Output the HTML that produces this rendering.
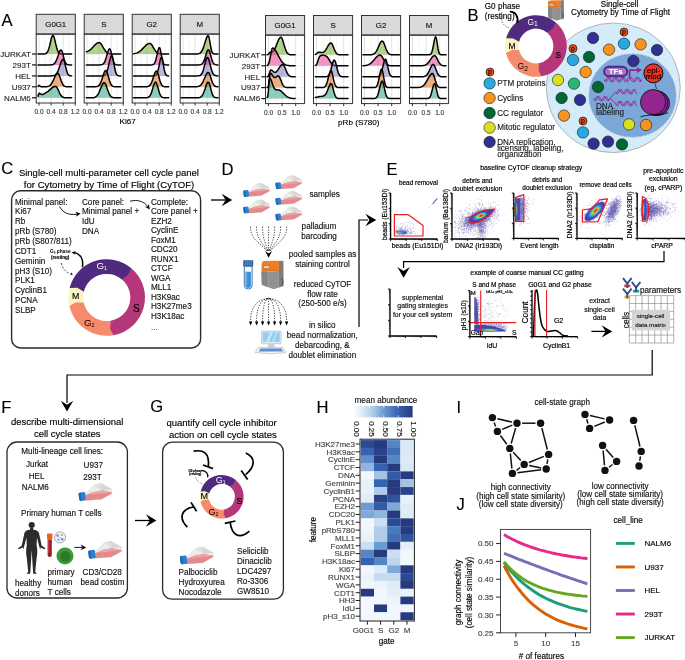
<!DOCTYPE html>
<html><head><meta charset="utf-8"><title>Figure</title>
<style>
html,body{margin:0;padding:0;background:#fff;}
svg{display:block;}
svg text{font-family:'Liberation Sans', sans-serif;}
</style></head><body>
<svg width="685" height="660" viewBox="0 0 685 660">
<defs>
<filter id="b2" x="-40%" y="-40%" width="180%" height="180%"><feGaussianBlur stdDeviation="1.6"/></filter>
<linearGradient id="hm" x1="0" x2="1" y1="0" y2="0"><stop offset="0" stop-color="#f7fbff"/><stop offset="0.15" stop-color="#d9e8f5"/><stop offset="0.35" stop-color="#a3c3e3"/><stop offset="0.5" stop-color="#6a9bd3"/><stop offset="0.75" stop-color="#3563b0"/><stop offset="1" stop-color="#263a80"/></linearGradient>
<filter id="b1" x="-20%" y="-20%" width="140%" height="140%"><feGaussianBlur stdDeviation="0.45"/></filter>
<symbol id="cytof" viewBox="0 0 16.4 20.8">
  <path d="M12.6,0.5 L15.6,0 L16.2,0.6 L16.4,18.4 L12.9,19.5 Z" fill="#7d7d7d"/>
  <path d="M0.5,1.8 Q0.7,0.5 2.4,0.4 L12.2,0.2 L12.9,0.7 L12.9,7.7 L0.3,8.3 Z" fill="#f07d23"/>
  <path d="M2.4,0.4 L12.2,0.2 L15.6,0 L6,0.1 Z" fill="#f7a866"/>
  <path d="M0.3,8.3 L12.9,7.7 L12.9,19.5 L9.2,20.8 L0.6,17.6 Z" fill="#919191"/>
  <path d="M0.3,8.3 L4.4,8.1 L4.6,19.1 L0.6,17.6 Z" fill="#858585"/>
  <path d="M5.6,8.05 L5.8,19.5" stroke="#a6a6a6" stroke-width="0.4" fill="none"/>
  <rect x="1.7" y="3.8" width="4.2" height="1.9" fill="#d9d9d9" stroke="#8a5a2c" stroke-width="0.3"/>
  <path d="M0.8,7.4 L12.6,6.9" stroke="#d96a17" stroke-width="0.5" fill="none"/>
  <path d="M14.6,13 C16,13.6 16.2,16.6 14.8,17.6" stroke="#222" stroke-width="0.45" fill="none"/>
</symbol>
<symbol id="flask" viewBox="0 0 27.3 14.3">
  <path d="M5.6,9.2 L13.1,1.7 L18.4,0.2 L27,5 L27.1,8.3 L19,12.9 L6,13.9 Z" fill="#ececec" stroke="#d2d2d2" stroke-width="0.35"/>
  <path d="M13.1,1.7 L18.4,0.2 L27,5 L19.2,6 Z" fill="#e0e0e0"/>
  <path d="M18.4,0.2 L19.2,6 L27,5 Z" fill="#d6d6d6"/>
  <path d="M6.2,9.8 L12,7.4 L19.2,6 L27,7.4 L27.1,8.3 L19,12.9 L6,13.9 Z" fill="#e58a8c"/>
  <path d="M12,7.4 L19.2,6 L27,7.4 L19.4,8.4 L9,9.4 Z" fill="#eea3a4"/>
  <path d="M0.7,9.2 Q0.3,8 1.5,7.7 L4.6,7.2 Q5.8,7.1 6,8.3 L6.5,12.6 Q6.6,13.8 5.4,14 L2.6,14.3 Q1.4,14.3 1.2,13.2 Z" fill="#2f80cc"/>
  <path d="M0.7,9.2 Q0.3,8 1.5,7.7 L2.4,7.55 L3.4,14.2 L2.6,14.3 Q1.4,14.3 1.2,13.2 Z" fill="#2268b0"/>
</symbol>
</defs>
<rect width="685" height="660" fill="#fff"/>
<g id="panelA">
<text x="1.40" y="25.70" font-size="16.6" text-anchor="start" fill="#000" stroke="#000" stroke-width="0.14">A</text>
<rect x="36.2" y="34.1" width="39.1" height="68.9" fill="#fff"/>
<line x1="45.04" y1="34.1" x2="45.04" y2="103.0" stroke="#ececec" stroke-width="0.6"/>
<line x1="57.12" y1="34.1" x2="57.12" y2="103.0" stroke="#ececec" stroke-width="0.6"/>
<line x1="69.20" y1="34.1" x2="69.20" y2="103.0" stroke="#ececec" stroke-width="0.6"/>
<line x1="39.00" y1="34.1" x2="39.00" y2="103.0" stroke="#e0e0e0" stroke-width="0.9"/>
<line x1="51.08" y1="34.1" x2="51.08" y2="103.0" stroke="#e0e0e0" stroke-width="0.9"/>
<line x1="63.16" y1="34.1" x2="63.16" y2="103.0" stroke="#e0e0e0" stroke-width="0.9"/>
<line x1="75.24" y1="34.1" x2="75.24" y2="103.0" stroke="#e0e0e0" stroke-width="0.9"/>
<line x1="36.2" y1="54" x2="75.30000000000001" y2="54" stroke="#ebebeb" stroke-width="0.8"/>
<line x1="36.2" y1="64.9" x2="75.30000000000001" y2="64.9" stroke="#ebebeb" stroke-width="0.8"/>
<line x1="36.2" y1="75.9" x2="75.30000000000001" y2="75.9" stroke="#ebebeb" stroke-width="0.8"/>
<line x1="36.2" y1="86.8" x2="75.30000000000001" y2="86.8" stroke="#ebebeb" stroke-width="0.8"/>
<line x1="36.2" y1="97.8" x2="75.30000000000001" y2="97.8" stroke="#ebebeb" stroke-width="0.8"/>
<polygon points="38.0,54 38.0,54.00 38.8,54.00 39.7,54.00 40.5,54.00 41.4,54.00 42.2,54.00 43.0,53.99 43.9,53.96 44.7,53.88 45.6,53.69 46.4,53.24 47.2,52.35 48.1,50.79 48.9,48.38 49.8,45.16 50.6,41.51 51.4,38.15 52.3,35.92 53.1,35.47 54.0,36.94 54.8,39.89 55.6,43.51 56.5,47.00 57.3,49.80 58.2,51.74 59.0,52.90 59.8,53.52 60.7,53.81 61.5,53.93 62.4,53.98 63.2,53.99 64.0,54.00 64.9,54.00 65.7,54.00 66.6,54.00 67.4,54.00 68.2,54.00 69.1,54.00 69.9,54.00 70.8,54.00 71.6,54.00 71.6,54" fill="#66A61E" fill-opacity="0.5"/>
<polyline points="38.0,54.00 38.8,54.00 39.7,54.00 40.5,54.00 41.4,54.00 42.2,54.00 43.0,53.99 43.9,53.96 44.7,53.88 45.6,53.69 46.4,53.24 47.2,52.35 48.1,50.79 48.9,48.38 49.8,45.16 50.6,41.51 51.4,38.15 52.3,35.92 53.1,35.47 54.0,36.94 54.8,39.89 55.6,43.51 56.5,47.00 57.3,49.80 58.2,51.74 59.0,52.90 59.8,53.52 60.7,53.81 61.5,53.93 62.4,53.98 63.2,53.99 64.0,54.00 64.9,54.00 65.7,54.00 66.6,54.00 67.4,54.00 68.2,54.00 69.1,54.00 69.9,54.00 70.8,54.00 71.6,54.00" fill="none" stroke="#000" stroke-width="1.5" stroke-linejoin="round" stroke-linecap="round"/>
<polygon points="38.0,64.9 38.0,64.90 38.8,64.90 39.7,64.90 40.5,64.90 41.4,64.90 42.2,64.90 43.0,64.90 43.9,64.90 44.7,64.90 45.6,64.90 46.4,64.90 47.2,64.90 48.1,64.90 48.9,64.90 49.8,64.89 50.6,64.86 51.4,64.80 52.3,64.68 53.1,64.42 54.0,63.94 54.8,63.13 55.6,61.88 56.5,60.12 57.3,57.89 58.2,55.40 59.0,52.98 59.8,51.05 60.7,50.01 61.5,50.22 62.4,52.22 63.2,55.36 64.0,58.64 64.9,61.32 65.7,63.12 66.6,64.13 67.4,64.61 68.2,64.80 69.1,64.87 69.9,64.89 70.8,64.90 71.6,64.90 71.6,64.9" fill="#E7298A" fill-opacity="0.5"/>
<polyline points="38.0,64.90 38.8,64.90 39.7,64.90 40.5,64.90 41.4,64.90 42.2,64.90 43.0,64.90 43.9,64.90 44.7,64.90 45.6,64.90 46.4,64.90 47.2,64.90 48.1,64.90 48.9,64.90 49.8,64.89 50.6,64.86 51.4,64.80 52.3,64.68 53.1,64.42 54.0,63.94 54.8,63.13 55.6,61.88 56.5,60.12 57.3,57.89 58.2,55.40 59.0,52.98 59.8,51.05 60.7,50.01 61.5,50.22 62.4,52.22 63.2,55.36 64.0,58.64 64.9,61.32 65.7,63.12 66.6,64.13 67.4,64.61 68.2,64.80 69.1,64.87 69.9,64.89 70.8,64.90 71.6,64.90" fill="none" stroke="#000" stroke-width="1.5" stroke-linejoin="round" stroke-linecap="round"/>
<polygon points="38.0,75.9 38.0,75.90 38.8,75.90 39.7,75.90 40.5,75.90 41.4,75.90 42.2,75.90 43.0,75.90 43.9,75.90 44.7,75.90 45.6,75.90 46.4,75.90 47.2,75.90 48.1,75.90 48.9,75.90 49.8,75.90 50.6,75.89 51.4,75.87 52.3,75.82 53.1,75.73 54.0,75.54 54.8,75.19 55.6,74.60 56.5,73.68 57.3,72.32 58.2,70.49 59.0,68.23 59.8,65.70 60.7,63.19 61.5,61.03 62.4,59.58 63.2,59.10 64.0,60.32 64.9,63.31 65.7,67.03 66.6,70.45 67.4,72.99 68.2,74.54 69.1,75.35 69.9,75.70 70.8,75.84 71.6,75.88 71.6,75.9" fill="#7570B3" fill-opacity="0.5"/>
<polyline points="38.0,75.90 38.8,75.90 39.7,75.90 40.5,75.90 41.4,75.90 42.2,75.90 43.0,75.90 43.9,75.90 44.7,75.90 45.6,75.90 46.4,75.90 47.2,75.90 48.1,75.90 48.9,75.90 49.8,75.90 50.6,75.89 51.4,75.87 52.3,75.82 53.1,75.73 54.0,75.54 54.8,75.19 55.6,74.60 56.5,73.68 57.3,72.32 58.2,70.49 59.0,68.23 59.8,65.70 60.7,63.19 61.5,61.03 62.4,59.58 63.2,59.10 64.0,60.32 64.9,63.31 65.7,67.03 66.6,70.45 67.4,72.99 68.2,74.54 69.1,75.35 69.9,75.70 70.8,75.84 71.6,75.88" fill="none" stroke="#000" stroke-width="1.5" stroke-linejoin="round" stroke-linecap="round"/>
<polygon points="38.0,86.8 38.0,86.42 38.8,85.35 39.7,85.67 40.5,86.43 41.4,86.75 42.2,86.80 43.0,86.80 43.9,86.79 44.7,86.78 45.6,86.75 46.4,86.70 47.2,86.59 48.1,86.41 48.9,86.09 49.8,85.58 50.6,84.83 51.4,83.78 52.3,82.40 53.1,80.73 54.0,78.87 54.8,76.98 55.6,75.27 56.5,73.98 57.3,73.28 58.2,73.37 59.0,74.62 59.8,76.76 60.7,79.27 61.5,81.67 62.4,83.62 63.2,85.01 64.0,85.89 64.9,86.38 65.7,86.62 66.6,86.73 67.4,86.78 68.2,86.79 69.1,86.80 69.9,86.80 70.8,86.80 71.6,86.80 71.6,86.8" fill="#D95F02" fill-opacity="0.5"/>
<polyline points="38.0,86.42 38.8,85.35 39.7,85.67 40.5,86.43 41.4,86.75 42.2,86.80 43.0,86.80 43.9,86.79 44.7,86.78 45.6,86.75 46.4,86.70 47.2,86.59 48.1,86.41 48.9,86.09 49.8,85.58 50.6,84.83 51.4,83.78 52.3,82.40 53.1,80.73 54.0,78.87 54.8,76.98 55.6,75.27 56.5,73.98 57.3,73.28 58.2,73.37 59.0,74.62 59.8,76.76 60.7,79.27 61.5,81.67 62.4,83.62 63.2,85.01 64.0,85.89 64.9,86.38 65.7,86.62 66.6,86.73 67.4,86.78 68.2,86.79 69.1,86.80 69.9,86.80 70.8,86.80 71.6,86.80" fill="none" stroke="#000" stroke-width="1.5" stroke-linejoin="round" stroke-linecap="round"/>
<polygon points="38.0,97.8 38.0,96.29 38.8,93.50 39.7,93.33 40.5,93.91 41.4,94.47 42.2,94.58 43.0,94.32 43.9,93.89 44.7,93.43 45.6,92.97 46.4,92.48 47.2,91.94 48.1,91.32 48.9,90.63 49.8,89.88 50.6,89.12 51.4,88.39 52.3,87.72 53.1,87.16 54.0,86.74 54.8,86.48 55.6,86.40 56.5,86.86 57.3,88.09 58.2,89.82 59.0,91.73 59.8,93.53 60.7,95.01 61.5,96.12 62.4,96.86 63.2,97.32 64.0,97.57 64.9,97.70 65.7,97.76 66.6,97.78 67.4,97.79 68.2,97.80 69.1,97.80 69.9,97.80 70.8,97.80 71.6,97.80 71.6,97.8" fill="#1B9E77" fill-opacity="0.5"/>
<polyline points="38.0,96.29 38.8,93.50 39.7,93.33 40.5,93.91 41.4,94.47 42.2,94.58 43.0,94.32 43.9,93.89 44.7,93.43 45.6,92.97 46.4,92.48 47.2,91.94 48.1,91.32 48.9,90.63 49.8,89.88 50.6,89.12 51.4,88.39 52.3,87.72 53.1,87.16 54.0,86.74 54.8,86.48 55.6,86.40 56.5,86.86 57.3,88.09 58.2,89.82 59.0,91.73 59.8,93.53 60.7,95.01 61.5,96.12 62.4,96.86 63.2,97.32 64.0,97.57 64.9,97.70 65.7,97.76 66.6,97.78 67.4,97.79 68.2,97.80 69.1,97.80 69.9,97.80 70.8,97.80 71.6,97.80" fill="none" stroke="#000" stroke-width="1.5" stroke-linejoin="round" stroke-linecap="round"/>
<rect x="36.2" y="14.3" width="39.1" height="19.8" fill="#d9d9d9" stroke="#333" stroke-width="1"/>
<rect x="36.2" y="34.1" width="39.1" height="68.9" fill="none" stroke="#333" stroke-width="1"/>
<text x="55.75" y="26.80" font-size="7.85" text-anchor="middle" fill="#111" stroke="#111" stroke-width="0.14">G0G1</text>
<line x1="39.00" y1="103.0" x2="39.00" y2="105.6" stroke="#222" stroke-width="0.9"/>
<text x="39.00" y="114.20" font-size="6.5" text-anchor="middle" fill="#3a3a3a" stroke="#3a3a3a" stroke-width="0.14">0.0</text>
<line x1="51.08" y1="103.0" x2="51.08" y2="105.6" stroke="#222" stroke-width="0.9"/>
<text x="51.08" y="114.20" font-size="6.5" text-anchor="middle" fill="#3a3a3a" stroke="#3a3a3a" stroke-width="0.14">0.4</text>
<line x1="63.16" y1="103.0" x2="63.16" y2="105.6" stroke="#222" stroke-width="0.9"/>
<text x="63.16" y="114.20" font-size="6.5" text-anchor="middle" fill="#3a3a3a" stroke="#3a3a3a" stroke-width="0.14">0.8</text>
<line x1="75.24" y1="103.0" x2="75.24" y2="105.6" stroke="#222" stroke-width="0.9"/>
<text x="75.24" y="114.20" font-size="6.5" text-anchor="middle" fill="#3a3a3a" stroke="#3a3a3a" stroke-width="0.14">1.2</text>
<rect x="84.2" y="34.1" width="39.1" height="68.9" fill="#fff"/>
<line x1="93.04" y1="34.1" x2="93.04" y2="103.0" stroke="#ececec" stroke-width="0.6"/>
<line x1="105.12" y1="34.1" x2="105.12" y2="103.0" stroke="#ececec" stroke-width="0.6"/>
<line x1="117.20" y1="34.1" x2="117.20" y2="103.0" stroke="#ececec" stroke-width="0.6"/>
<line x1="87.00" y1="34.1" x2="87.00" y2="103.0" stroke="#e0e0e0" stroke-width="0.9"/>
<line x1="99.08" y1="34.1" x2="99.08" y2="103.0" stroke="#e0e0e0" stroke-width="0.9"/>
<line x1="111.16" y1="34.1" x2="111.16" y2="103.0" stroke="#e0e0e0" stroke-width="0.9"/>
<line x1="123.24" y1="34.1" x2="123.24" y2="103.0" stroke="#e0e0e0" stroke-width="0.9"/>
<line x1="84.2" y1="54" x2="123.30000000000001" y2="54" stroke="#ebebeb" stroke-width="0.8"/>
<line x1="84.2" y1="64.9" x2="123.30000000000001" y2="64.9" stroke="#ebebeb" stroke-width="0.8"/>
<line x1="84.2" y1="75.9" x2="123.30000000000001" y2="75.9" stroke="#ebebeb" stroke-width="0.8"/>
<line x1="84.2" y1="86.8" x2="123.30000000000001" y2="86.8" stroke="#ebebeb" stroke-width="0.8"/>
<line x1="84.2" y1="97.8" x2="123.30000000000001" y2="97.8" stroke="#ebebeb" stroke-width="0.8"/>
<polygon points="86.4,54 86.4,51.79 87.3,51.48 88.1,51.12 89.0,50.67 89.8,50.11 90.7,49.42 91.6,48.62 92.4,47.72 93.3,46.78 94.1,45.82 95.0,44.92 95.9,44.11 96.7,43.44 97.6,42.95 98.4,42.66 99.3,42.62 100.2,43.02 101.0,43.91 101.9,45.16 102.7,46.62 103.6,48.12 104.5,49.54 105.3,50.78 106.2,51.78 107.0,52.54 107.9,53.09 108.8,53.45 109.6,53.69 110.5,53.83 111.3,53.91 112.2,53.96 113.1,53.98 113.9,53.99 114.8,54.00 115.6,54.00 116.5,54.00 117.4,54.00 118.2,54.00 119.1,54.00 119.9,54.00 120.8,54.00 120.8,54" fill="#66A61E" fill-opacity="0.5"/>
<polyline points="86.4,51.79 87.3,51.48 88.1,51.12 89.0,50.67 89.8,50.11 90.7,49.42 91.6,48.62 92.4,47.72 93.3,46.78 94.1,45.82 95.0,44.92 95.9,44.11 96.7,43.44 97.6,42.95 98.4,42.66 99.3,42.62 100.2,43.02 101.0,43.91 101.9,45.16 102.7,46.62 103.6,48.12 104.5,49.54 105.3,50.78 106.2,51.78 107.0,52.54 107.9,53.09 108.8,53.45 109.6,53.69 110.5,53.83 111.3,53.91 112.2,53.96 113.1,53.98 113.9,53.99 114.8,54.00 115.6,54.00 116.5,54.00 117.4,54.00 118.2,54.00 119.1,54.00 119.9,54.00 120.8,54.00" fill="none" stroke="#000" stroke-width="1.5" stroke-linejoin="round" stroke-linecap="round"/>
<polygon points="86.4,64.9 86.4,64.90 87.3,64.90 88.1,64.90 89.0,64.90 89.8,64.90 90.7,64.90 91.6,64.90 92.4,64.90 93.3,64.90 94.1,64.90 95.0,64.90 95.9,64.90 96.7,64.90 97.6,64.90 98.4,64.90 99.3,64.89 100.2,64.86 101.0,64.80 101.9,64.63 102.7,64.26 103.6,63.54 104.5,62.28 105.3,60.35 106.2,57.73 107.0,54.68 107.9,51.73 108.8,49.55 109.6,48.70 110.5,49.90 111.3,53.13 112.2,57.07 113.1,60.49 113.9,62.79 114.8,64.05 115.6,64.61 116.5,64.81 117.4,64.88 118.2,64.90 119.1,64.90 119.9,64.90 120.8,64.90 120.8,64.9" fill="#E7298A" fill-opacity="0.5"/>
<polyline points="86.4,64.90 87.3,64.90 88.1,64.90 89.0,64.90 89.8,64.90 90.7,64.90 91.6,64.90 92.4,64.90 93.3,64.90 94.1,64.90 95.0,64.90 95.9,64.90 96.7,64.90 97.6,64.90 98.4,64.90 99.3,64.89 100.2,64.86 101.0,64.80 101.9,64.63 102.7,64.26 103.6,63.54 104.5,62.28 105.3,60.35 106.2,57.73 107.0,54.68 107.9,51.73 108.8,49.55 109.6,48.70 110.5,49.90 111.3,53.13 112.2,57.07 113.1,60.49 113.9,62.79 114.8,64.05 115.6,64.61 116.5,64.81 117.4,64.88 118.2,64.90 119.1,64.90 119.9,64.90 120.8,64.90" fill="none" stroke="#000" stroke-width="1.5" stroke-linejoin="round" stroke-linecap="round"/>
<polygon points="86.4,75.9 86.4,75.90 87.3,75.90 88.1,75.90 89.0,75.90 89.8,75.90 90.7,75.90 91.6,75.90 92.4,75.90 93.3,75.90 94.1,75.90 95.0,75.90 95.9,75.90 96.7,75.90 97.6,75.90 98.4,75.90 99.3,75.90 100.2,75.90 101.0,75.89 101.9,75.87 102.7,75.82 103.6,75.68 104.5,75.35 105.3,74.67 106.2,73.43 107.0,71.40 107.9,68.47 108.8,64.82 109.6,60.95 110.5,57.65 111.3,55.75 112.2,55.93 113.1,58.99 113.9,63.77 114.8,68.53 115.6,72.10 116.5,74.24 117.4,75.29 118.2,75.71 119.1,75.85 119.9,75.89 120.8,75.90 120.8,75.9" fill="#7570B3" fill-opacity="0.5"/>
<polyline points="86.4,75.90 87.3,75.90 88.1,75.90 89.0,75.90 89.8,75.90 90.7,75.90 91.6,75.90 92.4,75.90 93.3,75.90 94.1,75.90 95.0,75.90 95.9,75.90 96.7,75.90 97.6,75.90 98.4,75.90 99.3,75.90 100.2,75.90 101.0,75.89 101.9,75.87 102.7,75.82 103.6,75.68 104.5,75.35 105.3,74.67 106.2,73.43 107.0,71.40 107.9,68.47 108.8,64.82 109.6,60.95 110.5,57.65 111.3,55.75 112.2,55.93 113.1,58.99 113.9,63.77 114.8,68.53 115.6,72.10 116.5,74.24 117.4,75.29 118.2,75.71 119.1,75.85 119.9,75.89 120.8,75.90" fill="none" stroke="#000" stroke-width="1.5" stroke-linejoin="round" stroke-linecap="round"/>
<polygon points="86.4,86.8 86.4,86.80 87.3,86.80 88.1,86.80 89.0,86.80 89.8,86.80 90.7,86.80 91.6,86.80 92.4,86.80 93.3,86.80 94.1,86.79 95.0,86.77 95.9,86.72 96.7,86.61 97.6,86.37 98.4,85.91 99.3,85.09 100.2,83.80 101.0,81.92 101.9,79.50 102.7,76.73 103.6,73.99 104.5,71.78 105.3,70.55 106.2,70.63 107.0,72.21 107.9,74.90 108.8,78.01 109.6,80.93 110.5,83.25 111.3,84.86 112.2,85.84 113.1,86.37 113.9,86.63 114.8,86.74 115.6,86.78 116.5,86.79 117.4,86.80 118.2,86.80 119.1,86.80 119.9,86.80 120.8,86.80 120.8,86.8" fill="#D95F02" fill-opacity="0.5"/>
<polyline points="86.4,86.80 87.3,86.80 88.1,86.80 89.0,86.80 89.8,86.80 90.7,86.80 91.6,86.80 92.4,86.80 93.3,86.80 94.1,86.79 95.0,86.77 95.9,86.72 96.7,86.61 97.6,86.37 98.4,85.91 99.3,85.09 100.2,83.80 101.0,81.92 101.9,79.50 102.7,76.73 103.6,73.99 104.5,71.78 105.3,70.55 106.2,70.63 107.0,72.21 107.9,74.90 108.8,78.01 109.6,80.93 110.5,83.25 111.3,84.86 112.2,85.84 113.1,86.37 113.9,86.63 114.8,86.74 115.6,86.78 116.5,86.79 117.4,86.80 118.2,86.80 119.1,86.80 119.9,86.80 120.8,86.80" fill="none" stroke="#000" stroke-width="1.5" stroke-linejoin="round" stroke-linecap="round"/>
<polygon points="86.4,97.8 86.4,97.80 87.3,97.80 88.1,97.80 89.0,97.80 89.8,97.79 90.7,97.79 91.6,97.77 92.4,97.72 93.3,97.64 94.1,97.48 95.0,97.20 95.9,96.73 96.7,96.01 97.6,94.95 98.4,93.53 99.3,91.74 100.2,89.67 101.0,87.49 101.9,85.45 102.7,83.81 103.6,82.82 104.5,82.65 105.3,83.59 106.2,85.50 107.0,87.99 107.9,90.58 108.8,92.90 109.6,94.74 110.5,96.03 111.3,96.86 112.2,97.34 113.1,97.59 113.9,97.71 114.8,97.77 115.6,97.79 116.5,97.80 117.4,97.80 118.2,97.80 119.1,97.80 119.9,97.80 120.8,97.80 120.8,97.8" fill="#1B9E77" fill-opacity="0.5"/>
<polyline points="86.4,97.80 87.3,97.80 88.1,97.80 89.0,97.80 89.8,97.79 90.7,97.79 91.6,97.77 92.4,97.72 93.3,97.64 94.1,97.48 95.0,97.20 95.9,96.73 96.7,96.01 97.6,94.95 98.4,93.53 99.3,91.74 100.2,89.67 101.0,87.49 101.9,85.45 102.7,83.81 103.6,82.82 104.5,82.65 105.3,83.59 106.2,85.50 107.0,87.99 107.9,90.58 108.8,92.90 109.6,94.74 110.5,96.03 111.3,96.86 112.2,97.34 113.1,97.59 113.9,97.71 114.8,97.77 115.6,97.79 116.5,97.80 117.4,97.80 118.2,97.80 119.1,97.80 119.9,97.80 120.8,97.80" fill="none" stroke="#000" stroke-width="1.5" stroke-linejoin="round" stroke-linecap="round"/>
<rect x="84.2" y="14.3" width="39.1" height="19.8" fill="#d9d9d9" stroke="#333" stroke-width="1"/>
<rect x="84.2" y="34.1" width="39.1" height="68.9" fill="none" stroke="#333" stroke-width="1"/>
<text x="103.75" y="26.80" font-size="7.85" text-anchor="middle" fill="#111" stroke="#111" stroke-width="0.14">S</text>
<line x1="87.00" y1="103.0" x2="87.00" y2="105.6" stroke="#222" stroke-width="0.9"/>
<text x="87.00" y="114.20" font-size="6.5" text-anchor="middle" fill="#3a3a3a" stroke="#3a3a3a" stroke-width="0.14">0.0</text>
<line x1="99.08" y1="103.0" x2="99.08" y2="105.6" stroke="#222" stroke-width="0.9"/>
<text x="99.08" y="114.20" font-size="6.5" text-anchor="middle" fill="#3a3a3a" stroke="#3a3a3a" stroke-width="0.14">0.4</text>
<line x1="111.16" y1="103.0" x2="111.16" y2="105.6" stroke="#222" stroke-width="0.9"/>
<text x="111.16" y="114.20" font-size="6.5" text-anchor="middle" fill="#3a3a3a" stroke="#3a3a3a" stroke-width="0.14">0.8</text>
<line x1="123.24" y1="103.0" x2="123.24" y2="105.6" stroke="#222" stroke-width="0.9"/>
<text x="123.24" y="114.20" font-size="6.5" text-anchor="middle" fill="#3a3a3a" stroke="#3a3a3a" stroke-width="0.14">1.2</text>
<rect x="132.2" y="34.1" width="39.1" height="68.9" fill="#fff"/>
<line x1="141.04" y1="34.1" x2="141.04" y2="103.0" stroke="#ececec" stroke-width="0.6"/>
<line x1="153.12" y1="34.1" x2="153.12" y2="103.0" stroke="#ececec" stroke-width="0.6"/>
<line x1="165.20" y1="34.1" x2="165.20" y2="103.0" stroke="#ececec" stroke-width="0.6"/>
<line x1="135.00" y1="34.1" x2="135.00" y2="103.0" stroke="#e0e0e0" stroke-width="0.9"/>
<line x1="147.08" y1="34.1" x2="147.08" y2="103.0" stroke="#e0e0e0" stroke-width="0.9"/>
<line x1="159.16" y1="34.1" x2="159.16" y2="103.0" stroke="#e0e0e0" stroke-width="0.9"/>
<line x1="171.24" y1="34.1" x2="171.24" y2="103.0" stroke="#e0e0e0" stroke-width="0.9"/>
<line x1="132.2" y1="54" x2="171.29999999999998" y2="54" stroke="#ebebeb" stroke-width="0.8"/>
<line x1="132.2" y1="64.9" x2="171.29999999999998" y2="64.9" stroke="#ebebeb" stroke-width="0.8"/>
<line x1="132.2" y1="75.9" x2="171.29999999999998" y2="75.9" stroke="#ebebeb" stroke-width="0.8"/>
<line x1="132.2" y1="86.8" x2="171.29999999999998" y2="86.8" stroke="#ebebeb" stroke-width="0.8"/>
<line x1="132.2" y1="97.8" x2="171.29999999999998" y2="97.8" stroke="#ebebeb" stroke-width="0.8"/>
<polygon points="133.6,54 133.6,53.71 134.5,53.58 135.3,53.39 136.2,53.15 137.1,52.84 138.0,52.44 138.8,51.95 139.7,51.36 140.6,50.68 141.5,49.90 142.3,49.04 143.2,48.14 144.1,47.21 145.0,46.29 145.8,45.44 146.7,44.69 147.6,44.08 148.5,43.65 149.3,43.43 150.2,43.47 151.1,44.06 152.0,45.15 152.8,46.56 153.7,48.11 154.6,49.59 155.5,50.89 156.3,51.93 157.2,52.70 158.1,53.23 159.0,53.57 159.8,53.77 160.7,53.89 161.6,53.95 162.5,53.98 163.3,53.99 164.2,54.00 165.1,54.00 166.0,54.00 166.8,54.00 167.7,54.00 168.6,54.00 168.6,54" fill="#66A61E" fill-opacity="0.5"/>
<polyline points="133.6,53.71 134.5,53.58 135.3,53.39 136.2,53.15 137.1,52.84 138.0,52.44 138.8,51.95 139.7,51.36 140.6,50.68 141.5,49.90 142.3,49.04 143.2,48.14 144.1,47.21 145.0,46.29 145.8,45.44 146.7,44.69 147.6,44.08 148.5,43.65 149.3,43.43 150.2,43.47 151.1,44.06 152.0,45.15 152.8,46.56 153.7,48.11 154.6,49.59 155.5,50.89 156.3,51.93 157.2,52.70 158.1,53.23 159.0,53.57 159.8,53.77 160.7,53.89 161.6,53.95 162.5,53.98 163.3,53.99 164.2,54.00 165.1,54.00 166.0,54.00 166.8,54.00 167.7,54.00 168.6,54.00" fill="none" stroke="#000" stroke-width="1.5" stroke-linejoin="round" stroke-linecap="round"/>
<polygon points="133.6,64.9 133.6,64.90 134.5,64.90 135.3,64.90 136.2,64.90 137.1,64.90 138.0,64.90 138.8,64.90 139.7,64.90 140.6,64.90 141.5,64.90 142.3,64.90 143.2,64.90 144.1,64.90 145.0,64.90 145.8,64.90 146.7,64.90 147.6,64.90 148.5,64.90 149.3,64.90 150.2,64.90 151.1,64.88 152.0,64.83 152.8,64.65 153.7,64.19 154.6,63.14 155.5,61.16 156.3,58.05 157.2,54.09 158.1,50.21 159.0,47.70 159.8,47.70 160.7,51.10 161.6,56.13 162.5,60.48 163.3,63.14 164.2,64.34 165.1,64.76 166.0,64.87 166.8,64.90 167.7,64.90 168.6,64.90 168.6,64.9" fill="#E7298A" fill-opacity="0.5"/>
<polyline points="133.6,64.90 134.5,64.90 135.3,64.90 136.2,64.90 137.1,64.90 138.0,64.90 138.8,64.90 139.7,64.90 140.6,64.90 141.5,64.90 142.3,64.90 143.2,64.90 144.1,64.90 145.0,64.90 145.8,64.90 146.7,64.90 147.6,64.90 148.5,64.90 149.3,64.90 150.2,64.90 151.1,64.88 152.0,64.83 152.8,64.65 153.7,64.19 154.6,63.14 155.5,61.16 156.3,58.05 157.2,54.09 158.1,50.21 159.0,47.70 159.8,47.70 160.7,51.10 161.6,56.13 162.5,60.48 163.3,63.14 164.2,64.34 165.1,64.76 166.0,64.87 166.8,64.90 167.7,64.90 168.6,64.90" fill="none" stroke="#000" stroke-width="1.5" stroke-linejoin="round" stroke-linecap="round"/>
<polygon points="133.6,75.9 133.6,75.90 134.5,75.90 135.3,75.90 136.2,75.90 137.1,75.90 138.0,75.90 138.8,75.90 139.7,75.90 140.6,75.90 141.5,75.90 142.3,75.90 143.2,75.90 144.1,75.90 145.0,75.90 145.8,75.90 146.7,75.90 147.6,75.90 148.5,75.90 149.3,75.90 150.2,75.90 151.1,75.90 152.0,75.90 152.8,75.89 153.7,75.85 154.6,75.74 155.5,75.40 156.3,74.59 157.2,72.93 158.1,70.11 159.0,66.18 159.8,61.84 160.7,58.38 161.6,57.10 162.5,59.28 163.3,64.26 164.2,69.44 165.1,73.06 166.0,74.91 166.8,75.63 167.7,75.84 168.6,75.89 168.6,75.9" fill="#7570B3" fill-opacity="0.5"/>
<polyline points="133.6,75.90 134.5,75.90 135.3,75.90 136.2,75.90 137.1,75.90 138.0,75.90 138.8,75.90 139.7,75.90 140.6,75.90 141.5,75.90 142.3,75.90 143.2,75.90 144.1,75.90 145.0,75.90 145.8,75.90 146.7,75.90 147.6,75.90 148.5,75.90 149.3,75.90 150.2,75.90 151.1,75.90 152.0,75.90 152.8,75.89 153.7,75.85 154.6,75.74 155.5,75.40 156.3,74.59 157.2,72.93 158.1,70.11 159.0,66.18 159.8,61.84 160.7,58.38 161.6,57.10 162.5,59.28 163.3,64.26 164.2,69.44 165.1,73.06 166.0,74.91 166.8,75.63 167.7,75.84 168.6,75.89" fill="none" stroke="#000" stroke-width="1.5" stroke-linejoin="round" stroke-linecap="round"/>
<polygon points="133.6,86.8 133.6,86.80 134.5,86.80 135.3,86.80 136.2,86.80 137.1,86.80 138.0,86.80 138.8,86.80 139.7,86.80 140.6,86.80 141.5,86.80 142.3,86.80 143.2,86.80 144.1,86.80 145.0,86.79 145.8,86.77 146.7,86.71 147.6,86.58 148.5,86.31 149.3,85.80 150.2,84.90 151.1,83.49 152.0,81.51 152.8,79.01 153.7,76.26 154.6,73.68 155.5,71.79 156.3,71.01 157.2,71.72 158.1,73.97 159.0,77.09 159.8,80.25 160.7,82.87 161.6,84.70 162.5,85.80 163.3,86.38 164.2,86.64 165.1,86.75 166.0,86.78 166.8,86.80 167.7,86.80 168.6,86.80 168.6,86.8" fill="#D95F02" fill-opacity="0.5"/>
<polyline points="133.6,86.80 134.5,86.80 135.3,86.80 136.2,86.80 137.1,86.80 138.0,86.80 138.8,86.80 139.7,86.80 140.6,86.80 141.5,86.80 142.3,86.80 143.2,86.80 144.1,86.80 145.0,86.79 145.8,86.77 146.7,86.71 147.6,86.58 148.5,86.31 149.3,85.80 150.2,84.90 151.1,83.49 152.0,81.51 152.8,79.01 153.7,76.26 154.6,73.68 155.5,71.79 156.3,71.01 157.2,71.72 158.1,73.97 159.0,77.09 159.8,80.25 160.7,82.87 161.6,84.70 162.5,85.80 163.3,86.38 164.2,86.64 165.1,86.75 166.0,86.78 166.8,86.80 167.7,86.80 168.6,86.80" fill="none" stroke="#000" stroke-width="1.5" stroke-linejoin="round" stroke-linecap="round"/>
<polygon points="133.6,97.8 133.6,97.80 134.5,97.80 135.3,97.80 136.2,97.80 137.1,97.80 138.0,97.80 138.8,97.80 139.7,97.80 140.6,97.80 141.5,97.80 142.3,97.80 143.2,97.80 144.1,97.80 145.0,97.79 145.8,97.77 146.7,97.72 147.6,97.58 148.5,97.26 149.3,96.61 150.2,95.46 151.1,93.63 152.0,91.10 152.8,88.10 153.7,85.15 154.6,82.91 155.5,82.00 156.3,82.77 157.2,85.08 158.1,88.21 159.0,91.36 159.8,93.95 160.7,95.75 161.6,96.83 162.5,97.39 163.3,97.65 164.2,97.75 165.1,97.78 166.0,97.80 166.8,97.80 167.7,97.80 168.6,97.80 168.6,97.8" fill="#1B9E77" fill-opacity="0.5"/>
<polyline points="133.6,97.80 134.5,97.80 135.3,97.80 136.2,97.80 137.1,97.80 138.0,97.80 138.8,97.80 139.7,97.80 140.6,97.80 141.5,97.80 142.3,97.80 143.2,97.80 144.1,97.80 145.0,97.79 145.8,97.77 146.7,97.72 147.6,97.58 148.5,97.26 149.3,96.61 150.2,95.46 151.1,93.63 152.0,91.10 152.8,88.10 153.7,85.15 154.6,82.91 155.5,82.00 156.3,82.77 157.2,85.08 158.1,88.21 159.0,91.36 159.8,93.95 160.7,95.75 161.6,96.83 162.5,97.39 163.3,97.65 164.2,97.75 165.1,97.78 166.0,97.80 166.8,97.80 167.7,97.80 168.6,97.80" fill="none" stroke="#000" stroke-width="1.5" stroke-linejoin="round" stroke-linecap="round"/>
<rect x="132.2" y="14.3" width="39.1" height="19.8" fill="#d9d9d9" stroke="#333" stroke-width="1"/>
<rect x="132.2" y="34.1" width="39.1" height="68.9" fill="none" stroke="#333" stroke-width="1"/>
<text x="151.75" y="26.80" font-size="7.85" text-anchor="middle" fill="#111" stroke="#111" stroke-width="0.14">G2</text>
<line x1="135.00" y1="103.0" x2="135.00" y2="105.6" stroke="#222" stroke-width="0.9"/>
<text x="135.00" y="114.20" font-size="6.5" text-anchor="middle" fill="#3a3a3a" stroke="#3a3a3a" stroke-width="0.14">0.0</text>
<line x1="147.08" y1="103.0" x2="147.08" y2="105.6" stroke="#222" stroke-width="0.9"/>
<text x="147.08" y="114.20" font-size="6.5" text-anchor="middle" fill="#3a3a3a" stroke="#3a3a3a" stroke-width="0.14">0.4</text>
<line x1="159.16" y1="103.0" x2="159.16" y2="105.6" stroke="#222" stroke-width="0.9"/>
<text x="159.16" y="114.20" font-size="6.5" text-anchor="middle" fill="#3a3a3a" stroke="#3a3a3a" stroke-width="0.14">0.8</text>
<line x1="171.24" y1="103.0" x2="171.24" y2="105.6" stroke="#222" stroke-width="0.9"/>
<text x="171.24" y="114.20" font-size="6.5" text-anchor="middle" fill="#3a3a3a" stroke="#3a3a3a" stroke-width="0.14">1.2</text>
<rect x="180.2" y="34.1" width="39.1" height="68.9" fill="#fff"/>
<line x1="189.04" y1="34.1" x2="189.04" y2="103.0" stroke="#ececec" stroke-width="0.6"/>
<line x1="201.12" y1="34.1" x2="201.12" y2="103.0" stroke="#ececec" stroke-width="0.6"/>
<line x1="213.20" y1="34.1" x2="213.20" y2="103.0" stroke="#ececec" stroke-width="0.6"/>
<line x1="183.00" y1="34.1" x2="183.00" y2="103.0" stroke="#e0e0e0" stroke-width="0.9"/>
<line x1="195.08" y1="34.1" x2="195.08" y2="103.0" stroke="#e0e0e0" stroke-width="0.9"/>
<line x1="207.16" y1="34.1" x2="207.16" y2="103.0" stroke="#e0e0e0" stroke-width="0.9"/>
<line x1="219.24" y1="34.1" x2="219.24" y2="103.0" stroke="#e0e0e0" stroke-width="0.9"/>
<line x1="180.2" y1="54" x2="219.29999999999998" y2="54" stroke="#ebebeb" stroke-width="0.8"/>
<line x1="180.2" y1="64.9" x2="219.29999999999998" y2="64.9" stroke="#ebebeb" stroke-width="0.8"/>
<line x1="180.2" y1="75.9" x2="219.29999999999998" y2="75.9" stroke="#ebebeb" stroke-width="0.8"/>
<line x1="180.2" y1="86.8" x2="219.29999999999998" y2="86.8" stroke="#ebebeb" stroke-width="0.8"/>
<line x1="180.2" y1="97.8" x2="219.29999999999998" y2="97.8" stroke="#ebebeb" stroke-width="0.8"/>
<polygon points="181.0,54 181.0,54.00 181.9,54.00 182.8,54.00 183.8,54.00 184.7,54.00 185.6,54.00 186.6,54.00 187.5,54.00 188.4,54.00 189.3,54.00 190.2,54.00 191.2,54.00 192.1,54.00 193.0,54.00 193.9,54.00 194.9,53.99 195.8,53.98 196.7,53.95 197.7,53.88 198.6,53.73 199.5,53.41 200.4,52.82 201.3,51.83 202.3,50.28 203.2,48.12 204.1,45.38 205.1,42.32 206.0,39.35 206.9,36.99 207.8,35.73 208.8,36.38 209.7,40.69 210.6,46.25 211.5,50.52 212.4,52.80 213.4,53.68 214.3,53.93 215.2,53.99 216.2,54.00 217.1,54.00 218.0,54.00 218.0,54" fill="#66A61E" fill-opacity="0.5"/>
<polyline points="181.0,54.00 181.9,54.00 182.8,54.00 183.8,54.00 184.7,54.00 185.6,54.00 186.6,54.00 187.5,54.00 188.4,54.00 189.3,54.00 190.2,54.00 191.2,54.00 192.1,54.00 193.0,54.00 193.9,54.00 194.9,53.99 195.8,53.98 196.7,53.95 197.7,53.88 198.6,53.73 199.5,53.41 200.4,52.82 201.3,51.83 202.3,50.28 203.2,48.12 204.1,45.38 205.1,42.32 206.0,39.35 206.9,36.99 207.8,35.73 208.8,36.38 209.7,40.69 210.6,46.25 211.5,50.52 212.4,52.80 213.4,53.68 214.3,53.93 215.2,53.99 216.2,54.00 217.1,54.00 218.0,54.00" fill="none" stroke="#000" stroke-width="1.5" stroke-linejoin="round" stroke-linecap="round"/>
<polygon points="181.0,64.9 181.0,64.90 181.9,64.90 182.8,64.90 183.8,64.90 184.7,64.90 185.6,64.90 186.6,64.90 187.5,64.90 188.4,64.90 189.3,64.90 190.2,64.90 191.2,64.90 192.1,64.90 193.0,64.90 193.9,64.90 194.9,64.90 195.8,64.90 196.7,64.90 197.7,64.89 198.6,64.88 199.5,64.83 200.4,64.69 201.3,64.36 202.3,63.67 203.2,62.41 204.1,60.41 205.1,57.68 206.0,54.58 206.9,51.76 207.8,50.00 208.8,49.89 209.7,51.77 210.6,54.98 211.5,58.43 212.4,61.25 213.4,63.12 214.3,64.15 215.2,64.63 216.2,64.82 217.1,64.88 218.0,64.89 218.0,64.9" fill="#E7298A" fill-opacity="0.5"/>
<polyline points="181.0,64.90 181.9,64.90 182.8,64.90 183.8,64.90 184.7,64.90 185.6,64.90 186.6,64.90 187.5,64.90 188.4,64.90 189.3,64.90 190.2,64.90 191.2,64.90 192.1,64.90 193.0,64.90 193.9,64.90 194.9,64.90 195.8,64.90 196.7,64.90 197.7,64.89 198.6,64.88 199.5,64.83 200.4,64.69 201.3,64.36 202.3,63.67 203.2,62.41 204.1,60.41 205.1,57.68 206.0,54.58 206.9,51.76 207.8,50.00 208.8,49.89 209.7,51.77 210.6,54.98 211.5,58.43 212.4,61.25 213.4,63.12 214.3,64.15 215.2,64.63 216.2,64.82 217.1,64.88 218.0,64.89" fill="none" stroke="#000" stroke-width="1.5" stroke-linejoin="round" stroke-linecap="round"/>
<polygon points="181.0,75.9 181.0,75.90 181.9,75.90 182.8,75.90 183.8,75.90 184.7,75.90 185.6,75.90 186.6,75.90 187.5,75.90 188.4,75.90 189.3,75.90 190.2,75.90 191.2,75.90 192.1,75.90 193.0,75.90 193.9,75.90 194.9,75.90 195.8,75.90 196.7,75.89 197.7,75.87 198.6,75.81 199.5,75.65 200.4,75.25 201.3,74.42 202.3,72.89 203.2,70.46 204.1,67.15 205.1,63.35 206.0,59.89 206.9,57.69 207.8,57.47 208.8,59.28 209.7,62.55 210.6,66.35 211.5,69.81 212.4,72.45 213.4,74.15 214.3,75.11 215.2,75.59 216.2,75.79 217.1,75.86 218.0,75.89 218.0,75.9" fill="#7570B3" fill-opacity="0.5"/>
<polyline points="181.0,75.90 181.9,75.90 182.8,75.90 183.8,75.90 184.7,75.90 185.6,75.90 186.6,75.90 187.5,75.90 188.4,75.90 189.3,75.90 190.2,75.90 191.2,75.90 192.1,75.90 193.0,75.90 193.9,75.90 194.9,75.90 195.8,75.90 196.7,75.89 197.7,75.87 198.6,75.81 199.5,75.65 200.4,75.25 201.3,74.42 202.3,72.89 203.2,70.46 204.1,67.15 205.1,63.35 206.0,59.89 206.9,57.69 207.8,57.47 208.8,59.28 209.7,62.55 210.6,66.35 211.5,69.81 212.4,72.45 213.4,74.15 214.3,75.11 215.2,75.59 216.2,75.79 217.1,75.86 218.0,75.89" fill="none" stroke="#000" stroke-width="1.5" stroke-linejoin="round" stroke-linecap="round"/>
<polygon points="181.0,86.8 181.0,86.80 181.9,86.80 182.8,86.80 183.8,86.80 184.7,86.80 185.6,86.80 186.6,86.80 187.5,86.80 188.4,86.80 189.3,86.80 190.2,86.80 191.2,86.80 192.1,86.80 193.0,86.80 193.9,86.79 194.9,86.78 195.8,86.76 196.7,86.71 197.7,86.59 198.6,86.38 199.5,86.00 200.4,85.37 201.3,84.41 202.3,83.05 203.2,81.28 204.1,79.19 205.1,76.97 206.0,74.91 206.9,73.32 207.8,72.48 208.8,72.67 209.7,74.33 210.6,77.00 211.5,79.93 212.4,82.52 213.4,84.42 214.3,85.62 215.2,86.28 216.2,86.60 217.1,86.73 218.0,86.78 218.0,86.8" fill="#D95F02" fill-opacity="0.5"/>
<polyline points="181.0,86.80 181.9,86.80 182.8,86.80 183.8,86.80 184.7,86.80 185.6,86.80 186.6,86.80 187.5,86.80 188.4,86.80 189.3,86.80 190.2,86.80 191.2,86.80 192.1,86.80 193.0,86.80 193.9,86.79 194.9,86.78 195.8,86.76 196.7,86.71 197.7,86.59 198.6,86.38 199.5,86.00 200.4,85.37 201.3,84.41 202.3,83.05 203.2,81.28 204.1,79.19 205.1,76.97 206.0,74.91 206.9,73.32 207.8,72.48 208.8,72.67 209.7,74.33 210.6,77.00 211.5,79.93 212.4,82.52 213.4,84.42 214.3,85.62 215.2,86.28 216.2,86.60 217.1,86.73 218.0,86.78" fill="none" stroke="#000" stroke-width="1.5" stroke-linejoin="round" stroke-linecap="round"/>
<polygon points="181.0,97.8 181.0,97.80 181.9,97.80 182.8,97.80 183.8,97.80 184.7,97.80 185.6,97.80 186.6,97.80 187.5,97.80 188.4,97.80 189.3,97.80 190.2,97.80 191.2,97.80 192.1,97.80 193.0,97.80 193.9,97.80 194.9,97.80 195.8,97.80 196.7,97.79 197.7,97.77 198.6,97.70 199.5,97.55 200.4,97.23 201.3,96.61 202.3,95.52 203.2,93.82 204.1,91.49 205.1,88.68 206.0,85.81 206.9,83.43 207.8,82.13 208.8,82.38 209.7,84.63 210.6,88.09 211.5,91.61 212.4,94.40 213.4,96.18 214.3,97.14 215.2,97.56 216.2,97.73 217.1,97.78 218.0,97.80 218.0,97.8" fill="#1B9E77" fill-opacity="0.5"/>
<polyline points="181.0,97.80 181.9,97.80 182.8,97.80 183.8,97.80 184.7,97.80 185.6,97.80 186.6,97.80 187.5,97.80 188.4,97.80 189.3,97.80 190.2,97.80 191.2,97.80 192.1,97.80 193.0,97.80 193.9,97.80 194.9,97.80 195.8,97.80 196.7,97.79 197.7,97.77 198.6,97.70 199.5,97.55 200.4,97.23 201.3,96.61 202.3,95.52 203.2,93.82 204.1,91.49 205.1,88.68 206.0,85.81 206.9,83.43 207.8,82.13 208.8,82.38 209.7,84.63 210.6,88.09 211.5,91.61 212.4,94.40 213.4,96.18 214.3,97.14 215.2,97.56 216.2,97.73 217.1,97.78 218.0,97.80" fill="none" stroke="#000" stroke-width="1.5" stroke-linejoin="round" stroke-linecap="round"/>
<rect x="180.2" y="14.3" width="39.1" height="19.8" fill="#d9d9d9" stroke="#333" stroke-width="1"/>
<rect x="180.2" y="34.1" width="39.1" height="68.9" fill="none" stroke="#333" stroke-width="1"/>
<text x="199.75" y="26.80" font-size="7.85" text-anchor="middle" fill="#111" stroke="#111" stroke-width="0.14">M</text>
<line x1="183.00" y1="103.0" x2="183.00" y2="105.6" stroke="#222" stroke-width="0.9"/>
<text x="183.00" y="114.20" font-size="6.5" text-anchor="middle" fill="#3a3a3a" stroke="#3a3a3a" stroke-width="0.14">0.0</text>
<line x1="195.08" y1="103.0" x2="195.08" y2="105.6" stroke="#222" stroke-width="0.9"/>
<text x="195.08" y="114.20" font-size="6.5" text-anchor="middle" fill="#3a3a3a" stroke="#3a3a3a" stroke-width="0.14">0.4</text>
<line x1="207.16" y1="103.0" x2="207.16" y2="105.6" stroke="#222" stroke-width="0.9"/>
<text x="207.16" y="114.20" font-size="6.5" text-anchor="middle" fill="#3a3a3a" stroke="#3a3a3a" stroke-width="0.14">0.8</text>
<line x1="219.24" y1="103.0" x2="219.24" y2="105.6" stroke="#222" stroke-width="0.9"/>
<text x="219.24" y="114.20" font-size="6.5" text-anchor="middle" fill="#3a3a3a" stroke="#3a3a3a" stroke-width="0.14">1.2</text>
<line x1="32.0" y1="54" x2="36.2" y2="54" stroke="#111" stroke-width="1.2"/>
<text x="30.80" y="56.80" font-size="8.0" text-anchor="end" fill="#2a2a2a" stroke="#2a2a2a" stroke-width="0.14">JURKAT</text>
<line x1="32.0" y1="64.9" x2="36.2" y2="64.9" stroke="#111" stroke-width="1.2"/>
<text x="30.80" y="67.70" font-size="8.0" text-anchor="end" fill="#2a2a2a" stroke="#2a2a2a" stroke-width="0.14">293T</text>
<line x1="32.0" y1="75.9" x2="36.2" y2="75.9" stroke="#111" stroke-width="1.2"/>
<text x="30.80" y="78.70" font-size="8.0" text-anchor="end" fill="#2a2a2a" stroke="#2a2a2a" stroke-width="0.14">HEL</text>
<line x1="32.0" y1="86.8" x2="36.2" y2="86.8" stroke="#111" stroke-width="1.2"/>
<text x="30.80" y="89.60" font-size="8.0" text-anchor="end" fill="#2a2a2a" stroke="#2a2a2a" stroke-width="0.14">U937</text>
<line x1="32.0" y1="97.8" x2="36.2" y2="97.8" stroke="#111" stroke-width="1.2"/>
<text x="30.80" y="100.60" font-size="8.0" text-anchor="end" fill="#2a2a2a" stroke="#2a2a2a" stroke-width="0.14">NALM6</text>
<text x="127.60" y="123.80" font-size="8.1" text-anchor="middle" fill="#000" stroke="#000" stroke-width="0.14">Ki67</text>
<rect x="265.5" y="35.1" width="39.1" height="68.5" fill="#fff"/>
<line x1="275.30" y1="35.1" x2="275.30" y2="103.6" stroke="#ececec" stroke-width="0.6"/>
<line x1="288.90" y1="35.1" x2="288.90" y2="103.6" stroke="#ececec" stroke-width="0.6"/>
<line x1="302.50" y1="35.1" x2="302.50" y2="103.6" stroke="#ececec" stroke-width="0.6"/>
<line x1="268.50" y1="35.1" x2="268.50" y2="103.6" stroke="#e0e0e0" stroke-width="0.9"/>
<line x1="282.10" y1="35.1" x2="282.10" y2="103.6" stroke="#e0e0e0" stroke-width="0.9"/>
<line x1="295.70" y1="35.1" x2="295.70" y2="103.6" stroke="#e0e0e0" stroke-width="0.9"/>
<line x1="265.5" y1="54.8" x2="304.6" y2="54.8" stroke="#ebebeb" stroke-width="0.8"/>
<line x1="265.5" y1="65.8" x2="304.6" y2="65.8" stroke="#ebebeb" stroke-width="0.8"/>
<line x1="265.5" y1="76.8" x2="304.6" y2="76.8" stroke="#ebebeb" stroke-width="0.8"/>
<line x1="265.5" y1="87.6" x2="304.6" y2="87.6" stroke="#ebebeb" stroke-width="0.8"/>
<line x1="265.5" y1="98.6" x2="304.6" y2="98.6" stroke="#ebebeb" stroke-width="0.8"/>
<polygon points="267.1,54.8 267.1,54.74 267.8,54.62 268.5,54.13 269.2,53.07 269.9,52.34 270.6,52.19 271.3,52.09 272.0,51.94 272.7,51.61 273.4,51.02 274.1,50.12 274.8,48.90 275.5,47.41 276.2,45.71 276.9,43.91 277.6,42.11 278.3,40.44 279.0,39.01 279.7,37.95 280.4,37.33 281.1,37.24 281.8,37.97 282.5,39.54 283.2,41.69 283.9,44.14 284.6,46.60 285.3,48.82 286.0,50.68 286.7,52.11 287.4,53.13 288.1,53.82 288.8,54.26 289.5,54.52 290.2,54.66 290.9,54.73 291.6,54.77 292.3,54.79 293.0,54.80 293.7,54.80 294.4,54.80 295.1,54.80 295.1,54.8" fill="#66A61E" fill-opacity="0.5"/>
<polyline points="267.1,54.74 267.8,54.62 268.5,54.13 269.2,53.07 269.9,52.34 270.6,52.19 271.3,52.09 272.0,51.94 272.7,51.61 273.4,51.02 274.1,50.12 274.8,48.90 275.5,47.41 276.2,45.71 276.9,43.91 277.6,42.11 278.3,40.44 279.0,39.01 279.7,37.95 280.4,37.33 281.1,37.24 281.8,37.97 282.5,39.54 283.2,41.69 283.9,44.14 284.6,46.60 285.3,48.82 286.0,50.68 286.7,52.11 287.4,53.13 288.1,53.82 288.8,54.26 289.5,54.52 290.2,54.66 290.9,54.73 291.6,54.77 292.3,54.79 293.0,54.80 293.7,54.80 294.4,54.80 295.1,54.80" fill="none" stroke="#000" stroke-width="1.5" stroke-linejoin="round" stroke-linecap="round"/>
<polygon points="267.1,65.8 267.1,65.52 267.8,65.04 268.5,64.01 269.2,62.12 269.9,59.19 270.6,55.43 271.3,51.60 272.0,48.81 272.7,48.00 273.4,48.20 274.1,48.68 274.8,49.42 275.5,50.39 276.2,51.54 276.9,52.81 277.6,54.17 278.3,55.56 279.0,56.93 279.7,58.24 280.4,59.47 281.1,60.58 281.8,61.57 282.5,62.42 283.2,63.15 283.9,63.76 284.6,64.25 285.3,64.64 286.0,64.95 286.7,65.19 287.4,65.36 288.1,65.50 288.8,65.59 289.5,65.66 290.2,65.71 290.9,65.74 291.6,65.76 292.3,65.78 293.0,65.78 293.7,65.79 294.4,65.79 295.1,65.80 295.1,65.8" fill="#E7298A" fill-opacity="0.5"/>
<polyline points="267.1,65.52 267.8,65.04 268.5,64.01 269.2,62.12 269.9,59.19 270.6,55.43 271.3,51.60 272.0,48.81 272.7,48.00 273.4,48.20 274.1,48.68 274.8,49.42 275.5,50.39 276.2,51.54 276.9,52.81 277.6,54.17 278.3,55.56 279.0,56.93 279.7,58.24 280.4,59.47 281.1,60.58 281.8,61.57 282.5,62.42 283.2,63.15 283.9,63.76 284.6,64.25 285.3,64.64 286.0,64.95 286.7,65.19 287.4,65.36 288.1,65.50 288.8,65.59 289.5,65.66 290.2,65.71 290.9,65.74 291.6,65.76 292.3,65.78 293.0,65.78 293.7,65.79 294.4,65.79 295.1,65.80" fill="none" stroke="#000" stroke-width="1.5" stroke-linejoin="round" stroke-linecap="round"/>
<polygon points="267.1,76.8 267.1,76.75 267.8,76.57 268.5,75.86 269.2,74.11 269.9,71.59 270.6,70.05 271.3,70.06 272.0,70.41 272.7,70.98 273.4,71.58 274.1,72.08 274.8,72.34 275.5,72.28 276.2,71.90 276.9,71.22 277.6,70.31 278.3,69.26 279.0,68.15 279.7,67.07 280.4,66.11 281.1,65.34 281.8,64.83 282.5,64.61 283.2,64.81 283.9,65.63 284.6,66.95 285.3,68.57 286.0,70.30 286.7,71.93 287.4,73.35 288.1,74.49 288.8,75.33 289.5,75.92 290.2,76.30 290.9,76.53 291.6,76.66 292.3,76.73 293.0,76.77 293.7,76.79 294.4,76.79 295.1,76.80 295.1,76.8" fill="#7570B3" fill-opacity="0.5"/>
<polyline points="267.1,76.75 267.8,76.57 268.5,75.86 269.2,74.11 269.9,71.59 270.6,70.05 271.3,70.06 272.0,70.41 272.7,70.98 273.4,71.58 274.1,72.08 274.8,72.34 275.5,72.28 276.2,71.90 276.9,71.22 277.6,70.31 278.3,69.26 279.0,68.15 279.7,67.07 280.4,66.11 281.1,65.34 281.8,64.83 282.5,64.61 283.2,64.81 283.9,65.63 284.6,66.95 285.3,68.57 286.0,70.30 286.7,71.93 287.4,73.35 288.1,74.49 288.8,75.33 289.5,75.92 290.2,76.30 290.9,76.53 291.6,76.66 292.3,76.73 293.0,76.77 293.7,76.79 294.4,76.79 295.1,76.80" fill="none" stroke="#000" stroke-width="1.5" stroke-linejoin="round" stroke-linecap="round"/>
<polygon points="267.1,87.6 267.1,87.51 267.8,87.23 268.5,85.52 269.2,80.15 269.9,73.95 270.6,73.22 271.3,73.66 272.0,74.57 272.7,75.66 273.4,76.62 274.1,77.25 274.8,77.44 275.5,77.25 276.2,76.83 276.9,76.35 277.6,76.01 278.3,75.95 279.0,76.42 279.7,77.51 280.4,79.07 281.1,80.85 281.8,82.59 282.5,84.12 283.2,85.34 283.9,86.23 284.6,86.82 285.3,87.18 286.0,87.39 286.7,87.50 287.4,87.56 288.1,87.58 288.8,87.59 289.5,87.60 290.2,87.60 290.9,87.60 291.6,87.60 292.3,87.60 293.0,87.60 293.7,87.60 294.4,87.60 295.1,87.60 295.1,87.6" fill="#D95F02" fill-opacity="0.5"/>
<polyline points="267.1,87.51 267.8,87.23 268.5,85.52 269.2,80.15 269.9,73.95 270.6,73.22 271.3,73.66 272.0,74.57 272.7,75.66 273.4,76.62 274.1,77.25 274.8,77.44 275.5,77.25 276.2,76.83 276.9,76.35 277.6,76.01 278.3,75.95 279.0,76.42 279.7,77.51 280.4,79.07 281.1,80.85 281.8,82.59 282.5,84.12 283.2,85.34 283.9,86.23 284.6,86.82 285.3,87.18 286.0,87.39 286.7,87.50 287.4,87.56 288.1,87.58 288.8,87.59 289.5,87.60 290.2,87.60 290.9,87.60 291.6,87.60 292.3,87.60 293.0,87.60 293.7,87.60 294.4,87.60 295.1,87.60" fill="none" stroke="#000" stroke-width="1.5" stroke-linejoin="round" stroke-linecap="round"/>
<polygon points="267.1,98.6 267.1,97.52 267.8,96.32 268.5,90.14 269.2,79.67 269.9,78.23 270.6,78.97 271.3,80.54 272.0,82.59 272.7,84.71 273.4,86.58 274.1,88.03 274.8,89.00 275.5,89.54 276.2,89.78 276.9,89.85 277.6,89.87 278.3,89.91 279.0,90.04 279.7,90.30 280.4,90.68 281.1,91.18 281.8,91.77 282.5,92.43 283.2,93.12 283.9,93.83 284.6,94.52 285.3,95.17 286.0,95.77 286.7,96.31 287.4,96.78 288.1,97.18 288.8,97.51 289.5,97.78 290.2,98.00 290.9,98.16 291.6,98.29 292.3,98.38 293.0,98.45 293.7,98.50 294.4,98.53 295.1,98.56 295.1,98.6" fill="#1B9E77" fill-opacity="0.5"/>
<polyline points="267.1,97.52 267.8,96.32 268.5,90.14 269.2,79.67 269.9,78.23 270.6,78.97 271.3,80.54 272.0,82.59 272.7,84.71 273.4,86.58 274.1,88.03 274.8,89.00 275.5,89.54 276.2,89.78 276.9,89.85 277.6,89.87 278.3,89.91 279.0,90.04 279.7,90.30 280.4,90.68 281.1,91.18 281.8,91.77 282.5,92.43 283.2,93.12 283.9,93.83 284.6,94.52 285.3,95.17 286.0,95.77 286.7,96.31 287.4,96.78 288.1,97.18 288.8,97.51 289.5,97.78 290.2,98.00 290.9,98.16 291.6,98.29 292.3,98.38 293.0,98.45 293.7,98.50 294.4,98.53 295.1,98.56" fill="none" stroke="#000" stroke-width="1.5" stroke-linejoin="round" stroke-linecap="round"/>
<rect x="265.5" y="15.5" width="39.1" height="19.6" fill="#d9d9d9" stroke="#333" stroke-width="1"/>
<rect x="265.5" y="35.1" width="39.1" height="68.5" fill="none" stroke="#333" stroke-width="1"/>
<text x="285.05" y="27.90" font-size="7.85" text-anchor="middle" fill="#111" stroke="#111" stroke-width="0.14">G0G1</text>
<line x1="268.50" y1="103.6" x2="268.50" y2="106.19999999999999" stroke="#222" stroke-width="0.9"/>
<text x="268.50" y="114.90" font-size="6.5" text-anchor="middle" fill="#3a3a3a" stroke="#3a3a3a" stroke-width="0.14">0.0</text>
<line x1="282.10" y1="103.6" x2="282.10" y2="106.19999999999999" stroke="#222" stroke-width="0.9"/>
<text x="282.10" y="114.90" font-size="6.5" text-anchor="middle" fill="#3a3a3a" stroke="#3a3a3a" stroke-width="0.14">0.5</text>
<line x1="295.70" y1="103.6" x2="295.70" y2="106.19999999999999" stroke="#222" stroke-width="0.9"/>
<text x="295.70" y="114.90" font-size="6.5" text-anchor="middle" fill="#3a3a3a" stroke="#3a3a3a" stroke-width="0.14">1.0</text>
<rect x="313.5" y="35.1" width="39.1" height="68.5" fill="#fff"/>
<line x1="323.30" y1="35.1" x2="323.30" y2="103.6" stroke="#ececec" stroke-width="0.6"/>
<line x1="336.90" y1="35.1" x2="336.90" y2="103.6" stroke="#ececec" stroke-width="0.6"/>
<line x1="350.50" y1="35.1" x2="350.50" y2="103.6" stroke="#ececec" stroke-width="0.6"/>
<line x1="316.50" y1="35.1" x2="316.50" y2="103.6" stroke="#e0e0e0" stroke-width="0.9"/>
<line x1="330.10" y1="35.1" x2="330.10" y2="103.6" stroke="#e0e0e0" stroke-width="0.9"/>
<line x1="343.70" y1="35.1" x2="343.70" y2="103.6" stroke="#e0e0e0" stroke-width="0.9"/>
<line x1="313.5" y1="54.8" x2="352.6" y2="54.8" stroke="#ebebeb" stroke-width="0.8"/>
<line x1="313.5" y1="65.8" x2="352.6" y2="65.8" stroke="#ebebeb" stroke-width="0.8"/>
<line x1="313.5" y1="76.8" x2="352.6" y2="76.8" stroke="#ebebeb" stroke-width="0.8"/>
<line x1="313.5" y1="87.6" x2="352.6" y2="87.6" stroke="#ebebeb" stroke-width="0.8"/>
<line x1="313.5" y1="98.6" x2="352.6" y2="98.6" stroke="#ebebeb" stroke-width="0.8"/>
<polygon points="315.4,54.8 315.4,54.45 316.2,53.96 317.0,53.22 317.8,52.48 318.7,52.13 319.5,52.15 320.3,52.26 321.1,52.40 321.9,52.49 322.7,52.43 323.5,52.13 324.4,51.54 325.2,50.65 326.0,49.47 326.8,48.09 327.6,46.62 328.4,45.22 329.3,44.06 330.1,43.28 330.9,43.00 331.7,43.48 332.5,44.87 333.3,46.84 334.1,48.97 335.0,50.89 335.8,52.41 336.6,53.46 337.4,54.11 338.2,54.48 339.0,54.66 339.8,54.75 340.7,54.78 341.5,54.79 342.3,54.80 343.1,54.80 343.9,54.80 344.7,54.80 345.6,54.80 346.4,54.80 347.2,54.80 348.0,54.80 348.0,54.8" fill="#66A61E" fill-opacity="0.5"/>
<polyline points="315.4,54.45 316.2,53.96 317.0,53.22 317.8,52.48 318.7,52.13 319.5,52.15 320.3,52.26 321.1,52.40 321.9,52.49 322.7,52.43 323.5,52.13 324.4,51.54 325.2,50.65 326.0,49.47 326.8,48.09 327.6,46.62 328.4,45.22 329.3,44.06 330.1,43.28 330.9,43.00 331.7,43.48 332.5,44.87 333.3,46.84 334.1,48.97 335.0,50.89 335.8,52.41 336.6,53.46 337.4,54.11 338.2,54.48 339.0,54.66 339.8,54.75 340.7,54.78 341.5,54.79 342.3,54.80 343.1,54.80 343.9,54.80 344.7,54.80 345.6,54.80 346.4,54.80 347.2,54.80 348.0,54.80" fill="none" stroke="#000" stroke-width="1.5" stroke-linejoin="round" stroke-linecap="round"/>
<polygon points="315.4,65.8 315.4,65.50 316.2,64.90 317.0,63.56 317.8,61.30 318.7,58.60 319.5,56.58 320.3,55.87 321.1,55.51 321.9,55.36 322.7,55.33 323.5,55.35 324.4,55.42 325.2,55.60 326.0,55.94 326.8,56.53 327.6,57.45 328.4,58.64 329.3,59.99 330.1,61.34 330.9,62.58 331.7,63.61 332.5,64.40 333.3,64.96 334.1,65.32 335.0,65.55 335.8,65.67 336.6,65.74 337.4,65.77 338.2,65.79 339.0,65.80 339.8,65.80 340.7,65.80 341.5,65.80 342.3,65.80 343.1,65.80 343.9,65.80 344.7,65.80 345.6,65.80 346.4,65.80 347.2,65.80 348.0,65.80 348.0,65.8" fill="#E7298A" fill-opacity="0.5"/>
<polyline points="315.4,65.50 316.2,64.90 317.0,63.56 317.8,61.30 318.7,58.60 319.5,56.58 320.3,55.87 321.1,55.51 321.9,55.36 322.7,55.33 323.5,55.35 324.4,55.42 325.2,55.60 326.0,55.94 326.8,56.53 327.6,57.45 328.4,58.64 329.3,59.99 330.1,61.34 330.9,62.58 331.7,63.61 332.5,64.40 333.3,64.96 334.1,65.32 335.0,65.55 335.8,65.67 336.6,65.74 337.4,65.77 338.2,65.79 339.0,65.80 339.8,65.80 340.7,65.80 341.5,65.80 342.3,65.80 343.1,65.80 343.9,65.80 344.7,65.80 345.6,65.80 346.4,65.80 347.2,65.80 348.0,65.80" fill="none" stroke="#000" stroke-width="1.5" stroke-linejoin="round" stroke-linecap="round"/>
<polygon points="315.4,76.8 315.4,76.80 316.2,76.80 317.0,76.80 317.8,76.80 318.7,76.80 319.5,76.80 320.3,76.80 321.1,76.80 321.9,76.80 322.7,76.80 323.5,76.80 324.4,76.79 325.2,76.78 326.0,76.74 326.8,76.62 327.6,76.33 328.4,75.72 329.3,74.58 330.1,72.70 330.9,70.01 331.7,66.74 332.5,63.47 333.3,60.98 334.1,60.00 335.0,60.83 335.8,63.21 336.6,66.45 337.4,69.75 338.2,72.50 339.0,74.45 339.8,75.65 340.7,76.30 341.5,76.60 342.3,76.73 343.1,76.78 343.9,76.79 344.7,76.80 345.6,76.80 346.4,76.80 347.2,76.80 348.0,76.80 348.0,76.8" fill="#7570B3" fill-opacity="0.5"/>
<polyline points="315.4,76.80 316.2,76.80 317.0,76.80 317.8,76.80 318.7,76.80 319.5,76.80 320.3,76.80 321.1,76.80 321.9,76.80 322.7,76.80 323.5,76.80 324.4,76.79 325.2,76.78 326.0,76.74 326.8,76.62 327.6,76.33 328.4,75.72 329.3,74.58 330.1,72.70 330.9,70.01 331.7,66.74 332.5,63.47 333.3,60.98 334.1,60.00 335.0,60.83 335.8,63.21 336.6,66.45 337.4,69.75 338.2,72.50 339.0,74.45 339.8,75.65 340.7,76.30 341.5,76.60 342.3,76.73 343.1,76.78 343.9,76.79 344.7,76.80 345.6,76.80 346.4,76.80 347.2,76.80 348.0,76.80" fill="none" stroke="#000" stroke-width="1.5" stroke-linejoin="round" stroke-linecap="round"/>
<polygon points="315.4,87.6 315.4,87.60 316.2,87.60 317.0,87.60 317.8,87.60 318.7,87.60 319.5,87.60 320.3,87.60 321.1,87.59 321.9,87.58 322.7,87.54 323.5,87.41 324.4,87.12 325.2,86.50 326.0,85.32 326.8,83.39 327.6,80.63 328.4,77.29 329.3,73.94 330.1,71.40 330.9,70.40 331.7,71.48 332.5,74.47 333.3,78.30 334.1,81.88 335.0,84.54 335.8,86.18 336.6,87.03 337.4,87.40 338.2,87.54 339.0,87.58 339.8,87.60 340.7,87.60 341.5,87.60 342.3,87.60 343.1,87.60 343.9,87.60 344.7,87.60 345.6,87.60 346.4,87.60 347.2,87.60 348.0,87.60 348.0,87.6" fill="#D95F02" fill-opacity="0.5"/>
<polyline points="315.4,87.60 316.2,87.60 317.0,87.60 317.8,87.60 318.7,87.60 319.5,87.60 320.3,87.60 321.1,87.59 321.9,87.58 322.7,87.54 323.5,87.41 324.4,87.12 325.2,86.50 326.0,85.32 326.8,83.39 327.6,80.63 328.4,77.29 329.3,73.94 330.1,71.40 330.9,70.40 331.7,71.48 332.5,74.47 333.3,78.30 334.1,81.88 335.0,84.54 335.8,86.18 336.6,87.03 337.4,87.40 338.2,87.54 339.0,87.58 339.8,87.60 340.7,87.60 341.5,87.60 342.3,87.60 343.1,87.60 343.9,87.60 344.7,87.60 345.6,87.60 346.4,87.60 347.2,87.60 348.0,87.60" fill="none" stroke="#000" stroke-width="1.5" stroke-linejoin="round" stroke-linecap="round"/>
<polygon points="315.4,98.6 315.4,97.53 316.2,97.34 317.0,97.14 317.8,96.94 318.7,96.76 319.5,96.61 320.3,96.48 321.1,96.38 321.9,96.28 322.7,96.16 323.5,95.94 324.4,95.53 325.2,94.83 326.0,93.72 326.8,92.16 327.6,90.19 328.4,88.01 329.3,85.94 330.1,84.36 330.9,83.60 331.7,84.06 332.5,86.23 333.3,89.42 334.1,92.66 335.0,95.25 335.8,96.94 336.6,97.88 337.4,98.32 338.2,98.50 339.0,98.56 339.8,98.59 340.7,98.59 341.5,98.60 342.3,98.60 343.1,98.60 343.9,98.60 344.7,98.60 345.6,98.60 346.4,98.60 347.2,98.60 348.0,98.60 348.0,98.6" fill="#1B9E77" fill-opacity="0.5"/>
<polyline points="315.4,97.53 316.2,97.34 317.0,97.14 317.8,96.94 318.7,96.76 319.5,96.61 320.3,96.48 321.1,96.38 321.9,96.28 322.7,96.16 323.5,95.94 324.4,95.53 325.2,94.83 326.0,93.72 326.8,92.16 327.6,90.19 328.4,88.01 329.3,85.94 330.1,84.36 330.9,83.60 331.7,84.06 332.5,86.23 333.3,89.42 334.1,92.66 335.0,95.25 335.8,96.94 336.6,97.88 337.4,98.32 338.2,98.50 339.0,98.56 339.8,98.59 340.7,98.59 341.5,98.60 342.3,98.60 343.1,98.60 343.9,98.60 344.7,98.60 345.6,98.60 346.4,98.60 347.2,98.60 348.0,98.60" fill="none" stroke="#000" stroke-width="1.5" stroke-linejoin="round" stroke-linecap="round"/>
<rect x="313.5" y="15.5" width="39.1" height="19.6" fill="#d9d9d9" stroke="#333" stroke-width="1"/>
<rect x="313.5" y="35.1" width="39.1" height="68.5" fill="none" stroke="#333" stroke-width="1"/>
<text x="333.05" y="27.90" font-size="7.85" text-anchor="middle" fill="#111" stroke="#111" stroke-width="0.14">S</text>
<line x1="316.50" y1="103.6" x2="316.50" y2="106.19999999999999" stroke="#222" stroke-width="0.9"/>
<text x="316.50" y="114.90" font-size="6.5" text-anchor="middle" fill="#3a3a3a" stroke="#3a3a3a" stroke-width="0.14">0.0</text>
<line x1="330.10" y1="103.6" x2="330.10" y2="106.19999999999999" stroke="#222" stroke-width="0.9"/>
<text x="330.10" y="114.90" font-size="6.5" text-anchor="middle" fill="#3a3a3a" stroke="#3a3a3a" stroke-width="0.14">0.5</text>
<line x1="343.70" y1="103.6" x2="343.70" y2="106.19999999999999" stroke="#222" stroke-width="0.9"/>
<text x="343.70" y="114.90" font-size="6.5" text-anchor="middle" fill="#3a3a3a" stroke="#3a3a3a" stroke-width="0.14">1.0</text>
<rect x="361.5" y="35.1" width="39.1" height="68.5" fill="#fff"/>
<line x1="371.30" y1="35.1" x2="371.30" y2="103.6" stroke="#ececec" stroke-width="0.6"/>
<line x1="384.90" y1="35.1" x2="384.90" y2="103.6" stroke="#ececec" stroke-width="0.6"/>
<line x1="398.50" y1="35.1" x2="398.50" y2="103.6" stroke="#ececec" stroke-width="0.6"/>
<line x1="364.50" y1="35.1" x2="364.50" y2="103.6" stroke="#e0e0e0" stroke-width="0.9"/>
<line x1="378.10" y1="35.1" x2="378.10" y2="103.6" stroke="#e0e0e0" stroke-width="0.9"/>
<line x1="391.70" y1="35.1" x2="391.70" y2="103.6" stroke="#e0e0e0" stroke-width="0.9"/>
<line x1="361.5" y1="54.8" x2="400.6" y2="54.8" stroke="#ebebeb" stroke-width="0.8"/>
<line x1="361.5" y1="65.8" x2="400.6" y2="65.8" stroke="#ebebeb" stroke-width="0.8"/>
<line x1="361.5" y1="76.8" x2="400.6" y2="76.8" stroke="#ebebeb" stroke-width="0.8"/>
<line x1="361.5" y1="87.6" x2="400.6" y2="87.6" stroke="#ebebeb" stroke-width="0.8"/>
<line x1="361.5" y1="98.6" x2="400.6" y2="98.6" stroke="#ebebeb" stroke-width="0.8"/>
<polygon points="363.0,54.8 363.0,54.80 363.9,54.80 364.8,54.80 365.7,54.80 366.6,54.80 367.6,54.80 368.5,54.79 369.4,54.78 370.3,54.75 371.2,54.69 372.1,54.56 373.0,54.31 373.9,53.88 374.9,53.18 375.8,52.12 376.7,50.67 377.6,48.84 378.5,46.74 379.4,44.61 380.3,42.75 381.2,41.47 382.2,41.00 383.1,41.60 384.0,43.30 384.9,45.67 385.8,48.20 386.7,50.45 387.6,52.19 388.6,53.37 389.5,54.09 390.4,54.48 391.3,54.67 392.2,54.75 393.1,54.78 394.0,54.79 394.9,54.80 395.9,54.80 396.8,54.80 397.7,54.80 398.6,54.80 399.5,54.80 399.5,54.8" fill="#66A61E" fill-opacity="0.5"/>
<polyline points="363.0,54.80 363.9,54.80 364.8,54.80 365.7,54.80 366.6,54.80 367.6,54.80 368.5,54.79 369.4,54.78 370.3,54.75 371.2,54.69 372.1,54.56 373.0,54.31 373.9,53.88 374.9,53.18 375.8,52.12 376.7,50.67 377.6,48.84 378.5,46.74 379.4,44.61 380.3,42.75 381.2,41.47 382.2,41.00 383.1,41.60 384.0,43.30 384.9,45.67 385.8,48.20 386.7,50.45 387.6,52.19 388.6,53.37 389.5,54.09 390.4,54.48 391.3,54.67 392.2,54.75 393.1,54.78 394.0,54.79 394.9,54.80 395.9,54.80 396.8,54.80 397.7,54.80 398.6,54.80 399.5,54.80" fill="none" stroke="#000" stroke-width="1.5" stroke-linejoin="round" stroke-linecap="round"/>
<polygon points="363.0,65.8 363.0,65.72 363.9,65.66 364.8,65.58 365.7,65.45 366.6,65.27 367.6,65.01 368.5,64.66 369.4,64.19 370.3,63.60 371.2,62.87 372.1,62.02 373.0,61.04 373.9,59.99 374.9,58.89 375.8,57.82 376.7,56.83 377.6,56.00 378.5,55.40 379.4,55.06 380.3,55.05 381.2,55.65 382.2,56.84 383.1,58.39 384.0,60.07 384.9,61.66 385.8,63.00 386.7,64.03 387.6,64.75 388.6,65.22 389.5,65.50 390.4,65.65 391.3,65.73 392.2,65.77 393.1,65.79 394.0,65.80 394.9,65.80 395.9,65.80 396.8,65.80 397.7,65.80 398.6,65.80 399.5,65.80 399.5,65.8" fill="#E7298A" fill-opacity="0.5"/>
<polyline points="363.0,65.72 363.9,65.66 364.8,65.58 365.7,65.45 366.6,65.27 367.6,65.01 368.5,64.66 369.4,64.19 370.3,63.60 371.2,62.87 372.1,62.02 373.0,61.04 373.9,59.99 374.9,58.89 375.8,57.82 376.7,56.83 377.6,56.00 378.5,55.40 379.4,55.06 380.3,55.05 381.2,55.65 382.2,56.84 383.1,58.39 384.0,60.07 384.9,61.66 385.8,63.00 386.7,64.03 387.6,64.75 388.6,65.22 389.5,65.50 390.4,65.65 391.3,65.73 392.2,65.77 393.1,65.79 394.0,65.80 394.9,65.80 395.9,65.80 396.8,65.80 397.7,65.80 398.6,65.80 399.5,65.80" fill="none" stroke="#000" stroke-width="1.5" stroke-linejoin="round" stroke-linecap="round"/>
<polygon points="363.0,76.8 363.0,76.80 363.9,76.80 364.8,76.80 365.7,76.80 366.6,76.80 367.6,76.80 368.5,76.80 369.4,76.80 370.3,76.80 371.2,76.80 372.1,76.80 373.0,76.80 373.9,76.80 374.9,76.80 375.8,76.79 376.7,76.77 377.6,76.70 378.5,76.48 379.4,75.93 380.3,74.78 381.2,72.70 382.2,69.55 383.1,65.66 384.0,61.89 384.9,59.43 385.8,59.25 386.7,61.83 387.6,66.09 388.6,70.37 389.5,73.57 390.4,75.43 391.3,76.32 392.2,76.66 393.1,76.76 394.0,76.79 394.9,76.80 395.9,76.80 396.8,76.80 397.7,76.80 398.6,76.80 399.5,76.80 399.5,76.8" fill="#7570B3" fill-opacity="0.5"/>
<polyline points="363.0,76.80 363.9,76.80 364.8,76.80 365.7,76.80 366.6,76.80 367.6,76.80 368.5,76.80 369.4,76.80 370.3,76.80 371.2,76.80 372.1,76.80 373.0,76.80 373.9,76.80 374.9,76.80 375.8,76.79 376.7,76.77 377.6,76.70 378.5,76.48 379.4,75.93 380.3,74.78 381.2,72.70 382.2,69.55 383.1,65.66 384.0,61.89 384.9,59.43 385.8,59.25 386.7,61.83 387.6,66.09 388.6,70.37 389.5,73.57 390.4,75.43 391.3,76.32 392.2,76.66 393.1,76.76 394.0,76.79 394.9,76.80 395.9,76.80 396.8,76.80 397.7,76.80 398.6,76.80 399.5,76.80" fill="none" stroke="#000" stroke-width="1.5" stroke-linejoin="round" stroke-linecap="round"/>
<polygon points="363.0,87.6 363.0,87.60 363.9,87.60 364.8,87.60 365.7,87.60 366.6,87.60 367.6,87.60 368.5,87.60 369.4,87.60 370.3,87.60 371.2,87.60 372.1,87.60 373.0,87.59 373.9,87.56 374.9,87.45 375.8,87.11 376.7,86.20 377.6,84.27 378.5,80.96 379.4,76.50 380.3,72.03 381.2,69.29 382.2,69.70 383.1,73.62 384.0,78.92 384.9,83.32 385.8,85.92 386.7,87.08 387.6,87.47 388.6,87.57 389.5,87.60 390.4,87.60 391.3,87.60 392.2,87.60 393.1,87.60 394.0,87.60 394.9,87.60 395.9,87.60 396.8,87.60 397.7,87.60 398.6,87.60 399.5,87.60 399.5,87.6" fill="#D95F02" fill-opacity="0.5"/>
<polyline points="363.0,87.60 363.9,87.60 364.8,87.60 365.7,87.60 366.6,87.60 367.6,87.60 368.5,87.60 369.4,87.60 370.3,87.60 371.2,87.60 372.1,87.60 373.0,87.59 373.9,87.56 374.9,87.45 375.8,87.11 376.7,86.20 377.6,84.27 378.5,80.96 379.4,76.50 380.3,72.03 381.2,69.29 382.2,69.70 383.1,73.62 384.0,78.92 384.9,83.32 385.8,85.92 386.7,87.08 387.6,87.47 388.6,87.57 389.5,87.60 390.4,87.60 391.3,87.60 392.2,87.60 393.1,87.60 394.0,87.60 394.9,87.60 395.9,87.60 396.8,87.60 397.7,87.60 398.6,87.60 399.5,87.60" fill="none" stroke="#000" stroke-width="1.5" stroke-linejoin="round" stroke-linecap="round"/>
<polygon points="363.0,98.6 363.0,98.60 363.9,98.60 364.8,98.60 365.7,98.60 366.6,98.60 367.6,98.60 368.5,98.60 369.4,98.60 370.3,98.60 371.2,98.60 372.1,98.60 373.0,98.58 373.9,98.54 374.9,98.40 375.8,98.03 376.7,97.18 377.6,95.54 378.5,92.87 379.4,89.26 380.3,85.34 381.2,82.23 382.2,81.00 383.1,82.43 384.0,86.14 384.9,90.54 385.8,94.23 386.7,96.61 387.6,97.84 388.6,98.36 389.5,98.53 390.4,98.59 391.3,98.60 392.2,98.60 393.1,98.60 394.0,98.60 394.9,98.60 395.9,98.60 396.8,98.60 397.7,98.60 398.6,98.60 399.5,98.60 399.5,98.6" fill="#1B9E77" fill-opacity="0.5"/>
<polyline points="363.0,98.60 363.9,98.60 364.8,98.60 365.7,98.60 366.6,98.60 367.6,98.60 368.5,98.60 369.4,98.60 370.3,98.60 371.2,98.60 372.1,98.60 373.0,98.58 373.9,98.54 374.9,98.40 375.8,98.03 376.7,97.18 377.6,95.54 378.5,92.87 379.4,89.26 380.3,85.34 381.2,82.23 382.2,81.00 383.1,82.43 384.0,86.14 384.9,90.54 385.8,94.23 386.7,96.61 387.6,97.84 388.6,98.36 389.5,98.53 390.4,98.59 391.3,98.60 392.2,98.60 393.1,98.60 394.0,98.60 394.9,98.60 395.9,98.60 396.8,98.60 397.7,98.60 398.6,98.60 399.5,98.60" fill="none" stroke="#000" stroke-width="1.5" stroke-linejoin="round" stroke-linecap="round"/>
<rect x="361.5" y="15.5" width="39.1" height="19.6" fill="#d9d9d9" stroke="#333" stroke-width="1"/>
<rect x="361.5" y="35.1" width="39.1" height="68.5" fill="none" stroke="#333" stroke-width="1"/>
<text x="381.05" y="27.90" font-size="7.85" text-anchor="middle" fill="#111" stroke="#111" stroke-width="0.14">G2</text>
<line x1="364.50" y1="103.6" x2="364.50" y2="106.19999999999999" stroke="#222" stroke-width="0.9"/>
<text x="364.50" y="114.90" font-size="6.5" text-anchor="middle" fill="#3a3a3a" stroke="#3a3a3a" stroke-width="0.14">0.0</text>
<line x1="378.10" y1="103.6" x2="378.10" y2="106.19999999999999" stroke="#222" stroke-width="0.9"/>
<text x="378.10" y="114.90" font-size="6.5" text-anchor="middle" fill="#3a3a3a" stroke="#3a3a3a" stroke-width="0.14">0.5</text>
<line x1="391.70" y1="103.6" x2="391.70" y2="106.19999999999999" stroke="#222" stroke-width="0.9"/>
<text x="391.70" y="114.90" font-size="6.5" text-anchor="middle" fill="#3a3a3a" stroke="#3a3a3a" stroke-width="0.14">1.0</text>
<rect x="409.5" y="35.1" width="39.1" height="68.5" fill="#fff"/>
<line x1="419.30" y1="35.1" x2="419.30" y2="103.6" stroke="#ececec" stroke-width="0.6"/>
<line x1="432.90" y1="35.1" x2="432.90" y2="103.6" stroke="#ececec" stroke-width="0.6"/>
<line x1="446.50" y1="35.1" x2="446.50" y2="103.6" stroke="#ececec" stroke-width="0.6"/>
<line x1="412.50" y1="35.1" x2="412.50" y2="103.6" stroke="#e0e0e0" stroke-width="0.9"/>
<line x1="426.10" y1="35.1" x2="426.10" y2="103.6" stroke="#e0e0e0" stroke-width="0.9"/>
<line x1="439.70" y1="35.1" x2="439.70" y2="103.6" stroke="#e0e0e0" stroke-width="0.9"/>
<line x1="409.5" y1="54.8" x2="448.6" y2="54.8" stroke="#ebebeb" stroke-width="0.8"/>
<line x1="409.5" y1="65.8" x2="448.6" y2="65.8" stroke="#ebebeb" stroke-width="0.8"/>
<line x1="409.5" y1="76.8" x2="448.6" y2="76.8" stroke="#ebebeb" stroke-width="0.8"/>
<line x1="409.5" y1="87.6" x2="448.6" y2="87.6" stroke="#ebebeb" stroke-width="0.8"/>
<line x1="409.5" y1="98.6" x2="448.6" y2="98.6" stroke="#ebebeb" stroke-width="0.8"/>
<polygon points="410.6,54.8 410.6,54.80 411.5,54.80 412.4,54.80 413.3,54.80 414.1,54.80 415.0,54.80 415.9,54.80 416.8,54.80 417.7,54.80 418.6,54.80 419.5,54.80 420.3,54.80 421.2,54.80 422.1,54.80 423.0,54.80 423.9,54.80 424.8,54.80 425.6,54.80 426.5,54.80 427.4,54.80 428.3,54.79 429.2,54.74 430.1,54.54 431.0,53.90 431.8,52.26 432.7,49.07 433.6,44.38 434.5,39.52 435.4,36.74 436.3,37.97 437.2,43.07 438.0,48.71 438.9,52.44 439.8,54.12 440.7,54.65 441.6,54.78 442.5,54.80 443.3,54.80 444.2,54.80 445.1,54.80 446.0,54.80 446.0,54.8" fill="#66A61E" fill-opacity="0.5"/>
<polyline points="410.6,54.80 411.5,54.80 412.4,54.80 413.3,54.80 414.1,54.80 415.0,54.80 415.9,54.80 416.8,54.80 417.7,54.80 418.6,54.80 419.5,54.80 420.3,54.80 421.2,54.80 422.1,54.80 423.0,54.80 423.9,54.80 424.8,54.80 425.6,54.80 426.5,54.80 427.4,54.80 428.3,54.79 429.2,54.74 430.1,54.54 431.0,53.90 431.8,52.26 432.7,49.07 433.6,44.38 434.5,39.52 435.4,36.74 436.3,37.97 437.2,43.07 438.0,48.71 438.9,52.44 439.8,54.12 440.7,54.65 441.6,54.78 442.5,54.80 443.3,54.80 444.2,54.80 445.1,54.80 446.0,54.80" fill="none" stroke="#000" stroke-width="1.5" stroke-linejoin="round" stroke-linecap="round"/>
<polygon points="410.6,65.8 410.6,65.80 411.5,65.80 412.4,65.80 413.3,65.80 414.1,65.80 415.0,65.80 415.9,65.80 416.8,65.80 417.7,65.80 418.6,65.80 419.5,65.79 420.3,65.78 421.2,65.75 422.1,65.70 423.0,65.61 423.9,65.46 424.8,65.22 425.6,64.85 426.5,64.31 427.4,63.57 428.3,62.62 429.2,61.48 430.1,60.19 431.0,58.85 431.8,57.60 432.7,56.55 433.6,55.86 434.5,55.60 435.4,56.00 436.3,57.18 437.2,58.84 438.0,60.66 438.9,62.32 439.8,63.64 440.7,64.57 441.6,65.16 442.5,65.50 443.3,65.67 444.2,65.75 445.1,65.78 446.0,65.79 446.0,65.8" fill="#E7298A" fill-opacity="0.5"/>
<polyline points="410.6,65.80 411.5,65.80 412.4,65.80 413.3,65.80 414.1,65.80 415.0,65.80 415.9,65.80 416.8,65.80 417.7,65.80 418.6,65.80 419.5,65.79 420.3,65.78 421.2,65.75 422.1,65.70 423.0,65.61 423.9,65.46 424.8,65.22 425.6,64.85 426.5,64.31 427.4,63.57 428.3,62.62 429.2,61.48 430.1,60.19 431.0,58.85 431.8,57.60 432.7,56.55 433.6,55.86 434.5,55.60 435.4,56.00 436.3,57.18 437.2,58.84 438.0,60.66 438.9,62.32 439.8,63.64 440.7,64.57 441.6,65.16 442.5,65.50 443.3,65.67 444.2,65.75 445.1,65.78 446.0,65.79" fill="none" stroke="#000" stroke-width="1.5" stroke-linejoin="round" stroke-linecap="round"/>
<polygon points="410.6,76.8 410.6,76.80 411.5,76.80 412.4,76.80 413.3,76.80 414.1,76.80 415.0,76.80 415.9,76.80 416.8,76.80 417.7,76.80 418.6,76.80 419.5,76.80 420.3,76.79 421.2,76.78 422.1,76.76 423.0,76.70 423.9,76.59 424.8,76.35 425.6,75.93 426.5,75.24 427.4,74.18 428.3,72.73 429.2,70.92 430.1,68.91 431.0,66.95 431.8,65.39 432.7,64.52 433.6,64.56 434.5,65.78 435.4,67.88 436.3,70.30 437.2,72.54 438.0,74.29 438.9,75.47 439.8,76.17 440.7,76.53 441.6,76.70 442.5,76.76 443.3,76.79 444.2,76.80 445.1,76.80 446.0,76.80 446.0,76.8" fill="#7570B3" fill-opacity="0.5"/>
<polyline points="410.6,76.80 411.5,76.80 412.4,76.80 413.3,76.80 414.1,76.80 415.0,76.80 415.9,76.80 416.8,76.80 417.7,76.80 418.6,76.80 419.5,76.80 420.3,76.79 421.2,76.78 422.1,76.76 423.0,76.70 423.9,76.59 424.8,76.35 425.6,75.93 426.5,75.24 427.4,74.18 428.3,72.73 429.2,70.92 430.1,68.91 431.0,66.95 431.8,65.39 432.7,64.52 433.6,64.56 434.5,65.78 435.4,67.88 436.3,70.30 437.2,72.54 438.0,74.29 438.9,75.47 439.8,76.17 440.7,76.53 441.6,76.70 442.5,76.76 443.3,76.79 444.2,76.80 445.1,76.80 446.0,76.80" fill="none" stroke="#000" stroke-width="1.5" stroke-linejoin="round" stroke-linecap="round"/>
<polygon points="410.6,87.6 410.6,87.60 411.5,87.60 412.4,87.60 413.3,87.60 414.1,87.59 415.0,87.59 415.9,87.58 416.8,87.56 417.7,87.52 418.6,87.45 419.5,87.33 420.3,87.15 421.2,86.87 422.1,86.46 423.0,85.88 423.9,85.10 424.8,84.09 425.6,82.86 426.5,81.42 427.4,79.83 428.3,78.19 429.2,76.60 430.1,75.22 431.0,74.16 431.8,73.54 432.7,73.46 433.6,74.81 434.5,77.44 435.4,80.52 436.3,83.27 437.2,85.28 438.0,86.51 438.9,87.15 439.8,87.44 440.7,87.55 441.6,87.59 442.5,87.60 443.3,87.60 444.2,87.60 445.1,87.60 446.0,87.60 446.0,87.6" fill="#D95F02" fill-opacity="0.5"/>
<polyline points="410.6,87.60 411.5,87.60 412.4,87.60 413.3,87.60 414.1,87.59 415.0,87.59 415.9,87.58 416.8,87.56 417.7,87.52 418.6,87.45 419.5,87.33 420.3,87.15 421.2,86.87 422.1,86.46 423.0,85.88 423.9,85.10 424.8,84.09 425.6,82.86 426.5,81.42 427.4,79.83 428.3,78.19 429.2,76.60 430.1,75.22 431.0,74.16 431.8,73.54 432.7,73.46 433.6,74.81 434.5,77.44 435.4,80.52 436.3,83.27 437.2,85.28 438.0,86.51 438.9,87.15 439.8,87.44 440.7,87.55 441.6,87.59 442.5,87.60 443.3,87.60 444.2,87.60 445.1,87.60 446.0,87.60" fill="none" stroke="#000" stroke-width="1.5" stroke-linejoin="round" stroke-linecap="round"/>
<polygon points="410.6,98.6 410.6,98.60 411.5,98.60 412.4,98.60 413.3,98.60 414.1,98.60 415.0,98.60 415.9,98.60 416.8,98.60 417.7,98.60 418.6,98.60 419.5,98.60 420.3,98.60 421.2,98.60 422.1,98.60 423.0,98.60 423.9,98.60 424.8,98.60 425.6,98.60 426.5,98.58 427.4,98.53 428.3,98.35 429.2,97.87 430.1,96.77 431.0,94.72 431.8,91.62 432.7,87.97 433.6,84.89 434.5,83.60 435.4,85.02 436.3,88.69 437.2,92.77 438.0,95.84 438.9,97.55 439.8,98.28 440.7,98.52 441.6,98.58 442.5,98.60 443.3,98.60 444.2,98.60 445.1,98.60 446.0,98.60 446.0,98.6" fill="#1B9E77" fill-opacity="0.5"/>
<polyline points="410.6,98.60 411.5,98.60 412.4,98.60 413.3,98.60 414.1,98.60 415.0,98.60 415.9,98.60 416.8,98.60 417.7,98.60 418.6,98.60 419.5,98.60 420.3,98.60 421.2,98.60 422.1,98.60 423.0,98.60 423.9,98.60 424.8,98.60 425.6,98.60 426.5,98.58 427.4,98.53 428.3,98.35 429.2,97.87 430.1,96.77 431.0,94.72 431.8,91.62 432.7,87.97 433.6,84.89 434.5,83.60 435.4,85.02 436.3,88.69 437.2,92.77 438.0,95.84 438.9,97.55 439.8,98.28 440.7,98.52 441.6,98.58 442.5,98.60 443.3,98.60 444.2,98.60 445.1,98.60 446.0,98.60" fill="none" stroke="#000" stroke-width="1.5" stroke-linejoin="round" stroke-linecap="round"/>
<rect x="409.5" y="15.5" width="39.1" height="19.6" fill="#d9d9d9" stroke="#333" stroke-width="1"/>
<rect x="409.5" y="35.1" width="39.1" height="68.5" fill="none" stroke="#333" stroke-width="1"/>
<text x="429.05" y="27.90" font-size="7.85" text-anchor="middle" fill="#111" stroke="#111" stroke-width="0.14">M</text>
<line x1="412.50" y1="103.6" x2="412.50" y2="106.19999999999999" stroke="#222" stroke-width="0.9"/>
<text x="412.50" y="114.90" font-size="6.5" text-anchor="middle" fill="#3a3a3a" stroke="#3a3a3a" stroke-width="0.14">0.0</text>
<line x1="426.10" y1="103.6" x2="426.10" y2="106.19999999999999" stroke="#222" stroke-width="0.9"/>
<text x="426.10" y="114.90" font-size="6.5" text-anchor="middle" fill="#3a3a3a" stroke="#3a3a3a" stroke-width="0.14">0.5</text>
<line x1="439.70" y1="103.6" x2="439.70" y2="106.19999999999999" stroke="#222" stroke-width="0.9"/>
<text x="439.70" y="114.90" font-size="6.5" text-anchor="middle" fill="#3a3a3a" stroke="#3a3a3a" stroke-width="0.14">1.0</text>
<line x1="261.3" y1="54.8" x2="265.5" y2="54.8" stroke="#111" stroke-width="1.2"/>
<text x="260.10" y="57.60" font-size="8.0" text-anchor="end" fill="#2a2a2a" stroke="#2a2a2a" stroke-width="0.14">JURKAT</text>
<line x1="261.3" y1="65.8" x2="265.5" y2="65.8" stroke="#111" stroke-width="1.2"/>
<text x="260.10" y="68.60" font-size="8.0" text-anchor="end" fill="#2a2a2a" stroke="#2a2a2a" stroke-width="0.14">293T</text>
<line x1="261.3" y1="76.8" x2="265.5" y2="76.8" stroke="#111" stroke-width="1.2"/>
<text x="260.10" y="79.60" font-size="8.0" text-anchor="end" fill="#2a2a2a" stroke="#2a2a2a" stroke-width="0.14">HEL</text>
<line x1="261.3" y1="87.6" x2="265.5" y2="87.6" stroke="#111" stroke-width="1.2"/>
<text x="260.10" y="90.40" font-size="8.0" text-anchor="end" fill="#2a2a2a" stroke="#2a2a2a" stroke-width="0.14">U937</text>
<line x1="261.3" y1="98.6" x2="265.5" y2="98.6" stroke="#111" stroke-width="1.2"/>
<text x="260.10" y="101.40" font-size="8.0" text-anchor="end" fill="#2a2a2a" stroke="#2a2a2a" stroke-width="0.14">NALM6</text>
<text x="358.80" y="124.60" font-size="8.1" text-anchor="middle" fill="#000" stroke="#000" stroke-width="0.14">pRb (S780)</text>
</g>
<g id="panelB">
<text x="467.60" y="21.00" font-size="16.6" text-anchor="start" fill="#000" stroke="#000" stroke-width="0.14">B</text>
<text x="484.80" y="9.30" font-size="8.15" text-anchor="start" fill="#000" stroke="#000" stroke-width="0.14">G0 phase</text>
<text x="484.80" y="19.00" font-size="8.15" text-anchor="start" fill="#000" stroke="#000" stroke-width="0.14">(resting)</text>
<ellipse cx="613.3" cy="87.8" rx="67" ry="64.8" fill="#d4ebf9" stroke="#999" stroke-width="0.7"/>
<ellipse cx="632.5" cy="95.5" rx="43.5" ry="41.6" fill="#7ba7d9" stroke="#8a9bb5" stroke-width="0.6" stroke-dasharray="3 1"/>
<use href="#cytof" x="547.6" y="0" width="16.4" height="20.8"/>
<path d="M506.06,53.24 A30.8,30.8 0 0 1 506.25,38.03 L513.21,38.15 L519.19,41.50 A17.4,17.4 0 0 0 519.09,50.09 L512.24,50.02 Z" fill="#faf5c0"/>
<path d="M541.67,76.27 A30.8,30.8 0 0 1 505.99,52.93 L512.20,49.77 L519.05,49.91 A17.4,17.4 0 0 0 539.20,63.10 L538.77,69.94 Z" fill="#f58b6b"/>
<path d="M555.55,22.20 A30.8,30.8 0 0 1 541.35,76.33 L538.52,69.97 L539.02,63.14 A17.4,17.4 0 0 0 547.04,32.55 L552.56,28.49 Z" fill="#b6367a"/>
<path d="M506.17,38.34 A30.8,30.8 0 0 1 555.80,22.41 L552.74,28.66 L547.18,32.67 A17.4,17.4 0 0 0 519.15,41.67 L513.13,38.39 Z" fill="#4f2a7f"/>
<text x="532.65" y="25.16" font-size="8.40" text-anchor="middle" fill="#fff">G<tspan font-size="6.72" dy="1.26">1</tspan></text>
<text x="522.87" y="69.24" font-size="8.40" text-anchor="middle" fill="#000">G<tspan font-size="6.72" dy="1.26">2</tspan></text>
<text x="558.18" y="58.44" font-size="8.4" text-anchor="middle" fill="#000" stroke="#000" stroke-width="0.14">S</text>
<text x="511.90" y="49.02" font-size="8.4" text-anchor="middle" fill="#000" stroke="#000" stroke-width="0.14">M</text>
<path d="M509.8,11.6 C516,11.8 518.6,17 517.2,23" fill="none" stroke="#000" stroke-width="1.9"/>
<path d="M501.5,13 C500.5,21 503,26.5 509.8,28" fill="none" stroke="#000" stroke-width="0.5" stroke-dasharray="1.6 1.2"/>
<text x="619.60" y="6.60" font-size="8.15" text-anchor="middle" fill="#000" stroke="#000" stroke-width="0.14">Single-cell</text>
<text x="620.50" y="15.20" font-size="8.15" text-anchor="middle" fill="#000" stroke="#000" stroke-width="0.14">Cytometry by Time of Flight</text>
<circle cx="490.00" cy="72.00" r="4.0" fill="#e8541e" stroke="#000" stroke-width="0.6"/><text x="490.00" y="74.30" font-size="7.0" text-anchor="middle" fill="#000" stroke="#000" stroke-width="0.14">p</text>
<circle cx="489.60" cy="83.40" r="5.7" fill="#29a9e0" stroke="#1a1a1a" stroke-width="0.6"/>
<text x="497.20" y="86.20" font-size="8.15" text-anchor="start" fill="#1a1a1a" stroke="#1a1a1a" stroke-width="0.14">PTM proteins</text>
<circle cx="489.60" cy="98.00" r="5.7" fill="#f7931e" stroke="#1a1a1a" stroke-width="0.6"/>
<text x="497.20" y="100.80" font-size="8.15" text-anchor="start" fill="#1a1a1a" stroke="#1a1a1a" stroke-width="0.14">Cyclins</text>
<circle cx="489.60" cy="113.00" r="5.7" fill="#006837" stroke="#1a1a1a" stroke-width="0.6"/>
<text x="497.20" y="115.80" font-size="8.15" text-anchor="start" fill="#1a1a1a" stroke="#1a1a1a" stroke-width="0.14">CC regulator</text>
<circle cx="489.60" cy="127.60" r="5.7" fill="#d9e021" stroke="#1a1a1a" stroke-width="0.6"/>
<text x="497.20" y="130.40" font-size="8.15" text-anchor="start" fill="#1a1a1a" stroke="#1a1a1a" stroke-width="0.14">Mitotic regulator</text>
<circle cx="489.60" cy="142.00" r="5.7" fill="#2e3192" stroke="#1a1a1a" stroke-width="0.6"/>
<text x="497.20" y="144.80" font-size="8.15" text-anchor="start" fill="#1a1a1a" stroke="#1a1a1a" stroke-width="0.14">DNA replication,</text>
<text x="497.20" y="150.80" font-size="8.15" text-anchor="start" fill="#1a1a1a" stroke="#1a1a1a" stroke-width="0.14">licensing, labeling,</text>
<text x="497.20" y="156.80" font-size="8.15" text-anchor="start" fill="#1a1a1a" stroke="#1a1a1a" stroke-width="0.14">organization</text>
<circle cx="593.00" cy="38.00" r="5.7" fill="#2e3192" stroke="#1a1a1a" stroke-width="0.6"/>
<circle cx="624.00" cy="43.60" r="5.7" fill="#29a9e0" stroke="#1a1a1a" stroke-width="0.6"/>
<circle cx="640.60" cy="44.40" r="5.7" fill="#f7931e" stroke="#1a1a1a" stroke-width="0.6"/>
<circle cx="657.00" cy="50.00" r="5.7" fill="#2e3192" stroke="#1a1a1a" stroke-width="0.6"/>
<circle cx="609.00" cy="49.60" r="5.7" fill="#f7931e" stroke="#1a1a1a" stroke-width="0.6"/>
<circle cx="573.00" cy="60.00" r="5.7" fill="#29a9e0" stroke="#1a1a1a" stroke-width="0.6"/>
<circle cx="589.00" cy="57.00" r="5.7" fill="#006837" stroke="#1a1a1a" stroke-width="0.6"/>
<circle cx="585.60" cy="72.00" r="5.7" fill="#f7931e" stroke="#1a1a1a" stroke-width="0.6"/>
<circle cx="633.40" cy="61.00" r="5.7" fill="#2e3192" stroke="#1a1a1a" stroke-width="0.6"/>
<circle cx="558.00" cy="80.00" r="5.7" fill="#d9e021" stroke="#1a1a1a" stroke-width="0.6"/>
<circle cx="574.00" cy="83.60" r="5.7" fill="#2bb673" stroke="#1a1a1a" stroke-width="0.6"/>
<circle cx="598.00" cy="87.00" r="5.7" fill="#006837" stroke="#1a1a1a" stroke-width="0.6"/>
<circle cx="561.60" cy="98.00" r="5.7" fill="#006837" stroke="#1a1a1a" stroke-width="0.6"/>
<circle cx="580.00" cy="100.00" r="5.7" fill="#2e3192" stroke="#1a1a1a" stroke-width="0.6"/>
<circle cx="564.00" cy="115.60" r="5.7" fill="#f7931e" stroke="#1a1a1a" stroke-width="0.6"/>
<circle cx="583.00" cy="132.40" r="5.7" fill="#29a9e0" stroke="#1a1a1a" stroke-width="0.6"/>
<circle cx="593.60" cy="143.60" r="5.7" fill="#2e3192" stroke="#1a1a1a" stroke-width="0.6"/>
<circle cx="608.00" cy="141.60" r="5.7" fill="#2e3192" stroke="#1a1a1a" stroke-width="0.6"/>
<circle cx="622.00" cy="144.40" r="5.7" fill="#006837" stroke="#1a1a1a" stroke-width="0.6"/>
<circle cx="629.00" cy="124.40" r="5.7" fill="#d9e021" stroke="#1a1a1a" stroke-width="0.6"/>
<circle cx="646.00" cy="125.00" r="5.7" fill="#f7931e" stroke="#1a1a1a" stroke-width="0.6"/>
<circle cx="624.00" cy="32.00" r="4.0" fill="#e8541e" stroke="#000" stroke-width="0.6"/><text x="624.00" y="34.30" font-size="7.0" text-anchor="middle" fill="#000" stroke="#000" stroke-width="0.14">p</text>
<circle cx="573.00" cy="48.60" r="4.0" fill="#e8541e" stroke="#000" stroke-width="0.6"/><text x="573.00" y="50.90" font-size="7.0" text-anchor="middle" fill="#000" stroke="#000" stroke-width="0.14">p</text>
<circle cx="583.00" cy="121.00" r="4.0" fill="#e8541e" stroke="#000" stroke-width="0.6"/><text x="583.00" y="123.30" font-size="7.0" text-anchor="middle" fill="#000" stroke="#000" stroke-width="0.14">p</text>
<polyline points="604.0,79.6 604.9,81.2 605.8,81.9 606.7,81.2 607.6,79.6 608.5,78.0 609.4,77.3 610.3,78.0 611.2,79.6 612.1,81.2 613.0,81.9 613.9,81.2 614.8,79.6 615.7,78.0 616.6,77.3 617.5,78.0 618.4,79.6 619.3,81.2 620.2,81.9 621.1,81.2 622.0,79.6 622.9,78.0 623.8,77.3 624.7,78.0 625.6,79.6 626.5,81.2 627.4,81.9 628.3,81.2 629.2,79.6 630.1,78.0 631.0,77.3 631.9,78.0 632.8,79.6 633.7,81.2 634.6,81.9 635.5,81.2 636.4,79.6 637.3,78.0 638.2,77.3 639.1,78.0 640.0,79.6 640.9,81.2" fill="none" stroke="#93278f" stroke-width="0.9"/><polyline points="605.0,81.2 605.9,79.5 606.8,77.9 607.7,77.3 608.6,78.0 609.5,79.7 610.4,81.3 611.3,81.9 612.2,81.2 613.1,79.5 614.0,77.9 614.9,77.3 615.8,78.0 616.7,79.7 617.6,81.3 618.5,81.9 619.4,81.2 620.3,79.5 621.2,77.9 622.1,77.3 623.0,78.0 623.9,79.7 624.8,81.3 625.7,81.9 626.6,81.2 627.5,79.5 628.4,77.9 629.3,77.3 630.2,78.0 631.1,79.7 632.0,81.3 632.9,81.9 633.8,81.2 634.7,79.5 635.6,77.9 636.5,77.3 637.4,78.0 638.3,79.7 639.2,81.3 640.1,81.9 641.0,81.2 641.9,79.5" fill="none" stroke="#93278f" stroke-width="0.9"/>
<polyline points="593.5,98.7 594.4,100.3 595.3,101.0 596.2,100.3 597.1,98.7 598.0,97.1 598.9,96.4 599.8,97.1 600.7,98.7 601.6,100.3 602.5,101.0 603.4,100.3 604.3,98.7 605.2,97.1 606.1,96.4 607.0,97.1 607.9,98.7 608.8,100.3" fill="none" stroke="#93278f" stroke-width="0.9"/><polyline points="594.5,100.3 595.4,98.6 596.3,97.0 597.2,96.4 598.1,97.1 599.0,98.8 599.9,100.4 600.8,101.0 601.7,100.3 602.6,98.6 603.5,97.0 604.4,96.4 605.3,97.1 606.2,98.8 607.1,100.4 608.0,101.0 608.9,100.3 609.8,98.6" fill="none" stroke="#93278f" stroke-width="0.9"/>
<polyline points="615.5,91.7 616.4,93.3 617.3,94.0 618.2,93.3 619.1,91.7 620.0,90.1 620.9,89.4 621.8,90.1 622.7,91.7 623.6,93.3 624.5,94.0 625.4,93.3 626.3,91.7 627.2,90.1 628.1,89.4 629.0,90.1 629.9,91.7 630.8,93.3 631.7,94.0 632.6,93.3 633.5,91.7 634.4,90.1 635.3,89.4 636.2,90.1" fill="none" stroke="#93278f" stroke-width="0.9"/><polyline points="616.5,93.3 617.4,91.6 618.3,90.0 619.2,89.4 620.1,90.1 621.0,91.8 621.9,93.4 622.8,94.0 623.7,93.3 624.6,91.6 625.5,90.0 626.4,89.4 627.3,90.1 628.2,91.8 629.1,93.4 630.0,94.0 630.9,93.3 631.8,91.6 632.7,90.0 633.6,89.4 634.5,90.1 635.4,91.8 636.3,93.4 637.2,94.0" fill="none" stroke="#93278f" stroke-width="0.9"/>
<polyline points="615.5,103.5 616.4,105.1 617.3,105.8 618.2,105.1 619.1,103.5 620.0,101.9 620.9,101.2 621.8,101.9 622.7,103.5 623.6,105.1 624.5,105.8 625.4,105.1 626.3,103.5 627.2,101.9 628.1,101.2 629.0,101.9 629.9,103.5 630.8,105.1 631.7,105.8 632.6,105.1 633.5,103.5 634.4,101.9 635.3,101.2 636.2,101.9" fill="none" stroke="#93278f" stroke-width="0.9"/><polyline points="616.5,105.1 617.4,103.4 618.3,101.8 619.2,101.2 620.1,101.9 621.0,103.6 621.9,105.2 622.8,105.8 623.7,105.1 624.6,103.4 625.5,101.8 626.4,101.2 627.3,101.9 628.2,103.6 629.1,105.2 630.0,105.8 630.9,105.1 631.8,103.4 632.7,101.8 633.6,101.2 634.5,101.9 635.4,103.6 636.3,105.2 637.2,105.8" fill="none" stroke="#93278f" stroke-width="0.9"/>
<path d="M610,98.4 L615.6,92 M610,98.4 L615.6,103.6" fill="none" stroke="#93278f" stroke-width="0.9"/>
<rect x="604.1" y="66.7" width="23.1" height="9.6" rx="4.8" fill="#9d76c2" stroke="#4f2683" stroke-width="1.9"/>
<text x="615.70" y="74.40" font-size="7.8" text-anchor="middle" fill="#fff" font-weight="bold" stroke="#fff" stroke-width="0.14">TFs</text>
<path d="M629.6,77.4 V70.1 H638" fill="none" stroke="#8e2a8a" stroke-width="1.8"/>
<path d="M637,67.3 L642,70.1 L637,72.9 Z" fill="#8e2a8a" stroke="none" stroke-width="1"/>
<circle cx="653.40" cy="73.30" r="9.5" fill="#ee3124" stroke="#000" stroke-width="0.9"/>
<text x="653.40" y="72.60" font-size="8.0" text-anchor="middle" fill="#000" stroke="#000" stroke-width="0.14">epi-</text>
<text x="653.40" y="78.80" font-size="8.0" text-anchor="middle" fill="#000" stroke="#000" stroke-width="0.14">mod</text>
<line x1="655.00" y1="83.40" x2="656.50" y2="89.00" stroke="#000" stroke-width="0.6"/>
<circle cx="657.40" cy="103.40" r="12.2" fill="#8a2a9a" stroke="#000" stroke-width="0.7"/>
<circle cx="655.40" cy="102.80" r="12.5" fill="#8a2a9a" stroke="#000" stroke-width="0.7"/>
<circle cx="653.10" cy="102.20" r="12.6" fill="#93278f" stroke="#000" stroke-width="0.7"/>
<path d="M640.5,117 C648,113.5 660,116.5 668,112.6" fill="none" stroke="#000" stroke-width="0.8"/>
<text x="596.00" y="108.60" font-size="8.15" text-anchor="start" fill="#222" stroke="#222" stroke-width="0.14">DNA</text>
<text x="596.00" y="114.50" font-size="8.15" text-anchor="start" fill="#222" stroke="#222" stroke-width="0.14">labeling</text>
</g>
<g id="panelC">
<text x="1.20" y="173.50" font-size="16.6" text-anchor="start" fill="#000" stroke="#000" stroke-width="0.14">C</text>
<text x="108.90" y="176.20" font-size="9.5" text-anchor="middle" fill="#000" stroke="#000" stroke-width="0.14">Single-cell multi-parameter cell cycle panel</text>
<text x="109.00" y="187.90" font-size="9.6" text-anchor="middle" fill="#000" stroke="#000" stroke-width="0.14">for Cytometry by Time of Flight (CyTOF)</text>
<rect x="11.6" y="190.8" width="189" height="157.2" rx="9" ry="9" fill="#fff" stroke="#2a2a2a" stroke-width="1.4"/>
<text x="15.00" y="204.60" font-size="8.15" text-anchor="start" fill="#111" stroke="#111" stroke-width="0.14">Minimal panel:</text>
<text x="15.00" y="214.45" font-size="8.15" text-anchor="start" fill="#111" stroke="#111" stroke-width="0.14">Ki67</text>
<text x="15.00" y="224.30" font-size="8.15" text-anchor="start" fill="#111" stroke="#111" stroke-width="0.14">Rb</text>
<text x="15.00" y="234.15" font-size="8.15" text-anchor="start" fill="#111" stroke="#111" stroke-width="0.14">pRb (S780)</text>
<text x="15.00" y="244.00" font-size="8.15" text-anchor="start" fill="#111" stroke="#111" stroke-width="0.14">pRb (S807/811)</text>
<text x="15.00" y="253.85" font-size="8.15" text-anchor="start" fill="#111" stroke="#111" stroke-width="0.14">CDT1</text>
<text x="15.00" y="263.70" font-size="8.15" text-anchor="start" fill="#111" stroke="#111" stroke-width="0.14">Geminin</text>
<text x="15.00" y="273.55" font-size="8.15" text-anchor="start" fill="#111" stroke="#111" stroke-width="0.14">pH3 (S10)</text>
<text x="15.00" y="283.40" font-size="8.15" text-anchor="start" fill="#111" stroke="#111" stroke-width="0.14">PLK1</text>
<text x="15.00" y="293.25" font-size="8.15" text-anchor="start" fill="#111" stroke="#111" stroke-width="0.14">CyclinB1</text>
<text x="15.00" y="303.10" font-size="8.15" text-anchor="start" fill="#111" stroke="#111" stroke-width="0.14">PCNA</text>
<text x="15.00" y="312.95" font-size="8.15" text-anchor="start" fill="#111" stroke="#111" stroke-width="0.14">SLBP</text>
<text x="82.00" y="204.60" font-size="8.15" text-anchor="start" fill="#111" stroke="#111" stroke-width="0.14">Core panel:</text>
<text x="82.00" y="214.45" font-size="8.15" text-anchor="start" fill="#111" stroke="#111" stroke-width="0.14">Minimal panel +</text>
<text x="82.00" y="224.30" font-size="8.15" text-anchor="start" fill="#111" stroke="#111" stroke-width="0.14">IdU</text>
<text x="82.00" y="234.15" font-size="8.15" text-anchor="start" fill="#111" stroke="#111" stroke-width="0.14">DNA</text>
<text x="151.00" y="204.60" font-size="8.15" text-anchor="start" fill="#111" stroke="#111" stroke-width="0.14">Complete:</text>
<text x="151.00" y="214.10" font-size="8.15" text-anchor="start" fill="#111" stroke="#111" stroke-width="0.14">Core panel +</text>
<text x="151.00" y="223.60" font-size="8.15" text-anchor="start" fill="#111" stroke="#111" stroke-width="0.14">EZH2</text>
<text x="151.00" y="233.10" font-size="8.15" text-anchor="start" fill="#111" stroke="#111" stroke-width="0.14">CyclinE</text>
<text x="151.00" y="242.60" font-size="8.15" text-anchor="start" fill="#111" stroke="#111" stroke-width="0.14">FoxM1</text>
<text x="151.00" y="252.10" font-size="8.15" text-anchor="start" fill="#111" stroke="#111" stroke-width="0.14">CDC20</text>
<text x="151.00" y="261.60" font-size="8.15" text-anchor="start" fill="#111" stroke="#111" stroke-width="0.14">RUNX1</text>
<text x="151.00" y="271.10" font-size="8.15" text-anchor="start" fill="#111" stroke="#111" stroke-width="0.14">CTCF</text>
<text x="151.00" y="280.60" font-size="8.15" text-anchor="start" fill="#111" stroke="#111" stroke-width="0.14">WGA</text>
<text x="151.00" y="290.10" font-size="8.15" text-anchor="start" fill="#111" stroke="#111" stroke-width="0.14">MLL1</text>
<text x="151.00" y="299.60" font-size="8.15" text-anchor="start" fill="#111" stroke="#111" stroke-width="0.14">H3K9ac</text>
<text x="151.00" y="309.10" font-size="8.15" text-anchor="start" fill="#111" stroke="#111" stroke-width="0.14">H3K27me3</text>
<text x="151.00" y="318.60" font-size="8.15" text-anchor="start" fill="#111" stroke="#111" stroke-width="0.14">H3K18ac</text>
<text x="151.00" y="329.60" font-size="8.15" text-anchor="start" fill="#666" stroke="#666" stroke-width="0.14">...</text>
<path d="M59.5,206.5 C63,212.5 68,215.5 77,214.2" fill="none" stroke="#000" stroke-width="0.9"/>
<polygon points="80.60,213.60 75.35,211.84 77.01,214.11 76.04,216.74" fill="#000"/>
<path d="M130,201.2 C138,199.3 144,201.5 147.6,206.4" fill="none" stroke="#000" stroke-width="0.9"/>
<polygon points="149.80,209.40 148.89,203.94 147.67,206.46 144.89,206.85" fill="#000"/>
<path d="M69.47,306.51 A38.3,38.3 0 0 1 69.71,287.59 L77.44,287.42 L83.90,291.39 A23.6,23.6 0 0 0 83.76,303.05 L76.18,302.66 Z" fill="#faf5c0"/>
<path d="M113.75,335.15 A38.3,38.3 0 0 1 69.38,306.12 L76.13,302.34 L83.70,302.81 A23.6,23.6 0 0 0 111.04,320.70 L110.26,328.24 Z" fill="#f58b6b"/>
<path d="M131.01,267.90 A38.3,38.3 0 0 1 113.35,335.22 L109.94,328.28 L110.80,320.74 A23.6,23.6 0 0 0 121.68,279.26 L127.97,275.01 Z" fill="#b6367a"/>
<path d="M69.60,287.98 A38.3,38.3 0 0 1 131.32,268.16 L128.20,275.24 L121.87,279.42 A23.6,23.6 0 0 0 83.84,291.63 L77.33,287.73 Z" fill="#4f2a7f"/>
<text x="101.79" y="268.78" font-size="9.80" text-anchor="middle" fill="#fff">G<tspan font-size="5.39" dy="1.47">1</tspan></text>
<text x="89.24" y="325.98" font-size="9.80" text-anchor="middle" fill="#000">G<tspan font-size="5.39" dy="1.47">2</tspan></text>
<text x="136.39" y="311.66" font-size="10.192000000000002" text-anchor="middle" fill="#000" stroke="#000" stroke-width="0.14">S</text>
<text x="75.75" y="299.18" font-size="8.82" text-anchor="middle" fill="#000" stroke="#000" stroke-width="0.14">M</text>
<text x="50.0" y="253.2" font-size="4.8" fill="#000" font-weight="bold">G<tspan font-size="3" dy="0.6">0</tspan><tspan dy="-0.6"> phase</tspan></text>
<text x="51.00" y="259.00" font-size="4.6" text-anchor="start" fill="#000" font-weight="bold" stroke="#000" stroke-width="0.14">(resting)</text>
<path d="M74.5,252.6 C81,254.5 83.8,260 82.3,267.2" fill="none" stroke="#000" stroke-width="1.6"/>
<polygon points="71.60,252.40 75.19,254.87 74.43,252.80 75.73,251.01" fill="#000"/>
<path d="M61.2,263 C62.5,268.5 65.5,272 70.5,273.8" fill="none" stroke="#000" stroke-width="0.7" stroke-dasharray="2 1.6"/>
<polygon points="73.00,274.60 70.73,272.36 71.01,273.95 69.85,275.07" fill="#000"/>
</g>
<g id="panelD">
<text x="221.60" y="174.90" font-size="16.6" text-anchor="start" fill="#000" stroke="#000" stroke-width="0.14">D</text>
<line x1="211.00" y1="200.00" x2="226.42" y2="200.00" stroke="#000" stroke-width="1.3"/><polygon points="232.2,200 221.7,193.8 225.69,200 221.7,206.2" fill="#000"/>
<use href="#flask" x="242.6" y="182.7" width="27.3" height="14.3"/>
<use href="#flask" x="242.6" y="199.3" width="27.3" height="14.3"/>
<use href="#flask" x="274.8" y="175" width="27.3" height="14.3"/>
<use href="#flask" x="274.8" y="190.6" width="27.3" height="14.3"/>
<use href="#flask" x="274.8" y="206.4" width="27.3" height="14.3"/>
<text x="324.60" y="197.40" font-size="8.15" text-anchor="middle" fill="#111" stroke="#111" stroke-width="0.14">samples</text>
<text x="319.00" y="229.00" font-size="8.15" text-anchor="middle" fill="#111" stroke="#111" stroke-width="0.14">palladium</text>
<text x="319.00" y="238.80" font-size="8.15" text-anchor="middle" fill="#111" stroke="#111" stroke-width="0.14">barcoding</text>
<path d="M250.6,226.5 C249.7,238 260.5,244 266.8,250.6" fill="none" stroke="#000" stroke-width="0.7" stroke-dasharray="1.3 1.3"/>
<path d="M256.6,226.5 C256.0,238 263.2,244 267.4,250.6" fill="none" stroke="#000" stroke-width="0.7" stroke-dasharray="1.3 1.3"/>
<path d="M262.6,226.5 C262.3,238 265.9,244 268.0,250.6" fill="none" stroke="#000" stroke-width="0.7" stroke-dasharray="1.3 1.3"/>
<path d="M268.6,226.5 C268.6,238 268.6,244 268.6,250.6" fill="none" stroke="#000" stroke-width="0.7" stroke-dasharray="1.3 1.3"/>
<path d="M274.6,226.5 C274.9,238 271.3,244 269.2,250.6" fill="none" stroke="#000" stroke-width="0.7" stroke-dasharray="1.3 1.3"/>
<path d="M280.6,226.5 C281.2,238 274.0,244 269.8,250.6" fill="none" stroke="#000" stroke-width="0.7" stroke-dasharray="1.3 1.3"/>
<path d="M286.6,226.5 C287.5,238 276.7,244 270.4,250.6" fill="none" stroke="#000" stroke-width="0.7" stroke-dasharray="1.3 1.3"/>
<polygon points="268.6,257.8 265.40000000000003,251.6 268.6,253.2 271.8,251.6" fill="#000"/>
<path d="M265.6,251.4 Q268.6,248.2 271.6,251.4" fill="none" stroke="#000" stroke-width="0.6"/>
<text x="322.50" y="256.80" font-size="8.15" text-anchor="middle" fill="#111" stroke="#111" stroke-width="0.14">pooled samples as</text>
<text x="322.50" y="266.80" font-size="8.15" text-anchor="middle" fill="#111" stroke="#111" stroke-width="0.14">staining control</text>
<path d="M244.3,266 V285.2 A3.9,3.9 0 0 0 252.1,285.2 V266 Z" fill="#f4f9fd" stroke="#2c66ad" stroke-width="0.9"/>
<path d="M245.5,271.8 V285.2 A2.7,2.7 0 0 0 250.9,285.2 V271.8 Z" fill="#3a8fd6"/>
<rect x="245.5" y="271.8" width="1.6" height="13" fill="#6fb1e6"/>
<rect x="243.2" y="260.2" width="10" height="6.2" rx="0.6" fill="#2c5d9a"/>
<line x1="245.20" y1="261.00" x2="245.20" y2="265.80" stroke="#8fb5df" stroke-width="0.6"/>
<line x1="247.20" y1="261.00" x2="247.20" y2="265.80" stroke="#8fb5df" stroke-width="0.6"/>
<line x1="249.20" y1="261.00" x2="249.20" y2="265.80" stroke="#8fb5df" stroke-width="0.6"/>
<line x1="251.20" y1="261.00" x2="251.20" y2="265.80" stroke="#8fb5df" stroke-width="0.6"/>
<use href="#cytof" x="261" y="260.4" width="22.8" height="28.9"/>
<text x="322.50" y="287.00" font-size="8.15" text-anchor="middle" fill="#111" stroke="#111" stroke-width="0.14">reduced CyTOF</text>
<text x="322.50" y="296.80" font-size="8.15" text-anchor="middle" fill="#111" stroke="#111" stroke-width="0.14">flow rate</text>
<text x="322.50" y="306.40" font-size="8.15" text-anchor="middle" fill="#111" stroke="#111" stroke-width="0.14">(250-500 e/s)</text>
<path d="M267.2,298.6 C258.7,299.5 249.9,306 250.6,322.5" fill="none" stroke="#000" stroke-width="0.7" stroke-dasharray="1.3 1.3"/>
<polygon points="250.6,325.4 248.9,321.6 252.29999999999998,321.6" fill="#000"/>
<path d="M267.6,298.6 C262.0,299.5 256.1,306 256.6,322.5" fill="none" stroke="#000" stroke-width="0.7" stroke-dasharray="1.3 1.3"/>
<polygon points="256.6,325.4 254.90000000000003,321.6 258.3,321.6" fill="#000"/>
<path d="M268.1,298.6 C265.3,299.5 262.4,306 262.6,322.5" fill="none" stroke="#000" stroke-width="0.7" stroke-dasharray="1.3 1.3"/>
<polygon points="262.6,325.4 260.90000000000003,321.6 264.3,321.6" fill="#000"/>
<path d="M268.6,298.6 C268.6,299.5 268.6,306 268.6,322.5" fill="none" stroke="#000" stroke-width="0.7" stroke-dasharray="1.3 1.3"/>
<polygon points="268.6,325.4 266.90000000000003,321.6 270.3,321.6" fill="#000"/>
<path d="M269.1,298.6 C271.9,299.5 274.8,306 274.6,322.5" fill="none" stroke="#000" stroke-width="0.7" stroke-dasharray="1.3 1.3"/>
<polygon points="274.6,325.4 272.90000000000003,321.6 276.3,321.6" fill="#000"/>
<path d="M269.6,298.6 C275.2,299.5 281.1,306 280.6,322.5" fill="none" stroke="#000" stroke-width="0.7" stroke-dasharray="1.3 1.3"/>
<polygon points="280.6,325.4 278.90000000000003,321.6 282.3,321.6" fill="#000"/>
<path d="M270.0,298.6 C278.5,299.5 287.3,306 286.6,322.5" fill="none" stroke="#000" stroke-width="0.7" stroke-dasharray="1.3 1.3"/>
<polygon points="286.6,325.4 284.90000000000003,321.6 288.3,321.6" fill="#000"/>
<path d="M265.8,300 Q268.6,296.4 271.40000000000003,300" fill="none" stroke="#000" stroke-width="0.6"/>
<rect x="261.4" y="331" width="19.8" height="12.8" rx="0.8" fill="#e4e9ee" stroke="#9aa3ad" stroke-width="0.5"/>
<rect x="262.8" y="332.3" width="17" height="9.6" fill="#8fcdf4"/>
<path d="M266,341.9 L270,332.3 H273 L269,341.9 Z M272,341.9 L276,332.3 H277.4 L273.4,341.9 Z" fill="#c4e6fb"/>
<path d="M268.6,343.8 H274 L275,347.4 H267.6 Z" fill="#c9d0d7"/>
<path d="M258.5,347.6 H283 L286,352.6 Q271,355 255,352.6 Z" fill="#f1f3f5" stroke="#9aa3ad" stroke-width="0.5"/>
<path d="M260.5,348.6 H281.5 L283.2,351.4 H258.8 Z" fill="#5f8fd0"/>
<text x="322.30" y="328.00" font-size="8.15" text-anchor="middle" fill="#111" stroke="#111" stroke-width="0.14">in silico</text>
<text x="322.30" y="338.00" font-size="8.15" text-anchor="middle" fill="#111" stroke="#111" stroke-width="0.14">bead normalization,</text>
<text x="322.30" y="348.00" font-size="8.15" text-anchor="middle" fill="#111" stroke="#111" stroke-width="0.14">debarcoding, &amp;</text>
<text x="322.30" y="357.60" font-size="8.15" text-anchor="middle" fill="#111" stroke="#111" stroke-width="0.14">doublet elimination</text>
<path d="M359,327 V220 H368" fill="none" stroke="#000" stroke-width="1.2"/>
<polygon points="376.2,220 365.4,213.8 369.4,220 365.4,226.2" fill="#000"/>
</g>
<g id="panelE">
<text x="386.60" y="175.10" font-size="16.6" text-anchor="start" fill="#000" stroke="#000" stroke-width="0.14">E</text>
<text x="531.20" y="169.60" font-size="6.9" text-anchor="middle" fill="#000" stroke="#000" stroke-width="0.18">baseline CyTOF cleanup strategy</text>
<text x="418.40" y="184.60" font-size="6.45" text-anchor="middle" fill="#000" stroke="#000" stroke-width="0.18">bead removal</text>
<text x="386.60" y="214.50" font-size="6.9" text-anchor="middle" fill="#000" transform="rotate(-90 386.60 214.50)" stroke="#000" stroke-width="0.18">beads (Eu153Di)</text>
<text x="417.50" y="248.00" font-size="6.9" text-anchor="middle" fill="#000" stroke="#000" stroke-width="0.18">beads (Eu151Di)</text>
<path d="M401.2,231.3h0.6v0.6h-0.6zM401.4,227.6h0.6v0.6h-0.6zM396.5,228.0h0.6v0.6h-0.6zM410.8,230.9h0.6v0.6h-0.6zM410.3,230.1h0.6v0.6h-0.6zM405.8,229.8h0.6v0.6h-0.6zM406.5,231.2h0.6v0.6h-0.6zM396.8,226.9h0.6v0.6h-0.6zM405.1,228.8h0.6v0.6h-0.6zM406.6,226.1h0.6v0.6h-0.6zM405.2,230.8h0.6v0.6h-0.6zM406.9,234.4h0.6v0.6h-0.6zM398.7,225.7h0.6v0.6h-0.6zM400.6,228.5h0.6v0.6h-0.6zM407.4,230.1h0.6v0.6h-0.6zM399.9,224.7h0.6v0.6h-0.6zM399.4,234.5h0.6v0.6h-0.6zM397.3,230.1h0.6v0.6h-0.6zM406.0,222.3h0.6v0.6h-0.6zM403.3,234.9h0.6v0.6h-0.6zM402.3,225.3h0.6v0.6h-0.6zM406.5,228.7h0.6v0.6h-0.6zM407.7,233.3h0.6v0.6h-0.6zM413.1,230.6h0.6v0.6h-0.6zM403.8,223.2h0.6v0.6h-0.6zM407.3,226.2h0.6v0.6h-0.6zM399.8,223.3h0.6v0.6h-0.6zM396.2,226.6h0.6v0.6h-0.6zM412.0,219.9h0.6v0.6h-0.6zM413.1,231.6h0.6v0.6h-0.6zM405.5,225.7h0.6v0.6h-0.6zM395.2,233.4h0.6v0.6h-0.6zM410.7,229.7h0.6v0.6h-0.6zM404.7,231.0h0.6v0.6h-0.6zM414.2,231.8h0.6v0.6h-0.6zM406.6,231.5h0.6v0.6h-0.6zM409.7,231.4h0.6v0.6h-0.6zM408.9,220.8h0.6v0.6h-0.6zM401.7,233.6h0.6v0.6h-0.6zM406.9,228.3h0.6v0.6h-0.6zM405.3,231.9h0.6v0.6h-0.6zM403.8,234.2h0.6v0.6h-0.6zM398.4,227.1h0.6v0.6h-0.6zM410.3,229.1h0.6v0.6h-0.6zM396.8,233.3h0.6v0.6h-0.6zM413.3,227.0h0.6v0.6h-0.6zM402.0,227.7h0.6v0.6h-0.6zM412.8,224.4h0.6v0.6h-0.6zM411.8,223.3h0.6v0.6h-0.6zM397.5,231.8h0.6v0.6h-0.6zM410.9,232.9h0.6v0.6h-0.6zM405.4,229.6h0.6v0.6h-0.6zM404.1,231.6h0.6v0.6h-0.6zM401.8,230.2h0.6v0.6h-0.6zM407.0,229.0h0.6v0.6h-0.6zM408.3,231.5h0.6v0.6h-0.6zM417.1,230.5h0.6v0.6h-0.6zM400.0,227.3h0.6v0.6h-0.6zM402.9,233.2h0.6v0.6h-0.6zM400.6,230.7h0.6v0.6h-0.6zM415.9,217.5h0.6v0.6h-0.6zM395.1,230.1h0.6v0.6h-0.6zM405.8,230.1h0.6v0.6h-0.6zM400.0,231.9h0.6v0.6h-0.6zM405.0,226.7h0.6v0.6h-0.6zM420.0,230.6h0.6v0.6h-0.6zM399.1,228.6h0.6v0.6h-0.6zM401.4,228.7h0.6v0.6h-0.6zM410.1,223.7h0.6v0.6h-0.6zM402.5,233.3h0.6v0.6h-0.6zM400.6,231.8h0.6v0.6h-0.6zM410.6,216.9h0.6v0.6h-0.6zM410.6,222.5h0.6v0.6h-0.6zM407.8,222.3h0.6v0.6h-0.6zM404.2,234.4h0.6v0.6h-0.6zM402.0,229.9h0.6v0.6h-0.6zM408.6,229.6h0.6v0.6h-0.6zM410.3,227.7h0.6v0.6h-0.6zM409.4,227.8h0.6v0.6h-0.6zM403.9,232.2h0.6v0.6h-0.6zM404.6,231.9h0.6v0.6h-0.6zM407.3,224.7h0.6v0.6h-0.6zM395.8,222.4h0.6v0.6h-0.6zM411.9,232.4h0.6v0.6h-0.6zM413.3,224.8h0.6v0.6h-0.6zM403.0,223.9h0.6v0.6h-0.6zM409.9,228.2h0.6v0.6h-0.6zM402.3,226.3h0.6v0.6h-0.6zM405.8,230.8h0.6v0.6h-0.6zM413.5,224.4h0.6v0.6h-0.6zM413.2,228.2h0.6v0.6h-0.6zM397.8,233.6h0.6v0.6h-0.6zM403.8,229.6h0.6v0.6h-0.6zM413.0,227.8h0.6v0.6h-0.6zM405.2,226.2h0.6v0.6h-0.6zM402.9,232.7h0.6v0.6h-0.6zM403.6,235.0h0.6v0.6h-0.6zM402.6,233.7h0.6v0.6h-0.6zM398.3,233.0h0.6v0.6h-0.6zM401.7,228.9h0.6v0.6h-0.6zM398.9,230.1h0.6v0.6h-0.6zM415.5,229.2h0.6v0.6h-0.6zM406.7,233.5h0.6v0.6h-0.6zM401.6,223.3h0.6v0.6h-0.6zM399.1,233.8h0.6v0.6h-0.6zM410.1,232.6h0.6v0.6h-0.6zM403.1,232.6h0.6v0.6h-0.6zM404.2,223.7h0.6v0.6h-0.6zM409.5,226.5h0.6v0.6h-0.6zM396.7,225.5h0.6v0.6h-0.6z" fill="#4c45a6" fill-opacity="0.55"/>
<path d="M396.1,232.1h0.6v0.6h-0.6zM398.8,228.4h0.6v0.6h-0.6zM405.6,231.1h0.6v0.6h-0.6zM403.5,230.8h0.6v0.6h-0.6zM405.9,232.7h0.6v0.6h-0.6zM405.3,232.0h0.6v0.6h-0.6zM408.7,232.6h0.6v0.6h-0.6zM404.3,228.2h0.6v0.6h-0.6zM406.5,233.6h0.6v0.6h-0.6zM400.5,230.7h0.6v0.6h-0.6zM411.7,228.7h0.6v0.6h-0.6zM397.4,232.6h0.6v0.6h-0.6zM411.4,231.3h0.6v0.6h-0.6zM404.8,232.9h0.6v0.6h-0.6zM397.5,231.4h0.6v0.6h-0.6zM403.5,232.8h0.6v0.6h-0.6zM401.8,231.2h0.6v0.6h-0.6zM396.9,230.9h0.6v0.6h-0.6zM406.5,231.7h0.6v0.6h-0.6zM397.7,230.2h0.6v0.6h-0.6zM415.3,233.3h0.6v0.6h-0.6zM405.2,227.4h0.6v0.6h-0.6zM405.1,232.3h0.6v0.6h-0.6zM410.4,232.2h0.6v0.6h-0.6zM401.7,232.3h0.6v0.6h-0.6zM403.6,230.4h0.6v0.6h-0.6zM408.6,234.4h0.6v0.6h-0.6zM403.5,231.8h0.6v0.6h-0.6zM400.0,229.9h0.6v0.6h-0.6zM412.6,233.2h0.6v0.6h-0.6zM396.0,229.3h0.6v0.6h-0.6zM410.5,233.1h0.6v0.6h-0.6zM411.1,232.8h0.6v0.6h-0.6zM397.6,231.9h0.6v0.6h-0.6zM401.7,232.3h0.6v0.6h-0.6zM398.4,231.3h0.6v0.6h-0.6zM404.3,232.1h0.6v0.6h-0.6zM405.2,231.8h0.6v0.6h-0.6zM400.4,232.8h0.6v0.6h-0.6zM402.2,230.2h0.6v0.6h-0.6zM398.9,231.5h0.6v0.6h-0.6zM401.5,231.8h0.6v0.6h-0.6zM402.0,231.8h0.6v0.6h-0.6zM401.3,229.5h0.6v0.6h-0.6zM404.1,233.2h0.6v0.6h-0.6zM404.2,231.2h0.6v0.6h-0.6zM404.2,230.0h0.6v0.6h-0.6zM397.3,232.7h0.6v0.6h-0.6zM396.6,227.3h0.6v0.6h-0.6zM396.8,234.0h0.6v0.6h-0.6zM400.1,229.3h0.6v0.6h-0.6zM398.2,232.3h0.6v0.6h-0.6zM404.5,231.8h0.6v0.6h-0.6zM409.4,232.6h0.6v0.6h-0.6zM401.9,232.5h0.6v0.6h-0.6zM410.3,233.1h0.6v0.6h-0.6zM407.1,229.8h0.6v0.6h-0.6zM401.3,232.7h0.6v0.6h-0.6zM400.5,233.2h0.6v0.6h-0.6zM405.0,233.0h0.6v0.6h-0.6zM408.2,231.2h0.6v0.6h-0.6zM400.3,232.9h0.6v0.6h-0.6zM406.9,231.5h0.6v0.6h-0.6zM396.2,231.8h0.6v0.6h-0.6zM403.8,233.3h0.6v0.6h-0.6zM405.9,231.5h0.6v0.6h-0.6zM406.3,232.4h0.6v0.6h-0.6zM403.0,231.6h0.6v0.6h-0.6zM400.8,232.6h0.6v0.6h-0.6zM396.7,230.5h0.6v0.6h-0.6zM402.0,229.2h0.6v0.6h-0.6zM399.8,228.3h0.6v0.6h-0.6zM398.6,232.4h0.6v0.6h-0.6zM404.8,231.4h0.6v0.6h-0.6zM400.8,229.2h0.6v0.6h-0.6zM411.1,232.3h0.6v0.6h-0.6zM407.5,230.1h0.6v0.6h-0.6zM401.1,228.6h0.6v0.6h-0.6zM405.9,233.0h0.6v0.6h-0.6zM405.2,228.7h0.6v0.6h-0.6zM398.9,229.3h0.6v0.6h-0.6zM402.2,231.9h0.6v0.6h-0.6zM405.2,232.6h0.6v0.6h-0.6zM409.5,233.4h0.6v0.6h-0.6zM395.4,230.7h0.6v0.6h-0.6zM396.7,229.8h0.6v0.6h-0.6zM401.6,231.5h0.6v0.6h-0.6zM404.5,229.0h0.6v0.6h-0.6zM395.8,231.5h0.6v0.6h-0.6zM401.0,231.0h0.6v0.6h-0.6zM401.7,230.3h0.6v0.6h-0.6zM405.5,232.1h0.6v0.6h-0.6zM401.6,230.4h0.6v0.6h-0.6zM401.1,227.1h0.6v0.6h-0.6zM397.1,231.6h0.6v0.6h-0.6zM402.7,229.3h0.6v0.6h-0.6zM400.7,231.0h0.6v0.6h-0.6zM404.3,232.5h0.6v0.6h-0.6zM401.8,230.1h0.6v0.6h-0.6zM401.3,231.4h0.6v0.6h-0.6zM405.7,232.0h0.6v0.6h-0.6zM398.4,229.3h0.6v0.6h-0.6zM400.1,230.3h0.6v0.6h-0.6zM396.4,231.3h0.6v0.6h-0.6zM399.5,231.7h0.6v0.6h-0.6zM404.6,230.8h0.6v0.6h-0.6zM413.6,231.0h0.6v0.6h-0.6zM407.5,231.7h0.6v0.6h-0.6zM407.6,227.7h0.6v0.6h-0.6zM398.2,231.9h0.6v0.6h-0.6zM403.6,233.5h0.6v0.6h-0.6zM405.8,233.0h0.6v0.6h-0.6zM404.6,231.3h0.6v0.6h-0.6zM404.5,229.8h0.6v0.6h-0.6zM407.9,229.9h0.6v0.6h-0.6zM403.2,234.9h0.6v0.6h-0.6zM400.9,231.5h0.6v0.6h-0.6zM407.8,231.5h0.6v0.6h-0.6zM398.0,231.9h0.6v0.6h-0.6zM404.9,232.6h0.6v0.6h-0.6z" fill="#4c45a6" fill-opacity="0.7"/>
<line x1="433.00" y1="203.40" x2="437.00" y2="198.80" stroke="#4a5cc0" stroke-width="1.1" stroke-linecap="round"/>
<line x1="434.00" y1="202.30" x2="436.40" y2="199.50" stroke="#4f9ad8" stroke-width="0.5"/>
<path d="M428.3,207.7h0.5v0.5h-0.5zM432.1,204.0h0.5v0.5h-0.5zM424.7,212.1h0.5v0.5h-0.5zM431.4,205.1h0.5v0.5h-0.5zM432.1,204.1h0.5v0.5h-0.5zM426.3,209.5h0.5v0.5h-0.5zM432.1,203.9h0.5v0.5h-0.5zM431.8,204.3h0.5v0.5h-0.5zM432.0,203.1h0.5v0.5h-0.5zM428.6,207.6h0.5v0.5h-0.5zM429.0,206.9h0.5v0.5h-0.5zM429.1,206.5h0.5v0.5h-0.5zM433.0,202.6h0.5v0.5h-0.5zM430.5,205.5h0.5v0.5h-0.5z" fill="#7f7bc4" fill-opacity="0.6"/>
<g transform="translate(401.5 232.4) rotate(3)" filter="url(#b1)"><ellipse cx="-0.00" cy="0.00" rx="5.60" ry="1.70" fill="#4a4fb5"/><ellipse cx="-0.70" cy="0.10" rx="4.03" ry="1.22" fill="#3b6fd0"/><ellipse cx="-1.40" cy="0.20" rx="2.90" ry="0.88" fill="#2fa5d0"/><ellipse cx="-2.10" cy="0.30" rx="2.09" ry="0.63" fill="#3fc98a"/><ellipse cx="-2.80" cy="0.40" rx="1.50" ry="0.46" fill="#c8dc3a"/></g>
<path d="M394.4,214.6 H408 L423,225.6 V236 H394.4 Z" fill="none" stroke="#ed1c24" stroke-width="1.2" stroke-linejoin="round"/>
<path d="M390.6,193V239H437.4" fill="none" stroke="#000" stroke-width="1.3"/><path d="M388.6,239.0h2M388.6,223.7h2M388.6,208.3h2M388.6,193.0h2M390.6,239v2M406.2,239v2M421.8,239v2M437.4,239v2" fill="none" stroke="#000" stroke-width="0.9"/><path d="M389.4,234.4h1.2M389.4,231.6h1.2M389.4,229.8h1.2M389.4,228.3h1.2M389.4,227.0h1.2M389.4,226.0h1.2M389.4,225.2h1.2M389.4,224.4h1.2M389.4,219.1h1.2M389.4,216.3h1.2M389.4,214.5h1.2M389.4,212.9h1.2M389.4,211.7h1.2M389.4,210.6h1.2M389.4,209.9h1.2M389.4,209.1h1.2M389.4,203.7h1.2M389.4,201.0h1.2M389.4,199.1h1.2M389.4,197.6h1.2M389.4,196.4h1.2M389.4,195.3h1.2M389.4,194.5h1.2M389.4,193.8h1.2M395.3,239v1.2M398.1,239v1.2M400.0,239v1.2M401.5,239v1.2M402.8,239v1.2M403.9,239v1.2M404.6,239v1.2M405.4,239v1.2M410.9,239v1.2M413.7,239v1.2M415.6,239v1.2M417.1,239v1.2M418.4,239v1.2M419.5,239v1.2M420.2,239v1.2M421.0,239v1.2M426.5,239v1.2M429.3,239v1.2M431.2,239v1.2M432.7,239v1.2M434.0,239v1.2M435.1,239v1.2M435.8,239v1.2M436.6,239v1.2" fill="none" stroke="#000" stroke-width="0.4"/>
<text x="477.40" y="183.00" font-size="6.45" text-anchor="middle" fill="#000" stroke="#000" stroke-width="0.18">debris and</text>
<text x="477.40" y="190.60" font-size="6.45" text-anchor="middle" fill="#000" stroke="#000" stroke-width="0.18">doublet exclusion</text>
<text x="448.20" y="216.00" font-size="6.9" text-anchor="middle" fill="#000" transform="rotate(-90 448.20 216.00)" stroke="#000" stroke-width="0.18">barium (Ba138Di)</text>
<text x="478.50" y="248.00" font-size="6.9" text-anchor="middle" fill="#000" stroke="#000" stroke-width="0.18">DNA2 (Ir193Di)</text>
<ellipse cx="0" cy="0" rx="15" ry="5.5" transform="translate(479 217.5) rotate(-24)" fill="#4a43a2" fill-opacity="0.5" filter="url(#b2)"/>
<ellipse cx="481.5" cy="228" rx="2.6" ry="6" fill="#4a43a2" fill-opacity="0.35" filter="url(#b2)"/>
<path d="M480.0,215.4h0.6v0.6h-0.6zM467.4,224.1h0.6v0.6h-0.6zM475.6,231.2h0.6v0.6h-0.6zM483.4,214.8h0.6v0.6h-0.6zM469.3,216.6h0.6v0.6h-0.6zM465.6,220.9h0.6v0.6h-0.6zM480.4,221.0h0.6v0.6h-0.6zM487.7,229.9h0.6v0.6h-0.6zM469.0,222.2h0.6v0.6h-0.6zM471.2,222.4h0.6v0.6h-0.6zM478.7,220.9h0.6v0.6h-0.6zM474.6,222.4h0.6v0.6h-0.6zM478.7,223.7h0.6v0.6h-0.6zM454.5,221.8h0.6v0.6h-0.6zM473.0,212.4h0.6v0.6h-0.6zM467.3,227.7h0.6v0.6h-0.6zM471.3,226.0h0.6v0.6h-0.6zM484.4,217.6h0.6v0.6h-0.6zM480.8,216.1h0.6v0.6h-0.6zM461.8,225.1h0.6v0.6h-0.6zM479.1,213.6h0.6v0.6h-0.6zM477.1,224.2h0.6v0.6h-0.6zM469.0,227.0h0.6v0.6h-0.6zM493.1,207.1h0.6v0.6h-0.6zM477.0,217.4h0.6v0.6h-0.6zM492.4,214.1h0.6v0.6h-0.6zM483.1,210.6h0.6v0.6h-0.6zM475.8,219.0h0.6v0.6h-0.6zM462.3,236.2h0.6v0.6h-0.6zM480.1,203.8h0.6v0.6h-0.6zM483.1,214.8h0.6v0.6h-0.6zM481.5,219.3h0.6v0.6h-0.6zM460.3,224.4h0.6v0.6h-0.6zM489.4,208.6h0.6v0.6h-0.6zM461.9,214.9h0.6v0.6h-0.6zM464.7,226.6h0.6v0.6h-0.6zM494.2,214.2h0.6v0.6h-0.6zM484.8,232.2h0.6v0.6h-0.6zM468.9,217.0h0.6v0.6h-0.6zM482.9,220.1h0.6v0.6h-0.6zM462.5,216.1h0.6v0.6h-0.6zM479.6,219.3h0.6v0.6h-0.6zM462.3,223.6h0.6v0.6h-0.6zM471.9,224.4h0.6v0.6h-0.6zM474.6,219.0h0.6v0.6h-0.6zM475.4,227.3h0.6v0.6h-0.6zM488.9,210.4h0.6v0.6h-0.6zM482.3,210.4h0.6v0.6h-0.6zM478.9,223.5h0.6v0.6h-0.6zM490.1,209.8h0.6v0.6h-0.6zM475.8,220.6h0.6v0.6h-0.6zM461.0,225.8h0.6v0.6h-0.6zM470.3,224.4h0.6v0.6h-0.6zM459.0,211.4h0.6v0.6h-0.6zM477.1,220.5h0.6v0.6h-0.6zM473.0,227.1h0.6v0.6h-0.6zM471.5,216.3h0.6v0.6h-0.6zM476.3,206.8h0.6v0.6h-0.6zM469.1,221.9h0.6v0.6h-0.6zM484.1,214.2h0.6v0.6h-0.6zM477.2,213.4h0.6v0.6h-0.6zM483.8,228.3h0.6v0.6h-0.6zM475.8,237.2h0.6v0.6h-0.6zM469.6,222.0h0.6v0.6h-0.6zM480.7,224.8h0.6v0.6h-0.6zM457.6,211.1h0.6v0.6h-0.6zM484.4,221.4h0.6v0.6h-0.6zM489.8,233.0h0.6v0.6h-0.6zM478.8,219.7h0.6v0.6h-0.6zM486.4,217.2h0.6v0.6h-0.6zM489.2,203.6h0.6v0.6h-0.6zM462.4,198.7h0.6v0.6h-0.6zM483.1,213.0h0.6v0.6h-0.6zM491.4,228.6h0.6v0.6h-0.6zM475.2,217.4h0.6v0.6h-0.6zM468.6,215.9h0.6v0.6h-0.6zM471.5,225.9h0.6v0.6h-0.6zM476.6,219.3h0.6v0.6h-0.6zM476.9,225.6h0.6v0.6h-0.6zM480.6,215.9h0.6v0.6h-0.6zM482.2,215.1h0.6v0.6h-0.6zM468.6,233.5h0.6v0.6h-0.6zM478.0,210.8h0.6v0.6h-0.6zM487.8,216.4h0.6v0.6h-0.6zM464.9,236.3h0.6v0.6h-0.6zM481.9,223.2h0.6v0.6h-0.6zM477.6,217.2h0.6v0.6h-0.6zM463.2,232.1h0.6v0.6h-0.6zM475.5,217.0h0.6v0.6h-0.6zM479.7,217.9h0.6v0.6h-0.6zM481.7,213.6h0.6v0.6h-0.6zM469.5,205.5h0.6v0.6h-0.6zM473.7,225.2h0.6v0.6h-0.6zM488.4,210.7h0.6v0.6h-0.6zM479.3,229.7h0.6v0.6h-0.6zM474.8,225.2h0.6v0.6h-0.6zM493.0,211.7h0.6v0.6h-0.6zM486.3,209.0h0.6v0.6h-0.6zM477.9,217.6h0.6v0.6h-0.6zM480.4,225.7h0.6v0.6h-0.6zM498.1,204.1h0.6v0.6h-0.6zM471.6,224.8h0.6v0.6h-0.6zM466.8,226.9h0.6v0.6h-0.6zM481.0,214.7h0.6v0.6h-0.6zM476.9,206.7h0.6v0.6h-0.6zM479.2,205.7h0.6v0.6h-0.6zM467.4,218.6h0.6v0.6h-0.6zM474.4,226.3h0.6v0.6h-0.6zM475.7,216.1h0.6v0.6h-0.6zM486.0,226.7h0.6v0.6h-0.6zM477.1,221.3h0.6v0.6h-0.6zM489.2,215.2h0.6v0.6h-0.6zM492.5,196.4h0.6v0.6h-0.6zM476.8,221.8h0.6v0.6h-0.6zM487.6,219.0h0.6v0.6h-0.6zM470.3,213.5h0.6v0.6h-0.6zM480.0,225.1h0.6v0.6h-0.6zM462.1,217.3h0.6v0.6h-0.6zM470.2,206.7h0.6v0.6h-0.6zM472.1,217.4h0.6v0.6h-0.6zM478.5,212.5h0.6v0.6h-0.6zM466.0,220.4h0.6v0.6h-0.6zM473.6,215.0h0.6v0.6h-0.6zM478.3,223.7h0.6v0.6h-0.6zM492.8,224.6h0.6v0.6h-0.6zM466.9,219.8h0.6v0.6h-0.6zM468.6,222.0h0.6v0.6h-0.6zM477.4,208.0h0.6v0.6h-0.6zM480.6,216.8h0.6v0.6h-0.6zM458.5,229.0h0.6v0.6h-0.6zM482.7,201.7h0.6v0.6h-0.6zM484.7,216.7h0.6v0.6h-0.6zM482.0,219.7h0.6v0.6h-0.6zM488.5,211.7h0.6v0.6h-0.6zM483.6,212.5h0.6v0.6h-0.6zM481.0,210.5h0.6v0.6h-0.6zM479.8,230.6h0.6v0.6h-0.6zM480.0,216.0h0.6v0.6h-0.6zM462.2,219.1h0.6v0.6h-0.6zM480.6,224.1h0.6v0.6h-0.6zM481.8,220.4h0.6v0.6h-0.6zM479.4,227.8h0.6v0.6h-0.6zM470.5,217.2h0.6v0.6h-0.6zM485.1,215.4h0.6v0.6h-0.6zM471.6,216.6h0.6v0.6h-0.6zM475.2,224.1h0.6v0.6h-0.6zM476.1,209.7h0.6v0.6h-0.6zM480.8,218.2h0.6v0.6h-0.6zM468.1,228.4h0.6v0.6h-0.6zM472.2,218.1h0.6v0.6h-0.6zM487.8,223.9h0.6v0.6h-0.6zM470.3,224.9h0.6v0.6h-0.6zM473.8,237.7h0.6v0.6h-0.6zM474.4,228.9h0.6v0.6h-0.6zM471.8,227.1h0.6v0.6h-0.6zM473.1,224.1h0.6v0.6h-0.6zM473.2,215.1h0.6v0.6h-0.6zM497.9,209.9h0.6v0.6h-0.6zM461.9,231.8h0.6v0.6h-0.6zM462.0,234.1h0.6v0.6h-0.6zM470.6,222.5h0.6v0.6h-0.6zM489.0,214.1h0.6v0.6h-0.6zM457.2,214.4h0.6v0.6h-0.6zM490.0,218.4h0.6v0.6h-0.6zM470.2,228.1h0.6v0.6h-0.6zM482.8,220.9h0.6v0.6h-0.6zM487.1,219.7h0.6v0.6h-0.6zM477.9,199.3h0.6v0.6h-0.6zM479.1,221.4h0.6v0.6h-0.6zM498.9,201.5h0.6v0.6h-0.6zM472.8,220.7h0.6v0.6h-0.6zM483.6,212.2h0.6v0.6h-0.6zM485.3,208.8h0.6v0.6h-0.6zM477.2,214.4h0.6v0.6h-0.6zM475.6,213.9h0.6v0.6h-0.6zM463.1,233.1h0.6v0.6h-0.6zM477.5,214.1h0.6v0.6h-0.6zM480.8,224.4h0.6v0.6h-0.6zM465.9,222.7h0.6v0.6h-0.6zM482.9,220.0h0.6v0.6h-0.6zM466.6,207.0h0.6v0.6h-0.6zM489.4,215.5h0.6v0.6h-0.6zM475.3,217.2h0.6v0.6h-0.6zM477.4,215.1h0.6v0.6h-0.6zM463.6,218.9h0.6v0.6h-0.6zM468.3,217.8h0.6v0.6h-0.6zM466.2,228.3h0.6v0.6h-0.6zM464.7,229.1h0.6v0.6h-0.6zM466.8,225.8h0.6v0.6h-0.6zM490.4,214.2h0.6v0.6h-0.6zM468.8,222.6h0.6v0.6h-0.6zM472.6,207.2h0.6v0.6h-0.6zM470.4,222.8h0.6v0.6h-0.6zM471.5,221.6h0.6v0.6h-0.6zM485.6,220.6h0.6v0.6h-0.6zM486.8,218.7h0.6v0.6h-0.6zM473.1,220.2h0.6v0.6h-0.6zM472.4,218.2h0.6v0.6h-0.6zM469.3,208.8h0.6v0.6h-0.6zM472.6,220.3h0.6v0.6h-0.6zM466.1,223.2h0.6v0.6h-0.6zM480.7,215.6h0.6v0.6h-0.6zM468.7,208.3h0.6v0.6h-0.6zM493.4,231.6h0.6v0.6h-0.6zM480.4,214.7h0.6v0.6h-0.6zM475.2,202.2h0.6v0.6h-0.6zM485.6,217.6h0.6v0.6h-0.6zM474.6,215.1h0.6v0.6h-0.6zM481.0,213.0h0.6v0.6h-0.6zM476.8,214.7h0.6v0.6h-0.6zM480.2,222.9h0.6v0.6h-0.6zM467.1,222.7h0.6v0.6h-0.6zM482.6,217.2h0.6v0.6h-0.6zM494.2,226.2h0.6v0.6h-0.6zM461.4,210.8h0.6v0.6h-0.6zM489.0,224.9h0.6v0.6h-0.6zM487.6,220.1h0.6v0.6h-0.6zM467.8,217.2h0.6v0.6h-0.6zM482.3,209.2h0.6v0.6h-0.6zM454.9,220.7h0.6v0.6h-0.6zM467.0,217.4h0.6v0.6h-0.6zM476.2,213.2h0.6v0.6h-0.6zM488.9,212.6h0.6v0.6h-0.6zM468.8,232.2h0.6v0.6h-0.6zM470.8,223.0h0.6v0.6h-0.6zM475.0,217.0h0.6v0.6h-0.6zM477.3,213.1h0.6v0.6h-0.6zM461.1,219.8h0.6v0.6h-0.6zM475.9,219.5h0.6v0.6h-0.6zM481.9,217.3h0.6v0.6h-0.6zM466.0,218.0h0.6v0.6h-0.6zM454.2,227.4h0.6v0.6h-0.6zM482.4,220.2h0.6v0.6h-0.6zM474.3,218.4h0.6v0.6h-0.6zM485.5,214.9h0.6v0.6h-0.6zM485.1,219.4h0.6v0.6h-0.6zM481.9,226.4h0.6v0.6h-0.6zM469.2,219.3h0.6v0.6h-0.6zM465.6,217.5h0.6v0.6h-0.6zM496.6,223.3h0.6v0.6h-0.6zM477.8,222.5h0.6v0.6h-0.6zM490.1,218.9h0.6v0.6h-0.6zM484.5,205.5h0.6v0.6h-0.6zM470.9,224.8h0.6v0.6h-0.6zM490.7,213.2h0.6v0.6h-0.6zM466.4,220.6h0.6v0.6h-0.6zM466.9,216.5h0.6v0.6h-0.6zM489.3,208.3h0.6v0.6h-0.6zM482.4,232.7h0.6v0.6h-0.6zM488.9,215.8h0.6v0.6h-0.6zM471.0,224.4h0.6v0.6h-0.6zM494.1,215.7h0.6v0.6h-0.6zM489.0,214.0h0.6v0.6h-0.6zM480.6,215.4h0.6v0.6h-0.6zM484.0,225.4h0.6v0.6h-0.6zM461.4,225.0h0.6v0.6h-0.6zM476.8,214.3h0.6v0.6h-0.6zM475.1,225.4h0.6v0.6h-0.6zM497.9,214.1h0.6v0.6h-0.6zM474.9,207.6h0.6v0.6h-0.6zM495.6,210.9h0.6v0.6h-0.6zM472.5,212.0h0.6v0.6h-0.6zM472.3,212.2h0.6v0.6h-0.6zM478.0,221.7h0.6v0.6h-0.6zM477.1,220.6h0.6v0.6h-0.6zM471.5,232.0h0.6v0.6h-0.6zM464.3,210.3h0.6v0.6h-0.6zM471.9,215.0h0.6v0.6h-0.6zM464.8,221.2h0.6v0.6h-0.6zM475.6,210.1h0.6v0.6h-0.6zM478.7,228.7h0.6v0.6h-0.6zM482.4,215.0h0.6v0.6h-0.6zM476.9,217.7h0.6v0.6h-0.6zM477.6,223.9h0.6v0.6h-0.6zM468.2,204.0h0.6v0.6h-0.6zM473.3,213.4h0.6v0.6h-0.6zM480.8,212.2h0.6v0.6h-0.6zM483.7,232.3h0.6v0.6h-0.6zM462.3,216.5h0.6v0.6h-0.6zM455.0,210.0h0.6v0.6h-0.6zM458.2,229.7h0.6v0.6h-0.6zM464.3,209.9h0.6v0.6h-0.6zM462.9,229.6h0.6v0.6h-0.6zM467.2,220.1h0.6v0.6h-0.6zM483.2,226.2h0.6v0.6h-0.6zM498.4,216.9h0.6v0.6h-0.6zM478.0,219.5h0.6v0.6h-0.6zM498.2,220.1h0.6v0.6h-0.6zM474.2,223.3h0.6v0.6h-0.6zM479.0,218.1h0.6v0.6h-0.6zM467.2,212.8h0.6v0.6h-0.6zM466.2,211.5h0.6v0.6h-0.6zM489.8,217.0h0.6v0.6h-0.6zM467.9,233.3h0.6v0.6h-0.6zM479.5,202.8h0.6v0.6h-0.6zM496.8,215.9h0.6v0.6h-0.6zM493.2,201.9h0.6v0.6h-0.6zM482.5,219.3h0.6v0.6h-0.6zM478.5,219.2h0.6v0.6h-0.6zM482.3,204.7h0.6v0.6h-0.6zM459.5,215.6h0.6v0.6h-0.6zM468.7,217.6h0.6v0.6h-0.6zM480.5,219.1h0.6v0.6h-0.6zM474.4,214.5h0.6v0.6h-0.6zM474.3,227.1h0.6v0.6h-0.6zM484.0,216.2h0.6v0.6h-0.6zM477.2,230.4h0.6v0.6h-0.6zM471.9,225.8h0.6v0.6h-0.6zM486.8,212.1h0.6v0.6h-0.6zM481.1,208.2h0.6v0.6h-0.6zM486.7,215.7h0.6v0.6h-0.6zM462.0,230.4h0.6v0.6h-0.6zM470.7,231.2h0.6v0.6h-0.6zM468.7,221.0h0.6v0.6h-0.6zM477.9,215.6h0.6v0.6h-0.6zM477.0,214.3h0.6v0.6h-0.6zM482.8,216.0h0.6v0.6h-0.6zM470.3,200.5h0.6v0.6h-0.6zM487.8,214.0h0.6v0.6h-0.6zM458.4,227.6h0.6v0.6h-0.6zM483.7,223.8h0.6v0.6h-0.6zM469.5,233.7h0.6v0.6h-0.6zM481.2,235.0h0.6v0.6h-0.6zM476.5,224.0h0.6v0.6h-0.6zM469.1,213.5h0.6v0.6h-0.6zM489.6,219.9h0.6v0.6h-0.6zM493.9,217.6h0.6v0.6h-0.6zM465.5,210.9h0.6v0.6h-0.6zM467.5,217.6h0.6v0.6h-0.6zM469.5,226.4h0.6v0.6h-0.6zM478.5,215.8h0.6v0.6h-0.6zM477.3,217.3h0.6v0.6h-0.6zM480.3,222.9h0.6v0.6h-0.6zM483.7,210.3h0.6v0.6h-0.6zM464.9,234.9h0.6v0.6h-0.6zM480.3,225.6h0.6v0.6h-0.6zM458.5,224.2h0.6v0.6h-0.6zM472.2,209.7h0.6v0.6h-0.6zM472.9,225.9h0.6v0.6h-0.6zM491.4,224.4h0.6v0.6h-0.6zM463.3,213.9h0.6v0.6h-0.6zM483.9,222.7h0.6v0.6h-0.6zM474.2,209.8h0.6v0.6h-0.6zM486.1,220.6h0.6v0.6h-0.6zM480.2,213.4h0.6v0.6h-0.6zM481.3,222.7h0.6v0.6h-0.6zM465.1,209.7h0.6v0.6h-0.6zM480.7,220.6h0.6v0.6h-0.6zM478.7,224.6h0.6v0.6h-0.6zM469.9,221.1h0.6v0.6h-0.6zM474.6,224.0h0.6v0.6h-0.6zM491.3,210.3h0.6v0.6h-0.6zM485.6,219.2h0.6v0.6h-0.6zM493.3,209.9h0.6v0.6h-0.6zM471.8,212.7h0.6v0.6h-0.6zM484.6,225.5h0.6v0.6h-0.6zM482.6,219.3h0.6v0.6h-0.6zM474.5,221.0h0.6v0.6h-0.6zM464.7,232.1h0.6v0.6h-0.6zM468.7,213.8h0.6v0.6h-0.6zM466.1,217.1h0.6v0.6h-0.6zM487.6,221.9h0.6v0.6h-0.6zM465.0,231.0h0.6v0.6h-0.6zM483.3,211.3h0.6v0.6h-0.6zM458.9,220.9h0.6v0.6h-0.6zM470.6,224.0h0.6v0.6h-0.6zM466.6,207.6h0.6v0.6h-0.6zM474.0,208.1h0.6v0.6h-0.6zM481.7,207.2h0.6v0.6h-0.6zM466.6,216.6h0.6v0.6h-0.6zM474.2,229.7h0.6v0.6h-0.6zM486.3,219.0h0.6v0.6h-0.6zM474.8,207.7h0.6v0.6h-0.6zM469.2,217.8h0.6v0.6h-0.6zM467.6,226.6h0.6v0.6h-0.6zM466.5,217.8h0.6v0.6h-0.6zM459.6,210.5h0.6v0.6h-0.6zM485.8,224.8h0.6v0.6h-0.6zM475.0,212.0h0.6v0.6h-0.6zM489.1,215.5h0.6v0.6h-0.6zM489.5,224.3h0.6v0.6h-0.6zM486.1,211.1h0.6v0.6h-0.6zM488.8,219.3h0.6v0.6h-0.6zM459.4,223.3h0.6v0.6h-0.6zM461.4,224.7h0.6v0.6h-0.6zM478.8,209.6h0.6v0.6h-0.6zM459.0,236.5h0.6v0.6h-0.6zM484.0,226.7h0.6v0.6h-0.6zM465.7,231.7h0.6v0.6h-0.6zM474.7,221.7h0.6v0.6h-0.6zM477.3,226.1h0.6v0.6h-0.6zM486.7,214.9h0.6v0.6h-0.6zM464.5,229.8h0.6v0.6h-0.6zM473.1,225.1h0.6v0.6h-0.6zM483.3,228.2h0.6v0.6h-0.6zM486.1,211.0h0.6v0.6h-0.6zM484.5,228.7h0.6v0.6h-0.6zM471.8,224.2h0.6v0.6h-0.6zM491.5,221.7h0.6v0.6h-0.6zM477.5,208.2h0.6v0.6h-0.6zM464.0,226.2h0.6v0.6h-0.6zM487.1,233.6h0.6v0.6h-0.6zM470.6,230.1h0.6v0.6h-0.6zM479.0,204.9h0.6v0.6h-0.6zM468.3,223.7h0.6v0.6h-0.6zM470.6,220.2h0.6v0.6h-0.6zM478.4,211.7h0.6v0.6h-0.6zM478.9,212.8h0.6v0.6h-0.6zM472.1,224.9h0.6v0.6h-0.6zM471.1,223.4h0.6v0.6h-0.6zM492.1,212.0h0.6v0.6h-0.6zM476.6,224.4h0.6v0.6h-0.6zM475.4,227.6h0.6v0.6h-0.6zM464.9,228.7h0.6v0.6h-0.6zM468.6,216.2h0.6v0.6h-0.6zM491.4,205.6h0.6v0.6h-0.6zM495.5,215.4h0.6v0.6h-0.6zM487.8,206.3h0.6v0.6h-0.6zM492.2,223.0h0.6v0.6h-0.6zM474.5,218.7h0.6v0.6h-0.6zM470.0,216.9h0.6v0.6h-0.6zM481.4,219.1h0.6v0.6h-0.6zM482.7,229.2h0.6v0.6h-0.6zM474.1,223.5h0.6v0.6h-0.6zM487.8,206.1h0.6v0.6h-0.6zM491.7,226.1h0.6v0.6h-0.6zM459.3,218.0h0.6v0.6h-0.6zM460.3,211.8h0.6v0.6h-0.6zM475.3,205.1h0.6v0.6h-0.6zM485.2,226.1h0.6v0.6h-0.6zM458.9,224.2h0.6v0.6h-0.6zM458.9,232.6h0.6v0.6h-0.6zM467.8,220.6h0.6v0.6h-0.6zM478.1,222.2h0.6v0.6h-0.6zM472.6,220.6h0.6v0.6h-0.6zM470.8,222.2h0.6v0.6h-0.6zM464.4,224.7h0.6v0.6h-0.6zM455.2,224.5h0.6v0.6h-0.6zM495.5,210.9h0.6v0.6h-0.6zM464.1,226.3h0.6v0.6h-0.6zM461.5,212.8h0.6v0.6h-0.6zM470.7,227.0h0.6v0.6h-0.6zM479.6,216.7h0.6v0.6h-0.6zM463.6,216.2h0.6v0.6h-0.6zM490.3,214.5h0.6v0.6h-0.6zM460.4,209.8h0.6v0.6h-0.6zM464.2,223.6h0.6v0.6h-0.6zM477.7,217.1h0.6v0.6h-0.6zM469.3,211.5h0.6v0.6h-0.6zM470.2,234.5h0.6v0.6h-0.6zM470.8,227.8h0.6v0.6h-0.6zM458.2,224.8h0.6v0.6h-0.6zM481.6,224.5h0.6v0.6h-0.6zM466.4,227.8h0.6v0.6h-0.6zM477.8,212.6h0.6v0.6h-0.6zM478.2,211.1h0.6v0.6h-0.6zM467.9,222.4h0.6v0.6h-0.6zM461.8,214.1h0.6v0.6h-0.6zM473.9,225.8h0.6v0.6h-0.6zM475.5,228.9h0.6v0.6h-0.6zM460.6,215.8h0.6v0.6h-0.6zM492.7,214.6h0.6v0.6h-0.6zM483.1,209.5h0.6v0.6h-0.6zM484.8,217.1h0.6v0.6h-0.6zM482.6,216.3h0.6v0.6h-0.6zM486.3,209.5h0.6v0.6h-0.6zM462.1,213.9h0.6v0.6h-0.6zM485.6,209.1h0.6v0.6h-0.6zM462.8,217.7h0.6v0.6h-0.6zM467.9,212.9h0.6v0.6h-0.6zM471.3,216.3h0.6v0.6h-0.6zM467.7,215.3h0.6v0.6h-0.6zM475.1,215.9h0.6v0.6h-0.6zM477.9,220.1h0.6v0.6h-0.6zM473.2,203.5h0.6v0.6h-0.6zM468.4,216.3h0.6v0.6h-0.6zM479.3,205.4h0.6v0.6h-0.6zM468.0,220.3h0.6v0.6h-0.6zM475.4,226.8h0.6v0.6h-0.6zM474.3,227.1h0.6v0.6h-0.6zM456.1,214.0h0.6v0.6h-0.6zM489.5,216.3h0.6v0.6h-0.6zM481.3,217.6h0.6v0.6h-0.6zM477.4,209.1h0.6v0.6h-0.6zM484.0,211.4h0.6v0.6h-0.6zM486.2,215.2h0.6v0.6h-0.6zM486.9,213.1h0.6v0.6h-0.6zM472.7,222.3h0.6v0.6h-0.6zM470.2,217.4h0.6v0.6h-0.6zM477.4,219.5h0.6v0.6h-0.6zM491.4,212.5h0.6v0.6h-0.6zM496.3,218.1h0.6v0.6h-0.6zM477.7,219.3h0.6v0.6h-0.6zM472.5,215.0h0.6v0.6h-0.6zM473.5,215.2h0.6v0.6h-0.6zM494.0,215.1h0.6v0.6h-0.6zM466.1,208.7h0.6v0.6h-0.6zM474.3,216.6h0.6v0.6h-0.6zM461.9,216.6h0.6v0.6h-0.6zM455.0,232.7h0.6v0.6h-0.6zM482.7,235.8h0.6v0.6h-0.6zM475.3,218.2h0.6v0.6h-0.6zM490.9,213.4h0.6v0.6h-0.6zM476.6,215.9h0.6v0.6h-0.6zM474.2,231.3h0.6v0.6h-0.6zM490.9,225.5h0.6v0.6h-0.6zM472.6,220.8h0.6v0.6h-0.6zM469.9,229.1h0.6v0.6h-0.6zM463.6,228.8h0.6v0.6h-0.6zM491.0,223.1h0.6v0.6h-0.6zM469.7,230.2h0.6v0.6h-0.6zM466.7,217.4h0.6v0.6h-0.6zM466.0,232.3h0.6v0.6h-0.6zM490.9,207.8h0.6v0.6h-0.6zM467.4,220.2h0.6v0.6h-0.6zM465.4,210.0h0.6v0.6h-0.6zM472.6,229.6h0.6v0.6h-0.6zM494.0,208.9h0.6v0.6h-0.6zM467.6,218.8h0.6v0.6h-0.6zM459.6,233.2h0.6v0.6h-0.6zM468.1,230.7h0.6v0.6h-0.6zM455.2,218.5h0.6v0.6h-0.6zM476.7,212.8h0.6v0.6h-0.6zM483.9,215.6h0.6v0.6h-0.6zM466.0,228.2h0.6v0.6h-0.6zM479.0,203.0h0.6v0.6h-0.6zM495.8,214.0h0.6v0.6h-0.6zM478.3,203.7h0.6v0.6h-0.6zM467.8,220.0h0.6v0.6h-0.6zM482.7,204.8h0.6v0.6h-0.6zM461.3,210.0h0.6v0.6h-0.6zM474.6,222.3h0.6v0.6h-0.6zM457.4,222.8h0.6v0.6h-0.6zM485.6,226.9h0.6v0.6h-0.6zM481.8,214.1h0.6v0.6h-0.6zM461.5,218.3h0.6v0.6h-0.6zM469.7,222.9h0.6v0.6h-0.6zM480.2,229.9h0.6v0.6h-0.6zM475.8,210.9h0.6v0.6h-0.6zM494.2,218.2h0.6v0.6h-0.6zM475.0,213.9h0.6v0.6h-0.6zM454.3,220.8h0.6v0.6h-0.6zM482.9,209.8h0.6v0.6h-0.6zM463.3,226.2h0.6v0.6h-0.6zM480.2,221.8h0.6v0.6h-0.6zM486.6,225.1h0.6v0.6h-0.6zM470.4,229.0h0.6v0.6h-0.6zM468.1,227.9h0.6v0.6h-0.6zM478.5,219.8h0.6v0.6h-0.6zM485.7,214.6h0.6v0.6h-0.6zM489.7,219.6h0.6v0.6h-0.6zM475.7,214.8h0.6v0.6h-0.6zM466.9,219.0h0.6v0.6h-0.6zM473.9,219.7h0.6v0.6h-0.6zM481.3,210.1h0.6v0.6h-0.6zM468.0,220.1h0.6v0.6h-0.6zM475.0,211.5h0.6v0.6h-0.6zM490.6,208.2h0.6v0.6h-0.6zM480.2,199.2h0.6v0.6h-0.6zM476.7,220.8h0.6v0.6h-0.6zM479.6,222.0h0.6v0.6h-0.6zM479.3,218.8h0.6v0.6h-0.6zM455.0,222.9h0.6v0.6h-0.6zM454.2,233.5h0.6v0.6h-0.6zM478.5,216.4h0.6v0.6h-0.6zM466.1,219.0h0.6v0.6h-0.6zM479.1,227.5h0.6v0.6h-0.6zM454.5,213.7h0.6v0.6h-0.6zM468.7,215.6h0.6v0.6h-0.6zM470.9,222.7h0.6v0.6h-0.6zM477.3,220.5h0.6v0.6h-0.6zM478.3,225.1h0.6v0.6h-0.6zM490.3,203.1h0.6v0.6h-0.6zM476.9,216.6h0.6v0.6h-0.6zM475.2,207.6h0.6v0.6h-0.6zM481.8,217.9h0.6v0.6h-0.6zM470.0,203.5h0.6v0.6h-0.6zM470.1,215.8h0.6v0.6h-0.6zM459.2,219.5h0.6v0.6h-0.6zM484.6,219.4h0.6v0.6h-0.6zM477.2,222.4h0.6v0.6h-0.6zM470.1,222.2h0.6v0.6h-0.6zM478.0,222.4h0.6v0.6h-0.6zM474.9,218.4h0.6v0.6h-0.6zM472.8,215.5h0.6v0.6h-0.6zM486.8,231.7h0.6v0.6h-0.6zM485.7,202.8h0.6v0.6h-0.6zM485.4,221.2h0.6v0.6h-0.6zM498.7,219.0h0.6v0.6h-0.6zM480.4,208.0h0.6v0.6h-0.6zM468.0,224.6h0.6v0.6h-0.6zM478.2,210.2h0.6v0.6h-0.6zM471.0,218.2h0.6v0.6h-0.6zM477.6,220.9h0.6v0.6h-0.6zM469.6,212.4h0.6v0.6h-0.6zM493.0,223.6h0.6v0.6h-0.6zM477.9,226.0h0.6v0.6h-0.6zM482.3,221.2h0.6v0.6h-0.6zM478.7,212.0h0.6v0.6h-0.6zM484.6,222.9h0.6v0.6h-0.6zM472.6,235.6h0.6v0.6h-0.6zM498.1,214.8h0.6v0.6h-0.6zM470.9,216.7h0.6v0.6h-0.6zM468.2,223.4h0.6v0.6h-0.6zM477.6,223.4h0.6v0.6h-0.6zM498.8,208.6h0.6v0.6h-0.6zM484.1,219.0h0.6v0.6h-0.6zM478.2,216.4h0.6v0.6h-0.6zM472.4,214.3h0.6v0.6h-0.6zM477.7,218.0h0.6v0.6h-0.6zM476.8,212.1h0.6v0.6h-0.6zM476.5,219.1h0.6v0.6h-0.6zM479.0,209.5h0.6v0.6h-0.6zM483.0,223.4h0.6v0.6h-0.6zM481.0,214.0h0.6v0.6h-0.6zM470.4,219.7h0.6v0.6h-0.6zM487.7,225.7h0.6v0.6h-0.6zM472.6,215.6h0.6v0.6h-0.6zM480.4,218.6h0.6v0.6h-0.6zM464.8,218.3h0.6v0.6h-0.6zM476.9,223.7h0.6v0.6h-0.6zM461.1,217.8h0.6v0.6h-0.6zM477.5,208.9h0.6v0.6h-0.6zM478.1,220.8h0.6v0.6h-0.6zM472.0,213.0h0.6v0.6h-0.6zM474.5,217.1h0.6v0.6h-0.6zM477.0,212.1h0.6v0.6h-0.6zM482.2,203.4h0.6v0.6h-0.6zM474.3,219.8h0.6v0.6h-0.6zM483.9,210.8h0.6v0.6h-0.6zM479.9,212.9h0.6v0.6h-0.6zM488.4,226.8h0.6v0.6h-0.6zM473.2,223.6h0.6v0.6h-0.6zM469.5,229.4h0.6v0.6h-0.6zM488.3,213.8h0.6v0.6h-0.6zM465.7,226.7h0.6v0.6h-0.6zM490.6,220.8h0.6v0.6h-0.6zM479.0,203.7h0.6v0.6h-0.6zM473.2,231.1h0.6v0.6h-0.6zM466.9,231.7h0.6v0.6h-0.6zM497.1,215.4h0.6v0.6h-0.6zM486.3,211.9h0.6v0.6h-0.6zM463.4,223.8h0.6v0.6h-0.6zM473.9,219.6h0.6v0.6h-0.6zM482.6,215.0h0.6v0.6h-0.6zM479.1,220.9h0.6v0.6h-0.6zM481.2,230.8h0.6v0.6h-0.6zM480.7,217.6h0.6v0.6h-0.6zM472.1,215.9h0.6v0.6h-0.6zM489.9,213.9h0.6v0.6h-0.6zM463.6,220.2h0.6v0.6h-0.6zM473.4,216.8h0.6v0.6h-0.6zM483.6,206.7h0.6v0.6h-0.6zM481.4,217.7h0.6v0.6h-0.6zM464.3,224.6h0.6v0.6h-0.6zM476.5,222.6h0.6v0.6h-0.6zM472.3,223.0h0.6v0.6h-0.6zM456.2,219.5h0.6v0.6h-0.6zM486.9,222.1h0.6v0.6h-0.6zM474.2,215.2h0.6v0.6h-0.6zM480.9,200.8h0.6v0.6h-0.6zM469.9,226.9h0.6v0.6h-0.6zM479.6,209.5h0.6v0.6h-0.6zM461.2,236.7h0.6v0.6h-0.6zM475.0,212.6h0.6v0.6h-0.6zM479.1,224.5h0.6v0.6h-0.6zM477.5,202.4h0.6v0.6h-0.6zM478.7,204.2h0.6v0.6h-0.6zM488.6,216.5h0.6v0.6h-0.6zM496.9,205.0h0.6v0.6h-0.6zM479.0,225.7h0.6v0.6h-0.6zM467.6,217.4h0.6v0.6h-0.6zM472.1,220.2h0.6v0.6h-0.6zM466.5,226.9h0.6v0.6h-0.6zM481.7,217.0h0.6v0.6h-0.6zM492.2,209.3h0.6v0.6h-0.6zM487.6,209.7h0.6v0.6h-0.6zM478.1,203.2h0.6v0.6h-0.6zM477.5,217.0h0.6v0.6h-0.6zM469.3,217.3h0.6v0.6h-0.6zM470.5,216.0h0.6v0.6h-0.6zM469.0,218.1h0.6v0.6h-0.6zM465.0,222.9h0.6v0.6h-0.6zM483.2,213.9h0.6v0.6h-0.6zM474.9,229.9h0.6v0.6h-0.6zM488.4,220.5h0.6v0.6h-0.6zM486.7,211.7h0.6v0.6h-0.6zM477.9,226.7h0.6v0.6h-0.6zM470.1,220.7h0.6v0.6h-0.6zM480.9,219.7h0.6v0.6h-0.6zM476.0,226.5h0.6v0.6h-0.6zM476.3,224.4h0.6v0.6h-0.6zM488.6,218.4h0.6v0.6h-0.6zM480.1,208.3h0.6v0.6h-0.6zM461.1,220.9h0.6v0.6h-0.6zM485.0,226.5h0.6v0.6h-0.6zM464.6,226.4h0.6v0.6h-0.6zM465.3,218.1h0.6v0.6h-0.6zM475.2,224.7h0.6v0.6h-0.6zM481.5,225.6h0.6v0.6h-0.6zM468.6,229.1h0.6v0.6h-0.6zM485.5,215.3h0.6v0.6h-0.6zM479.2,213.3h0.6v0.6h-0.6zM463.9,221.3h0.6v0.6h-0.6zM475.8,231.7h0.6v0.6h-0.6zM478.9,220.1h0.6v0.6h-0.6zM481.3,210.7h0.6v0.6h-0.6zM486.3,217.3h0.6v0.6h-0.6zM462.5,229.6h0.6v0.6h-0.6zM482.8,219.4h0.6v0.6h-0.6zM490.7,209.3h0.6v0.6h-0.6zM483.3,221.5h0.6v0.6h-0.6zM470.4,230.7h0.6v0.6h-0.6zM457.7,217.2h0.6v0.6h-0.6zM478.1,209.7h0.6v0.6h-0.6zM470.1,209.0h0.6v0.6h-0.6zM473.5,211.4h0.6v0.6h-0.6zM475.1,207.7h0.6v0.6h-0.6zM479.7,215.3h0.6v0.6h-0.6zM476.5,218.3h0.6v0.6h-0.6zM473.6,210.0h0.6v0.6h-0.6zM465.3,220.3h0.6v0.6h-0.6zM474.6,204.4h0.6v0.6h-0.6zM466.6,218.5h0.6v0.6h-0.6zM466.3,225.8h0.6v0.6h-0.6zM472.3,214.4h0.6v0.6h-0.6zM468.4,228.6h0.6v0.6h-0.6zM471.0,225.7h0.6v0.6h-0.6zM475.1,204.9h0.6v0.6h-0.6zM465.1,223.9h0.6v0.6h-0.6zM481.7,222.5h0.6v0.6h-0.6zM487.0,222.0h0.6v0.6h-0.6zM471.6,219.3h0.6v0.6h-0.6zM482.6,212.8h0.6v0.6h-0.6zM482.1,204.1h0.6v0.6h-0.6zM482.1,215.0h0.6v0.6h-0.6zM459.0,234.1h0.6v0.6h-0.6zM479.2,217.7h0.6v0.6h-0.6zM463.9,220.8h0.6v0.6h-0.6zM488.8,206.9h0.6v0.6h-0.6zM463.6,223.5h0.6v0.6h-0.6zM469.5,214.9h0.6v0.6h-0.6zM470.5,229.5h0.6v0.6h-0.6zM467.1,238.0h0.6v0.6h-0.6zM467.4,214.4h0.6v0.6h-0.6zM485.5,219.1h0.6v0.6h-0.6zM467.7,228.5h0.6v0.6h-0.6zM454.9,221.3h0.6v0.6h-0.6zM486.6,212.3h0.6v0.6h-0.6zM464.4,228.1h0.6v0.6h-0.6zM485.1,214.8h0.6v0.6h-0.6zM456.9,224.9h0.6v0.6h-0.6zM482.4,222.0h0.6v0.6h-0.6zM493.9,209.1h0.6v0.6h-0.6zM471.0,220.9h0.6v0.6h-0.6zM485.4,207.6h0.6v0.6h-0.6zM481.3,195.6h0.6v0.6h-0.6zM482.1,211.1h0.6v0.6h-0.6zM482.6,221.3h0.6v0.6h-0.6zM463.9,223.7h0.6v0.6h-0.6zM480.1,221.7h0.6v0.6h-0.6zM463.8,216.8h0.6v0.6h-0.6zM473.4,218.4h0.6v0.6h-0.6zM463.6,231.6h0.6v0.6h-0.6zM474.7,230.6h0.6v0.6h-0.6zM484.6,215.3h0.6v0.6h-0.6zM480.1,208.6h0.6v0.6h-0.6zM471.1,216.8h0.6v0.6h-0.6zM463.3,224.8h0.6v0.6h-0.6zM478.6,228.8h0.6v0.6h-0.6zM465.4,220.1h0.6v0.6h-0.6zM481.4,219.7h0.6v0.6h-0.6zM474.9,215.8h0.6v0.6h-0.6zM482.0,219.1h0.6v0.6h-0.6zM456.7,225.6h0.6v0.6h-0.6zM458.8,217.6h0.6v0.6h-0.6zM477.6,218.7h0.6v0.6h-0.6zM474.7,212.9h0.6v0.6h-0.6zM471.4,214.1h0.6v0.6h-0.6zM481.8,221.7h0.6v0.6h-0.6zM497.2,219.2h0.6v0.6h-0.6zM466.6,219.7h0.6v0.6h-0.6zM467.4,225.2h0.6v0.6h-0.6zM497.9,214.7h0.6v0.6h-0.6zM464.5,228.1h0.6v0.6h-0.6zM476.9,220.9h0.6v0.6h-0.6zM491.5,205.7h0.6v0.6h-0.6zM473.1,235.4h0.6v0.6h-0.6zM477.2,212.5h0.6v0.6h-0.6zM479.3,225.2h0.6v0.6h-0.6zM472.6,215.2h0.6v0.6h-0.6zM474.0,234.5h0.6v0.6h-0.6zM458.8,228.0h0.6v0.6h-0.6zM478.0,222.8h0.6v0.6h-0.6zM473.4,224.0h0.6v0.6h-0.6zM483.8,214.4h0.6v0.6h-0.6zM470.9,219.9h0.6v0.6h-0.6zM465.7,222.0h0.6v0.6h-0.6zM473.6,221.7h0.6v0.6h-0.6zM493.2,221.4h0.6v0.6h-0.6z" fill="#4c45a6" fill-opacity="0.55"/>
<path d="M479.7,232.6h0.6v0.6h-0.6zM481.9,233.6h0.6v0.6h-0.6zM481.1,230.6h0.6v0.6h-0.6zM479.6,224.3h0.6v0.6h-0.6zM483.6,236.8h0.6v0.6h-0.6zM483.0,231.6h0.6v0.6h-0.6zM481.8,226.3h0.6v0.6h-0.6zM475.7,233.0h0.6v0.6h-0.6zM481.6,225.7h0.6v0.6h-0.6zM478.1,236.7h0.6v0.6h-0.6zM478.8,228.9h0.6v0.6h-0.6zM479.5,229.9h0.6v0.6h-0.6zM480.4,224.5h0.6v0.6h-0.6zM484.2,224.3h0.6v0.6h-0.6zM479.5,232.3h0.6v0.6h-0.6zM479.4,226.4h0.6v0.6h-0.6zM482.1,226.8h0.6v0.6h-0.6zM477.3,228.4h0.6v0.6h-0.6zM477.7,234.8h0.6v0.6h-0.6zM478.6,226.9h0.6v0.6h-0.6zM480.0,230.6h0.6v0.6h-0.6zM479.1,237.0h0.6v0.6h-0.6zM484.0,233.9h0.6v0.6h-0.6zM478.7,234.4h0.6v0.6h-0.6zM480.7,231.1h0.6v0.6h-0.6zM480.2,233.0h0.6v0.6h-0.6zM484.3,235.8h0.6v0.6h-0.6zM480.4,235.0h0.6v0.6h-0.6zM485.4,223.4h0.6v0.6h-0.6zM485.4,221.0h0.6v0.6h-0.6zM482.6,232.6h0.6v0.6h-0.6zM485.4,230.7h0.6v0.6h-0.6zM479.6,224.2h0.6v0.6h-0.6zM477.2,233.6h0.6v0.6h-0.6zM480.3,224.7h0.6v0.6h-0.6zM482.6,224.4h0.6v0.6h-0.6zM479.7,226.2h0.6v0.6h-0.6zM486.0,237.8h0.6v0.6h-0.6zM480.5,219.6h0.6v0.6h-0.6zM481.8,229.4h0.6v0.6h-0.6zM482.0,232.4h0.6v0.6h-0.6zM480.0,234.6h0.6v0.6h-0.6zM483.5,230.3h0.6v0.6h-0.6zM479.8,226.1h0.6v0.6h-0.6zM483.1,222.4h0.6v0.6h-0.6zM480.5,224.5h0.6v0.6h-0.6zM476.8,232.6h0.6v0.6h-0.6zM480.9,229.2h0.6v0.6h-0.6zM483.6,220.0h0.6v0.6h-0.6zM480.8,230.7h0.6v0.6h-0.6zM483.5,222.5h0.6v0.6h-0.6zM483.1,230.3h0.6v0.6h-0.6zM485.1,235.8h0.6v0.6h-0.6zM481.0,226.5h0.6v0.6h-0.6zM480.0,223.4h0.6v0.6h-0.6zM480.9,217.7h0.6v0.6h-0.6zM480.7,231.6h0.6v0.6h-0.6zM484.0,226.9h0.6v0.6h-0.6zM485.2,225.1h0.6v0.6h-0.6zM480.6,217.7h0.6v0.6h-0.6zM478.7,224.3h0.6v0.6h-0.6zM485.4,232.1h0.6v0.6h-0.6zM477.8,232.1h0.6v0.6h-0.6zM482.4,227.6h0.6v0.6h-0.6zM481.1,227.2h0.6v0.6h-0.6zM479.4,218.6h0.6v0.6h-0.6zM480.7,236.5h0.6v0.6h-0.6zM485.2,227.4h0.6v0.6h-0.6zM478.8,227.8h0.6v0.6h-0.6zM483.6,231.1h0.6v0.6h-0.6zM479.3,231.1h0.6v0.6h-0.6zM480.4,232.0h0.6v0.6h-0.6zM479.8,220.4h0.6v0.6h-0.6zM481.2,233.5h0.6v0.6h-0.6zM477.8,228.4h0.6v0.6h-0.6zM483.6,226.8h0.6v0.6h-0.6zM483.4,235.0h0.6v0.6h-0.6zM476.2,226.0h0.6v0.6h-0.6zM483.2,236.8h0.6v0.6h-0.6zM478.3,225.1h0.6v0.6h-0.6zM481.6,217.7h0.6v0.6h-0.6zM482.9,232.3h0.6v0.6h-0.6zM479.7,232.1h0.6v0.6h-0.6zM483.3,230.8h0.6v0.6h-0.6zM482.5,237.8h0.6v0.6h-0.6zM479.6,229.9h0.6v0.6h-0.6zM479.5,235.0h0.6v0.6h-0.6zM479.8,231.8h0.6v0.6h-0.6zM481.4,229.4h0.6v0.6h-0.6zM486.0,228.5h0.6v0.6h-0.6zM485.1,233.8h0.6v0.6h-0.6zM484.8,228.0h0.6v0.6h-0.6zM483.7,233.4h0.6v0.6h-0.6zM479.2,230.6h0.6v0.6h-0.6zM480.6,228.8h0.6v0.6h-0.6zM484.8,224.8h0.6v0.6h-0.6zM476.1,218.9h0.6v0.6h-0.6zM479.7,225.3h0.6v0.6h-0.6zM481.0,232.3h0.6v0.6h-0.6zM486.1,230.8h0.6v0.6h-0.6zM482.3,224.7h0.6v0.6h-0.6zM482.7,236.9h0.6v0.6h-0.6zM484.9,217.7h0.6v0.6h-0.6zM483.4,220.4h0.6v0.6h-0.6zM480.1,232.4h0.6v0.6h-0.6zM482.2,224.3h0.6v0.6h-0.6zM478.4,234.6h0.6v0.6h-0.6zM477.1,237.3h0.6v0.6h-0.6zM481.1,230.7h0.6v0.6h-0.6zM477.1,225.6h0.6v0.6h-0.6zM483.0,220.5h0.6v0.6h-0.6zM487.0,220.9h0.6v0.6h-0.6zM477.5,229.2h0.6v0.6h-0.6zM482.4,233.2h0.6v0.6h-0.6zM479.9,227.8h0.6v0.6h-0.6zM480.3,225.7h0.6v0.6h-0.6zM473.6,234.5h0.6v0.6h-0.6zM481.7,229.9h0.6v0.6h-0.6zM479.2,230.4h0.6v0.6h-0.6zM481.0,228.6h0.6v0.6h-0.6zM484.2,219.1h0.6v0.6h-0.6zM481.7,222.9h0.6v0.6h-0.6zM480.1,237.6h0.6v0.6h-0.6zM477.9,228.4h0.6v0.6h-0.6zM479.3,234.5h0.6v0.6h-0.6zM478.2,219.3h0.6v0.6h-0.6zM482.5,227.0h0.6v0.6h-0.6zM480.1,235.2h0.6v0.6h-0.6zM478.4,226.8h0.6v0.6h-0.6zM481.4,231.4h0.6v0.6h-0.6zM479.5,235.0h0.6v0.6h-0.6zM487.5,226.6h0.6v0.6h-0.6zM486.4,216.8h0.6v0.6h-0.6zM485.1,227.0h0.6v0.6h-0.6zM481.4,227.0h0.6v0.6h-0.6zM479.2,221.6h0.6v0.6h-0.6zM479.9,236.5h0.6v0.6h-0.6zM484.3,227.0h0.6v0.6h-0.6zM479.5,225.0h0.6v0.6h-0.6zM482.9,229.7h0.6v0.6h-0.6zM479.6,223.1h0.6v0.6h-0.6zM484.8,233.5h0.6v0.6h-0.6zM478.3,234.7h0.6v0.6h-0.6zM477.8,232.7h0.6v0.6h-0.6zM478.2,226.6h0.6v0.6h-0.6zM482.4,231.5h0.6v0.6h-0.6zM483.9,224.2h0.6v0.6h-0.6zM485.5,236.7h0.6v0.6h-0.6zM481.0,231.7h0.6v0.6h-0.6zM478.8,228.1h0.6v0.6h-0.6zM477.2,229.5h0.6v0.6h-0.6zM481.6,236.7h0.6v0.6h-0.6zM483.7,233.7h0.6v0.6h-0.6zM480.0,227.7h0.6v0.6h-0.6zM480.0,230.3h0.6v0.6h-0.6zM475.4,233.4h0.6v0.6h-0.6zM476.5,226.0h0.6v0.6h-0.6zM481.1,226.0h0.6v0.6h-0.6zM485.8,228.4h0.6v0.6h-0.6zM485.5,235.8h0.6v0.6h-0.6zM479.6,231.3h0.6v0.6h-0.6zM484.7,227.1h0.6v0.6h-0.6zM481.3,225.8h0.6v0.6h-0.6zM481.2,227.0h0.6v0.6h-0.6zM481.2,234.8h0.6v0.6h-0.6zM485.0,229.8h0.6v0.6h-0.6zM481.6,233.9h0.6v0.6h-0.6zM480.2,222.9h0.6v0.6h-0.6zM484.2,223.6h0.6v0.6h-0.6zM483.7,223.4h0.6v0.6h-0.6zM486.3,223.0h0.6v0.6h-0.6zM483.4,237.6h0.6v0.6h-0.6zM478.2,237.6h0.6v0.6h-0.6zM478.6,218.8h0.6v0.6h-0.6zM483.1,233.0h0.6v0.6h-0.6zM480.4,214.5h0.6v0.6h-0.6zM480.8,227.2h0.6v0.6h-0.6zM479.9,227.3h0.6v0.6h-0.6zM475.8,225.7h0.6v0.6h-0.6zM486.2,237.9h0.6v0.6h-0.6zM480.0,224.9h0.6v0.6h-0.6zM482.1,235.1h0.6v0.6h-0.6zM483.1,222.3h0.6v0.6h-0.6zM481.5,229.8h0.6v0.6h-0.6zM485.1,235.9h0.6v0.6h-0.6zM482.5,236.0h0.6v0.6h-0.6zM479.9,237.9h0.6v0.6h-0.6zM479.8,231.3h0.6v0.6h-0.6zM483.6,223.7h0.6v0.6h-0.6zM479.0,218.9h0.6v0.6h-0.6zM481.5,228.7h0.6v0.6h-0.6zM480.1,231.9h0.6v0.6h-0.6zM474.9,228.9h0.6v0.6h-0.6zM481.3,227.5h0.6v0.6h-0.6zM479.7,223.6h0.6v0.6h-0.6zM479.3,229.5h0.6v0.6h-0.6zM482.7,224.0h0.6v0.6h-0.6zM483.9,223.1h0.6v0.6h-0.6zM483.4,231.5h0.6v0.6h-0.6zM480.2,228.0h0.6v0.6h-0.6zM482.4,234.0h0.6v0.6h-0.6zM477.1,230.6h0.6v0.6h-0.6zM478.9,232.6h0.6v0.6h-0.6zM484.9,229.3h0.6v0.6h-0.6zM480.7,230.1h0.6v0.6h-0.6zM472.5,233.4h0.6v0.6h-0.6zM482.6,229.9h0.6v0.6h-0.6zM479.9,224.8h0.6v0.6h-0.6zM480.5,236.0h0.6v0.6h-0.6zM480.7,236.8h0.6v0.6h-0.6zM473.6,226.4h0.6v0.6h-0.6zM481.8,228.9h0.6v0.6h-0.6zM476.2,225.2h0.6v0.6h-0.6zM484.6,221.6h0.6v0.6h-0.6zM478.1,222.7h0.6v0.6h-0.6zM479.4,232.7h0.6v0.6h-0.6zM482.7,217.3h0.6v0.6h-0.6zM485.2,225.6h0.6v0.6h-0.6zM480.8,221.9h0.6v0.6h-0.6zM479.2,224.8h0.6v0.6h-0.6zM478.1,227.1h0.6v0.6h-0.6zM483.5,231.0h0.6v0.6h-0.6zM478.1,229.7h0.6v0.6h-0.6zM481.1,233.4h0.6v0.6h-0.6zM480.1,231.6h0.6v0.6h-0.6zM487.1,229.6h0.6v0.6h-0.6zM477.9,230.9h0.6v0.6h-0.6zM478.7,226.9h0.6v0.6h-0.6zM481.5,230.9h0.6v0.6h-0.6zM480.2,233.9h0.6v0.6h-0.6zM480.4,221.5h0.6v0.6h-0.6zM483.5,226.9h0.6v0.6h-0.6zM484.5,225.2h0.6v0.6h-0.6zM482.6,230.8h0.6v0.6h-0.6zM473.2,220.4h0.6v0.6h-0.6zM477.8,237.1h0.6v0.6h-0.6zM475.6,234.3h0.6v0.6h-0.6zM484.1,231.9h0.6v0.6h-0.6zM482.9,226.1h0.6v0.6h-0.6zM481.0,230.3h0.6v0.6h-0.6zM482.2,233.1h0.6v0.6h-0.6zM480.4,225.0h0.6v0.6h-0.6zM479.4,231.4h0.6v0.6h-0.6zM476.2,221.8h0.6v0.6h-0.6zM479.8,225.8h0.6v0.6h-0.6zM480.2,213.7h0.6v0.6h-0.6zM480.0,227.6h0.6v0.6h-0.6zM483.2,217.6h0.6v0.6h-0.6zM480.1,231.7h0.6v0.6h-0.6zM482.4,235.9h0.6v0.6h-0.6zM484.0,223.0h0.6v0.6h-0.6zM482.8,227.1h0.6v0.6h-0.6zM478.7,237.8h0.6v0.6h-0.6zM479.2,224.1h0.6v0.6h-0.6zM479.8,224.1h0.6v0.6h-0.6zM483.9,231.2h0.6v0.6h-0.6zM485.0,231.4h0.6v0.6h-0.6zM479.2,235.0h0.6v0.6h-0.6zM479.1,226.3h0.6v0.6h-0.6zM480.5,229.2h0.6v0.6h-0.6z" fill="#4c45a6" fill-opacity="0.55"/>
<path d="M486.6,211.9h0.6v0.6h-0.6zM480.1,217.0h0.6v0.6h-0.6zM464.4,220.0h0.6v0.6h-0.6zM475.6,220.6h0.6v0.6h-0.6zM480.5,218.8h0.6v0.6h-0.6zM476.8,216.9h0.6v0.6h-0.6zM479.3,213.7h0.6v0.6h-0.6zM464.7,222.7h0.6v0.6h-0.6zM463.7,222.5h0.6v0.6h-0.6zM469.6,219.7h0.6v0.6h-0.6zM475.5,216.1h0.6v0.6h-0.6zM470.9,214.7h0.6v0.6h-0.6zM477.0,215.1h0.6v0.6h-0.6zM476.6,208.0h0.6v0.6h-0.6zM470.3,222.4h0.6v0.6h-0.6zM455.0,226.9h0.6v0.6h-0.6zM478.0,218.5h0.6v0.6h-0.6zM464.1,225.1h0.6v0.6h-0.6zM476.9,214.8h0.6v0.6h-0.6zM483.5,215.4h0.6v0.6h-0.6zM476.5,217.0h0.6v0.6h-0.6zM482.0,216.7h0.6v0.6h-0.6zM487.7,215.5h0.6v0.6h-0.6zM471.2,220.2h0.6v0.6h-0.6zM484.6,213.7h0.6v0.6h-0.6zM481.1,218.7h0.6v0.6h-0.6zM472.1,211.8h0.6v0.6h-0.6zM478.5,218.7h0.6v0.6h-0.6zM477.1,215.6h0.6v0.6h-0.6zM487.5,213.3h0.6v0.6h-0.6zM470.5,218.7h0.6v0.6h-0.6zM478.6,213.6h0.6v0.6h-0.6zM471.0,228.8h0.6v0.6h-0.6zM490.1,216.7h0.6v0.6h-0.6zM489.9,215.0h0.6v0.6h-0.6zM463.8,228.9h0.6v0.6h-0.6zM488.6,215.2h0.6v0.6h-0.6zM461.5,230.2h0.6v0.6h-0.6zM488.4,211.6h0.6v0.6h-0.6zM479.2,220.5h0.6v0.6h-0.6zM477.8,222.3h0.6v0.6h-0.6zM478.7,220.4h0.6v0.6h-0.6zM475.7,213.5h0.6v0.6h-0.6zM472.7,232.5h0.6v0.6h-0.6zM481.3,221.6h0.6v0.6h-0.6zM489.5,219.5h0.6v0.6h-0.6zM481.1,214.4h0.6v0.6h-0.6zM474.4,212.3h0.6v0.6h-0.6zM476.6,222.1h0.6v0.6h-0.6zM458.1,227.7h0.6v0.6h-0.6zM486.2,219.5h0.6v0.6h-0.6zM467.9,220.1h0.6v0.6h-0.6zM458.9,222.6h0.6v0.6h-0.6zM484.7,223.0h0.6v0.6h-0.6zM468.8,227.4h0.6v0.6h-0.6zM480.1,215.2h0.6v0.6h-0.6zM492.9,201.8h0.6v0.6h-0.6zM476.7,219.5h0.6v0.6h-0.6zM498.5,215.8h0.6v0.6h-0.6zM497.3,210.0h0.6v0.6h-0.6zM487.6,219.0h0.6v0.6h-0.6zM482.1,217.6h0.6v0.6h-0.6zM474.8,217.9h0.6v0.6h-0.6zM468.9,229.6h0.6v0.6h-0.6zM470.1,213.6h0.6v0.6h-0.6zM479.3,217.3h0.6v0.6h-0.6zM481.1,223.6h0.6v0.6h-0.6zM475.7,218.1h0.6v0.6h-0.6zM470.3,221.4h0.6v0.6h-0.6zM473.4,220.9h0.6v0.6h-0.6zM472.1,228.1h0.6v0.6h-0.6zM485.8,217.7h0.6v0.6h-0.6zM484.5,218.3h0.6v0.6h-0.6zM485.0,220.3h0.6v0.6h-0.6zM487.9,218.8h0.6v0.6h-0.6zM472.5,220.5h0.6v0.6h-0.6zM471.9,224.4h0.6v0.6h-0.6zM483.7,213.7h0.6v0.6h-0.6zM485.9,224.6h0.6v0.6h-0.6zM486.4,210.0h0.6v0.6h-0.6zM477.1,220.9h0.6v0.6h-0.6zM477.2,219.9h0.6v0.6h-0.6zM488.0,214.9h0.6v0.6h-0.6zM468.3,225.1h0.6v0.6h-0.6zM476.3,219.3h0.6v0.6h-0.6zM470.0,216.3h0.6v0.6h-0.6zM465.4,222.3h0.6v0.6h-0.6zM463.6,214.0h0.6v0.6h-0.6zM485.6,210.2h0.6v0.6h-0.6zM471.3,223.1h0.6v0.6h-0.6zM457.5,232.3h0.6v0.6h-0.6zM471.1,223.7h0.6v0.6h-0.6zM473.2,221.4h0.6v0.6h-0.6zM477.9,218.1h0.6v0.6h-0.6zM458.6,221.0h0.6v0.6h-0.6zM478.6,223.2h0.6v0.6h-0.6zM472.9,222.4h0.6v0.6h-0.6zM479.1,219.4h0.6v0.6h-0.6zM483.7,209.8h0.6v0.6h-0.6zM479.2,216.8h0.6v0.6h-0.6zM473.0,217.0h0.6v0.6h-0.6zM468.5,218.3h0.6v0.6h-0.6zM470.8,230.9h0.6v0.6h-0.6zM492.1,211.8h0.6v0.6h-0.6zM482.2,212.4h0.6v0.6h-0.6zM480.3,222.6h0.6v0.6h-0.6zM475.2,215.5h0.6v0.6h-0.6zM473.4,216.3h0.6v0.6h-0.6zM464.3,223.3h0.6v0.6h-0.6zM472.3,217.5h0.6v0.6h-0.6zM467.8,219.0h0.6v0.6h-0.6zM481.1,222.0h0.6v0.6h-0.6zM478.3,226.5h0.6v0.6h-0.6zM463.0,225.8h0.6v0.6h-0.6zM466.5,222.6h0.6v0.6h-0.6zM478.7,219.9h0.6v0.6h-0.6zM486.3,212.2h0.6v0.6h-0.6zM465.7,222.8h0.6v0.6h-0.6zM478.6,215.1h0.6v0.6h-0.6zM487.4,220.4h0.6v0.6h-0.6zM464.9,225.3h0.6v0.6h-0.6zM483.3,208.3h0.6v0.6h-0.6zM478.5,217.0h0.6v0.6h-0.6zM466.2,228.4h0.6v0.6h-0.6zM478.3,216.1h0.6v0.6h-0.6zM481.9,218.8h0.6v0.6h-0.6zM484.7,217.3h0.6v0.6h-0.6zM479.0,213.1h0.6v0.6h-0.6zM473.4,220.6h0.6v0.6h-0.6zM455.4,236.3h0.6v0.6h-0.6zM472.1,216.6h0.6v0.6h-0.6zM461.2,226.5h0.6v0.6h-0.6zM476.5,216.5h0.6v0.6h-0.6zM472.0,217.3h0.6v0.6h-0.6zM470.2,221.2h0.6v0.6h-0.6zM472.2,223.2h0.6v0.6h-0.6zM475.9,219.5h0.6v0.6h-0.6zM482.4,221.0h0.6v0.6h-0.6zM482.7,216.8h0.6v0.6h-0.6zM474.4,216.6h0.6v0.6h-0.6zM474.9,222.0h0.6v0.6h-0.6zM478.5,216.4h0.6v0.6h-0.6zM463.0,218.9h0.6v0.6h-0.6zM481.3,220.5h0.6v0.6h-0.6zM478.4,212.6h0.6v0.6h-0.6zM475.4,220.1h0.6v0.6h-0.6zM469.3,223.3h0.6v0.6h-0.6zM474.0,216.6h0.6v0.6h-0.6zM467.1,226.0h0.6v0.6h-0.6zM478.9,214.2h0.6v0.6h-0.6zM469.2,225.4h0.6v0.6h-0.6zM481.9,215.2h0.6v0.6h-0.6zM490.8,211.3h0.6v0.6h-0.6zM469.2,226.2h0.6v0.6h-0.6zM475.8,220.4h0.6v0.6h-0.6zM475.9,215.1h0.6v0.6h-0.6zM466.2,222.6h0.6v0.6h-0.6zM488.1,209.7h0.6v0.6h-0.6zM489.4,213.8h0.6v0.6h-0.6zM467.5,223.8h0.6v0.6h-0.6zM480.8,213.4h0.6v0.6h-0.6zM458.6,228.1h0.6v0.6h-0.6zM467.8,224.3h0.6v0.6h-0.6zM459.8,225.6h0.6v0.6h-0.6zM467.7,217.0h0.6v0.6h-0.6zM475.1,220.0h0.6v0.6h-0.6zM470.4,216.9h0.6v0.6h-0.6zM476.4,212.1h0.6v0.6h-0.6zM482.5,218.0h0.6v0.6h-0.6zM493.2,214.7h0.6v0.6h-0.6zM480.5,217.9h0.6v0.6h-0.6zM475.4,214.2h0.6v0.6h-0.6zM490.7,214.4h0.6v0.6h-0.6zM472.8,216.0h0.6v0.6h-0.6zM490.9,214.3h0.6v0.6h-0.6zM467.4,225.3h0.6v0.6h-0.6zM493.8,210.9h0.6v0.6h-0.6zM480.0,215.6h0.6v0.6h-0.6zM472.9,224.4h0.6v0.6h-0.6zM477.0,221.5h0.6v0.6h-0.6zM475.3,222.0h0.6v0.6h-0.6zM482.9,212.0h0.6v0.6h-0.6zM467.4,222.5h0.6v0.6h-0.6zM484.8,216.1h0.6v0.6h-0.6zM486.1,209.2h0.6v0.6h-0.6zM480.5,214.6h0.6v0.6h-0.6zM478.3,219.1h0.6v0.6h-0.6zM468.1,221.6h0.6v0.6h-0.6zM467.1,223.9h0.6v0.6h-0.6zM468.8,220.3h0.6v0.6h-0.6zM478.0,215.6h0.6v0.6h-0.6zM486.3,211.9h0.6v0.6h-0.6zM484.9,216.1h0.6v0.6h-0.6zM467.5,221.9h0.6v0.6h-0.6zM469.1,220.6h0.6v0.6h-0.6zM477.2,225.4h0.6v0.6h-0.6zM475.5,225.2h0.6v0.6h-0.6zM479.1,212.6h0.6v0.6h-0.6zM457.5,229.8h0.6v0.6h-0.6zM460.4,228.6h0.6v0.6h-0.6zM486.7,215.7h0.6v0.6h-0.6zM474.8,218.5h0.6v0.6h-0.6zM478.9,216.5h0.6v0.6h-0.6zM471.7,219.4h0.6v0.6h-0.6zM486.5,211.9h0.6v0.6h-0.6zM478.7,213.3h0.6v0.6h-0.6zM468.7,216.9h0.6v0.6h-0.6zM476.2,221.5h0.6v0.6h-0.6zM479.0,215.7h0.6v0.6h-0.6zM481.9,215.0h0.6v0.6h-0.6zM480.7,217.9h0.6v0.6h-0.6zM478.3,208.5h0.6v0.6h-0.6zM466.6,226.1h0.6v0.6h-0.6zM479.2,226.1h0.6v0.6h-0.6zM474.1,217.7h0.6v0.6h-0.6zM491.0,214.4h0.6v0.6h-0.6zM494.5,212.7h0.6v0.6h-0.6zM476.2,221.6h0.6v0.6h-0.6zM469.4,220.2h0.6v0.6h-0.6zM471.8,220.0h0.6v0.6h-0.6zM483.2,213.9h0.6v0.6h-0.6zM479.1,215.6h0.6v0.6h-0.6zM480.9,206.3h0.6v0.6h-0.6zM475.4,219.9h0.6v0.6h-0.6zM468.9,226.0h0.6v0.6h-0.6zM480.7,221.7h0.6v0.6h-0.6zM486.4,216.8h0.6v0.6h-0.6zM474.1,215.6h0.6v0.6h-0.6zM474.4,217.9h0.6v0.6h-0.6zM478.5,216.0h0.6v0.6h-0.6zM486.7,212.4h0.6v0.6h-0.6zM476.2,222.4h0.6v0.6h-0.6zM475.3,214.6h0.6v0.6h-0.6zM480.4,216.3h0.6v0.6h-0.6zM459.1,227.2h0.6v0.6h-0.6zM466.6,220.3h0.6v0.6h-0.6zM481.7,217.6h0.6v0.6h-0.6zM477.5,226.5h0.6v0.6h-0.6zM479.8,214.9h0.6v0.6h-0.6zM478.9,217.2h0.6v0.6h-0.6zM455.3,222.2h0.6v0.6h-0.6zM467.7,230.5h0.6v0.6h-0.6zM475.0,218.3h0.6v0.6h-0.6zM473.4,223.8h0.6v0.6h-0.6zM479.7,223.8h0.6v0.6h-0.6zM486.3,220.6h0.6v0.6h-0.6zM476.5,220.2h0.6v0.6h-0.6zM472.9,219.7h0.6v0.6h-0.6zM460.9,223.4h0.6v0.6h-0.6zM467.7,220.2h0.6v0.6h-0.6zM488.1,214.6h0.6v0.6h-0.6zM489.0,216.4h0.6v0.6h-0.6zM486.5,218.1h0.6v0.6h-0.6zM472.8,223.4h0.6v0.6h-0.6zM473.4,218.1h0.6v0.6h-0.6zM490.6,220.7h0.6v0.6h-0.6zM470.8,227.8h0.6v0.6h-0.6zM483.1,212.6h0.6v0.6h-0.6zM479.9,218.6h0.6v0.6h-0.6zM479.8,215.9h0.6v0.6h-0.6zM465.7,223.6h0.6v0.6h-0.6zM485.7,217.6h0.6v0.6h-0.6zM484.4,219.4h0.6v0.6h-0.6zM468.2,222.3h0.6v0.6h-0.6zM481.4,220.3h0.6v0.6h-0.6zM479.1,219.5h0.6v0.6h-0.6zM481.1,224.6h0.6v0.6h-0.6zM457.7,227.0h0.6v0.6h-0.6zM461.1,226.1h0.6v0.6h-0.6zM463.4,222.0h0.6v0.6h-0.6zM481.4,223.1h0.6v0.6h-0.6zM482.0,218.8h0.6v0.6h-0.6zM486.2,215.1h0.6v0.6h-0.6zM469.3,221.5h0.6v0.6h-0.6zM479.6,216.3h0.6v0.6h-0.6zM470.6,220.0h0.6v0.6h-0.6zM462.3,221.1h0.6v0.6h-0.6zM475.7,217.7h0.6v0.6h-0.6zM479.3,222.8h0.6v0.6h-0.6zM479.6,217.2h0.6v0.6h-0.6zM465.2,219.7h0.6v0.6h-0.6zM479.1,214.3h0.6v0.6h-0.6zM479.3,213.4h0.6v0.6h-0.6zM478.1,217.7h0.6v0.6h-0.6zM485.2,213.4h0.6v0.6h-0.6zM474.1,220.7h0.6v0.6h-0.6zM479.9,223.6h0.6v0.6h-0.6zM474.0,217.8h0.6v0.6h-0.6zM474.9,221.2h0.6v0.6h-0.6zM480.0,219.8h0.6v0.6h-0.6zM468.3,231.8h0.6v0.6h-0.6zM493.1,211.2h0.6v0.6h-0.6zM466.6,223.7h0.6v0.6h-0.6zM477.5,209.8h0.6v0.6h-0.6zM475.0,213.8h0.6v0.6h-0.6zM483.0,221.1h0.6v0.6h-0.6zM484.0,209.7h0.6v0.6h-0.6zM490.4,216.0h0.6v0.6h-0.6zM474.5,221.5h0.6v0.6h-0.6zM489.9,211.5h0.6v0.6h-0.6zM476.1,216.8h0.6v0.6h-0.6zM484.1,207.2h0.6v0.6h-0.6zM488.1,209.9h0.6v0.6h-0.6zM482.9,209.7h0.6v0.6h-0.6zM467.9,220.3h0.6v0.6h-0.6zM482.0,210.1h0.6v0.6h-0.6zM481.4,214.1h0.6v0.6h-0.6zM487.5,212.7h0.6v0.6h-0.6zM481.0,216.1h0.6v0.6h-0.6zM492.3,210.3h0.6v0.6h-0.6zM479.6,224.9h0.6v0.6h-0.6zM478.6,220.4h0.6v0.6h-0.6zM470.8,222.0h0.6v0.6h-0.6zM457.2,227.7h0.6v0.6h-0.6zM469.2,216.3h0.6v0.6h-0.6zM466.2,227.7h0.6v0.6h-0.6zM478.6,212.0h0.6v0.6h-0.6zM492.0,209.2h0.6v0.6h-0.6zM474.1,220.7h0.6v0.6h-0.6zM464.7,217.8h0.6v0.6h-0.6zM472.1,225.2h0.6v0.6h-0.6zM483.1,209.8h0.6v0.6h-0.6zM487.6,213.9h0.6v0.6h-0.6zM481.5,216.7h0.6v0.6h-0.6zM479.2,213.7h0.6v0.6h-0.6zM468.0,219.8h0.6v0.6h-0.6zM474.6,221.9h0.6v0.6h-0.6zM468.6,228.3h0.6v0.6h-0.6zM470.6,219.1h0.6v0.6h-0.6zM483.8,217.1h0.6v0.6h-0.6zM472.5,216.4h0.6v0.6h-0.6zM466.0,217.4h0.6v0.6h-0.6zM488.6,217.5h0.6v0.6h-0.6zM494.1,212.8h0.6v0.6h-0.6zM481.0,219.6h0.6v0.6h-0.6zM485.0,214.0h0.6v0.6h-0.6zM483.1,223.9h0.6v0.6h-0.6zM460.1,220.7h0.6v0.6h-0.6zM469.6,224.7h0.6v0.6h-0.6zM487.0,212.8h0.6v0.6h-0.6zM482.8,215.7h0.6v0.6h-0.6zM478.9,215.6h0.6v0.6h-0.6zM476.8,218.6h0.6v0.6h-0.6zM490.1,221.1h0.6v0.6h-0.6zM461.8,227.3h0.6v0.6h-0.6zM478.3,221.6h0.6v0.6h-0.6zM487.4,216.8h0.6v0.6h-0.6zM482.8,212.3h0.6v0.6h-0.6zM464.4,230.5h0.6v0.6h-0.6zM486.3,210.8h0.6v0.6h-0.6zM489.3,215.6h0.6v0.6h-0.6zM456.7,231.0h0.6v0.6h-0.6zM470.0,226.1h0.6v0.6h-0.6zM470.0,218.8h0.6v0.6h-0.6zM463.1,223.9h0.6v0.6h-0.6zM485.0,212.4h0.6v0.6h-0.6zM463.7,232.6h0.6v0.6h-0.6zM494.2,213.5h0.6v0.6h-0.6zM470.6,216.8h0.6v0.6h-0.6zM463.4,226.7h0.6v0.6h-0.6zM486.9,210.0h0.6v0.6h-0.6zM476.6,217.6h0.6v0.6h-0.6zM475.5,221.1h0.6v0.6h-0.6zM494.5,208.3h0.6v0.6h-0.6zM486.0,218.6h0.6v0.6h-0.6zM474.3,219.1h0.6v0.6h-0.6zM466.7,227.2h0.6v0.6h-0.6zM471.4,218.5h0.6v0.6h-0.6zM476.4,215.5h0.6v0.6h-0.6zM467.4,221.6h0.6v0.6h-0.6zM489.8,212.0h0.6v0.6h-0.6zM479.6,211.8h0.6v0.6h-0.6zM462.4,231.9h0.6v0.6h-0.6zM471.3,215.2h0.6v0.6h-0.6zM476.9,220.8h0.6v0.6h-0.6zM460.5,222.5h0.6v0.6h-0.6zM478.0,214.6h0.6v0.6h-0.6zM485.4,218.4h0.6v0.6h-0.6zM480.3,215.4h0.6v0.6h-0.6zM475.7,216.7h0.6v0.6h-0.6zM476.3,220.0h0.6v0.6h-0.6zM475.7,222.8h0.6v0.6h-0.6zM481.2,219.8h0.6v0.6h-0.6zM482.3,215.2h0.6v0.6h-0.6zM474.2,223.6h0.6v0.6h-0.6zM483.2,217.7h0.6v0.6h-0.6zM470.8,223.7h0.6v0.6h-0.6zM483.7,214.8h0.6v0.6h-0.6zM485.8,222.9h0.6v0.6h-0.6zM461.3,227.8h0.6v0.6h-0.6zM464.7,218.8h0.6v0.6h-0.6zM475.7,221.2h0.6v0.6h-0.6zM475.8,214.6h0.6v0.6h-0.6zM463.5,222.4h0.6v0.6h-0.6zM475.9,215.8h0.6v0.6h-0.6zM466.2,230.0h0.6v0.6h-0.6zM469.4,221.3h0.6v0.6h-0.6zM471.3,218.8h0.6v0.6h-0.6zM476.9,217.4h0.6v0.6h-0.6zM480.8,212.3h0.6v0.6h-0.6zM466.6,230.6h0.6v0.6h-0.6zM477.4,221.2h0.6v0.6h-0.6zM488.2,215.6h0.6v0.6h-0.6zM475.1,213.4h0.6v0.6h-0.6zM464.2,227.9h0.6v0.6h-0.6zM483.8,217.6h0.6v0.6h-0.6zM459.3,218.2h0.6v0.6h-0.6zM466.0,218.9h0.6v0.6h-0.6zM477.0,214.6h0.6v0.6h-0.6zM490.1,210.3h0.6v0.6h-0.6zM473.3,223.5h0.6v0.6h-0.6zM478.6,214.3h0.6v0.6h-0.6zM487.0,221.4h0.6v0.6h-0.6zM465.8,222.5h0.6v0.6h-0.6zM464.7,216.6h0.6v0.6h-0.6zM483.5,218.3h0.6v0.6h-0.6zM486.2,216.0h0.6v0.6h-0.6zM459.1,226.4h0.6v0.6h-0.6zM469.4,217.4h0.6v0.6h-0.6zM468.3,225.3h0.6v0.6h-0.6zM477.2,225.9h0.6v0.6h-0.6zM478.5,210.5h0.6v0.6h-0.6zM486.7,219.0h0.6v0.6h-0.6zM475.6,214.5h0.6v0.6h-0.6zM490.8,207.3h0.6v0.6h-0.6zM473.5,212.7h0.6v0.6h-0.6zM463.4,218.0h0.6v0.6h-0.6zM488.4,218.0h0.6v0.6h-0.6zM471.5,215.8h0.6v0.6h-0.6zM477.0,220.0h0.6v0.6h-0.6zM461.8,220.8h0.6v0.6h-0.6zM477.1,221.2h0.6v0.6h-0.6zM478.3,219.6h0.6v0.6h-0.6zM462.3,215.5h0.6v0.6h-0.6zM478.5,214.3h0.6v0.6h-0.6zM475.4,217.8h0.6v0.6h-0.6zM480.2,214.1h0.6v0.6h-0.6zM489.9,212.9h0.6v0.6h-0.6zM482.6,218.4h0.6v0.6h-0.6zM486.8,215.7h0.6v0.6h-0.6zM460.5,223.4h0.6v0.6h-0.6zM494.3,212.6h0.6v0.6h-0.6zM482.7,217.8h0.6v0.6h-0.6zM470.3,218.9h0.6v0.6h-0.6zM472.9,224.8h0.6v0.6h-0.6zM482.8,222.8h0.6v0.6h-0.6zM484.2,222.6h0.6v0.6h-0.6zM479.4,212.9h0.6v0.6h-0.6zM493.0,212.7h0.6v0.6h-0.6zM488.0,214.4h0.6v0.6h-0.6zM474.3,220.3h0.6v0.6h-0.6zM465.2,219.1h0.6v0.6h-0.6zM468.3,220.3h0.6v0.6h-0.6zM464.7,223.6h0.6v0.6h-0.6zM482.6,223.8h0.6v0.6h-0.6zM493.4,211.0h0.6v0.6h-0.6zM484.6,214.3h0.6v0.6h-0.6zM480.5,216.8h0.6v0.6h-0.6zM472.3,220.9h0.6v0.6h-0.6zM464.4,225.8h0.6v0.6h-0.6zM472.8,216.2h0.6v0.6h-0.6zM474.6,221.7h0.6v0.6h-0.6zM471.6,222.8h0.6v0.6h-0.6zM484.4,221.3h0.6v0.6h-0.6zM467.1,222.5h0.6v0.6h-0.6zM483.8,221.3h0.6v0.6h-0.6zM480.4,219.9h0.6v0.6h-0.6zM463.0,222.5h0.6v0.6h-0.6zM491.5,210.9h0.6v0.6h-0.6zM495.4,207.5h0.6v0.6h-0.6zM472.2,214.4h0.6v0.6h-0.6zM483.1,216.8h0.6v0.6h-0.6zM495.4,210.9h0.6v0.6h-0.6zM472.7,214.9h0.6v0.6h-0.6zM477.6,221.9h0.6v0.6h-0.6zM485.4,219.5h0.6v0.6h-0.6zM484.7,214.9h0.6v0.6h-0.6zM482.7,216.6h0.6v0.6h-0.6zM467.5,229.4h0.6v0.6h-0.6zM478.9,213.6h0.6v0.6h-0.6zM480.9,217.9h0.6v0.6h-0.6zM488.1,219.2h0.6v0.6h-0.6zM489.4,209.3h0.6v0.6h-0.6zM460.6,226.9h0.6v0.6h-0.6zM480.5,218.3h0.6v0.6h-0.6zM466.3,221.4h0.6v0.6h-0.6zM479.8,220.1h0.6v0.6h-0.6zM497.2,210.6h0.6v0.6h-0.6zM468.1,213.2h0.6v0.6h-0.6zM486.5,213.7h0.6v0.6h-0.6zM474.6,215.7h0.6v0.6h-0.6zM481.0,209.7h0.6v0.6h-0.6zM478.2,218.5h0.6v0.6h-0.6zM481.6,221.5h0.6v0.6h-0.6zM476.2,219.2h0.6v0.6h-0.6zM482.5,210.0h0.6v0.6h-0.6zM474.5,219.9h0.6v0.6h-0.6zM484.5,212.0h0.6v0.6h-0.6zM484.8,216.5h0.6v0.6h-0.6zM461.4,219.7h0.6v0.6h-0.6zM464.2,224.7h0.6v0.6h-0.6zM479.9,220.0h0.6v0.6h-0.6zM483.6,213.4h0.6v0.6h-0.6zM487.9,216.9h0.6v0.6h-0.6zM482.0,218.2h0.6v0.6h-0.6zM465.9,224.9h0.6v0.6h-0.6zM465.9,218.8h0.6v0.6h-0.6zM474.0,220.4h0.6v0.6h-0.6zM476.0,217.6h0.6v0.6h-0.6zM468.2,223.2h0.6v0.6h-0.6zM468.2,216.9h0.6v0.6h-0.6zM480.0,222.9h0.6v0.6h-0.6zM471.8,216.7h0.6v0.6h-0.6zM492.1,218.5h0.6v0.6h-0.6zM474.0,219.0h0.6v0.6h-0.6zM483.2,227.3h0.6v0.6h-0.6zM479.7,221.2h0.6v0.6h-0.6zM478.4,210.8h0.6v0.6h-0.6zM465.2,218.9h0.6v0.6h-0.6zM481.1,217.1h0.6v0.6h-0.6zM492.9,210.4h0.6v0.6h-0.6zM479.9,217.5h0.6v0.6h-0.6zM481.6,225.5h0.6v0.6h-0.6zM481.7,222.2h0.6v0.6h-0.6zM487.9,211.3h0.6v0.6h-0.6zM482.7,214.5h0.6v0.6h-0.6zM478.2,218.6h0.6v0.6h-0.6zM476.5,216.9h0.6v0.6h-0.6zM490.8,211.3h0.6v0.6h-0.6zM485.8,221.2h0.6v0.6h-0.6zM484.2,219.3h0.6v0.6h-0.6zM491.2,216.4h0.6v0.6h-0.6zM490.6,206.8h0.6v0.6h-0.6zM494.9,210.6h0.6v0.6h-0.6zM460.1,223.5h0.6v0.6h-0.6zM464.3,224.1h0.6v0.6h-0.6zM462.0,221.2h0.6v0.6h-0.6zM479.9,217.8h0.6v0.6h-0.6zM469.4,221.0h0.6v0.6h-0.6zM476.2,219.1h0.6v0.6h-0.6zM476.6,217.8h0.6v0.6h-0.6zM482.7,209.7h0.6v0.6h-0.6zM472.7,220.9h0.6v0.6h-0.6zM472.5,218.3h0.6v0.6h-0.6zM473.3,221.0h0.6v0.6h-0.6zM488.1,212.8h0.6v0.6h-0.6zM475.1,220.8h0.6v0.6h-0.6zM472.0,213.1h0.6v0.6h-0.6zM478.9,216.2h0.6v0.6h-0.6zM472.7,222.9h0.6v0.6h-0.6zM476.6,216.5h0.6v0.6h-0.6zM454.6,221.7h0.6v0.6h-0.6zM477.0,218.1h0.6v0.6h-0.6zM481.3,217.5h0.6v0.6h-0.6zM470.8,216.3h0.6v0.6h-0.6zM466.8,222.5h0.6v0.6h-0.6zM467.6,225.7h0.6v0.6h-0.6zM462.3,218.0h0.6v0.6h-0.6zM472.6,213.5h0.6v0.6h-0.6zM490.4,208.6h0.6v0.6h-0.6zM476.2,217.9h0.6v0.6h-0.6zM466.9,216.0h0.6v0.6h-0.6zM461.3,228.9h0.6v0.6h-0.6zM489.5,221.5h0.6v0.6h-0.6zM464.5,226.3h0.6v0.6h-0.6zM478.1,221.3h0.6v0.6h-0.6zM473.4,223.0h0.6v0.6h-0.6zM486.1,216.9h0.6v0.6h-0.6zM490.0,212.0h0.6v0.6h-0.6zM490.1,209.9h0.6v0.6h-0.6zM488.2,202.7h0.6v0.6h-0.6zM476.0,215.8h0.6v0.6h-0.6zM478.5,221.9h0.6v0.6h-0.6zM483.7,215.9h0.6v0.6h-0.6zM490.4,206.7h0.6v0.6h-0.6zM471.8,226.8h0.6v0.6h-0.6zM477.0,210.3h0.6v0.6h-0.6zM478.4,213.2h0.6v0.6h-0.6zM492.2,216.3h0.6v0.6h-0.6zM473.9,225.0h0.6v0.6h-0.6zM470.7,224.9h0.6v0.6h-0.6zM482.1,215.7h0.6v0.6h-0.6zM463.6,223.4h0.6v0.6h-0.6zM455.3,226.0h0.6v0.6h-0.6zM461.9,230.0h0.6v0.6h-0.6zM464.6,214.4h0.6v0.6h-0.6zM482.9,217.3h0.6v0.6h-0.6zM475.5,227.5h0.6v0.6h-0.6zM484.2,215.6h0.6v0.6h-0.6zM466.8,211.4h0.6v0.6h-0.6zM482.8,219.7h0.6v0.6h-0.6zM469.5,216.3h0.6v0.6h-0.6zM474.2,213.2h0.6v0.6h-0.6zM478.2,221.0h0.6v0.6h-0.6zM491.2,213.2h0.6v0.6h-0.6zM479.9,220.2h0.6v0.6h-0.6zM489.3,211.8h0.6v0.6h-0.6zM464.6,220.9h0.6v0.6h-0.6zM464.2,220.7h0.6v0.6h-0.6zM476.4,220.1h0.6v0.6h-0.6zM478.5,218.1h0.6v0.6h-0.6zM474.4,221.3h0.6v0.6h-0.6zM486.2,217.4h0.6v0.6h-0.6zM490.3,211.5h0.6v0.6h-0.6zM477.2,225.1h0.6v0.6h-0.6zM479.4,219.0h0.6v0.6h-0.6zM475.3,223.1h0.6v0.6h-0.6zM471.8,216.8h0.6v0.6h-0.6zM475.8,217.3h0.6v0.6h-0.6zM484.1,213.9h0.6v0.6h-0.6zM477.8,217.3h0.6v0.6h-0.6zM479.2,215.0h0.6v0.6h-0.6zM485.0,209.3h0.6v0.6h-0.6zM472.4,217.7h0.6v0.6h-0.6zM483.0,216.0h0.6v0.6h-0.6zM480.9,215.4h0.6v0.6h-0.6zM468.8,217.7h0.6v0.6h-0.6zM473.2,218.1h0.6v0.6h-0.6zM480.1,218.5h0.6v0.6h-0.6zM485.8,214.2h0.6v0.6h-0.6zM468.6,218.1h0.6v0.6h-0.6zM478.1,219.4h0.6v0.6h-0.6zM495.1,211.2h0.6v0.6h-0.6zM495.8,217.5h0.6v0.6h-0.6zM469.2,226.7h0.6v0.6h-0.6zM489.4,218.3h0.6v0.6h-0.6zM478.3,221.7h0.6v0.6h-0.6zM472.5,220.2h0.6v0.6h-0.6zM479.8,224.3h0.6v0.6h-0.6zM476.4,222.5h0.6v0.6h-0.6zM476.6,215.9h0.6v0.6h-0.6zM480.2,219.7h0.6v0.6h-0.6zM471.4,223.5h0.6v0.6h-0.6zM469.2,218.5h0.6v0.6h-0.6zM478.7,216.8h0.6v0.6h-0.6zM465.6,217.1h0.6v0.6h-0.6zM477.6,219.2h0.6v0.6h-0.6zM473.1,221.0h0.6v0.6h-0.6zM463.6,226.0h0.6v0.6h-0.6zM481.2,217.7h0.6v0.6h-0.6zM471.5,221.3h0.6v0.6h-0.6zM479.8,221.5h0.6v0.6h-0.6zM479.9,218.2h0.6v0.6h-0.6zM471.7,224.3h0.6v0.6h-0.6zM487.0,212.1h0.6v0.6h-0.6zM483.3,216.9h0.6v0.6h-0.6zM474.7,214.5h0.6v0.6h-0.6zM490.3,205.2h0.6v0.6h-0.6zM479.2,216.0h0.6v0.6h-0.6zM486.8,212.5h0.6v0.6h-0.6zM478.3,220.3h0.6v0.6h-0.6zM480.4,214.9h0.6v0.6h-0.6zM483.8,217.0h0.6v0.6h-0.6zM485.3,212.8h0.6v0.6h-0.6zM476.0,217.4h0.6v0.6h-0.6zM469.7,222.7h0.6v0.6h-0.6zM482.8,221.5h0.6v0.6h-0.6zM474.6,221.1h0.6v0.6h-0.6zM487.3,213.5h0.6v0.6h-0.6zM477.8,218.7h0.6v0.6h-0.6zM469.3,218.1h0.6v0.6h-0.6zM487.4,214.5h0.6v0.6h-0.6zM474.5,214.7h0.6v0.6h-0.6zM479.8,221.9h0.6v0.6h-0.6zM465.2,220.2h0.6v0.6h-0.6zM489.2,218.7h0.6v0.6h-0.6zM490.3,210.4h0.6v0.6h-0.6zM481.4,213.6h0.6v0.6h-0.6zM481.2,215.2h0.6v0.6h-0.6zM480.7,222.1h0.6v0.6h-0.6zM479.7,216.3h0.6v0.6h-0.6zM477.9,219.1h0.6v0.6h-0.6zM472.6,221.3h0.6v0.6h-0.6zM484.7,221.2h0.6v0.6h-0.6zM456.5,222.9h0.6v0.6h-0.6zM467.0,226.4h0.6v0.6h-0.6zM479.8,221.7h0.6v0.6h-0.6zM454.6,227.8h0.6v0.6h-0.6zM471.7,219.0h0.6v0.6h-0.6zM479.2,215.2h0.6v0.6h-0.6zM487.1,214.0h0.6v0.6h-0.6zM484.1,225.3h0.6v0.6h-0.6zM474.3,223.3h0.6v0.6h-0.6zM471.3,225.9h0.6v0.6h-0.6zM486.0,215.1h0.6v0.6h-0.6zM488.3,219.7h0.6v0.6h-0.6zM489.5,212.9h0.6v0.6h-0.6zM478.1,222.3h0.6v0.6h-0.6zM462.8,222.5h0.6v0.6h-0.6zM482.2,218.4h0.6v0.6h-0.6zM496.4,216.7h0.6v0.6h-0.6zM480.6,218.6h0.6v0.6h-0.6zM464.8,223.2h0.6v0.6h-0.6zM479.0,216.7h0.6v0.6h-0.6zM478.4,220.2h0.6v0.6h-0.6zM467.6,220.5h0.6v0.6h-0.6zM462.6,229.4h0.6v0.6h-0.6zM465.0,217.2h0.6v0.6h-0.6zM483.7,214.7h0.6v0.6h-0.6zM485.2,213.4h0.6v0.6h-0.6zM497.3,212.3h0.6v0.6h-0.6zM478.5,218.3h0.6v0.6h-0.6zM476.3,222.0h0.6v0.6h-0.6zM494.5,209.1h0.6v0.6h-0.6zM468.0,224.8h0.6v0.6h-0.6zM484.5,209.4h0.6v0.6h-0.6zM469.3,218.0h0.6v0.6h-0.6zM482.8,217.9h0.6v0.6h-0.6zM468.7,217.8h0.6v0.6h-0.6zM480.2,209.1h0.6v0.6h-0.6zM482.6,215.4h0.6v0.6h-0.6zM495.8,214.0h0.6v0.6h-0.6zM471.4,219.9h0.6v0.6h-0.6zM473.5,217.3h0.6v0.6h-0.6zM479.1,221.3h0.6v0.6h-0.6zM463.1,223.8h0.6v0.6h-0.6zM491.5,214.9h0.6v0.6h-0.6zM468.5,219.1h0.6v0.6h-0.6zM467.0,216.7h0.6v0.6h-0.6zM487.5,214.1h0.6v0.6h-0.6zM468.7,216.6h0.6v0.6h-0.6zM472.8,218.4h0.6v0.6h-0.6zM491.8,210.1h0.6v0.6h-0.6zM479.6,221.5h0.6v0.6h-0.6zM482.7,215.2h0.6v0.6h-0.6zM459.4,231.8h0.6v0.6h-0.6zM481.8,214.7h0.6v0.6h-0.6zM474.8,215.8h0.6v0.6h-0.6zM466.8,217.3h0.6v0.6h-0.6zM482.3,218.2h0.6v0.6h-0.6zM479.7,220.3h0.6v0.6h-0.6zM482.0,216.8h0.6v0.6h-0.6zM469.9,223.9h0.6v0.6h-0.6zM488.6,215.8h0.6v0.6h-0.6zM487.5,212.0h0.6v0.6h-0.6zM470.0,226.5h0.6v0.6h-0.6zM472.1,221.6h0.6v0.6h-0.6zM475.3,219.3h0.6v0.6h-0.6zM473.8,217.8h0.6v0.6h-0.6zM463.7,231.8h0.6v0.6h-0.6zM476.1,211.5h0.6v0.6h-0.6zM467.3,218.5h0.6v0.6h-0.6zM466.7,213.2h0.6v0.6h-0.6zM484.5,221.5h0.6v0.6h-0.6zM475.9,221.9h0.6v0.6h-0.6zM480.6,212.1h0.6v0.6h-0.6zM485.5,208.2h0.6v0.6h-0.6zM471.3,219.6h0.6v0.6h-0.6zM488.4,213.9h0.6v0.6h-0.6zM474.7,216.4h0.6v0.6h-0.6zM477.9,218.3h0.6v0.6h-0.6zM485.5,220.1h0.6v0.6h-0.6zM483.6,215.6h0.6v0.6h-0.6zM477.9,224.3h0.6v0.6h-0.6zM478.8,217.6h0.6v0.6h-0.6zM495.3,216.4h0.6v0.6h-0.6zM481.9,215.9h0.6v0.6h-0.6zM472.9,224.5h0.6v0.6h-0.6zM474.3,223.4h0.6v0.6h-0.6zM470.1,222.0h0.6v0.6h-0.6zM480.8,217.4h0.6v0.6h-0.6zM479.6,218.8h0.6v0.6h-0.6zM465.4,219.4h0.6v0.6h-0.6zM478.3,224.9h0.6v0.6h-0.6zM474.6,216.0h0.6v0.6h-0.6zM471.2,221.2h0.6v0.6h-0.6zM486.8,212.0h0.6v0.6h-0.6zM482.3,216.9h0.6v0.6h-0.6zM472.5,216.9h0.6v0.6h-0.6zM474.6,216.8h0.6v0.6h-0.6zM479.3,210.7h0.6v0.6h-0.6zM488.2,216.5h0.6v0.6h-0.6zM484.3,221.0h0.6v0.6h-0.6zM479.9,210.6h0.6v0.6h-0.6zM478.1,219.7h0.6v0.6h-0.6zM469.3,217.6h0.6v0.6h-0.6zM481.6,218.4h0.6v0.6h-0.6zM472.9,219.4h0.6v0.6h-0.6zM471.7,218.7h0.6v0.6h-0.6zM478.0,222.2h0.6v0.6h-0.6zM462.2,223.8h0.6v0.6h-0.6zM491.8,213.1h0.6v0.6h-0.6zM479.6,220.6h0.6v0.6h-0.6zM466.3,218.6h0.6v0.6h-0.6zM460.1,220.4h0.6v0.6h-0.6zM480.4,220.2h0.6v0.6h-0.6zM472.3,218.0h0.6v0.6h-0.6zM481.5,218.9h0.6v0.6h-0.6zM476.6,211.4h0.6v0.6h-0.6zM468.5,212.5h0.6v0.6h-0.6zM478.0,214.8h0.6v0.6h-0.6zM473.3,225.9h0.6v0.6h-0.6zM489.5,214.8h0.6v0.6h-0.6zM479.7,218.0h0.6v0.6h-0.6zM471.7,220.7h0.6v0.6h-0.6zM492.8,208.1h0.6v0.6h-0.6zM471.3,221.6h0.6v0.6h-0.6zM486.1,217.6h0.6v0.6h-0.6zM468.2,221.9h0.6v0.6h-0.6zM472.9,215.6h0.6v0.6h-0.6zM477.0,216.7h0.6v0.6h-0.6zM485.8,216.2h0.6v0.6h-0.6zM470.2,221.8h0.6v0.6h-0.6zM472.9,217.9h0.6v0.6h-0.6zM474.2,223.8h0.6v0.6h-0.6zM470.9,214.7h0.6v0.6h-0.6zM471.3,224.1h0.6v0.6h-0.6zM494.6,206.6h0.6v0.6h-0.6zM473.4,218.9h0.6v0.6h-0.6zM465.1,225.4h0.6v0.6h-0.6zM476.9,219.6h0.6v0.6h-0.6zM496.5,208.8h0.6v0.6h-0.6zM485.2,218.0h0.6v0.6h-0.6zM470.5,219.1h0.6v0.6h-0.6zM491.9,214.6h0.6v0.6h-0.6zM476.7,214.4h0.6v0.6h-0.6zM485.6,216.7h0.6v0.6h-0.6zM498.6,214.5h0.6v0.6h-0.6zM484.5,216.2h0.6v0.6h-0.6zM476.8,216.5h0.6v0.6h-0.6zM480.1,218.1h0.6v0.6h-0.6zM484.3,219.4h0.6v0.6h-0.6zM479.0,215.5h0.6v0.6h-0.6zM486.4,220.3h0.6v0.6h-0.6zM470.2,223.1h0.6v0.6h-0.6zM482.6,218.0h0.6v0.6h-0.6zM481.4,216.2h0.6v0.6h-0.6zM478.5,224.3h0.6v0.6h-0.6zM490.4,207.2h0.6v0.6h-0.6zM455.1,229.9h0.6v0.6h-0.6zM470.3,219.5h0.6v0.6h-0.6zM463.4,225.9h0.6v0.6h-0.6zM475.7,217.0h0.6v0.6h-0.6zM488.4,222.7h0.6v0.6h-0.6zM491.8,216.4h0.6v0.6h-0.6zM474.3,222.2h0.6v0.6h-0.6zM478.3,222.3h0.6v0.6h-0.6zM482.1,216.1h0.6v0.6h-0.6zM480.9,214.0h0.6v0.6h-0.6zM486.2,220.2h0.6v0.6h-0.6zM474.6,221.7h0.6v0.6h-0.6zM463.5,228.1h0.6v0.6h-0.6zM483.3,211.8h0.6v0.6h-0.6zM492.6,212.0h0.6v0.6h-0.6zM459.7,221.0h0.6v0.6h-0.6zM484.4,214.2h0.6v0.6h-0.6zM484.6,209.2h0.6v0.6h-0.6zM477.5,222.0h0.6v0.6h-0.6zM472.0,223.4h0.6v0.6h-0.6zM474.3,221.0h0.6v0.6h-0.6zM483.0,224.4h0.6v0.6h-0.6zM467.1,225.9h0.6v0.6h-0.6zM487.0,209.7h0.6v0.6h-0.6zM481.0,225.6h0.6v0.6h-0.6zM482.1,204.9h0.6v0.6h-0.6zM472.5,214.0h0.6v0.6h-0.6zM478.7,215.0h0.6v0.6h-0.6zM470.8,218.0h0.6v0.6h-0.6zM479.0,215.8h0.6v0.6h-0.6zM468.7,221.3h0.6v0.6h-0.6zM479.4,214.2h0.6v0.6h-0.6zM484.5,208.8h0.6v0.6h-0.6zM480.1,215.6h0.6v0.6h-0.6zM490.1,210.2h0.6v0.6h-0.6zM469.2,216.8h0.6v0.6h-0.6zM495.5,212.6h0.6v0.6h-0.6zM466.9,221.7h0.6v0.6h-0.6zM470.7,227.1h0.6v0.6h-0.6zM477.8,210.3h0.6v0.6h-0.6zM480.2,220.6h0.6v0.6h-0.6zM477.7,220.0h0.6v0.6h-0.6zM476.3,219.6h0.6v0.6h-0.6zM477.9,215.4h0.6v0.6h-0.6zM480.3,217.7h0.6v0.6h-0.6zM475.7,216.5h0.6v0.6h-0.6zM468.4,223.3h0.6v0.6h-0.6zM480.9,207.5h0.6v0.6h-0.6zM474.2,224.9h0.6v0.6h-0.6zM484.1,212.6h0.6v0.6h-0.6zM487.6,210.0h0.6v0.6h-0.6zM472.8,227.8h0.6v0.6h-0.6zM472.8,219.5h0.6v0.6h-0.6zM460.9,221.8h0.6v0.6h-0.6zM466.4,222.7h0.6v0.6h-0.6zM462.2,229.2h0.6v0.6h-0.6zM473.0,218.0h0.6v0.6h-0.6zM472.4,223.4h0.6v0.6h-0.6zM490.0,211.1h0.6v0.6h-0.6zM493.6,217.3h0.6v0.6h-0.6zM489.3,214.1h0.6v0.6h-0.6zM464.7,226.5h0.6v0.6h-0.6zM473.6,220.7h0.6v0.6h-0.6zM459.9,225.1h0.6v0.6h-0.6zM477.7,214.6h0.6v0.6h-0.6zM482.0,222.7h0.6v0.6h-0.6zM478.1,215.4h0.6v0.6h-0.6zM495.1,202.2h0.6v0.6h-0.6zM469.4,223.4h0.6v0.6h-0.6zM468.5,213.5h0.6v0.6h-0.6zM480.5,220.1h0.6v0.6h-0.6z" fill="#4c45a6" fill-opacity="0.7"/>
<path d="M-13,0.8 C-13,-2.8 -6,-4.6 1,-4.2 C6,-3.8 11,-2.4 15.5,-0.8 C11,1.6 6,3.6 0,4.4 C-6,5 -13,4 -13,0.8 Z" transform="translate(481 215.8) rotate(-23)" fill="#4540a8" filter="url(#b1)"/>
<g transform="translate(479.8 216.2) rotate(-23)" filter="url(#b1)"><ellipse cx="0.00" cy="0.00" rx="9.40" ry="3.50" fill="#3b4cc0"/><ellipse cx="0.25" cy="0.00" rx="7.52" ry="2.80" fill="#2f8fd8"/><ellipse cx="0.50" cy="0.00" rx="6.02" ry="2.24" fill="#2fc7c0"/><ellipse cx="0.75" cy="0.00" rx="4.81" ry="1.79" fill="#58d66a"/><ellipse cx="1.00" cy="0.00" rx="3.85" ry="1.43" fill="#d8e032"/><ellipse cx="1.25" cy="0.00" rx="3.08" ry="1.15" fill="#f6a021"/><ellipse cx="1.50" cy="0.00" rx="2.46" ry="0.92" fill="#e8301f"/></g>
<path d="M-13,0.8 C-13,-2.8 -6,-4.6 1,-4.2 C6,-3.8 11,-2.4 15.5,-0.8 C11,1.6 6,3.6 0,4.4 C-6,5 -13,4 -13,0.8 Z" transform="translate(481 215.8) rotate(-23)" fill="none" stroke="#ed1c24" stroke-width="1.2" stroke-linejoin="round"/>
<path d="M452,193V239H499" fill="none" stroke="#000" stroke-width="1.3"/><path d="M450.0,239.0h2M450.0,223.7h2M450.0,208.3h2M450.0,193.0h2M452.0,239v2M467.7,239v2M483.3,239v2M499.0,239v2" fill="none" stroke="#000" stroke-width="0.9"/><path d="M450.8,234.4h1.2M450.8,231.6h1.2M450.8,229.8h1.2M450.8,228.3h1.2M450.8,227.0h1.2M450.8,226.0h1.2M450.8,225.2h1.2M450.8,224.4h1.2M450.8,219.1h1.2M450.8,216.3h1.2M450.8,214.5h1.2M450.8,212.9h1.2M450.8,211.7h1.2M450.8,210.6h1.2M450.8,209.9h1.2M450.8,209.1h1.2M450.8,203.7h1.2M450.8,201.0h1.2M450.8,199.1h1.2M450.8,197.6h1.2M450.8,196.4h1.2M450.8,195.3h1.2M450.8,194.5h1.2M450.8,193.8h1.2M456.7,239v1.2M459.5,239v1.2M461.4,239v1.2M463.0,239v1.2M464.2,239v1.2M465.3,239v1.2M466.1,239v1.2M466.9,239v1.2M472.4,239v1.2M475.2,239v1.2M477.1,239v1.2M478.6,239v1.2M479.9,239v1.2M481.0,239v1.2M481.8,239v1.2M482.6,239v1.2M488.0,239v1.2M490.9,239v1.2M492.7,239v1.2M494.3,239v1.2M495.6,239v1.2M496.6,239v1.2M497.4,239v1.2M498.2,239v1.2" fill="none" stroke="#000" stroke-width="0.4"/>
<text x="547.20" y="181.80" font-size="6.45" text-anchor="middle" fill="#000" stroke="#000" stroke-width="0.18">debris and</text>
<text x="547.20" y="190.20" font-size="6.45" text-anchor="middle" fill="#000" stroke="#000" stroke-width="0.18">doublet exclusion</text>
<text x="539.50" y="248.00" font-size="6.9" text-anchor="middle" fill="#000" stroke="#000" stroke-width="0.18">Event length</text>
<path d="M518.1,219.2h0.6v0.6h-0.6zM522.8,217.2h0.6v0.6h-0.6zM515.4,208.5h0.6v0.6h-0.6zM526.9,223.2h0.6v0.6h-0.6zM525.9,208.5h0.6v0.6h-0.6zM521.7,203.9h0.6v0.6h-0.6zM525.1,203.4h0.6v0.6h-0.6zM515.4,221.5h0.6v0.6h-0.6zM521.2,210.1h0.6v0.6h-0.6zM528.7,197.6h0.6v0.6h-0.6zM519.0,207.0h0.6v0.6h-0.6zM516.3,198.6h0.6v0.6h-0.6zM516.4,213.2h0.6v0.6h-0.6zM520.8,214.5h0.6v0.6h-0.6zM517.0,212.8h0.6v0.6h-0.6zM519.4,209.2h0.6v0.6h-0.6zM524.5,208.7h0.6v0.6h-0.6zM519.7,196.3h0.6v0.6h-0.6zM521.2,214.2h0.6v0.6h-0.6zM518.7,208.0h0.6v0.6h-0.6zM522.5,218.0h0.6v0.6h-0.6zM519.8,196.2h0.6v0.6h-0.6zM519.6,197.0h0.6v0.6h-0.6zM520.0,222.7h0.6v0.6h-0.6zM522.1,207.4h0.6v0.6h-0.6zM524.9,205.7h0.6v0.6h-0.6zM522.2,210.0h0.6v0.6h-0.6zM522.7,197.7h0.6v0.6h-0.6zM523.6,215.0h0.6v0.6h-0.6zM517.7,219.5h0.6v0.6h-0.6zM521.1,213.5h0.6v0.6h-0.6zM523.1,215.0h0.6v0.6h-0.6zM518.6,204.2h0.6v0.6h-0.6zM522.4,213.0h0.6v0.6h-0.6zM523.1,211.0h0.6v0.6h-0.6zM519.2,216.6h0.6v0.6h-0.6zM522.8,216.3h0.6v0.6h-0.6zM518.5,209.4h0.6v0.6h-0.6zM519.2,206.2h0.6v0.6h-0.6zM521.7,211.1h0.6v0.6h-0.6zM518.1,212.5h0.6v0.6h-0.6zM517.8,211.7h0.6v0.6h-0.6zM519.6,201.5h0.6v0.6h-0.6zM525.4,220.8h0.6v0.6h-0.6zM520.6,208.1h0.6v0.6h-0.6zM524.6,198.7h0.6v0.6h-0.6zM517.7,216.9h0.6v0.6h-0.6zM524.4,204.8h0.6v0.6h-0.6zM518.1,211.1h0.6v0.6h-0.6zM515.7,204.8h0.6v0.6h-0.6zM523.2,214.2h0.6v0.6h-0.6zM525.0,197.8h0.6v0.6h-0.6zM516.2,202.5h0.6v0.6h-0.6zM516.1,223.7h0.6v0.6h-0.6zM517.3,206.2h0.6v0.6h-0.6zM521.8,211.9h0.6v0.6h-0.6zM526.5,200.4h0.6v0.6h-0.6zM524.3,209.6h0.6v0.6h-0.6zM516.6,209.6h0.6v0.6h-0.6zM515.7,220.6h0.6v0.6h-0.6zM518.3,216.0h0.6v0.6h-0.6zM525.9,203.9h0.6v0.6h-0.6zM517.6,209.5h0.6v0.6h-0.6zM517.0,215.2h0.6v0.6h-0.6zM521.7,202.8h0.6v0.6h-0.6zM518.4,213.9h0.6v0.6h-0.6zM515.5,221.1h0.6v0.6h-0.6zM518.0,207.0h0.6v0.6h-0.6zM517.5,220.6h0.6v0.6h-0.6zM524.1,218.2h0.6v0.6h-0.6zM523.5,209.2h0.6v0.6h-0.6zM527.4,213.5h0.6v0.6h-0.6zM522.6,212.8h0.6v0.6h-0.6zM523.8,210.6h0.6v0.6h-0.6zM520.4,196.6h0.6v0.6h-0.6zM528.8,198.8h0.6v0.6h-0.6zM528.3,217.6h0.6v0.6h-0.6zM518.7,210.5h0.6v0.6h-0.6zM519.7,210.7h0.6v0.6h-0.6zM525.4,199.5h0.6v0.6h-0.6zM522.3,209.1h0.6v0.6h-0.6zM521.6,209.6h0.6v0.6h-0.6zM519.6,198.3h0.6v0.6h-0.6zM522.7,211.4h0.6v0.6h-0.6zM523.2,217.8h0.6v0.6h-0.6zM517.5,211.5h0.6v0.6h-0.6zM520.9,214.0h0.6v0.6h-0.6zM533.2,204.6h0.6v0.6h-0.6zM520.4,204.0h0.6v0.6h-0.6zM521.9,212.4h0.6v0.6h-0.6zM517.3,218.4h0.6v0.6h-0.6zM525.4,211.8h0.6v0.6h-0.6zM520.6,206.7h0.6v0.6h-0.6zM517.3,204.7h0.6v0.6h-0.6zM524.8,201.6h0.6v0.6h-0.6zM519.0,214.9h0.6v0.6h-0.6zM528.1,203.3h0.6v0.6h-0.6zM525.2,203.6h0.6v0.6h-0.6zM522.5,212.1h0.6v0.6h-0.6zM516.7,216.2h0.6v0.6h-0.6zM527.8,208.9h0.6v0.6h-0.6zM522.0,199.7h0.6v0.6h-0.6zM527.8,209.0h0.6v0.6h-0.6zM516.2,214.2h0.6v0.6h-0.6zM515.4,203.4h0.6v0.6h-0.6zM529.4,203.7h0.6v0.6h-0.6zM518.5,204.2h0.6v0.6h-0.6zM518.9,212.7h0.6v0.6h-0.6zM526.5,200.9h0.6v0.6h-0.6zM526.8,207.8h0.6v0.6h-0.6zM518.3,220.0h0.6v0.6h-0.6zM520.6,218.8h0.6v0.6h-0.6zM525.1,220.9h0.6v0.6h-0.6zM518.0,208.9h0.6v0.6h-0.6zM522.4,207.0h0.6v0.6h-0.6zM526.8,203.1h0.6v0.6h-0.6zM524.8,218.7h0.6v0.6h-0.6zM517.6,204.4h0.6v0.6h-0.6zM522.5,207.2h0.6v0.6h-0.6zM521.3,205.1h0.6v0.6h-0.6zM520.7,212.1h0.6v0.6h-0.6zM523.8,202.6h0.6v0.6h-0.6zM520.6,202.8h0.6v0.6h-0.6zM520.3,197.7h0.6v0.6h-0.6zM524.6,213.5h0.6v0.6h-0.6zM520.5,203.4h0.6v0.6h-0.6zM519.3,203.5h0.6v0.6h-0.6zM515.1,220.7h0.6v0.6h-0.6zM533.5,199.3h0.6v0.6h-0.6zM516.6,212.8h0.6v0.6h-0.6zM523.3,196.7h0.6v0.6h-0.6zM519.1,209.1h0.6v0.6h-0.6zM521.0,204.3h0.6v0.6h-0.6zM520.5,206.3h0.6v0.6h-0.6zM525.7,207.8h0.6v0.6h-0.6zM520.9,204.5h0.6v0.6h-0.6zM518.6,203.0h0.6v0.6h-0.6zM521.0,222.3h0.6v0.6h-0.6zM525.2,210.3h0.6v0.6h-0.6zM527.3,216.1h0.6v0.6h-0.6zM521.8,207.3h0.6v0.6h-0.6zM516.8,210.4h0.6v0.6h-0.6zM519.8,196.6h0.6v0.6h-0.6zM516.1,223.0h0.6v0.6h-0.6zM521.8,212.2h0.6v0.6h-0.6zM521.8,205.0h0.6v0.6h-0.6zM522.8,216.6h0.6v0.6h-0.6zM519.8,212.3h0.6v0.6h-0.6zM524.9,204.9h0.6v0.6h-0.6zM521.6,203.0h0.6v0.6h-0.6zM523.3,205.7h0.6v0.6h-0.6zM525.4,202.8h0.6v0.6h-0.6zM527.4,206.2h0.6v0.6h-0.6zM517.8,201.7h0.6v0.6h-0.6zM523.5,202.1h0.6v0.6h-0.6zM527.9,218.1h0.6v0.6h-0.6zM523.0,197.8h0.6v0.6h-0.6zM520.9,203.1h0.6v0.6h-0.6zM529.4,204.5h0.6v0.6h-0.6zM524.1,218.1h0.6v0.6h-0.6zM517.3,206.0h0.6v0.6h-0.6zM522.0,212.0h0.6v0.6h-0.6zM516.6,210.1h0.6v0.6h-0.6zM520.6,215.6h0.6v0.6h-0.6zM519.1,206.1h0.6v0.6h-0.6zM523.7,203.8h0.6v0.6h-0.6zM531.4,203.2h0.6v0.6h-0.6zM524.2,216.1h0.6v0.6h-0.6zM524.7,207.0h0.6v0.6h-0.6zM517.8,206.6h0.6v0.6h-0.6zM523.5,209.4h0.6v0.6h-0.6zM523.2,212.8h0.6v0.6h-0.6zM517.6,201.5h0.6v0.6h-0.6zM526.5,204.9h0.6v0.6h-0.6zM517.8,201.5h0.6v0.6h-0.6zM524.7,200.0h0.6v0.6h-0.6zM517.7,216.4h0.6v0.6h-0.6zM521.5,208.9h0.6v0.6h-0.6zM518.6,206.8h0.6v0.6h-0.6zM519.1,208.3h0.6v0.6h-0.6zM523.9,199.0h0.6v0.6h-0.6zM526.7,207.9h0.6v0.6h-0.6zM520.9,208.1h0.6v0.6h-0.6zM524.8,210.9h0.6v0.6h-0.6zM524.2,207.2h0.6v0.6h-0.6zM520.5,208.1h0.6v0.6h-0.6zM515.0,201.0h0.6v0.6h-0.6zM523.5,208.9h0.6v0.6h-0.6zM524.1,221.3h0.6v0.6h-0.6zM528.1,218.9h0.6v0.6h-0.6zM520.1,223.9h0.6v0.6h-0.6zM517.7,207.9h0.6v0.6h-0.6zM524.8,206.9h0.6v0.6h-0.6zM520.5,205.9h0.6v0.6h-0.6zM525.8,216.4h0.6v0.6h-0.6zM520.7,212.7h0.6v0.6h-0.6zM517.3,216.8h0.6v0.6h-0.6zM532.6,201.6h0.6v0.6h-0.6zM526.3,208.1h0.6v0.6h-0.6zM519.7,204.8h0.6v0.6h-0.6zM520.3,199.1h0.6v0.6h-0.6zM515.8,221.0h0.6v0.6h-0.6zM520.9,212.6h0.6v0.6h-0.6zM522.2,212.1h0.6v0.6h-0.6zM515.2,201.4h0.6v0.6h-0.6zM523.4,216.0h0.6v0.6h-0.6zM516.7,204.2h0.6v0.6h-0.6zM516.9,213.4h0.6v0.6h-0.6zM522.3,208.7h0.6v0.6h-0.6zM518.5,211.1h0.6v0.6h-0.6zM521.1,202.9h0.6v0.6h-0.6zM522.3,203.5h0.6v0.6h-0.6zM524.6,213.2h0.6v0.6h-0.6zM518.4,212.9h0.6v0.6h-0.6zM521.3,203.2h0.6v0.6h-0.6zM517.5,196.0h0.6v0.6h-0.6zM516.7,211.1h0.6v0.6h-0.6zM525.6,203.8h0.6v0.6h-0.6zM521.6,211.1h0.6v0.6h-0.6zM524.0,211.8h0.6v0.6h-0.6zM525.7,214.2h0.6v0.6h-0.6zM518.1,211.5h0.6v0.6h-0.6zM521.1,212.8h0.6v0.6h-0.6zM519.9,214.7h0.6v0.6h-0.6zM526.0,202.2h0.6v0.6h-0.6zM518.9,210.5h0.6v0.6h-0.6zM522.9,209.6h0.6v0.6h-0.6zM524.2,199.6h0.6v0.6h-0.6zM523.9,217.2h0.6v0.6h-0.6zM525.2,211.7h0.6v0.6h-0.6zM520.1,211.5h0.6v0.6h-0.6zM520.7,196.6h0.6v0.6h-0.6zM518.7,208.2h0.6v0.6h-0.6zM519.0,201.5h0.6v0.6h-0.6zM520.1,205.7h0.6v0.6h-0.6zM521.3,208.1h0.6v0.6h-0.6zM521.7,215.9h0.6v0.6h-0.6zM521.5,211.5h0.6v0.6h-0.6zM519.5,213.6h0.6v0.6h-0.6zM519.7,203.8h0.6v0.6h-0.6zM516.3,215.2h0.6v0.6h-0.6zM519.0,210.3h0.6v0.6h-0.6zM525.3,212.5h0.6v0.6h-0.6zM529.5,207.5h0.6v0.6h-0.6zM524.6,213.7h0.6v0.6h-0.6zM518.5,208.9h0.6v0.6h-0.6zM518.9,200.8h0.6v0.6h-0.6zM522.1,202.7h0.6v0.6h-0.6zM527.4,202.9h0.6v0.6h-0.6zM518.9,209.2h0.6v0.6h-0.6zM519.0,208.9h0.6v0.6h-0.6zM518.7,197.8h0.6v0.6h-0.6zM526.8,211.8h0.6v0.6h-0.6zM521.6,205.0h0.6v0.6h-0.6zM520.4,210.7h0.6v0.6h-0.6zM515.7,202.5h0.6v0.6h-0.6zM517.6,217.9h0.6v0.6h-0.6zM517.0,217.3h0.6v0.6h-0.6zM520.7,208.7h0.6v0.6h-0.6zM526.1,215.1h0.6v0.6h-0.6zM524.6,200.5h0.6v0.6h-0.6zM525.3,221.1h0.6v0.6h-0.6zM520.6,204.9h0.6v0.6h-0.6zM516.9,216.1h0.6v0.6h-0.6zM522.1,208.6h0.6v0.6h-0.6zM516.3,220.7h0.6v0.6h-0.6zM524.3,208.3h0.6v0.6h-0.6zM526.6,201.4h0.6v0.6h-0.6zM524.4,201.0h0.6v0.6h-0.6zM526.4,206.4h0.6v0.6h-0.6zM525.6,205.4h0.6v0.6h-0.6zM522.5,217.1h0.6v0.6h-0.6zM517.6,209.2h0.6v0.6h-0.6zM517.8,214.9h0.6v0.6h-0.6zM518.7,205.7h0.6v0.6h-0.6zM520.2,217.2h0.6v0.6h-0.6zM517.0,208.3h0.6v0.6h-0.6zM519.8,204.4h0.6v0.6h-0.6zM518.0,207.3h0.6v0.6h-0.6zM521.7,196.9h0.6v0.6h-0.6zM521.9,199.6h0.6v0.6h-0.6zM521.1,225.6h0.6v0.6h-0.6zM517.3,208.0h0.6v0.6h-0.6zM520.0,215.9h0.6v0.6h-0.6zM519.2,195.1h0.6v0.6h-0.6zM522.0,216.5h0.6v0.6h-0.6zM519.0,213.5h0.6v0.6h-0.6zM517.0,218.2h0.6v0.6h-0.6zM520.7,203.4h0.6v0.6h-0.6zM521.7,221.6h0.6v0.6h-0.6zM517.8,199.2h0.6v0.6h-0.6zM517.1,199.8h0.6v0.6h-0.6zM520.8,211.1h0.6v0.6h-0.6zM520.4,210.0h0.6v0.6h-0.6zM525.5,206.3h0.6v0.6h-0.6zM521.9,203.4h0.6v0.6h-0.6zM520.1,211.6h0.6v0.6h-0.6zM522.8,196.7h0.6v0.6h-0.6zM517.4,209.1h0.6v0.6h-0.6zM520.5,217.1h0.6v0.6h-0.6zM525.4,196.2h0.6v0.6h-0.6zM517.3,211.4h0.6v0.6h-0.6zM521.9,212.5h0.6v0.6h-0.6zM519.3,225.1h0.6v0.6h-0.6zM523.1,203.1h0.6v0.6h-0.6zM525.8,195.8h0.6v0.6h-0.6zM518.8,210.7h0.6v0.6h-0.6zM521.5,201.3h0.6v0.6h-0.6zM527.0,219.5h0.6v0.6h-0.6zM517.4,211.3h0.6v0.6h-0.6zM518.6,205.3h0.6v0.6h-0.6zM524.7,209.4h0.6v0.6h-0.6zM520.6,209.3h0.6v0.6h-0.6zM516.5,217.7h0.6v0.6h-0.6zM518.1,218.3h0.6v0.6h-0.6zM519.3,205.1h0.6v0.6h-0.6zM526.6,209.9h0.6v0.6h-0.6zM518.6,204.5h0.6v0.6h-0.6zM523.3,222.5h0.6v0.6h-0.6zM523.3,205.5h0.6v0.6h-0.6zM516.7,203.5h0.6v0.6h-0.6zM520.5,210.3h0.6v0.6h-0.6zM518.5,218.1h0.6v0.6h-0.6zM517.4,203.1h0.6v0.6h-0.6zM522.9,212.1h0.6v0.6h-0.6zM519.5,215.7h0.6v0.6h-0.6zM515.6,220.8h0.6v0.6h-0.6zM529.3,223.1h0.6v0.6h-0.6zM521.5,223.3h0.6v0.6h-0.6zM521.2,218.5h0.6v0.6h-0.6zM520.2,210.0h0.6v0.6h-0.6zM523.0,195.4h0.6v0.6h-0.6zM520.2,221.4h0.6v0.6h-0.6zM524.5,211.0h0.6v0.6h-0.6zM521.7,218.9h0.6v0.6h-0.6zM517.4,206.3h0.6v0.6h-0.6zM521.5,205.1h0.6v0.6h-0.6zM520.6,221.0h0.6v0.6h-0.6zM524.6,213.0h0.6v0.6h-0.6zM521.1,209.0h0.6v0.6h-0.6zM522.4,210.3h0.6v0.6h-0.6zM518.3,214.4h0.6v0.6h-0.6zM517.9,208.2h0.6v0.6h-0.6zM519.6,199.9h0.6v0.6h-0.6zM523.3,208.0h0.6v0.6h-0.6zM516.6,207.9h0.6v0.6h-0.6zM515.8,219.2h0.6v0.6h-0.6zM523.0,223.4h0.6v0.6h-0.6zM518.8,213.8h0.6v0.6h-0.6zM517.3,202.1h0.6v0.6h-0.6zM520.7,211.6h0.6v0.6h-0.6zM524.5,206.5h0.6v0.6h-0.6zM525.2,215.7h0.6v0.6h-0.6zM517.7,207.2h0.6v0.6h-0.6zM517.5,221.3h0.6v0.6h-0.6zM518.9,215.1h0.6v0.6h-0.6zM524.5,206.6h0.6v0.6h-0.6zM519.2,211.1h0.6v0.6h-0.6zM518.1,199.0h0.6v0.6h-0.6zM517.3,211.0h0.6v0.6h-0.6zM521.7,221.7h0.6v0.6h-0.6zM516.6,217.1h0.6v0.6h-0.6zM523.6,209.4h0.6v0.6h-0.6zM526.6,205.7h0.6v0.6h-0.6zM519.0,200.6h0.6v0.6h-0.6zM518.5,209.4h0.6v0.6h-0.6zM523.5,218.1h0.6v0.6h-0.6zM520.0,203.1h0.6v0.6h-0.6zM519.7,205.3h0.6v0.6h-0.6zM519.2,205.5h0.6v0.6h-0.6zM517.7,208.1h0.6v0.6h-0.6zM519.1,207.2h0.6v0.6h-0.6zM515.8,209.6h0.6v0.6h-0.6zM523.2,213.3h0.6v0.6h-0.6zM518.9,200.0h0.6v0.6h-0.6zM516.1,199.8h0.6v0.6h-0.6zM518.6,206.2h0.6v0.6h-0.6zM515.2,203.4h0.6v0.6h-0.6zM518.3,214.7h0.6v0.6h-0.6zM527.9,205.9h0.6v0.6h-0.6zM520.0,205.6h0.6v0.6h-0.6zM520.2,207.2h0.6v0.6h-0.6zM530.3,200.4h0.6v0.6h-0.6zM520.6,202.6h0.6v0.6h-0.6zM522.3,204.6h0.6v0.6h-0.6zM523.2,200.5h0.6v0.6h-0.6zM528.9,210.1h0.6v0.6h-0.6zM519.2,199.9h0.6v0.6h-0.6zM522.7,204.7h0.6v0.6h-0.6zM523.8,204.4h0.6v0.6h-0.6zM524.4,209.6h0.6v0.6h-0.6zM522.3,209.7h0.6v0.6h-0.6zM519.6,205.8h0.6v0.6h-0.6zM522.7,213.8h0.6v0.6h-0.6zM519.5,225.1h0.6v0.6h-0.6zM527.4,200.0h0.6v0.6h-0.6zM525.1,208.0h0.6v0.6h-0.6zM521.9,202.7h0.6v0.6h-0.6zM527.2,202.4h0.6v0.6h-0.6zM520.7,203.1h0.6v0.6h-0.6zM528.3,217.8h0.6v0.6h-0.6zM516.0,205.2h0.6v0.6h-0.6zM522.4,205.3h0.6v0.6h-0.6zM519.7,200.5h0.6v0.6h-0.6zM521.9,200.4h0.6v0.6h-0.6zM524.1,226.2h0.6v0.6h-0.6zM519.8,220.7h0.6v0.6h-0.6zM522.4,203.6h0.6v0.6h-0.6zM519.7,201.4h0.6v0.6h-0.6zM521.4,213.7h0.6v0.6h-0.6zM524.5,206.5h0.6v0.6h-0.6zM516.5,208.0h0.6v0.6h-0.6zM527.3,210.6h0.6v0.6h-0.6zM519.4,212.5h0.6v0.6h-0.6zM517.5,218.5h0.6v0.6h-0.6zM518.9,202.1h0.6v0.6h-0.6zM518.8,207.8h0.6v0.6h-0.6zM524.7,204.3h0.6v0.6h-0.6zM523.0,219.9h0.6v0.6h-0.6zM516.8,219.4h0.6v0.6h-0.6z" fill="#4c45a6" fill-opacity="0.6"/>
<rect x="515" y="197.8" width="8.2" height="23.2" fill="#4d49ae" fill-opacity="0.55" filter="url(#b1)"/><rect x="515" y="198.4" width="5.2" height="22" fill="#4744aa" fill-opacity="0.9" filter="url(#b1)"/>
<g transform="translate(516.0 209.5) rotate(0)" filter="url(#b1)"><ellipse cx="-0.00" cy="0.00" rx="2.20" ry="8.50" fill="#3b5fc8"/><ellipse cx="-0.25" cy="0.00" rx="1.72" ry="6.63" fill="#2fa5d0"/><ellipse cx="-0.50" cy="0.00" rx="1.34" ry="5.17" fill="#3fc98a"/><ellipse cx="-0.75" cy="0.00" rx="1.04" ry="4.03" fill="#d8e032"/><ellipse cx="-1.00" cy="0.00" rx="0.81" ry="3.15" fill="#f08a21"/></g>
<path d="M515.6,197.4 L523.8,194.6 V221.4 H515.6 Z" fill="none" stroke="#ed1c24" stroke-width="1.2" stroke-linejoin="round"/>
<path d="M513.8,193V238.4H558.5" fill="none" stroke="#000" stroke-width="1.3"/><path d="M511.8,238.4h2M511.8,223.3h2M511.8,208.1h2M511.8,193.0h2M513.8,238.4v2M528.7,238.4v2M543.6,238.4v2M558.5,238.4v2" fill="none" stroke="#000" stroke-width="0.9"/><path d="M512.6,233.9h1.2M512.6,231.1h1.2M512.6,229.3h1.2M512.6,227.8h1.2M512.6,226.6h1.2M512.6,225.5h1.2M512.6,224.8h1.2M512.6,224.0h1.2M512.6,218.7h1.2M512.6,216.0h1.2M512.6,214.2h1.2M512.6,212.7h1.2M512.6,211.5h1.2M512.6,210.4h1.2M512.6,209.6h1.2M512.6,208.9h1.2M512.6,203.6h1.2M512.6,200.9h1.2M512.6,199.1h1.2M512.6,197.5h1.2M512.6,196.3h1.2M512.6,195.3h1.2M512.6,194.5h1.2M512.6,193.8h1.2M518.3,238.4v1.2M521.0,238.4v1.2M522.7,238.4v1.2M524.2,238.4v1.2M525.4,238.4v1.2M526.5,238.4v1.2M527.2,238.4v1.2M528.0,238.4v1.2M533.2,238.4v1.2M535.9,238.4v1.2M537.6,238.4v1.2M539.1,238.4v1.2M540.3,238.4v1.2M541.4,238.4v1.2M542.1,238.4v1.2M542.9,238.4v1.2M548.1,238.4v1.2M550.8,238.4v1.2M552.5,238.4v1.2M554.0,238.4v1.2M555.2,238.4v1.2M556.3,238.4v1.2M557.0,238.4v1.2M557.8,238.4v1.2" fill="none" stroke="#000" stroke-width="0.4"/>
<text x="605.60" y="187.20" font-size="6.45" text-anchor="middle" fill="#000" stroke="#000" stroke-width="0.18">remove dead cells</text>
<text x="571.60" y="215.00" font-size="6.9" text-anchor="middle" fill="#000" transform="rotate(-90 571.60 215.00)" stroke="#000" stroke-width="0.18">DNA2 (Ir193Di)</text>
<text x="602.00" y="248.00" font-size="6.9" text-anchor="middle" fill="#000" stroke="#000" stroke-width="0.18">cisplatin</text>
<ellipse cx="0" cy="0" rx="3" ry="9" transform="translate(612.8 210) rotate(24)" fill="#4a43a2" fill-opacity="0.45" filter="url(#b2)"/>
<path d="M613.2,213.5h0.6v0.6h-0.6zM613.3,203.8h0.6v0.6h-0.6zM607.9,214.7h0.6v0.6h-0.6zM610.4,216.8h0.6v0.6h-0.6zM617.2,212.1h0.6v0.6h-0.6zM607.5,221.7h0.6v0.6h-0.6zM610.8,205.9h0.6v0.6h-0.6zM612.9,207.3h0.6v0.6h-0.6zM615.4,205.1h0.6v0.6h-0.6zM619.3,203.0h0.6v0.6h-0.6zM615.4,198.8h0.6v0.6h-0.6zM607.8,212.1h0.6v0.6h-0.6zM614.9,209.5h0.6v0.6h-0.6zM613.2,214.7h0.6v0.6h-0.6zM611.5,209.2h0.6v0.6h-0.6zM608.2,222.7h0.6v0.6h-0.6zM610.7,211.8h0.6v0.6h-0.6zM610.8,218.0h0.6v0.6h-0.6zM610.9,217.0h0.6v0.6h-0.6zM610.9,207.3h0.6v0.6h-0.6zM608.2,207.6h0.6v0.6h-0.6zM617.8,214.0h0.6v0.6h-0.6zM612.3,211.7h0.6v0.6h-0.6zM616.7,202.1h0.6v0.6h-0.6zM611.6,208.2h0.6v0.6h-0.6zM615.5,205.0h0.6v0.6h-0.6zM614.5,205.5h0.6v0.6h-0.6zM611.4,204.6h0.6v0.6h-0.6zM608.6,214.3h0.6v0.6h-0.6zM614.5,215.0h0.6v0.6h-0.6zM613.8,206.4h0.6v0.6h-0.6zM610.4,205.1h0.6v0.6h-0.6zM613.5,218.7h0.6v0.6h-0.6zM614.0,208.8h0.6v0.6h-0.6zM611.7,212.6h0.6v0.6h-0.6zM611.6,212.6h0.6v0.6h-0.6zM610.8,209.5h0.6v0.6h-0.6zM609.0,216.2h0.6v0.6h-0.6zM606.3,216.6h0.6v0.6h-0.6zM613.9,206.9h0.6v0.6h-0.6zM612.5,210.8h0.6v0.6h-0.6zM611.1,212.4h0.6v0.6h-0.6zM616.0,199.2h0.6v0.6h-0.6zM614.5,210.6h0.6v0.6h-0.6zM615.8,214.2h0.6v0.6h-0.6zM604.6,215.4h0.6v0.6h-0.6zM609.6,212.6h0.6v0.6h-0.6zM615.2,219.1h0.6v0.6h-0.6zM610.4,208.3h0.6v0.6h-0.6zM607.1,212.4h0.6v0.6h-0.6zM616.9,204.4h0.6v0.6h-0.6zM611.4,216.2h0.6v0.6h-0.6zM616.5,206.9h0.6v0.6h-0.6zM614.1,202.5h0.6v0.6h-0.6zM608.8,210.6h0.6v0.6h-0.6zM609.4,218.0h0.6v0.6h-0.6zM614.3,208.4h0.6v0.6h-0.6zM605.2,217.9h0.6v0.6h-0.6zM613.3,210.0h0.6v0.6h-0.6zM613.2,202.6h0.6v0.6h-0.6zM616.9,204.8h0.6v0.6h-0.6zM612.5,214.5h0.6v0.6h-0.6zM616.2,199.8h0.6v0.6h-0.6zM610.0,219.0h0.6v0.6h-0.6zM614.2,201.5h0.6v0.6h-0.6zM615.0,212.1h0.6v0.6h-0.6zM608.0,216.8h0.6v0.6h-0.6zM610.9,212.5h0.6v0.6h-0.6zM613.8,205.1h0.6v0.6h-0.6zM615.6,205.1h0.6v0.6h-0.6zM609.9,204.9h0.6v0.6h-0.6zM612.8,218.0h0.6v0.6h-0.6zM615.4,218.4h0.6v0.6h-0.6zM616.0,213.3h0.6v0.6h-0.6zM610.5,212.4h0.6v0.6h-0.6zM608.5,213.5h0.6v0.6h-0.6zM611.0,211.1h0.6v0.6h-0.6zM611.1,208.3h0.6v0.6h-0.6zM615.7,209.8h0.6v0.6h-0.6zM610.4,211.0h0.6v0.6h-0.6zM615.4,209.9h0.6v0.6h-0.6zM614.1,199.4h0.6v0.6h-0.6zM606.7,215.0h0.6v0.6h-0.6zM611.3,212.8h0.6v0.6h-0.6zM614.6,212.9h0.6v0.6h-0.6zM615.3,207.5h0.6v0.6h-0.6zM607.2,212.1h0.6v0.6h-0.6zM611.0,213.4h0.6v0.6h-0.6zM610.6,208.1h0.6v0.6h-0.6zM619.9,207.2h0.6v0.6h-0.6zM609.5,218.1h0.6v0.6h-0.6zM611.9,210.6h0.6v0.6h-0.6zM605.5,212.4h0.6v0.6h-0.6zM608.3,217.3h0.6v0.6h-0.6zM613.5,207.7h0.6v0.6h-0.6zM614.5,209.1h0.6v0.6h-0.6zM607.4,218.8h0.6v0.6h-0.6zM614.9,211.8h0.6v0.6h-0.6zM612.5,215.9h0.6v0.6h-0.6zM614.0,211.0h0.6v0.6h-0.6zM611.9,212.6h0.6v0.6h-0.6zM613.2,212.8h0.6v0.6h-0.6zM611.6,209.0h0.6v0.6h-0.6zM616.5,204.7h0.6v0.6h-0.6zM610.7,214.6h0.6v0.6h-0.6zM613.9,208.6h0.6v0.6h-0.6zM614.0,207.2h0.6v0.6h-0.6zM616.1,208.9h0.6v0.6h-0.6zM612.0,201.1h0.6v0.6h-0.6zM612.9,211.7h0.6v0.6h-0.6zM615.1,201.7h0.6v0.6h-0.6zM614.6,204.9h0.6v0.6h-0.6zM611.2,209.4h0.6v0.6h-0.6zM610.1,211.1h0.6v0.6h-0.6zM612.2,206.5h0.6v0.6h-0.6zM608.3,218.6h0.6v0.6h-0.6zM614.1,217.4h0.6v0.6h-0.6zM611.0,209.3h0.6v0.6h-0.6zM612.8,215.9h0.6v0.6h-0.6zM609.0,208.0h0.6v0.6h-0.6zM609.0,213.8h0.6v0.6h-0.6zM615.7,207.6h0.6v0.6h-0.6zM618.7,210.7h0.6v0.6h-0.6zM619.1,211.7h0.6v0.6h-0.6zM607.5,221.3h0.6v0.6h-0.6zM612.7,206.7h0.6v0.6h-0.6zM616.4,211.4h0.6v0.6h-0.6zM617.2,203.1h0.6v0.6h-0.6zM614.5,217.9h0.6v0.6h-0.6zM611.8,214.7h0.6v0.6h-0.6zM612.8,206.7h0.6v0.6h-0.6zM608.0,210.6h0.6v0.6h-0.6zM613.5,216.5h0.6v0.6h-0.6zM613.1,215.3h0.6v0.6h-0.6zM614.0,201.4h0.6v0.6h-0.6zM613.9,211.8h0.6v0.6h-0.6zM615.9,209.5h0.6v0.6h-0.6zM609.5,211.8h0.6v0.6h-0.6zM615.7,199.8h0.6v0.6h-0.6zM613.6,204.2h0.6v0.6h-0.6zM611.5,205.6h0.6v0.6h-0.6zM608.8,225.1h0.6v0.6h-0.6zM618.0,209.5h0.6v0.6h-0.6zM615.7,210.9h0.6v0.6h-0.6zM615.5,206.5h0.6v0.6h-0.6zM617.0,200.1h0.6v0.6h-0.6zM619.1,207.5h0.6v0.6h-0.6zM615.7,207.3h0.6v0.6h-0.6zM616.5,203.4h0.6v0.6h-0.6zM609.4,215.1h0.6v0.6h-0.6zM619.3,199.2h0.6v0.6h-0.6zM618.3,203.3h0.6v0.6h-0.6zM612.1,213.5h0.6v0.6h-0.6zM612.0,207.5h0.6v0.6h-0.6zM611.1,212.2h0.6v0.6h-0.6zM611.4,219.1h0.6v0.6h-0.6zM608.3,222.2h0.6v0.6h-0.6zM605.8,219.6h0.6v0.6h-0.6zM610.1,214.4h0.6v0.6h-0.6zM612.2,210.5h0.6v0.6h-0.6zM609.5,211.4h0.6v0.6h-0.6zM617.3,213.2h0.6v0.6h-0.6zM612.7,210.1h0.6v0.6h-0.6zM615.0,209.7h0.6v0.6h-0.6zM612.2,211.4h0.6v0.6h-0.6zM613.4,217.1h0.6v0.6h-0.6zM611.9,205.2h0.6v0.6h-0.6zM610.6,215.1h0.6v0.6h-0.6zM615.6,209.9h0.6v0.6h-0.6zM618.3,211.4h0.6v0.6h-0.6zM612.4,220.0h0.6v0.6h-0.6zM616.1,213.0h0.6v0.6h-0.6zM618.2,201.7h0.6v0.6h-0.6zM610.1,204.6h0.6v0.6h-0.6zM611.7,217.2h0.6v0.6h-0.6zM609.8,216.1h0.6v0.6h-0.6zM610.1,219.7h0.6v0.6h-0.6zM611.1,203.5h0.6v0.6h-0.6zM613.2,202.9h0.6v0.6h-0.6zM619.2,206.4h0.6v0.6h-0.6zM611.8,206.9h0.6v0.6h-0.6zM616.1,208.3h0.6v0.6h-0.6zM613.1,214.1h0.6v0.6h-0.6zM617.4,195.5h0.6v0.6h-0.6zM613.8,201.8h0.6v0.6h-0.6zM618.6,207.6h0.6v0.6h-0.6zM609.2,211.2h0.6v0.6h-0.6zM615.3,204.6h0.6v0.6h-0.6zM613.0,216.7h0.6v0.6h-0.6zM615.4,205.9h0.6v0.6h-0.6zM616.0,197.1h0.6v0.6h-0.6zM612.7,212.8h0.6v0.6h-0.6zM610.5,209.3h0.6v0.6h-0.6zM607.0,211.9h0.6v0.6h-0.6zM613.0,206.7h0.6v0.6h-0.6zM614.6,210.0h0.6v0.6h-0.6zM613.8,214.2h0.6v0.6h-0.6zM615.3,212.0h0.6v0.6h-0.6zM604.0,215.8h0.6v0.6h-0.6zM605.9,214.4h0.6v0.6h-0.6zM617.0,202.2h0.6v0.6h-0.6zM610.6,215.4h0.6v0.6h-0.6zM610.2,209.2h0.6v0.6h-0.6zM613.6,203.4h0.6v0.6h-0.6zM607.9,216.9h0.6v0.6h-0.6zM614.5,210.6h0.6v0.6h-0.6zM612.2,210.7h0.6v0.6h-0.6zM613.0,211.5h0.6v0.6h-0.6zM606.2,213.7h0.6v0.6h-0.6zM617.6,203.7h0.6v0.6h-0.6zM612.7,209.4h0.6v0.6h-0.6zM609.9,212.6h0.6v0.6h-0.6zM612.8,208.1h0.6v0.6h-0.6zM611.2,207.4h0.6v0.6h-0.6zM610.2,209.2h0.6v0.6h-0.6zM613.3,217.5h0.6v0.6h-0.6zM617.4,202.5h0.6v0.6h-0.6zM612.8,216.7h0.6v0.6h-0.6zM613.7,208.1h0.6v0.6h-0.6zM618.3,204.8h0.6v0.6h-0.6zM605.7,223.4h0.6v0.6h-0.6zM620.4,199.4h0.6v0.6h-0.6zM609.2,218.2h0.6v0.6h-0.6zM609.7,212.9h0.6v0.6h-0.6zM616.9,201.5h0.6v0.6h-0.6zM608.3,216.1h0.6v0.6h-0.6zM617.2,207.8h0.6v0.6h-0.6zM617.4,207.1h0.6v0.6h-0.6zM613.4,210.2h0.6v0.6h-0.6zM608.9,210.6h0.6v0.6h-0.6zM613.0,204.2h0.6v0.6h-0.6zM613.3,203.4h0.6v0.6h-0.6zM614.7,211.4h0.6v0.6h-0.6zM614.1,208.7h0.6v0.6h-0.6zM613.6,208.6h0.6v0.6h-0.6zM614.1,199.9h0.6v0.6h-0.6zM610.3,216.2h0.6v0.6h-0.6zM609.1,219.9h0.6v0.6h-0.6zM610.2,207.0h0.6v0.6h-0.6zM608.0,216.7h0.6v0.6h-0.6zM618.3,208.8h0.6v0.6h-0.6zM615.2,209.4h0.6v0.6h-0.6zM610.7,208.3h0.6v0.6h-0.6zM606.2,218.1h0.6v0.6h-0.6zM611.1,217.7h0.6v0.6h-0.6zM620.1,196.0h0.6v0.6h-0.6zM614.5,211.4h0.6v0.6h-0.6zM606.7,208.1h0.6v0.6h-0.6zM610.7,221.3h0.6v0.6h-0.6zM608.2,213.6h0.6v0.6h-0.6zM614.0,209.4h0.6v0.6h-0.6zM610.7,212.9h0.6v0.6h-0.6zM612.4,214.6h0.6v0.6h-0.6zM615.3,201.8h0.6v0.6h-0.6zM612.6,219.2h0.6v0.6h-0.6zM611.5,209.2h0.6v0.6h-0.6zM619.4,200.5h0.6v0.6h-0.6zM607.6,224.9h0.6v0.6h-0.6zM615.3,206.1h0.6v0.6h-0.6zM617.7,212.3h0.6v0.6h-0.6zM614.4,207.7h0.6v0.6h-0.6zM618.0,199.6h0.6v0.6h-0.6zM613.6,199.9h0.6v0.6h-0.6zM615.2,210.4h0.6v0.6h-0.6zM621.0,199.2h0.6v0.6h-0.6zM607.5,218.0h0.6v0.6h-0.6zM615.8,198.1h0.6v0.6h-0.6zM611.9,207.2h0.6v0.6h-0.6zM609.3,217.8h0.6v0.6h-0.6zM611.9,220.7h0.6v0.6h-0.6zM615.5,207.7h0.6v0.6h-0.6zM615.5,200.7h0.6v0.6h-0.6zM612.6,218.8h0.6v0.6h-0.6zM615.4,204.8h0.6v0.6h-0.6zM613.1,213.7h0.6v0.6h-0.6zM616.2,203.3h0.6v0.6h-0.6zM614.9,206.9h0.6v0.6h-0.6zM613.0,214.4h0.6v0.6h-0.6zM615.0,207.9h0.6v0.6h-0.6zM614.4,216.3h0.6v0.6h-0.6zM613.6,216.4h0.6v0.6h-0.6zM613.4,213.1h0.6v0.6h-0.6zM615.0,198.0h0.6v0.6h-0.6zM608.9,212.7h0.6v0.6h-0.6zM614.5,212.1h0.6v0.6h-0.6zM608.1,221.0h0.6v0.6h-0.6zM616.6,199.0h0.6v0.6h-0.6zM609.9,206.4h0.6v0.6h-0.6zM612.5,215.1h0.6v0.6h-0.6zM610.1,214.6h0.6v0.6h-0.6zM614.6,205.6h0.6v0.6h-0.6zM609.9,214.1h0.6v0.6h-0.6zM618.1,204.3h0.6v0.6h-0.6zM610.1,209.7h0.6v0.6h-0.6zM621.0,205.3h0.6v0.6h-0.6zM608.7,211.1h0.6v0.6h-0.6zM615.7,206.9h0.6v0.6h-0.6zM611.4,212.9h0.6v0.6h-0.6zM608.6,208.0h0.6v0.6h-0.6zM611.8,216.2h0.6v0.6h-0.6zM615.8,210.8h0.6v0.6h-0.6zM605.7,216.5h0.6v0.6h-0.6zM616.4,207.0h0.6v0.6h-0.6zM612.5,217.3h0.6v0.6h-0.6zM618.7,195.8h0.6v0.6h-0.6zM613.7,205.0h0.6v0.6h-0.6zM611.0,208.6h0.6v0.6h-0.6zM609.2,211.2h0.6v0.6h-0.6zM620.5,205.0h0.6v0.6h-0.6zM616.7,208.0h0.6v0.6h-0.6zM614.5,209.8h0.6v0.6h-0.6zM617.8,207.2h0.6v0.6h-0.6zM616.6,206.2h0.6v0.6h-0.6zM613.4,210.2h0.6v0.6h-0.6zM619.6,201.8h0.6v0.6h-0.6zM605.8,216.8h0.6v0.6h-0.6zM609.2,220.5h0.6v0.6h-0.6zM609.8,210.2h0.6v0.6h-0.6zM609.6,221.2h0.6v0.6h-0.6zM613.9,207.3h0.6v0.6h-0.6zM614.8,210.2h0.6v0.6h-0.6zM609.0,213.7h0.6v0.6h-0.6zM610.9,201.9h0.6v0.6h-0.6zM617.4,208.5h0.6v0.6h-0.6zM611.0,211.9h0.6v0.6h-0.6zM614.1,214.4h0.6v0.6h-0.6zM612.0,205.6h0.6v0.6h-0.6zM615.6,210.4h0.6v0.6h-0.6zM609.0,214.5h0.6v0.6h-0.6zM609.8,224.2h0.6v0.6h-0.6zM612.1,204.6h0.6v0.6h-0.6zM610.2,211.4h0.6v0.6h-0.6zM608.7,216.1h0.6v0.6h-0.6zM603.8,212.8h0.6v0.6h-0.6zM612.0,207.7h0.6v0.6h-0.6zM613.6,211.8h0.6v0.6h-0.6zM606.4,217.9h0.6v0.6h-0.6zM615.5,207.7h0.6v0.6h-0.6zM616.2,203.6h0.6v0.6h-0.6zM610.6,206.9h0.6v0.6h-0.6zM613.4,211.0h0.6v0.6h-0.6zM614.6,200.9h0.6v0.6h-0.6zM604.5,217.7h0.6v0.6h-0.6zM615.8,205.6h0.6v0.6h-0.6zM614.2,214.5h0.6v0.6h-0.6zM613.4,205.9h0.6v0.6h-0.6zM614.7,213.2h0.6v0.6h-0.6zM615.8,213.9h0.6v0.6h-0.6zM613.0,205.8h0.6v0.6h-0.6zM610.4,210.8h0.6v0.6h-0.6zM611.8,213.9h0.6v0.6h-0.6zM616.7,204.2h0.6v0.6h-0.6zM614.8,204.2h0.6v0.6h-0.6zM617.4,202.7h0.6v0.6h-0.6zM613.7,204.3h0.6v0.6h-0.6zM612.0,207.8h0.6v0.6h-0.6zM617.1,210.1h0.6v0.6h-0.6zM610.2,206.7h0.6v0.6h-0.6zM613.1,214.1h0.6v0.6h-0.6zM608.1,222.1h0.6v0.6h-0.6zM615.2,211.7h0.6v0.6h-0.6zM619.3,203.3h0.6v0.6h-0.6zM614.7,204.7h0.6v0.6h-0.6zM608.9,219.8h0.6v0.6h-0.6zM607.4,219.0h0.6v0.6h-0.6zM606.6,217.4h0.6v0.6h-0.6zM611.0,203.1h0.6v0.6h-0.6zM615.4,210.5h0.6v0.6h-0.6zM613.2,210.1h0.6v0.6h-0.6zM613.7,209.1h0.6v0.6h-0.6zM611.2,207.2h0.6v0.6h-0.6zM615.5,204.8h0.6v0.6h-0.6zM609.2,221.0h0.6v0.6h-0.6zM610.3,205.0h0.6v0.6h-0.6zM612.1,209.8h0.6v0.6h-0.6zM615.0,205.8h0.6v0.6h-0.6zM612.7,210.0h0.6v0.6h-0.6zM608.5,219.1h0.6v0.6h-0.6zM617.0,201.3h0.6v0.6h-0.6zM607.5,211.9h0.6v0.6h-0.6zM613.6,206.0h0.6v0.6h-0.6zM610.4,206.7h0.6v0.6h-0.6zM614.4,205.8h0.6v0.6h-0.6zM609.6,214.9h0.6v0.6h-0.6zM613.2,214.1h0.6v0.6h-0.6zM616.0,201.7h0.6v0.6h-0.6zM610.7,219.7h0.6v0.6h-0.6zM612.8,218.3h0.6v0.6h-0.6zM612.5,212.5h0.6v0.6h-0.6zM609.4,217.5h0.6v0.6h-0.6zM606.5,222.5h0.6v0.6h-0.6zM615.5,208.9h0.6v0.6h-0.6zM617.1,200.4h0.6v0.6h-0.6zM611.8,207.4h0.6v0.6h-0.6zM620.8,207.8h0.6v0.6h-0.6zM614.8,211.4h0.6v0.6h-0.6zM610.4,213.4h0.6v0.6h-0.6zM605.5,213.5h0.6v0.6h-0.6zM616.6,213.8h0.6v0.6h-0.6zM612.2,210.9h0.6v0.6h-0.6zM615.7,207.8h0.6v0.6h-0.6zM611.8,213.1h0.6v0.6h-0.6zM610.9,212.0h0.6v0.6h-0.6zM611.7,214.6h0.6v0.6h-0.6zM611.9,205.8h0.6v0.6h-0.6zM608.6,216.7h0.6v0.6h-0.6zM617.8,200.4h0.6v0.6h-0.6zM604.6,220.2h0.6v0.6h-0.6zM617.0,202.6h0.6v0.6h-0.6zM610.2,209.9h0.6v0.6h-0.6zM611.9,221.2h0.6v0.6h-0.6zM612.7,207.8h0.6v0.6h-0.6zM620.0,206.2h0.6v0.6h-0.6zM615.6,213.7h0.6v0.6h-0.6zM609.6,217.8h0.6v0.6h-0.6zM616.2,205.5h0.6v0.6h-0.6zM609.1,208.5h0.6v0.6h-0.6zM610.4,218.7h0.6v0.6h-0.6zM603.0,215.2h0.6v0.6h-0.6zM610.3,219.7h0.6v0.6h-0.6zM614.1,212.1h0.6v0.6h-0.6zM612.8,212.8h0.6v0.6h-0.6zM611.6,208.7h0.6v0.6h-0.6zM614.3,207.5h0.6v0.6h-0.6zM613.1,199.8h0.6v0.6h-0.6zM612.6,213.6h0.6v0.6h-0.6zM616.2,203.1h0.6v0.6h-0.6zM615.9,208.6h0.6v0.6h-0.6zM603.7,217.1h0.6v0.6h-0.6zM603.2,221.9h0.6v0.6h-0.6zM615.2,207.9h0.6v0.6h-0.6zM609.0,203.3h0.6v0.6h-0.6zM612.7,219.7h0.6v0.6h-0.6zM618.0,200.1h0.6v0.6h-0.6zM612.6,207.9h0.6v0.6h-0.6zM614.2,209.7h0.6v0.6h-0.6zM618.0,200.6h0.6v0.6h-0.6zM607.4,217.9h0.6v0.6h-0.6zM606.9,214.0h0.6v0.6h-0.6zM616.6,216.4h0.6v0.6h-0.6zM606.2,216.0h0.6v0.6h-0.6zM607.5,210.0h0.6v0.6h-0.6zM608.5,217.0h0.6v0.6h-0.6zM615.1,212.4h0.6v0.6h-0.6zM614.5,217.8h0.6v0.6h-0.6zM614.3,203.6h0.6v0.6h-0.6zM619.8,210.2h0.6v0.6h-0.6zM614.1,209.7h0.6v0.6h-0.6zM615.9,199.9h0.6v0.6h-0.6zM612.8,209.2h0.6v0.6h-0.6zM616.5,208.0h0.6v0.6h-0.6zM611.9,201.9h0.6v0.6h-0.6zM612.0,211.5h0.6v0.6h-0.6zM615.6,208.5h0.6v0.6h-0.6zM613.7,211.4h0.6v0.6h-0.6zM617.0,211.5h0.6v0.6h-0.6zM611.6,213.5h0.6v0.6h-0.6zM618.2,205.8h0.6v0.6h-0.6zM612.4,207.9h0.6v0.6h-0.6zM604.2,215.5h0.6v0.6h-0.6zM615.3,211.3h0.6v0.6h-0.6zM617.5,221.2h0.6v0.6h-0.6zM613.5,221.5h0.6v0.6h-0.6zM618.7,202.5h0.6v0.6h-0.6zM615.4,214.1h0.6v0.6h-0.6zM609.8,209.0h0.6v0.6h-0.6zM612.0,216.7h0.6v0.6h-0.6zM614.6,207.1h0.6v0.6h-0.6zM616.7,206.3h0.6v0.6h-0.6zM610.6,214.5h0.6v0.6h-0.6zM608.4,210.7h0.6v0.6h-0.6zM610.6,202.4h0.6v0.6h-0.6zM610.1,208.2h0.6v0.6h-0.6zM614.6,210.5h0.6v0.6h-0.6zM614.7,211.6h0.6v0.6h-0.6zM611.0,212.7h0.6v0.6h-0.6zM611.9,210.6h0.6v0.6h-0.6zM616.8,207.7h0.6v0.6h-0.6zM618.5,204.6h0.6v0.6h-0.6zM616.9,199.4h0.6v0.6h-0.6zM607.3,219.0h0.6v0.6h-0.6zM610.3,218.0h0.6v0.6h-0.6zM612.0,202.4h0.6v0.6h-0.6zM611.7,215.5h0.6v0.6h-0.6zM619.3,200.9h0.6v0.6h-0.6zM614.2,210.1h0.6v0.6h-0.6zM611.8,213.0h0.6v0.6h-0.6zM616.6,199.6h0.6v0.6h-0.6zM614.1,200.2h0.6v0.6h-0.6zM610.0,207.8h0.6v0.6h-0.6zM617.8,207.1h0.6v0.6h-0.6zM614.0,202.3h0.6v0.6h-0.6zM608.5,208.6h0.6v0.6h-0.6zM612.3,208.0h0.6v0.6h-0.6zM609.2,211.9h0.6v0.6h-0.6zM608.5,212.0h0.6v0.6h-0.6zM609.1,214.0h0.6v0.6h-0.6zM609.5,211.7h0.6v0.6h-0.6zM614.1,210.0h0.6v0.6h-0.6zM616.3,212.8h0.6v0.6h-0.6zM608.8,213.2h0.6v0.6h-0.6zM612.3,205.9h0.6v0.6h-0.6zM612.3,211.1h0.6v0.6h-0.6zM621.6,201.4h0.6v0.6h-0.6zM609.2,216.5h0.6v0.6h-0.6zM611.6,211.8h0.6v0.6h-0.6zM619.8,204.3h0.6v0.6h-0.6zM610.8,214.8h0.6v0.6h-0.6zM616.1,198.9h0.6v0.6h-0.6zM609.9,210.1h0.6v0.6h-0.6zM608.3,221.3h0.6v0.6h-0.6zM620.1,202.1h0.6v0.6h-0.6zM612.8,216.6h0.6v0.6h-0.6zM617.1,210.8h0.6v0.6h-0.6zM611.1,210.3h0.6v0.6h-0.6zM614.9,215.4h0.6v0.6h-0.6zM614.8,216.5h0.6v0.6h-0.6zM614.1,203.3h0.6v0.6h-0.6zM621.3,202.9h0.6v0.6h-0.6zM612.8,207.7h0.6v0.6h-0.6zM612.1,205.6h0.6v0.6h-0.6zM606.5,224.3h0.6v0.6h-0.6zM614.0,206.8h0.6v0.6h-0.6zM610.6,215.8h0.6v0.6h-0.6zM611.9,206.7h0.6v0.6h-0.6zM606.7,212.3h0.6v0.6h-0.6zM610.4,219.7h0.6v0.6h-0.6zM604.1,221.8h0.6v0.6h-0.6zM615.6,209.3h0.6v0.6h-0.6zM612.7,207.7h0.6v0.6h-0.6zM607.8,213.3h0.6v0.6h-0.6zM613.3,205.0h0.6v0.6h-0.6zM613.7,211.2h0.6v0.6h-0.6zM612.0,208.0h0.6v0.6h-0.6zM608.0,217.6h0.6v0.6h-0.6zM617.2,206.7h0.6v0.6h-0.6zM609.0,218.2h0.6v0.6h-0.6zM607.3,220.4h0.6v0.6h-0.6zM612.1,214.5h0.6v0.6h-0.6zM605.5,212.9h0.6v0.6h-0.6zM612.1,213.9h0.6v0.6h-0.6zM612.5,213.7h0.6v0.6h-0.6zM609.2,214.9h0.6v0.6h-0.6zM615.8,203.8h0.6v0.6h-0.6zM609.9,209.9h0.6v0.6h-0.6zM619.5,197.1h0.6v0.6h-0.6zM605.0,214.1h0.6v0.6h-0.6zM605.1,227.1h0.6v0.6h-0.6zM609.8,206.9h0.6v0.6h-0.6zM609.9,212.7h0.6v0.6h-0.6zM611.9,221.2h0.6v0.6h-0.6zM607.1,216.3h0.6v0.6h-0.6zM609.0,210.6h0.6v0.6h-0.6zM611.5,213.9h0.6v0.6h-0.6zM607.3,217.2h0.6v0.6h-0.6zM612.7,209.8h0.6v0.6h-0.6zM615.0,203.3h0.6v0.6h-0.6zM613.6,212.8h0.6v0.6h-0.6zM608.9,221.7h0.6v0.6h-0.6zM611.5,207.4h0.6v0.6h-0.6zM610.5,215.2h0.6v0.6h-0.6zM609.9,215.4h0.6v0.6h-0.6zM618.6,199.9h0.6v0.6h-0.6zM616.6,197.0h0.6v0.6h-0.6zM613.2,207.2h0.6v0.6h-0.6zM613.8,211.7h0.6v0.6h-0.6zM609.3,217.5h0.6v0.6h-0.6zM617.5,203.2h0.6v0.6h-0.6zM610.3,211.2h0.6v0.6h-0.6zM617.4,210.6h0.6v0.6h-0.6zM611.7,211.4h0.6v0.6h-0.6zM614.9,210.3h0.6v0.6h-0.6zM614.6,207.8h0.6v0.6h-0.6zM613.6,204.6h0.6v0.6h-0.6zM615.9,207.4h0.6v0.6h-0.6zM613.0,213.0h0.6v0.6h-0.6zM613.7,201.6h0.6v0.6h-0.6zM610.2,214.7h0.6v0.6h-0.6zM614.8,222.0h0.6v0.6h-0.6zM615.0,213.8h0.6v0.6h-0.6zM610.4,212.8h0.6v0.6h-0.6zM605.1,213.3h0.6v0.6h-0.6zM611.2,213.7h0.6v0.6h-0.6zM613.3,202.3h0.6v0.6h-0.6zM611.4,209.0h0.6v0.6h-0.6zM614.6,208.2h0.6v0.6h-0.6zM611.8,214.5h0.6v0.6h-0.6zM610.3,208.1h0.6v0.6h-0.6zM610.5,205.0h0.6v0.6h-0.6zM616.9,206.7h0.6v0.6h-0.6zM615.9,215.0h0.6v0.6h-0.6zM614.7,211.6h0.6v0.6h-0.6zM611.9,217.5h0.6v0.6h-0.6zM614.5,206.9h0.6v0.6h-0.6zM606.3,221.1h0.6v0.6h-0.6zM613.6,207.0h0.6v0.6h-0.6zM615.6,199.1h0.6v0.6h-0.6zM610.7,211.4h0.6v0.6h-0.6zM613.7,204.9h0.6v0.6h-0.6zM612.6,213.2h0.6v0.6h-0.6zM610.9,211.4h0.6v0.6h-0.6zM608.1,214.2h0.6v0.6h-0.6zM611.3,206.9h0.6v0.6h-0.6zM614.3,207.6h0.6v0.6h-0.6zM604.4,221.4h0.6v0.6h-0.6zM621.1,201.1h0.6v0.6h-0.6zM616.5,202.5h0.6v0.6h-0.6zM617.1,202.5h0.6v0.6h-0.6zM612.8,213.8h0.6v0.6h-0.6zM613.7,219.1h0.6v0.6h-0.6zM609.2,215.2h0.6v0.6h-0.6zM612.0,208.8h0.6v0.6h-0.6zM616.3,198.8h0.6v0.6h-0.6zM619.7,198.4h0.6v0.6h-0.6zM610.8,212.9h0.6v0.6h-0.6zM617.3,200.6h0.6v0.6h-0.6zM609.4,213.4h0.6v0.6h-0.6zM611.2,220.8h0.6v0.6h-0.6zM607.2,210.8h0.6v0.6h-0.6zM609.6,214.1h0.6v0.6h-0.6zM609.1,207.3h0.6v0.6h-0.6zM616.2,206.9h0.6v0.6h-0.6zM614.6,203.7h0.6v0.6h-0.6zM619.1,203.2h0.6v0.6h-0.6zM611.5,207.0h0.6v0.6h-0.6zM606.3,222.4h0.6v0.6h-0.6zM615.7,205.3h0.6v0.6h-0.6zM613.3,212.7h0.6v0.6h-0.6zM613.7,209.9h0.6v0.6h-0.6zM617.1,203.4h0.6v0.6h-0.6zM611.0,206.1h0.6v0.6h-0.6zM608.3,213.1h0.6v0.6h-0.6zM614.1,219.6h0.6v0.6h-0.6zM613.0,212.5h0.6v0.6h-0.6zM614.6,201.4h0.6v0.6h-0.6zM618.1,201.6h0.6v0.6h-0.6zM613.9,209.5h0.6v0.6h-0.6zM614.5,211.1h0.6v0.6h-0.6zM614.6,206.6h0.6v0.6h-0.6zM609.6,206.1h0.6v0.6h-0.6zM611.7,217.1h0.6v0.6h-0.6zM618.8,205.5h0.6v0.6h-0.6zM608.7,213.2h0.6v0.6h-0.6zM604.8,225.1h0.6v0.6h-0.6zM617.6,201.2h0.6v0.6h-0.6zM607.2,218.9h0.6v0.6h-0.6zM608.0,209.0h0.6v0.6h-0.6zM605.1,218.2h0.6v0.6h-0.6zM614.5,203.3h0.6v0.6h-0.6zM610.6,203.9h0.6v0.6h-0.6zM607.9,204.4h0.6v0.6h-0.6zM617.8,212.9h0.6v0.6h-0.6zM615.3,202.7h0.6v0.6h-0.6zM614.9,207.5h0.6v0.6h-0.6zM607.0,217.5h0.6v0.6h-0.6zM616.3,205.1h0.6v0.6h-0.6zM616.5,211.3h0.6v0.6h-0.6zM613.6,211.4h0.6v0.6h-0.6zM614.0,215.0h0.6v0.6h-0.6zM610.0,214.0h0.6v0.6h-0.6zM611.5,210.4h0.6v0.6h-0.6zM619.6,205.3h0.6v0.6h-0.6zM611.4,206.5h0.6v0.6h-0.6zM608.1,217.3h0.6v0.6h-0.6zM602.8,222.2h0.6v0.6h-0.6zM617.8,209.0h0.6v0.6h-0.6zM614.2,208.0h0.6v0.6h-0.6zM612.6,214.7h0.6v0.6h-0.6zM612.6,215.4h0.6v0.6h-0.6zM617.9,211.0h0.6v0.6h-0.6zM615.0,209.6h0.6v0.6h-0.6zM612.3,211.4h0.6v0.6h-0.6zM611.7,212.0h0.6v0.6h-0.6zM611.2,208.2h0.6v0.6h-0.6zM614.5,202.3h0.6v0.6h-0.6zM612.4,206.2h0.6v0.6h-0.6zM616.6,200.4h0.6v0.6h-0.6zM615.2,202.9h0.6v0.6h-0.6zM610.3,210.3h0.6v0.6h-0.6zM614.7,212.9h0.6v0.6h-0.6zM612.8,206.8h0.6v0.6h-0.6zM620.4,201.6h0.6v0.6h-0.6zM619.6,202.1h0.6v0.6h-0.6zM611.1,209.6h0.6v0.6h-0.6zM607.8,219.8h0.6v0.6h-0.6zM614.1,210.2h0.6v0.6h-0.6zM615.0,211.3h0.6v0.6h-0.6zM607.8,215.9h0.6v0.6h-0.6zM613.0,219.4h0.6v0.6h-0.6zM604.8,220.3h0.6v0.6h-0.6zM609.7,214.2h0.6v0.6h-0.6zM609.3,225.7h0.6v0.6h-0.6zM611.7,202.1h0.6v0.6h-0.6zM614.3,214.3h0.6v0.6h-0.6zM614.4,209.3h0.6v0.6h-0.6zM599.3,223.4h0.6v0.6h-0.6zM608.3,203.9h0.6v0.6h-0.6zM612.2,211.4h0.6v0.6h-0.6zM615.3,209.2h0.6v0.6h-0.6zM611.6,206.9h0.6v0.6h-0.6zM610.7,201.0h0.6v0.6h-0.6zM619.4,208.0h0.6v0.6h-0.6zM607.5,221.4h0.6v0.6h-0.6zM615.0,211.9h0.6v0.6h-0.6zM615.3,209.2h0.6v0.6h-0.6zM607.9,215.1h0.6v0.6h-0.6zM608.8,219.9h0.6v0.6h-0.6zM613.2,207.4h0.6v0.6h-0.6zM614.1,209.2h0.6v0.6h-0.6zM614.5,204.2h0.6v0.6h-0.6zM612.5,212.2h0.6v0.6h-0.6zM617.3,211.8h0.6v0.6h-0.6zM607.3,210.9h0.6v0.6h-0.6zM619.5,209.8h0.6v0.6h-0.6zM611.3,208.1h0.6v0.6h-0.6zM606.8,204.9h0.6v0.6h-0.6zM616.4,200.6h0.6v0.6h-0.6zM616.6,205.3h0.6v0.6h-0.6zM610.3,203.6h0.6v0.6h-0.6zM609.1,222.4h0.6v0.6h-0.6zM615.3,212.5h0.6v0.6h-0.6zM612.3,207.9h0.6v0.6h-0.6zM616.5,207.9h0.6v0.6h-0.6zM611.2,216.3h0.6v0.6h-0.6zM612.2,205.5h0.6v0.6h-0.6zM613.9,210.5h0.6v0.6h-0.6zM613.9,206.7h0.6v0.6h-0.6zM607.6,221.2h0.6v0.6h-0.6zM620.5,201.7h0.6v0.6h-0.6zM612.7,210.6h0.6v0.6h-0.6zM616.6,201.6h0.6v0.6h-0.6zM612.1,210.8h0.6v0.6h-0.6zM610.3,211.2h0.6v0.6h-0.6zM611.0,198.2h0.6v0.6h-0.6zM612.0,212.5h0.6v0.6h-0.6zM613.6,207.0h0.6v0.6h-0.6zM610.3,216.8h0.6v0.6h-0.6zM615.2,210.5h0.6v0.6h-0.6zM608.8,216.0h0.6v0.6h-0.6zM611.7,216.0h0.6v0.6h-0.6zM614.5,204.5h0.6v0.6h-0.6zM614.9,206.4h0.6v0.6h-0.6zM613.3,216.4h0.6v0.6h-0.6zM605.7,211.7h0.6v0.6h-0.6zM613.2,217.7h0.6v0.6h-0.6zM614.0,204.3h0.6v0.6h-0.6zM612.4,217.2h0.6v0.6h-0.6zM616.1,203.0h0.6v0.6h-0.6zM608.4,210.0h0.6v0.6h-0.6zM612.6,205.0h0.6v0.6h-0.6zM611.0,216.9h0.6v0.6h-0.6zM609.6,203.7h0.6v0.6h-0.6zM616.1,211.1h0.6v0.6h-0.6zM610.2,213.5h0.6v0.6h-0.6zM613.4,201.3h0.6v0.6h-0.6zM608.6,219.5h0.6v0.6h-0.6zM615.3,211.1h0.6v0.6h-0.6zM616.4,208.6h0.6v0.6h-0.6zM614.5,198.5h0.6v0.6h-0.6zM611.0,215.8h0.6v0.6h-0.6zM613.8,210.2h0.6v0.6h-0.6zM608.9,216.2h0.6v0.6h-0.6zM616.6,201.2h0.6v0.6h-0.6zM617.9,207.5h0.6v0.6h-0.6zM613.7,210.4h0.6v0.6h-0.6zM614.7,212.6h0.6v0.6h-0.6zM615.2,212.6h0.6v0.6h-0.6zM613.1,206.4h0.6v0.6h-0.6zM616.6,205.7h0.6v0.6h-0.6zM615.7,209.5h0.6v0.6h-0.6zM612.9,203.7h0.6v0.6h-0.6zM607.7,220.6h0.6v0.6h-0.6zM614.6,211.0h0.6v0.6h-0.6zM605.4,220.6h0.6v0.6h-0.6zM612.1,209.7h0.6v0.6h-0.6zM608.2,217.7h0.6v0.6h-0.6zM614.5,207.4h0.6v0.6h-0.6zM616.0,204.1h0.6v0.6h-0.6zM610.7,207.9h0.6v0.6h-0.6zM602.6,214.1h0.6v0.6h-0.6zM620.6,205.4h0.6v0.6h-0.6zM616.7,200.2h0.6v0.6h-0.6zM612.6,211.5h0.6v0.6h-0.6zM618.2,202.7h0.6v0.6h-0.6zM613.1,205.4h0.6v0.6h-0.6zM606.0,223.6h0.6v0.6h-0.6zM612.4,209.5h0.6v0.6h-0.6zM609.4,214.3h0.6v0.6h-0.6zM615.9,219.8h0.6v0.6h-0.6zM619.4,205.1h0.6v0.6h-0.6zM615.3,211.3h0.6v0.6h-0.6zM613.0,217.8h0.6v0.6h-0.6zM618.9,200.5h0.6v0.6h-0.6zM614.5,207.1h0.6v0.6h-0.6zM613.8,210.7h0.6v0.6h-0.6zM619.7,201.4h0.6v0.6h-0.6zM611.2,208.7h0.6v0.6h-0.6zM614.7,207.9h0.6v0.6h-0.6zM612.6,210.3h0.6v0.6h-0.6zM615.6,210.4h0.6v0.6h-0.6z" fill="#4c45a6" fill-opacity="0.7"/>
<path d="M590.2,204.6h0.6v0.6h-0.6zM589.5,202.3h0.6v0.6h-0.6zM596.4,209.3h0.6v0.6h-0.6zM591.9,209.6h0.6v0.6h-0.6zM593.7,217.2h0.6v0.6h-0.6zM596.3,209.8h0.6v0.6h-0.6zM591.4,215.6h0.6v0.6h-0.6zM601.8,204.9h0.6v0.6h-0.6zM588.1,210.3h0.6v0.6h-0.6zM591.9,208.4h0.6v0.6h-0.6zM587.1,223.4h0.6v0.6h-0.6zM583.9,209.0h0.6v0.6h-0.6zM594.7,222.3h0.6v0.6h-0.6zM589.4,208.3h0.6v0.6h-0.6zM588.9,220.9h0.6v0.6h-0.6zM597.3,210.3h0.6v0.6h-0.6zM594.1,214.8h0.6v0.6h-0.6zM605.6,204.5h0.6v0.6h-0.6zM588.8,208.4h0.6v0.6h-0.6zM601.6,214.5h0.6v0.6h-0.6zM594.5,204.0h0.6v0.6h-0.6zM599.1,215.2h0.6v0.6h-0.6zM591.3,217.4h0.6v0.6h-0.6zM606.8,210.2h0.6v0.6h-0.6zM598.5,212.1h0.6v0.6h-0.6zM591.6,214.0h0.6v0.6h-0.6zM594.9,218.4h0.6v0.6h-0.6zM580.2,226.0h0.6v0.6h-0.6zM583.6,217.4h0.6v0.6h-0.6zM581.2,218.1h0.6v0.6h-0.6zM593.9,212.2h0.6v0.6h-0.6zM605.1,200.7h0.6v0.6h-0.6zM597.3,211.1h0.6v0.6h-0.6zM600.0,215.3h0.6v0.6h-0.6zM595.4,211.7h0.6v0.6h-0.6zM593.3,212.7h0.6v0.6h-0.6zM596.6,215.6h0.6v0.6h-0.6zM594.3,212.1h0.6v0.6h-0.6zM595.9,214.8h0.6v0.6h-0.6zM593.7,217.9h0.6v0.6h-0.6zM592.3,217.7h0.6v0.6h-0.6zM607.3,201.4h0.6v0.6h-0.6zM589.9,208.6h0.6v0.6h-0.6zM598.9,207.7h0.6v0.6h-0.6zM598.1,204.4h0.6v0.6h-0.6zM602.8,214.9h0.6v0.6h-0.6zM595.7,208.5h0.6v0.6h-0.6zM585.4,219.7h0.6v0.6h-0.6zM600.1,210.1h0.6v0.6h-0.6zM583.6,215.3h0.6v0.6h-0.6zM584.5,214.4h0.6v0.6h-0.6zM593.0,214.5h0.6v0.6h-0.6zM607.3,201.2h0.6v0.6h-0.6zM598.7,197.9h0.6v0.6h-0.6zM606.5,205.5h0.6v0.6h-0.6zM599.4,212.1h0.6v0.6h-0.6zM603.8,214.6h0.6v0.6h-0.6zM594.2,201.5h0.6v0.6h-0.6zM587.3,227.7h0.6v0.6h-0.6zM597.4,216.9h0.6v0.6h-0.6zM589.8,211.9h0.6v0.6h-0.6zM592.7,215.1h0.6v0.6h-0.6zM593.4,208.8h0.6v0.6h-0.6zM599.4,210.8h0.6v0.6h-0.6zM584.6,213.8h0.6v0.6h-0.6zM580.1,222.6h0.6v0.6h-0.6zM592.0,209.6h0.6v0.6h-0.6zM589.6,215.1h0.6v0.6h-0.6zM595.9,213.7h0.6v0.6h-0.6zM600.8,208.5h0.6v0.6h-0.6zM598.5,202.1h0.6v0.6h-0.6zM599.1,209.6h0.6v0.6h-0.6zM585.1,216.0h0.6v0.6h-0.6zM597.2,209.6h0.6v0.6h-0.6zM584.1,217.6h0.6v0.6h-0.6zM606.6,205.7h0.6v0.6h-0.6zM598.5,216.0h0.6v0.6h-0.6zM587.5,216.8h0.6v0.6h-0.6zM599.3,205.2h0.6v0.6h-0.6zM588.4,220.6h0.6v0.6h-0.6zM591.3,207.0h0.6v0.6h-0.6zM587.8,209.1h0.6v0.6h-0.6zM592.2,209.4h0.6v0.6h-0.6zM586.1,216.4h0.6v0.6h-0.6zM600.6,216.6h0.6v0.6h-0.6zM600.6,215.5h0.6v0.6h-0.6zM587.2,218.6h0.6v0.6h-0.6zM586.5,209.4h0.6v0.6h-0.6zM593.4,208.1h0.6v0.6h-0.6zM587.1,212.0h0.6v0.6h-0.6zM599.6,204.6h0.6v0.6h-0.6zM593.6,213.5h0.6v0.6h-0.6zM586.6,220.1h0.6v0.6h-0.6zM594.2,214.5h0.6v0.6h-0.6zM591.6,214.4h0.6v0.6h-0.6zM600.3,212.1h0.6v0.6h-0.6zM592.3,219.3h0.6v0.6h-0.6zM586.9,217.2h0.6v0.6h-0.6zM595.3,211.7h0.6v0.6h-0.6zM595.5,216.1h0.6v0.6h-0.6zM593.8,221.2h0.6v0.6h-0.6zM582.3,223.0h0.6v0.6h-0.6zM597.6,208.8h0.6v0.6h-0.6zM598.5,213.5h0.6v0.6h-0.6zM590.4,218.7h0.6v0.6h-0.6zM600.3,204.9h0.6v0.6h-0.6zM585.2,213.6h0.6v0.6h-0.6zM594.5,206.8h0.6v0.6h-0.6zM612.1,199.1h0.6v0.6h-0.6zM584.5,218.8h0.6v0.6h-0.6zM606.1,205.2h0.6v0.6h-0.6zM590.3,221.5h0.6v0.6h-0.6zM597.4,222.1h0.6v0.6h-0.6zM592.1,217.3h0.6v0.6h-0.6zM596.4,207.2h0.6v0.6h-0.6zM596.4,216.7h0.6v0.6h-0.6zM597.1,208.8h0.6v0.6h-0.6zM602.1,215.1h0.6v0.6h-0.6zM601.6,208.0h0.6v0.6h-0.6zM591.5,204.9h0.6v0.6h-0.6zM593.4,209.6h0.6v0.6h-0.6zM597.0,205.6h0.6v0.6h-0.6zM593.8,205.9h0.6v0.6h-0.6zM597.8,204.3h0.6v0.6h-0.6zM595.5,214.1h0.6v0.6h-0.6zM591.9,213.9h0.6v0.6h-0.6zM606.3,211.5h0.6v0.6h-0.6zM579.4,219.8h0.6v0.6h-0.6zM601.3,211.1h0.6v0.6h-0.6zM591.1,215.1h0.6v0.6h-0.6zM599.5,220.7h0.6v0.6h-0.6zM589.1,209.3h0.6v0.6h-0.6zM579.9,217.0h0.6v0.6h-0.6zM601.5,203.0h0.6v0.6h-0.6zM608.8,202.5h0.6v0.6h-0.6zM598.5,211.9h0.6v0.6h-0.6zM602.0,210.3h0.6v0.6h-0.6zM585.9,216.0h0.6v0.6h-0.6zM590.7,215.6h0.6v0.6h-0.6zM588.7,209.4h0.6v0.6h-0.6zM594.7,222.0h0.6v0.6h-0.6zM605.5,196.5h0.6v0.6h-0.6zM596.4,209.6h0.6v0.6h-0.6zM590.5,219.4h0.6v0.6h-0.6zM598.5,217.9h0.6v0.6h-0.6zM596.1,208.3h0.6v0.6h-0.6zM597.5,204.6h0.6v0.6h-0.6zM601.9,209.0h0.6v0.6h-0.6zM581.7,221.9h0.6v0.6h-0.6zM598.4,212.6h0.6v0.6h-0.6zM595.0,211.0h0.6v0.6h-0.6zM590.8,213.1h0.6v0.6h-0.6zM590.9,208.5h0.6v0.6h-0.6zM597.3,207.1h0.6v0.6h-0.6zM595.9,207.2h0.6v0.6h-0.6zM597.1,210.0h0.6v0.6h-0.6zM601.3,208.2h0.6v0.6h-0.6zM599.7,205.9h0.6v0.6h-0.6zM592.9,211.5h0.6v0.6h-0.6zM585.3,219.0h0.6v0.6h-0.6zM603.5,208.1h0.6v0.6h-0.6zM589.3,218.0h0.6v0.6h-0.6zM594.9,203.0h0.6v0.6h-0.6zM597.3,211.0h0.6v0.6h-0.6zM599.7,208.4h0.6v0.6h-0.6zM605.9,198.9h0.6v0.6h-0.6zM606.2,208.6h0.6v0.6h-0.6zM591.2,207.7h0.6v0.6h-0.6zM602.9,203.7h0.6v0.6h-0.6zM598.9,210.5h0.6v0.6h-0.6zM603.3,209.7h0.6v0.6h-0.6zM580.4,215.8h0.6v0.6h-0.6zM595.0,211.2h0.6v0.6h-0.6zM598.7,206.9h0.6v0.6h-0.6zM598.8,219.8h0.6v0.6h-0.6zM606.5,207.6h0.6v0.6h-0.6zM598.5,203.2h0.6v0.6h-0.6zM593.2,212.3h0.6v0.6h-0.6zM584.2,215.6h0.6v0.6h-0.6zM591.5,207.0h0.6v0.6h-0.6zM599.0,210.3h0.6v0.6h-0.6zM591.4,212.3h0.6v0.6h-0.6zM599.4,210.0h0.6v0.6h-0.6zM592.8,205.8h0.6v0.6h-0.6zM589.4,228.4h0.6v0.6h-0.6zM588.6,214.7h0.6v0.6h-0.6zM579.6,220.2h0.6v0.6h-0.6zM591.5,219.0h0.6v0.6h-0.6zM589.8,212.8h0.6v0.6h-0.6zM587.6,215.2h0.6v0.6h-0.6zM584.4,222.3h0.6v0.6h-0.6zM602.4,205.4h0.6v0.6h-0.6zM594.2,219.4h0.6v0.6h-0.6zM594.2,205.7h0.6v0.6h-0.6zM588.4,213.4h0.6v0.6h-0.6zM597.3,216.3h0.6v0.6h-0.6zM588.9,215.7h0.6v0.6h-0.6zM591.2,207.4h0.6v0.6h-0.6zM592.7,216.9h0.6v0.6h-0.6zM595.9,199.1h0.6v0.6h-0.6zM597.8,206.8h0.6v0.6h-0.6zM604.4,206.4h0.6v0.6h-0.6zM607.9,201.3h0.6v0.6h-0.6zM588.9,211.6h0.6v0.6h-0.6zM586.2,222.3h0.6v0.6h-0.6zM599.8,211.6h0.6v0.6h-0.6zM591.9,205.0h0.6v0.6h-0.6zM590.6,213.6h0.6v0.6h-0.6zM597.3,213.6h0.6v0.6h-0.6zM604.2,204.5h0.6v0.6h-0.6zM586.8,219.9h0.6v0.6h-0.6zM595.8,217.0h0.6v0.6h-0.6zM599.8,204.1h0.6v0.6h-0.6zM600.3,206.4h0.6v0.6h-0.6zM601.0,213.7h0.6v0.6h-0.6zM586.2,218.6h0.6v0.6h-0.6zM601.9,200.3h0.6v0.6h-0.6zM595.8,211.2h0.6v0.6h-0.6zM587.4,210.2h0.6v0.6h-0.6zM586.6,212.9h0.6v0.6h-0.6zM601.9,206.4h0.6v0.6h-0.6zM595.1,203.9h0.6v0.6h-0.6zM597.7,209.5h0.6v0.6h-0.6zM598.8,203.4h0.6v0.6h-0.6zM603.4,211.7h0.6v0.6h-0.6zM603.2,198.2h0.6v0.6h-0.6zM582.3,213.9h0.6v0.6h-0.6zM602.1,208.2h0.6v0.6h-0.6zM593.7,207.1h0.6v0.6h-0.6zM607.0,209.8h0.6v0.6h-0.6zM593.4,211.8h0.6v0.6h-0.6zM603.4,206.6h0.6v0.6h-0.6zM601.7,202.7h0.6v0.6h-0.6zM595.2,208.9h0.6v0.6h-0.6zM589.4,214.4h0.6v0.6h-0.6zM593.6,215.3h0.6v0.6h-0.6zM592.2,214.0h0.6v0.6h-0.6zM585.0,212.8h0.6v0.6h-0.6zM600.5,200.3h0.6v0.6h-0.6zM608.8,204.3h0.6v0.6h-0.6zM591.3,214.5h0.6v0.6h-0.6zM591.0,211.1h0.6v0.6h-0.6zM601.9,204.1h0.6v0.6h-0.6zM598.3,204.0h0.6v0.6h-0.6zM593.4,220.5h0.6v0.6h-0.6zM588.9,210.1h0.6v0.6h-0.6zM596.0,216.5h0.6v0.6h-0.6zM590.8,210.6h0.6v0.6h-0.6zM601.1,211.4h0.6v0.6h-0.6zM591.7,212.2h0.6v0.6h-0.6zM599.6,223.0h0.6v0.6h-0.6zM597.9,218.8h0.6v0.6h-0.6zM594.2,214.2h0.6v0.6h-0.6zM581.1,224.7h0.6v0.6h-0.6zM593.4,210.6h0.6v0.6h-0.6zM587.3,210.0h0.6v0.6h-0.6zM584.7,221.4h0.6v0.6h-0.6zM589.5,215.5h0.6v0.6h-0.6zM591.3,211.4h0.6v0.6h-0.6zM594.7,222.4h0.6v0.6h-0.6zM585.2,216.9h0.6v0.6h-0.6zM588.7,210.0h0.6v0.6h-0.6zM590.2,220.5h0.6v0.6h-0.6zM600.6,206.9h0.6v0.6h-0.6zM617.9,195.4h0.6v0.6h-0.6zM599.8,202.0h0.6v0.6h-0.6zM606.1,211.1h0.6v0.6h-0.6zM596.8,220.2h0.6v0.6h-0.6zM585.4,213.1h0.6v0.6h-0.6zM591.3,209.6h0.6v0.6h-0.6zM595.0,204.6h0.6v0.6h-0.6zM588.8,205.1h0.6v0.6h-0.6zM596.9,215.6h0.6v0.6h-0.6zM593.2,214.6h0.6v0.6h-0.6zM598.0,201.9h0.6v0.6h-0.6zM585.9,219.8h0.6v0.6h-0.6zM595.1,209.5h0.6v0.6h-0.6zM591.2,221.7h0.6v0.6h-0.6zM585.6,218.0h0.6v0.6h-0.6zM595.9,214.6h0.6v0.6h-0.6zM588.7,212.0h0.6v0.6h-0.6zM604.8,197.3h0.6v0.6h-0.6zM598.8,206.7h0.6v0.6h-0.6zM590.7,214.7h0.6v0.6h-0.6zM593.2,214.5h0.6v0.6h-0.6zM591.6,208.4h0.6v0.6h-0.6zM598.3,221.9h0.6v0.6h-0.6zM608.1,203.1h0.6v0.6h-0.6zM594.7,209.6h0.6v0.6h-0.6zM601.9,202.3h0.6v0.6h-0.6zM590.6,219.1h0.6v0.6h-0.6zM585.3,215.1h0.6v0.6h-0.6zM598.9,198.1h0.6v0.6h-0.6zM593.9,212.8h0.6v0.6h-0.6zM591.5,205.7h0.6v0.6h-0.6zM591.5,212.2h0.6v0.6h-0.6zM609.7,203.8h0.6v0.6h-0.6zM591.6,219.3h0.6v0.6h-0.6zM598.0,207.7h0.6v0.6h-0.6zM591.6,212.5h0.6v0.6h-0.6zM582.0,219.1h0.6v0.6h-0.6zM604.5,211.1h0.6v0.6h-0.6zM605.2,199.7h0.6v0.6h-0.6zM591.0,200.5h0.6v0.6h-0.6zM588.5,209.5h0.6v0.6h-0.6zM594.6,201.7h0.6v0.6h-0.6zM583.9,214.6h0.6v0.6h-0.6zM599.1,212.4h0.6v0.6h-0.6zM593.3,223.3h0.6v0.6h-0.6zM592.6,208.3h0.6v0.6h-0.6zM596.3,209.9h0.6v0.6h-0.6zM600.5,208.2h0.6v0.6h-0.6zM611.9,202.8h0.6v0.6h-0.6zM592.1,218.3h0.6v0.6h-0.6zM596.1,204.2h0.6v0.6h-0.6zM586.7,213.8h0.6v0.6h-0.6zM579.6,228.7h0.6v0.6h-0.6zM596.2,217.3h0.6v0.6h-0.6zM590.6,215.5h0.6v0.6h-0.6zM601.7,210.8h0.6v0.6h-0.6zM593.1,206.7h0.6v0.6h-0.6zM611.1,201.7h0.6v0.6h-0.6zM607.8,209.2h0.6v0.6h-0.6zM604.5,205.0h0.6v0.6h-0.6zM599.0,211.2h0.6v0.6h-0.6zM586.5,223.6h0.6v0.6h-0.6zM588.8,219.1h0.6v0.6h-0.6zM589.5,220.3h0.6v0.6h-0.6zM598.1,223.0h0.6v0.6h-0.6zM596.8,212.5h0.6v0.6h-0.6z" fill="#4c45a6" fill-opacity="0.55"/>
<g transform="translate(594.8 211.4) rotate(-43)" filter="url(#b1)"><ellipse cx="0.00" cy="0.00" rx="13.00" ry="5.30" fill="#4540a8"/><ellipse cx="0.15" cy="0.00" rx="10.40" ry="4.24" fill="#3b4cc0"/><ellipse cx="0.30" cy="0.00" rx="8.32" ry="3.39" fill="#2f8fd8"/><ellipse cx="0.45" cy="0.00" rx="6.66" ry="2.71" fill="#2fc7c0"/><ellipse cx="0.60" cy="0.00" rx="5.32" ry="2.17" fill="#58d66a"/><ellipse cx="0.75" cy="0.00" rx="4.26" ry="1.74" fill="#d8e032"/><ellipse cx="0.90" cy="0.00" rx="3.41" ry="1.39" fill="#f6a021"/><ellipse cx="1.05" cy="0.00" rx="2.73" ry="1.11" fill="#e8301f"/></g>
<path d="M582.4,210 L591.8,208.6 L599.4,199.8 L607.6,198.8 L598,221.6 L582.4,222 Z" fill="none" stroke="#ed1c24" stroke-width="1.2" stroke-linejoin="round"/>
<path d="M577,193V238.4H622.4" fill="none" stroke="#000" stroke-width="1.3"/><path d="M575.0,238.4h2M575.0,223.3h2M575.0,208.1h2M575.0,193.0h2M577.0,238.4v2M592.1,238.4v2M607.3,238.4v2M622.4,238.4v2" fill="none" stroke="#000" stroke-width="0.9"/><path d="M575.8,233.9h1.2M575.8,231.1h1.2M575.8,229.3h1.2M575.8,227.8h1.2M575.8,226.6h1.2M575.8,225.5h1.2M575.8,224.8h1.2M575.8,224.0h1.2M575.8,218.7h1.2M575.8,216.0h1.2M575.8,214.2h1.2M575.8,212.7h1.2M575.8,211.5h1.2M575.8,210.4h1.2M575.8,209.6h1.2M575.8,208.9h1.2M575.8,203.6h1.2M575.8,200.9h1.2M575.8,199.1h1.2M575.8,197.5h1.2M575.8,196.3h1.2M575.8,195.3h1.2M575.8,194.5h1.2M575.8,193.8h1.2M581.5,238.4v1.2M584.3,238.4v1.2M586.1,238.4v1.2M587.6,238.4v1.2M588.8,238.4v1.2M589.9,238.4v1.2M590.6,238.4v1.2M591.4,238.4v1.2M596.7,238.4v1.2M599.4,238.4v1.2M601.2,238.4v1.2M602.7,238.4v1.2M603.9,238.4v1.2M605.0,238.4v1.2M605.8,238.4v1.2M606.5,238.4v1.2M611.8,238.4v1.2M614.5,238.4v1.2M616.3,238.4v1.2M617.9,238.4v1.2M619.1,238.4v1.2M620.1,238.4v1.2M620.9,238.4v1.2M621.6,238.4v1.2" fill="none" stroke="#000" stroke-width="0.4"/>
<text x="663.30" y="172.80" font-size="6.9" text-anchor="middle" fill="#000" stroke="#000" stroke-width="0.18">pre-apoptotic</text>
<text x="663.30" y="181.20" font-size="6.9" text-anchor="middle" fill="#000" stroke="#000" stroke-width="0.18">exclusion</text>
<text x="663.30" y="189.60" font-size="6.9" text-anchor="middle" fill="#000" stroke="#000" stroke-width="0.18">(eg, cPARP)</text>
<text x="632.20" y="215.00" font-size="6.9" text-anchor="middle" fill="#000" transform="rotate(-90 632.20 215.00)" stroke="#000" stroke-width="0.18">DNA2 (Ir193Di)</text>
<text x="662.00" y="248.00" font-size="6.9" text-anchor="middle" fill="#000" stroke="#000" stroke-width="0.18">cPARP</text>
<ellipse cx="0" cy="0" rx="9" ry="5" transform="translate(652 210.5) rotate(-8)" fill="#4a43a2" fill-opacity="0.45" filter="url(#b2)"/>
<path d="M647.8,210.0h0.6v0.6h-0.6zM654.4,208.9h0.6v0.6h-0.6zM651.0,206.9h0.6v0.6h-0.6zM660.7,207.3h0.6v0.6h-0.6zM649.0,212.7h0.6v0.6h-0.6zM648.6,210.4h0.6v0.6h-0.6zM650.4,206.8h0.6v0.6h-0.6zM652.7,206.8h0.6v0.6h-0.6zM645.6,213.2h0.6v0.6h-0.6zM651.7,204.2h0.6v0.6h-0.6zM652.1,211.3h0.6v0.6h-0.6zM658.7,211.0h0.6v0.6h-0.6zM657.5,212.2h0.6v0.6h-0.6zM650.6,207.3h0.6v0.6h-0.6zM659.5,207.4h0.6v0.6h-0.6zM655.6,212.7h0.6v0.6h-0.6zM663.3,213.9h0.6v0.6h-0.6zM649.4,209.4h0.6v0.6h-0.6zM658.3,203.2h0.6v0.6h-0.6zM645.7,214.3h0.6v0.6h-0.6zM649.6,206.9h0.6v0.6h-0.6zM661.7,211.1h0.6v0.6h-0.6zM661.9,207.3h0.6v0.6h-0.6zM652.6,209.0h0.6v0.6h-0.6zM655.9,201.0h0.6v0.6h-0.6zM650.2,213.9h0.6v0.6h-0.6zM649.0,210.8h0.6v0.6h-0.6zM656.4,212.0h0.6v0.6h-0.6zM650.5,205.9h0.6v0.6h-0.6zM673.9,203.6h0.6v0.6h-0.6zM667.0,200.2h0.6v0.6h-0.6zM655.8,209.0h0.6v0.6h-0.6zM671.3,216.0h0.6v0.6h-0.6zM661.9,204.4h0.6v0.6h-0.6zM648.3,207.9h0.6v0.6h-0.6zM651.3,211.8h0.6v0.6h-0.6zM648.8,210.0h0.6v0.6h-0.6zM667.5,214.0h0.6v0.6h-0.6zM639.9,208.5h0.6v0.6h-0.6zM653.1,216.0h0.6v0.6h-0.6zM653.9,218.5h0.6v0.6h-0.6zM659.0,215.5h0.6v0.6h-0.6zM648.2,209.9h0.6v0.6h-0.6zM663.4,211.0h0.6v0.6h-0.6zM640.4,211.4h0.6v0.6h-0.6zM656.9,212.4h0.6v0.6h-0.6zM651.4,218.2h0.6v0.6h-0.6zM657.3,215.9h0.6v0.6h-0.6zM658.3,209.8h0.6v0.6h-0.6zM651.7,205.5h0.6v0.6h-0.6zM662.3,212.0h0.6v0.6h-0.6zM662.0,207.1h0.6v0.6h-0.6zM647.0,209.8h0.6v0.6h-0.6zM652.6,210.4h0.6v0.6h-0.6zM662.0,204.8h0.6v0.6h-0.6zM651.8,213.6h0.6v0.6h-0.6zM663.7,218.1h0.6v0.6h-0.6zM658.5,205.7h0.6v0.6h-0.6zM646.4,208.1h0.6v0.6h-0.6zM655.8,211.0h0.6v0.6h-0.6zM654.1,207.5h0.6v0.6h-0.6zM653.6,209.9h0.6v0.6h-0.6zM659.7,209.5h0.6v0.6h-0.6zM648.0,206.2h0.6v0.6h-0.6zM666.5,207.6h0.6v0.6h-0.6zM653.7,210.1h0.6v0.6h-0.6zM663.6,207.1h0.6v0.6h-0.6zM656.3,208.8h0.6v0.6h-0.6zM658.8,205.0h0.6v0.6h-0.6zM657.4,214.0h0.6v0.6h-0.6zM664.7,211.0h0.6v0.6h-0.6zM658.5,216.2h0.6v0.6h-0.6zM661.6,214.9h0.6v0.6h-0.6zM645.0,207.0h0.6v0.6h-0.6zM661.1,207.8h0.6v0.6h-0.6zM651.1,206.6h0.6v0.6h-0.6zM665.7,203.0h0.6v0.6h-0.6zM654.9,204.0h0.6v0.6h-0.6zM655.4,219.7h0.6v0.6h-0.6zM673.5,204.6h0.6v0.6h-0.6zM648.5,218.2h0.6v0.6h-0.6zM647.2,203.7h0.6v0.6h-0.6zM657.0,205.0h0.6v0.6h-0.6zM644.7,216.7h0.6v0.6h-0.6zM648.7,206.5h0.6v0.6h-0.6zM656.3,209.0h0.6v0.6h-0.6zM663.8,208.9h0.6v0.6h-0.6zM668.2,212.6h0.6v0.6h-0.6zM669.7,212.3h0.6v0.6h-0.6zM656.1,212.2h0.6v0.6h-0.6zM654.1,203.4h0.6v0.6h-0.6zM646.6,214.7h0.6v0.6h-0.6zM645.2,211.5h0.6v0.6h-0.6zM647.3,212.4h0.6v0.6h-0.6zM653.2,208.3h0.6v0.6h-0.6zM646.9,201.8h0.6v0.6h-0.6zM654.7,204.5h0.6v0.6h-0.6zM653.1,211.9h0.6v0.6h-0.6zM663.7,211.5h0.6v0.6h-0.6zM665.5,202.0h0.6v0.6h-0.6zM661.5,215.6h0.6v0.6h-0.6zM657.3,204.8h0.6v0.6h-0.6zM657.8,207.3h0.6v0.6h-0.6zM650.9,215.3h0.6v0.6h-0.6zM652.9,205.5h0.6v0.6h-0.6zM651.4,219.1h0.6v0.6h-0.6zM649.1,214.0h0.6v0.6h-0.6zM657.4,214.6h0.6v0.6h-0.6zM652.3,206.4h0.6v0.6h-0.6zM649.4,206.5h0.6v0.6h-0.6zM675.3,207.3h0.6v0.6h-0.6zM653.6,215.7h0.6v0.6h-0.6zM660.1,208.3h0.6v0.6h-0.6zM660.1,210.3h0.6v0.6h-0.6zM665.0,215.4h0.6v0.6h-0.6zM652.7,210.3h0.6v0.6h-0.6zM654.6,215.4h0.6v0.6h-0.6zM658.7,212.8h0.6v0.6h-0.6zM661.6,206.1h0.6v0.6h-0.6zM657.1,215.6h0.6v0.6h-0.6zM662.8,212.1h0.6v0.6h-0.6zM652.7,208.9h0.6v0.6h-0.6zM648.3,210.0h0.6v0.6h-0.6zM653.6,204.1h0.6v0.6h-0.6zM663.5,205.2h0.6v0.6h-0.6zM657.5,212.2h0.6v0.6h-0.6zM649.5,203.2h0.6v0.6h-0.6zM662.9,210.4h0.6v0.6h-0.6zM654.0,215.1h0.6v0.6h-0.6zM661.3,204.8h0.6v0.6h-0.6zM653.2,202.7h0.6v0.6h-0.6zM654.2,216.3h0.6v0.6h-0.6zM649.3,214.6h0.6v0.6h-0.6zM643.3,210.8h0.6v0.6h-0.6zM663.6,215.9h0.6v0.6h-0.6zM659.2,212.5h0.6v0.6h-0.6zM666.6,197.4h0.6v0.6h-0.6zM643.4,220.2h0.6v0.6h-0.6zM674.5,209.1h0.6v0.6h-0.6zM655.8,211.0h0.6v0.6h-0.6zM654.9,207.4h0.6v0.6h-0.6zM654.9,209.5h0.6v0.6h-0.6zM660.8,211.9h0.6v0.6h-0.6zM663.1,211.1h0.6v0.6h-0.6zM648.7,217.1h0.6v0.6h-0.6zM657.3,207.3h0.6v0.6h-0.6zM668.7,202.9h0.6v0.6h-0.6zM645.8,209.5h0.6v0.6h-0.6zM658.9,212.8h0.6v0.6h-0.6zM656.5,212.6h0.6v0.6h-0.6zM649.3,208.4h0.6v0.6h-0.6zM655.1,204.2h0.6v0.6h-0.6zM656.3,208.1h0.6v0.6h-0.6zM659.6,204.8h0.6v0.6h-0.6zM650.7,208.3h0.6v0.6h-0.6zM651.6,206.3h0.6v0.6h-0.6zM652.1,204.7h0.6v0.6h-0.6zM659.7,212.1h0.6v0.6h-0.6zM654.9,209.2h0.6v0.6h-0.6zM647.6,207.2h0.6v0.6h-0.6zM652.8,206.5h0.6v0.6h-0.6zM646.3,212.3h0.6v0.6h-0.6zM654.7,208.3h0.6v0.6h-0.6zM648.9,210.9h0.6v0.6h-0.6zM649.5,209.1h0.6v0.6h-0.6zM657.1,212.8h0.6v0.6h-0.6zM660.5,206.4h0.6v0.6h-0.6zM663.5,203.5h0.6v0.6h-0.6zM654.8,215.7h0.6v0.6h-0.6zM673.4,207.3h0.6v0.6h-0.6zM652.1,208.9h0.6v0.6h-0.6zM645.7,211.0h0.6v0.6h-0.6zM651.3,207.4h0.6v0.6h-0.6zM663.7,205.1h0.6v0.6h-0.6zM668.7,211.2h0.6v0.6h-0.6zM659.6,206.7h0.6v0.6h-0.6zM649.8,202.3h0.6v0.6h-0.6zM657.0,208.5h0.6v0.6h-0.6zM657.6,206.7h0.6v0.6h-0.6zM657.7,203.1h0.6v0.6h-0.6zM638.8,214.9h0.6v0.6h-0.6zM661.0,195.4h0.6v0.6h-0.6zM664.7,206.8h0.6v0.6h-0.6zM652.8,203.8h0.6v0.6h-0.6zM648.0,214.3h0.6v0.6h-0.6zM649.5,210.8h0.6v0.6h-0.6zM655.4,218.5h0.6v0.6h-0.6zM660.9,203.3h0.6v0.6h-0.6zM650.6,205.8h0.6v0.6h-0.6zM644.0,209.0h0.6v0.6h-0.6zM663.6,208.7h0.6v0.6h-0.6zM660.2,208.5h0.6v0.6h-0.6zM652.0,210.9h0.6v0.6h-0.6zM656.0,218.2h0.6v0.6h-0.6zM669.1,209.2h0.6v0.6h-0.6zM658.2,200.8h0.6v0.6h-0.6zM656.0,220.2h0.6v0.6h-0.6zM649.6,214.5h0.6v0.6h-0.6zM664.1,206.7h0.6v0.6h-0.6zM653.1,208.4h0.6v0.6h-0.6zM661.2,209.0h0.6v0.6h-0.6zM667.4,212.9h0.6v0.6h-0.6zM657.0,220.9h0.6v0.6h-0.6zM652.3,207.8h0.6v0.6h-0.6zM652.7,206.6h0.6v0.6h-0.6zM651.9,210.3h0.6v0.6h-0.6zM660.7,202.2h0.6v0.6h-0.6zM643.9,208.6h0.6v0.6h-0.6zM653.1,212.3h0.6v0.6h-0.6zM650.2,217.4h0.6v0.6h-0.6zM650.9,209.8h0.6v0.6h-0.6zM656.4,214.8h0.6v0.6h-0.6zM657.4,209.7h0.6v0.6h-0.6zM651.1,211.4h0.6v0.6h-0.6zM657.9,208.0h0.6v0.6h-0.6zM653.6,202.3h0.6v0.6h-0.6zM651.9,215.7h0.6v0.6h-0.6zM665.9,207.8h0.6v0.6h-0.6zM640.0,220.6h0.6v0.6h-0.6zM655.7,221.0h0.6v0.6h-0.6zM652.7,214.8h0.6v0.6h-0.6zM651.4,216.6h0.6v0.6h-0.6zM663.1,204.0h0.6v0.6h-0.6zM667.1,220.3h0.6v0.6h-0.6zM652.5,205.2h0.6v0.6h-0.6zM656.9,207.9h0.6v0.6h-0.6zM642.9,207.6h0.6v0.6h-0.6zM655.8,203.3h0.6v0.6h-0.6zM663.6,210.4h0.6v0.6h-0.6zM654.8,216.1h0.6v0.6h-0.6zM648.6,214.1h0.6v0.6h-0.6zM644.6,210.4h0.6v0.6h-0.6zM659.6,206.9h0.6v0.6h-0.6zM654.7,212.9h0.6v0.6h-0.6zM667.6,213.4h0.6v0.6h-0.6zM658.4,208.3h0.6v0.6h-0.6zM645.4,219.1h0.6v0.6h-0.6zM667.7,198.4h0.6v0.6h-0.6zM661.7,208.6h0.6v0.6h-0.6zM660.7,210.4h0.6v0.6h-0.6zM653.6,210.2h0.6v0.6h-0.6zM655.7,214.9h0.6v0.6h-0.6zM652.7,208.1h0.6v0.6h-0.6zM660.5,211.8h0.6v0.6h-0.6zM658.6,210.6h0.6v0.6h-0.6zM667.1,212.7h0.6v0.6h-0.6zM656.5,208.8h0.6v0.6h-0.6zM658.7,201.2h0.6v0.6h-0.6zM650.6,207.7h0.6v0.6h-0.6zM656.1,208.1h0.6v0.6h-0.6zM674.3,209.8h0.6v0.6h-0.6zM659.8,218.9h0.6v0.6h-0.6zM654.8,208.6h0.6v0.6h-0.6zM665.0,211.8h0.6v0.6h-0.6zM663.0,213.8h0.6v0.6h-0.6zM651.8,207.7h0.6v0.6h-0.6zM649.7,211.4h0.6v0.6h-0.6zM661.9,204.2h0.6v0.6h-0.6zM650.0,205.1h0.6v0.6h-0.6zM670.8,210.7h0.6v0.6h-0.6zM655.8,204.6h0.6v0.6h-0.6zM646.8,208.6h0.6v0.6h-0.6zM654.4,204.6h0.6v0.6h-0.6zM654.3,215.4h0.6v0.6h-0.6zM655.3,210.4h0.6v0.6h-0.6zM639.0,211.6h0.6v0.6h-0.6zM653.5,207.3h0.6v0.6h-0.6zM644.5,211.5h0.6v0.6h-0.6zM646.9,209.1h0.6v0.6h-0.6zM642.9,211.7h0.6v0.6h-0.6zM661.3,205.2h0.6v0.6h-0.6zM656.4,203.2h0.6v0.6h-0.6zM659.9,211.5h0.6v0.6h-0.6zM652.8,214.2h0.6v0.6h-0.6zM648.5,211.4h0.6v0.6h-0.6zM667.8,207.6h0.6v0.6h-0.6zM647.4,216.4h0.6v0.6h-0.6zM658.9,208.1h0.6v0.6h-0.6zM639.9,204.5h0.6v0.6h-0.6zM644.7,218.3h0.6v0.6h-0.6zM656.7,206.0h0.6v0.6h-0.6zM664.9,214.6h0.6v0.6h-0.6zM649.0,213.1h0.6v0.6h-0.6zM642.9,213.8h0.6v0.6h-0.6zM667.8,201.6h0.6v0.6h-0.6zM655.0,207.2h0.6v0.6h-0.6zM654.4,210.5h0.6v0.6h-0.6zM657.9,213.4h0.6v0.6h-0.6zM659.7,213.7h0.6v0.6h-0.6zM663.6,213.3h0.6v0.6h-0.6zM650.3,212.6h0.6v0.6h-0.6zM651.6,206.9h0.6v0.6h-0.6zM670.1,208.6h0.6v0.6h-0.6zM653.8,201.0h0.6v0.6h-0.6zM653.9,213.6h0.6v0.6h-0.6zM653.1,208.0h0.6v0.6h-0.6zM666.0,206.7h0.6v0.6h-0.6zM652.5,210.0h0.6v0.6h-0.6zM654.1,214.8h0.6v0.6h-0.6zM659.3,208.9h0.6v0.6h-0.6zM652.2,209.5h0.6v0.6h-0.6zM667.6,206.4h0.6v0.6h-0.6zM658.8,202.5h0.6v0.6h-0.6zM658.0,212.5h0.6v0.6h-0.6zM664.9,209.6h0.6v0.6h-0.6zM659.7,210.6h0.6v0.6h-0.6zM664.7,217.2h0.6v0.6h-0.6zM656.0,206.3h0.6v0.6h-0.6zM659.5,208.7h0.6v0.6h-0.6zM660.5,212.4h0.6v0.6h-0.6zM655.9,207.9h0.6v0.6h-0.6zM656.5,204.3h0.6v0.6h-0.6zM656.5,205.9h0.6v0.6h-0.6zM658.6,209.9h0.6v0.6h-0.6zM652.5,205.2h0.6v0.6h-0.6zM654.9,207.0h0.6v0.6h-0.6zM654.5,213.1h0.6v0.6h-0.6zM661.3,203.3h0.6v0.6h-0.6zM663.1,214.5h0.6v0.6h-0.6zM663.8,209.7h0.6v0.6h-0.6zM655.7,217.5h0.6v0.6h-0.6zM651.5,204.0h0.6v0.6h-0.6zM656.0,211.1h0.6v0.6h-0.6zM646.4,206.2h0.6v0.6h-0.6zM670.1,207.8h0.6v0.6h-0.6zM660.5,206.5h0.6v0.6h-0.6zM643.5,211.3h0.6v0.6h-0.6zM664.7,205.4h0.6v0.6h-0.6zM641.5,211.6h0.6v0.6h-0.6zM653.0,210.4h0.6v0.6h-0.6zM647.0,210.1h0.6v0.6h-0.6zM651.6,214.4h0.6v0.6h-0.6zM656.9,213.5h0.6v0.6h-0.6zM653.1,201.0h0.6v0.6h-0.6zM640.7,214.8h0.6v0.6h-0.6zM662.3,212.5h0.6v0.6h-0.6zM653.2,202.5h0.6v0.6h-0.6zM651.7,212.3h0.6v0.6h-0.6zM665.2,206.7h0.6v0.6h-0.6zM650.3,207.5h0.6v0.6h-0.6zM663.4,212.3h0.6v0.6h-0.6zM642.2,217.5h0.6v0.6h-0.6zM647.0,205.0h0.6v0.6h-0.6zM642.5,209.0h0.6v0.6h-0.6zM674.5,217.7h0.6v0.6h-0.6zM645.2,208.8h0.6v0.6h-0.6zM656.6,211.5h0.6v0.6h-0.6zM650.3,203.9h0.6v0.6h-0.6zM651.5,207.7h0.6v0.6h-0.6zM641.7,213.0h0.6v0.6h-0.6zM642.7,204.6h0.6v0.6h-0.6zM667.2,211.9h0.6v0.6h-0.6zM666.1,208.6h0.6v0.6h-0.6zM651.9,210.2h0.6v0.6h-0.6zM645.3,214.9h0.6v0.6h-0.6zM656.9,208.3h0.6v0.6h-0.6zM640.9,212.0h0.6v0.6h-0.6zM668.4,214.0h0.6v0.6h-0.6zM661.4,207.3h0.6v0.6h-0.6zM656.5,212.1h0.6v0.6h-0.6zM657.3,214.2h0.6v0.6h-0.6zM648.3,201.1h0.6v0.6h-0.6zM645.2,214.6h0.6v0.6h-0.6zM663.2,208.6h0.6v0.6h-0.6zM659.2,209.6h0.6v0.6h-0.6zM656.0,207.8h0.6v0.6h-0.6zM652.9,215.6h0.6v0.6h-0.6zM653.0,210.2h0.6v0.6h-0.6zM664.8,212.6h0.6v0.6h-0.6zM652.3,211.6h0.6v0.6h-0.6zM647.6,211.9h0.6v0.6h-0.6zM657.5,209.6h0.6v0.6h-0.6zM656.6,211.3h0.6v0.6h-0.6zM655.3,207.8h0.6v0.6h-0.6zM647.6,210.3h0.6v0.6h-0.6zM667.0,206.9h0.6v0.6h-0.6zM649.8,208.8h0.6v0.6h-0.6zM646.5,213.6h0.6v0.6h-0.6zM648.3,215.2h0.6v0.6h-0.6zM662.4,211.2h0.6v0.6h-0.6zM662.9,208.2h0.6v0.6h-0.6zM641.8,212.1h0.6v0.6h-0.6zM658.8,202.6h0.6v0.6h-0.6zM646.7,216.2h0.6v0.6h-0.6zM659.4,215.1h0.6v0.6h-0.6zM660.2,209.4h0.6v0.6h-0.6zM659.0,213.0h0.6v0.6h-0.6zM654.7,209.1h0.6v0.6h-0.6zM657.2,208.2h0.6v0.6h-0.6zM672.7,203.5h0.6v0.6h-0.6zM642.7,206.5h0.6v0.6h-0.6zM662.7,206.9h0.6v0.6h-0.6zM656.1,208.9h0.6v0.6h-0.6zM656.1,203.5h0.6v0.6h-0.6zM655.3,207.4h0.6v0.6h-0.6zM663.8,211.2h0.6v0.6h-0.6zM644.8,207.6h0.6v0.6h-0.6zM660.3,214.3h0.6v0.6h-0.6zM660.8,208.3h0.6v0.6h-0.6zM661.7,198.5h0.6v0.6h-0.6zM650.3,206.6h0.6v0.6h-0.6zM647.7,213.7h0.6v0.6h-0.6zM657.4,210.8h0.6v0.6h-0.6zM654.6,212.8h0.6v0.6h-0.6zM660.6,206.5h0.6v0.6h-0.6zM661.5,204.8h0.6v0.6h-0.6zM667.5,202.1h0.6v0.6h-0.6zM652.1,205.8h0.6v0.6h-0.6zM656.4,215.5h0.6v0.6h-0.6zM650.7,218.5h0.6v0.6h-0.6zM666.1,209.7h0.6v0.6h-0.6zM651.3,214.6h0.6v0.6h-0.6zM662.4,208.5h0.6v0.6h-0.6zM673.5,203.8h0.6v0.6h-0.6zM644.8,210.9h0.6v0.6h-0.6zM660.8,216.4h0.6v0.6h-0.6zM641.8,213.0h0.6v0.6h-0.6zM664.2,205.4h0.6v0.6h-0.6zM650.7,205.4h0.6v0.6h-0.6zM661.6,212.5h0.6v0.6h-0.6zM659.8,210.2h0.6v0.6h-0.6zM662.6,208.1h0.6v0.6h-0.6zM661.2,212.5h0.6v0.6h-0.6zM665.4,210.4h0.6v0.6h-0.6zM656.3,212.9h0.6v0.6h-0.6zM642.0,204.6h0.6v0.6h-0.6zM667.5,208.4h0.6v0.6h-0.6zM646.6,208.9h0.6v0.6h-0.6zM654.0,210.5h0.6v0.6h-0.6zM650.0,215.2h0.6v0.6h-0.6zM644.2,224.2h0.6v0.6h-0.6zM648.1,218.5h0.6v0.6h-0.6zM658.9,201.9h0.6v0.6h-0.6zM645.8,211.9h0.6v0.6h-0.6zM656.9,207.8h0.6v0.6h-0.6zM655.3,210.7h0.6v0.6h-0.6zM646.4,211.8h0.6v0.6h-0.6zM672.0,204.2h0.6v0.6h-0.6zM647.8,214.2h0.6v0.6h-0.6zM666.2,212.6h0.6v0.6h-0.6zM650.2,210.5h0.6v0.6h-0.6zM656.5,208.8h0.6v0.6h-0.6zM659.0,214.1h0.6v0.6h-0.6zM659.3,209.2h0.6v0.6h-0.6zM654.9,217.9h0.6v0.6h-0.6zM647.2,220.2h0.6v0.6h-0.6zM660.8,209.4h0.6v0.6h-0.6zM650.8,218.8h0.6v0.6h-0.6zM665.1,212.2h0.6v0.6h-0.6zM669.8,199.5h0.6v0.6h-0.6zM655.6,208.5h0.6v0.6h-0.6zM649.6,211.3h0.6v0.6h-0.6zM659.6,211.5h0.6v0.6h-0.6zM653.0,204.5h0.6v0.6h-0.6zM659.9,211.8h0.6v0.6h-0.6zM672.2,211.1h0.6v0.6h-0.6zM654.4,205.1h0.6v0.6h-0.6zM675.6,203.4h0.6v0.6h-0.6zM657.2,212.9h0.6v0.6h-0.6zM660.0,215.0h0.6v0.6h-0.6zM646.6,208.4h0.6v0.6h-0.6zM655.5,204.5h0.6v0.6h-0.6zM651.4,216.7h0.6v0.6h-0.6zM657.3,209.1h0.6v0.6h-0.6zM650.7,211.0h0.6v0.6h-0.6zM654.0,205.4h0.6v0.6h-0.6zM660.2,203.4h0.6v0.6h-0.6zM664.8,206.8h0.6v0.6h-0.6zM656.7,205.9h0.6v0.6h-0.6zM670.2,213.4h0.6v0.6h-0.6zM672.1,210.9h0.6v0.6h-0.6zM665.1,205.5h0.6v0.6h-0.6zM664.9,206.3h0.6v0.6h-0.6zM653.7,204.2h0.6v0.6h-0.6zM655.9,211.6h0.6v0.6h-0.6zM653.8,205.3h0.6v0.6h-0.6zM662.8,212.7h0.6v0.6h-0.6zM655.0,213.5h0.6v0.6h-0.6zM662.0,204.4h0.6v0.6h-0.6zM653.4,202.0h0.6v0.6h-0.6zM647.4,213.2h0.6v0.6h-0.6zM648.6,212.9h0.6v0.6h-0.6zM656.4,200.6h0.6v0.6h-0.6zM652.5,217.2h0.6v0.6h-0.6zM655.3,210.5h0.6v0.6h-0.6zM648.4,204.1h0.6v0.6h-0.6zM644.9,224.5h0.6v0.6h-0.6zM653.0,206.5h0.6v0.6h-0.6zM654.5,201.5h0.6v0.6h-0.6zM667.3,215.4h0.6v0.6h-0.6zM649.5,212.4h0.6v0.6h-0.6zM648.7,214.9h0.6v0.6h-0.6zM648.4,210.5h0.6v0.6h-0.6zM665.7,210.4h0.6v0.6h-0.6zM651.4,203.9h0.6v0.6h-0.6zM643.5,217.4h0.6v0.6h-0.6zM659.2,209.5h0.6v0.6h-0.6zM665.1,208.9h0.6v0.6h-0.6zM649.3,210.5h0.6v0.6h-0.6zM654.3,210.1h0.6v0.6h-0.6zM675.1,209.0h0.6v0.6h-0.6zM657.1,208.5h0.6v0.6h-0.6zM649.0,206.6h0.6v0.6h-0.6zM640.0,210.6h0.6v0.6h-0.6zM641.8,204.1h0.6v0.6h-0.6zM646.2,202.5h0.6v0.6h-0.6zM666.8,213.5h0.6v0.6h-0.6zM649.0,220.2h0.6v0.6h-0.6zM658.4,198.2h0.6v0.6h-0.6zM654.5,205.6h0.6v0.6h-0.6zM641.2,211.3h0.6v0.6h-0.6zM664.5,210.3h0.6v0.6h-0.6zM643.1,209.1h0.6v0.6h-0.6zM650.0,216.0h0.6v0.6h-0.6zM653.6,205.9h0.6v0.6h-0.6zM646.4,202.7h0.6v0.6h-0.6zM649.1,215.0h0.6v0.6h-0.6zM640.2,213.5h0.6v0.6h-0.6zM654.8,213.7h0.6v0.6h-0.6zM646.8,215.5h0.6v0.6h-0.6zM669.1,217.7h0.6v0.6h-0.6zM642.2,212.1h0.6v0.6h-0.6zM653.5,210.8h0.6v0.6h-0.6zM647.9,215.1h0.6v0.6h-0.6zM674.7,213.2h0.6v0.6h-0.6zM647.1,208.8h0.6v0.6h-0.6zM660.9,209.6h0.6v0.6h-0.6zM650.0,216.4h0.6v0.6h-0.6zM659.9,213.7h0.6v0.6h-0.6zM654.7,215.8h0.6v0.6h-0.6zM650.5,205.8h0.6v0.6h-0.6zM653.9,203.9h0.6v0.6h-0.6zM665.5,211.4h0.6v0.6h-0.6zM641.9,213.1h0.6v0.6h-0.6zM661.5,207.3h0.6v0.6h-0.6zM657.9,206.9h0.6v0.6h-0.6zM654.4,209.7h0.6v0.6h-0.6zM658.1,205.1h0.6v0.6h-0.6zM646.4,213.0h0.6v0.6h-0.6zM651.4,212.9h0.6v0.6h-0.6zM650.1,205.0h0.6v0.6h-0.6zM661.1,210.1h0.6v0.6h-0.6zM660.6,207.5h0.6v0.6h-0.6zM653.2,216.0h0.6v0.6h-0.6zM643.0,219.9h0.6v0.6h-0.6zM659.1,209.0h0.6v0.6h-0.6zM656.2,212.5h0.6v0.6h-0.6zM649.2,212.3h0.6v0.6h-0.6zM646.1,203.3h0.6v0.6h-0.6zM656.7,210.1h0.6v0.6h-0.6zM660.6,211.5h0.6v0.6h-0.6zM661.2,212.4h0.6v0.6h-0.6zM647.6,216.7h0.6v0.6h-0.6zM675.8,203.8h0.6v0.6h-0.6zM645.6,214.7h0.6v0.6h-0.6zM663.1,213.1h0.6v0.6h-0.6zM666.1,201.8h0.6v0.6h-0.6zM658.4,211.5h0.6v0.6h-0.6zM664.3,204.4h0.6v0.6h-0.6zM654.9,208.3h0.6v0.6h-0.6zM653.6,209.6h0.6v0.6h-0.6zM652.5,202.5h0.6v0.6h-0.6zM654.8,210.3h0.6v0.6h-0.6zM649.3,195.1h0.6v0.6h-0.6zM649.0,208.1h0.6v0.6h-0.6zM649.4,218.2h0.6v0.6h-0.6zM662.2,207.9h0.6v0.6h-0.6zM662.3,223.5h0.6v0.6h-0.6zM647.7,213.4h0.6v0.6h-0.6zM651.4,217.3h0.6v0.6h-0.6zM663.7,207.9h0.6v0.6h-0.6zM659.3,205.7h0.6v0.6h-0.6zM643.1,215.9h0.6v0.6h-0.6zM667.8,206.4h0.6v0.6h-0.6zM649.5,202.9h0.6v0.6h-0.6zM671.1,201.8h0.6v0.6h-0.6zM647.2,210.5h0.6v0.6h-0.6zM664.7,208.5h0.6v0.6h-0.6zM654.9,210.1h0.6v0.6h-0.6zM661.7,208.6h0.6v0.6h-0.6zM656.2,209.5h0.6v0.6h-0.6zM647.3,217.4h0.6v0.6h-0.6zM648.5,205.2h0.6v0.6h-0.6zM651.6,210.7h0.6v0.6h-0.6zM660.4,202.5h0.6v0.6h-0.6zM645.1,212.5h0.6v0.6h-0.6zM657.2,204.7h0.6v0.6h-0.6zM646.2,212.3h0.6v0.6h-0.6zM652.6,203.2h0.6v0.6h-0.6zM649.2,217.7h0.6v0.6h-0.6zM647.4,216.0h0.6v0.6h-0.6zM644.0,218.6h0.6v0.6h-0.6zM667.2,205.0h0.6v0.6h-0.6zM650.1,213.7h0.6v0.6h-0.6zM645.6,214.1h0.6v0.6h-0.6zM664.9,209.4h0.6v0.6h-0.6zM657.5,208.9h0.6v0.6h-0.6zM662.3,205.0h0.6v0.6h-0.6zM667.6,207.7h0.6v0.6h-0.6zM651.2,203.3h0.6v0.6h-0.6zM651.7,211.6h0.6v0.6h-0.6zM663.6,201.2h0.6v0.6h-0.6zM653.5,207.2h0.6v0.6h-0.6zM645.5,211.7h0.6v0.6h-0.6zM649.7,214.8h0.6v0.6h-0.6zM658.9,207.8h0.6v0.6h-0.6zM655.3,205.6h0.6v0.6h-0.6zM646.1,208.3h0.6v0.6h-0.6zM653.9,206.4h0.6v0.6h-0.6zM651.0,206.8h0.6v0.6h-0.6zM656.0,204.7h0.6v0.6h-0.6zM654.9,210.4h0.6v0.6h-0.6zM662.0,205.4h0.6v0.6h-0.6zM644.8,205.1h0.6v0.6h-0.6zM660.5,206.2h0.6v0.6h-0.6zM662.8,208.3h0.6v0.6h-0.6zM651.4,202.3h0.6v0.6h-0.6zM650.3,214.4h0.6v0.6h-0.6zM650.7,213.8h0.6v0.6h-0.6zM642.8,216.7h0.6v0.6h-0.6zM677.9,211.0h0.6v0.6h-0.6zM656.6,204.2h0.6v0.6h-0.6zM650.3,207.9h0.6v0.6h-0.6zM654.9,201.0h0.6v0.6h-0.6zM648.8,214.6h0.6v0.6h-0.6zM656.7,213.0h0.6v0.6h-0.6zM660.9,203.8h0.6v0.6h-0.6zM644.7,213.9h0.6v0.6h-0.6zM655.3,210.3h0.6v0.6h-0.6zM649.3,215.6h0.6v0.6h-0.6zM659.8,214.3h0.6v0.6h-0.6zM652.7,213.5h0.6v0.6h-0.6zM653.8,206.0h0.6v0.6h-0.6zM653.1,202.9h0.6v0.6h-0.6zM653.7,211.0h0.6v0.6h-0.6zM659.7,204.5h0.6v0.6h-0.6zM643.9,208.7h0.6v0.6h-0.6zM675.8,207.0h0.6v0.6h-0.6zM648.5,208.1h0.6v0.6h-0.6zM668.1,202.5h0.6v0.6h-0.6zM654.0,209.8h0.6v0.6h-0.6zM648.7,207.9h0.6v0.6h-0.6zM641.1,208.7h0.6v0.6h-0.6zM666.4,214.3h0.6v0.6h-0.6zM653.3,213.5h0.6v0.6h-0.6zM658.7,209.8h0.6v0.6h-0.6zM654.9,215.5h0.6v0.6h-0.6zM659.3,208.2h0.6v0.6h-0.6zM653.9,214.4h0.6v0.6h-0.6zM649.8,207.7h0.6v0.6h-0.6zM652.4,208.2h0.6v0.6h-0.6zM665.3,209.8h0.6v0.6h-0.6zM653.9,207.8h0.6v0.6h-0.6zM666.5,209.9h0.6v0.6h-0.6zM672.2,211.1h0.6v0.6h-0.6zM652.9,207.9h0.6v0.6h-0.6zM652.9,211.2h0.6v0.6h-0.6zM661.6,211.0h0.6v0.6h-0.6zM666.2,201.2h0.6v0.6h-0.6zM654.1,203.8h0.6v0.6h-0.6zM646.4,208.8h0.6v0.6h-0.6zM649.1,206.7h0.6v0.6h-0.6zM643.9,217.1h0.6v0.6h-0.6zM653.2,214.6h0.6v0.6h-0.6zM644.5,201.5h0.6v0.6h-0.6zM651.0,214.7h0.6v0.6h-0.6zM650.9,212.5h0.6v0.6h-0.6zM647.6,217.6h0.6v0.6h-0.6zM659.2,214.0h0.6v0.6h-0.6zM653.8,216.0h0.6v0.6h-0.6zM655.2,207.8h0.6v0.6h-0.6zM650.0,211.1h0.6v0.6h-0.6zM646.9,206.1h0.6v0.6h-0.6zM656.6,212.9h0.6v0.6h-0.6zM653.3,214.1h0.6v0.6h-0.6zM666.6,202.3h0.6v0.6h-0.6zM656.3,205.5h0.6v0.6h-0.6zM650.0,211.7h0.6v0.6h-0.6zM662.0,211.2h0.6v0.6h-0.6zM661.5,217.0h0.6v0.6h-0.6zM652.9,215.3h0.6v0.6h-0.6zM666.8,210.1h0.6v0.6h-0.6zM640.8,211.8h0.6v0.6h-0.6zM651.4,203.4h0.6v0.6h-0.6zM655.1,213.4h0.6v0.6h-0.6zM652.8,209.6h0.6v0.6h-0.6zM666.1,205.3h0.6v0.6h-0.6zM647.6,211.5h0.6v0.6h-0.6zM664.3,211.0h0.6v0.6h-0.6zM655.2,207.8h0.6v0.6h-0.6zM665.4,212.1h0.6v0.6h-0.6zM641.5,213.9h0.6v0.6h-0.6zM659.3,206.4h0.6v0.6h-0.6zM644.6,210.5h0.6v0.6h-0.6zM641.6,214.9h0.6v0.6h-0.6zM649.6,203.0h0.6v0.6h-0.6zM655.7,215.2h0.6v0.6h-0.6zM644.7,210.2h0.6v0.6h-0.6zM669.5,208.3h0.6v0.6h-0.6zM650.8,211.6h0.6v0.6h-0.6zM660.4,204.5h0.6v0.6h-0.6zM653.0,203.0h0.6v0.6h-0.6zM641.3,205.5h0.6v0.6h-0.6zM661.9,210.2h0.6v0.6h-0.6zM661.7,214.3h0.6v0.6h-0.6zM655.5,211.0h0.6v0.6h-0.6zM658.6,211.5h0.6v0.6h-0.6zM646.4,210.3h0.6v0.6h-0.6zM653.8,210.4h0.6v0.6h-0.6zM649.0,210.5h0.6v0.6h-0.6zM657.4,210.4h0.6v0.6h-0.6zM660.3,212.7h0.6v0.6h-0.6zM660.1,213.4h0.6v0.6h-0.6zM662.7,214.9h0.6v0.6h-0.6zM659.5,206.4h0.6v0.6h-0.6zM674.2,211.7h0.6v0.6h-0.6zM665.4,211.4h0.6v0.6h-0.6zM654.5,205.0h0.6v0.6h-0.6zM658.2,207.8h0.6v0.6h-0.6zM650.2,201.3h0.6v0.6h-0.6zM666.3,202.8h0.6v0.6h-0.6zM646.7,213.6h0.6v0.6h-0.6zM658.9,205.8h0.6v0.6h-0.6zM655.1,211.1h0.6v0.6h-0.6zM656.6,212.1h0.6v0.6h-0.6zM660.8,207.3h0.6v0.6h-0.6zM643.8,221.7h0.6v0.6h-0.6zM651.2,206.2h0.6v0.6h-0.6zM661.4,211.5h0.6v0.6h-0.6zM651.9,221.1h0.6v0.6h-0.6zM654.9,211.4h0.6v0.6h-0.6zM657.3,208.5h0.6v0.6h-0.6zM656.5,203.9h0.6v0.6h-0.6zM653.3,218.6h0.6v0.6h-0.6zM661.6,207.0h0.6v0.6h-0.6zM649.3,204.3h0.6v0.6h-0.6zM653.9,209.4h0.6v0.6h-0.6zM648.7,204.1h0.6v0.6h-0.6zM656.5,211.6h0.6v0.6h-0.6zM664.4,210.6h0.6v0.6h-0.6zM667.9,213.1h0.6v0.6h-0.6zM653.4,205.6h0.6v0.6h-0.6zM659.1,213.6h0.6v0.6h-0.6zM641.8,206.8h0.6v0.6h-0.6zM660.0,206.6h0.6v0.6h-0.6zM666.7,208.9h0.6v0.6h-0.6zM649.6,205.0h0.6v0.6h-0.6zM658.4,201.7h0.6v0.6h-0.6zM643.7,206.1h0.6v0.6h-0.6zM669.8,215.0h0.6v0.6h-0.6zM652.9,208.6h0.6v0.6h-0.6zM661.5,214.4h0.6v0.6h-0.6zM650.3,220.7h0.6v0.6h-0.6zM654.2,215.2h0.6v0.6h-0.6zM651.0,219.6h0.6v0.6h-0.6zM652.3,204.8h0.6v0.6h-0.6zM669.9,204.3h0.6v0.6h-0.6zM654.0,204.6h0.6v0.6h-0.6zM660.5,209.9h0.6v0.6h-0.6zM652.4,208.7h0.6v0.6h-0.6zM649.9,207.7h0.6v0.6h-0.6zM644.8,217.2h0.6v0.6h-0.6zM661.0,202.7h0.6v0.6h-0.6zM646.1,213.4h0.6v0.6h-0.6zM672.7,205.9h0.6v0.6h-0.6zM652.3,209.3h0.6v0.6h-0.6zM656.8,208.9h0.6v0.6h-0.6zM664.3,212.8h0.6v0.6h-0.6zM660.6,216.1h0.6v0.6h-0.6zM652.7,207.9h0.6v0.6h-0.6zM677.1,197.4h0.6v0.6h-0.6zM640.8,201.9h0.6v0.6h-0.6zM657.0,204.8h0.6v0.6h-0.6zM661.8,199.4h0.6v0.6h-0.6zM653.6,208.5h0.6v0.6h-0.6zM647.3,216.4h0.6v0.6h-0.6zM652.2,212.5h0.6v0.6h-0.6zM650.9,211.4h0.6v0.6h-0.6zM651.5,210.9h0.6v0.6h-0.6zM653.7,207.2h0.6v0.6h-0.6zM658.3,208.6h0.6v0.6h-0.6zM646.5,206.8h0.6v0.6h-0.6zM659.5,215.2h0.6v0.6h-0.6zM644.3,210.0h0.6v0.6h-0.6zM659.4,213.9h0.6v0.6h-0.6zM659.7,203.9h0.6v0.6h-0.6zM656.0,213.9h0.6v0.6h-0.6zM656.7,208.7h0.6v0.6h-0.6zM645.8,212.4h0.6v0.6h-0.6zM654.5,210.2h0.6v0.6h-0.6zM667.8,213.1h0.6v0.6h-0.6zM648.9,212.1h0.6v0.6h-0.6zM652.6,210.9h0.6v0.6h-0.6zM668.6,211.7h0.6v0.6h-0.6zM654.8,207.1h0.6v0.6h-0.6zM654.0,211.8h0.6v0.6h-0.6zM651.9,215.5h0.6v0.6h-0.6zM654.3,204.8h0.6v0.6h-0.6zM652.8,209.8h0.6v0.6h-0.6zM663.7,213.5h0.6v0.6h-0.6z" fill="#4c45a6" fill-opacity="0.6"/>
<path d="M652.7,218.8h0.6v0.6h-0.6zM649.0,210.6h0.6v0.6h-0.6zM651.3,209.8h0.6v0.6h-0.6zM643.9,207.4h0.6v0.6h-0.6zM650.1,213.4h0.6v0.6h-0.6zM644.4,216.7h0.6v0.6h-0.6zM649.0,201.6h0.6v0.6h-0.6zM649.5,215.7h0.6v0.6h-0.6zM649.7,208.2h0.6v0.6h-0.6zM645.4,216.3h0.6v0.6h-0.6zM648.7,210.0h0.6v0.6h-0.6zM646.7,204.2h0.6v0.6h-0.6zM642.0,208.1h0.6v0.6h-0.6zM651.6,214.3h0.6v0.6h-0.6zM645.8,218.6h0.6v0.6h-0.6zM647.3,204.3h0.6v0.6h-0.6zM651.1,217.8h0.6v0.6h-0.6zM646.7,203.1h0.6v0.6h-0.6zM647.8,196.3h0.6v0.6h-0.6zM648.2,218.6h0.6v0.6h-0.6zM648.9,205.9h0.6v0.6h-0.6zM650.3,207.2h0.6v0.6h-0.6zM652.1,208.0h0.6v0.6h-0.6zM654.6,208.0h0.6v0.6h-0.6zM648.6,204.7h0.6v0.6h-0.6zM643.9,211.9h0.6v0.6h-0.6zM649.1,204.5h0.6v0.6h-0.6zM649.8,207.7h0.6v0.6h-0.6zM646.2,209.6h0.6v0.6h-0.6zM649.3,214.1h0.6v0.6h-0.6zM652.0,212.1h0.6v0.6h-0.6zM645.7,206.1h0.6v0.6h-0.6zM649.2,203.3h0.6v0.6h-0.6zM647.5,207.8h0.6v0.6h-0.6zM647.7,211.0h0.6v0.6h-0.6zM651.3,219.2h0.6v0.6h-0.6zM650.8,215.7h0.6v0.6h-0.6zM644.6,215.8h0.6v0.6h-0.6zM652.2,202.4h0.6v0.6h-0.6zM656.1,206.8h0.6v0.6h-0.6zM640.3,219.9h0.6v0.6h-0.6zM648.2,205.5h0.6v0.6h-0.6zM646.2,216.0h0.6v0.6h-0.6zM648.8,207.9h0.6v0.6h-0.6zM651.7,204.7h0.6v0.6h-0.6zM645.3,206.8h0.6v0.6h-0.6zM645.6,213.9h0.6v0.6h-0.6zM647.3,204.1h0.6v0.6h-0.6zM646.5,198.8h0.6v0.6h-0.6zM648.5,210.6h0.6v0.6h-0.6zM650.0,208.7h0.6v0.6h-0.6zM649.3,204.8h0.6v0.6h-0.6zM648.1,210.9h0.6v0.6h-0.6zM644.1,213.3h0.6v0.6h-0.6zM648.5,210.3h0.6v0.6h-0.6zM646.5,221.2h0.6v0.6h-0.6zM648.0,205.7h0.6v0.6h-0.6zM645.3,213.3h0.6v0.6h-0.6zM647.3,205.6h0.6v0.6h-0.6zM645.7,215.2h0.6v0.6h-0.6zM648.3,215.9h0.6v0.6h-0.6zM647.9,203.4h0.6v0.6h-0.6zM650.8,211.8h0.6v0.6h-0.6zM645.9,208.3h0.6v0.6h-0.6zM644.9,214.7h0.6v0.6h-0.6zM646.7,212.7h0.6v0.6h-0.6zM648.8,208.5h0.6v0.6h-0.6zM649.2,208.6h0.6v0.6h-0.6zM644.2,207.7h0.6v0.6h-0.6zM644.2,214.2h0.6v0.6h-0.6zM650.1,206.7h0.6v0.6h-0.6zM650.0,211.4h0.6v0.6h-0.6zM651.1,204.8h0.6v0.6h-0.6zM648.1,204.4h0.6v0.6h-0.6zM645.8,217.7h0.6v0.6h-0.6zM641.6,204.9h0.6v0.6h-0.6zM649.6,214.3h0.6v0.6h-0.6zM645.5,198.6h0.6v0.6h-0.6zM642.5,212.0h0.6v0.6h-0.6zM651.5,215.1h0.6v0.6h-0.6zM645.7,217.6h0.6v0.6h-0.6zM647.4,213.4h0.6v0.6h-0.6zM647.4,218.9h0.6v0.6h-0.6zM646.3,198.0h0.6v0.6h-0.6zM647.0,211.1h0.6v0.6h-0.6zM648.9,206.0h0.6v0.6h-0.6zM647.3,203.6h0.6v0.6h-0.6zM647.2,210.5h0.6v0.6h-0.6zM648.8,219.2h0.6v0.6h-0.6zM641.6,212.9h0.6v0.6h-0.6zM649.4,203.5h0.6v0.6h-0.6zM648.2,210.0h0.6v0.6h-0.6zM644.8,214.0h0.6v0.6h-0.6zM654.1,213.8h0.6v0.6h-0.6zM650.5,216.0h0.6v0.6h-0.6zM647.6,215.4h0.6v0.6h-0.6zM645.4,211.0h0.6v0.6h-0.6zM650.3,217.3h0.6v0.6h-0.6zM647.1,208.4h0.6v0.6h-0.6zM649.5,209.6h0.6v0.6h-0.6zM648.4,214.5h0.6v0.6h-0.6zM645.6,214.9h0.6v0.6h-0.6zM649.2,208.5h0.6v0.6h-0.6zM644.0,206.5h0.6v0.6h-0.6zM647.9,215.2h0.6v0.6h-0.6zM641.7,214.0h0.6v0.6h-0.6zM648.6,203.7h0.6v0.6h-0.6zM650.7,212.2h0.6v0.6h-0.6zM649.4,204.5h0.6v0.6h-0.6zM644.5,215.1h0.6v0.6h-0.6zM652.5,212.0h0.6v0.6h-0.6zM647.4,207.5h0.6v0.6h-0.6zM642.5,215.5h0.6v0.6h-0.6zM647.7,216.9h0.6v0.6h-0.6zM645.7,215.9h0.6v0.6h-0.6zM645.7,213.3h0.6v0.6h-0.6zM652.4,206.1h0.6v0.6h-0.6zM650.9,210.0h0.6v0.6h-0.6zM645.0,211.1h0.6v0.6h-0.6zM650.1,206.0h0.6v0.6h-0.6zM647.2,206.8h0.6v0.6h-0.6zM645.6,208.8h0.6v0.6h-0.6zM650.6,207.2h0.6v0.6h-0.6zM652.0,207.9h0.6v0.6h-0.6zM645.8,216.0h0.6v0.6h-0.6zM652.5,206.4h0.6v0.6h-0.6zM649.9,203.5h0.6v0.6h-0.6zM646.7,207.9h0.6v0.6h-0.6zM650.2,203.0h0.6v0.6h-0.6zM646.4,206.2h0.6v0.6h-0.6zM648.3,203.2h0.6v0.6h-0.6zM643.8,225.7h0.6v0.6h-0.6zM648.7,201.6h0.6v0.6h-0.6zM650.6,202.7h0.6v0.6h-0.6zM642.0,219.3h0.6v0.6h-0.6zM652.0,205.3h0.6v0.6h-0.6zM644.5,212.6h0.6v0.6h-0.6zM654.4,213.3h0.6v0.6h-0.6zM650.1,203.4h0.6v0.6h-0.6zM642.4,212.1h0.6v0.6h-0.6zM651.2,210.8h0.6v0.6h-0.6zM648.0,217.7h0.6v0.6h-0.6zM645.3,216.1h0.6v0.6h-0.6zM650.6,206.5h0.6v0.6h-0.6zM648.4,210.6h0.6v0.6h-0.6zM649.8,204.6h0.6v0.6h-0.6zM647.3,210.5h0.6v0.6h-0.6zM648.1,210.1h0.6v0.6h-0.6zM648.8,208.9h0.6v0.6h-0.6zM646.4,215.7h0.6v0.6h-0.6zM646.0,208.2h0.6v0.6h-0.6zM645.2,203.7h0.6v0.6h-0.6zM649.4,209.8h0.6v0.6h-0.6zM647.6,212.5h0.6v0.6h-0.6zM647.5,213.8h0.6v0.6h-0.6zM653.7,211.9h0.6v0.6h-0.6zM647.2,219.1h0.6v0.6h-0.6zM650.2,200.8h0.6v0.6h-0.6zM652.2,211.2h0.6v0.6h-0.6zM650.7,203.6h0.6v0.6h-0.6zM645.3,206.4h0.6v0.6h-0.6zM649.7,203.8h0.6v0.6h-0.6zM645.8,215.3h0.6v0.6h-0.6zM646.0,210.6h0.6v0.6h-0.6zM645.2,200.6h0.6v0.6h-0.6zM647.7,209.3h0.6v0.6h-0.6zM643.5,215.4h0.6v0.6h-0.6zM650.6,214.9h0.6v0.6h-0.6zM646.4,203.7h0.6v0.6h-0.6zM647.7,210.9h0.6v0.6h-0.6zM647.5,206.8h0.6v0.6h-0.6zM644.9,205.9h0.6v0.6h-0.6zM647.7,207.3h0.6v0.6h-0.6zM653.2,208.5h0.6v0.6h-0.6zM649.4,207.4h0.6v0.6h-0.6zM647.4,204.6h0.6v0.6h-0.6zM646.5,201.8h0.6v0.6h-0.6zM641.5,217.4h0.6v0.6h-0.6zM644.7,212.4h0.6v0.6h-0.6zM647.6,206.9h0.6v0.6h-0.6zM650.3,206.9h0.6v0.6h-0.6zM649.4,208.0h0.6v0.6h-0.6zM651.0,215.3h0.6v0.6h-0.6zM648.2,216.0h0.6v0.6h-0.6zM649.6,218.6h0.6v0.6h-0.6zM647.6,201.5h0.6v0.6h-0.6zM648.7,211.3h0.6v0.6h-0.6zM646.9,208.9h0.6v0.6h-0.6zM647.1,203.1h0.6v0.6h-0.6zM653.4,205.7h0.6v0.6h-0.6zM644.6,201.3h0.6v0.6h-0.6zM645.4,209.8h0.6v0.6h-0.6zM652.6,213.3h0.6v0.6h-0.6zM645.7,203.2h0.6v0.6h-0.6zM644.5,209.5h0.6v0.6h-0.6zM650.7,207.4h0.6v0.6h-0.6zM653.0,220.6h0.6v0.6h-0.6zM648.5,198.1h0.6v0.6h-0.6zM651.4,209.5h0.6v0.6h-0.6zM650.1,215.4h0.6v0.6h-0.6zM644.8,210.3h0.6v0.6h-0.6zM648.5,205.9h0.6v0.6h-0.6zM650.2,209.3h0.6v0.6h-0.6zM646.7,220.3h0.6v0.6h-0.6zM648.5,219.0h0.6v0.6h-0.6zM647.5,215.7h0.6v0.6h-0.6zM645.6,210.8h0.6v0.6h-0.6zM651.4,198.1h0.6v0.6h-0.6zM649.7,208.5h0.6v0.6h-0.6zM651.4,211.0h0.6v0.6h-0.6zM647.8,203.0h0.6v0.6h-0.6zM657.2,205.9h0.6v0.6h-0.6zM647.0,206.0h0.6v0.6h-0.6zM647.0,211.2h0.6v0.6h-0.6zM643.8,215.8h0.6v0.6h-0.6zM647.2,213.3h0.6v0.6h-0.6zM641.4,207.1h0.6v0.6h-0.6zM647.1,207.9h0.6v0.6h-0.6zM645.9,211.7h0.6v0.6h-0.6zM649.3,204.6h0.6v0.6h-0.6zM641.8,214.0h0.6v0.6h-0.6zM647.0,215.8h0.6v0.6h-0.6zM650.7,209.4h0.6v0.6h-0.6zM643.5,208.0h0.6v0.6h-0.6zM645.7,216.8h0.6v0.6h-0.6zM642.7,215.0h0.6v0.6h-0.6zM643.2,206.9h0.6v0.6h-0.6zM643.6,206.2h0.6v0.6h-0.6zM646.6,212.0h0.6v0.6h-0.6zM646.1,213.8h0.6v0.6h-0.6zM653.5,210.9h0.6v0.6h-0.6zM644.4,209.0h0.6v0.6h-0.6zM647.7,208.0h0.6v0.6h-0.6zM651.6,216.3h0.6v0.6h-0.6zM654.2,212.9h0.6v0.6h-0.6zM639.7,209.3h0.6v0.6h-0.6zM650.1,205.6h0.6v0.6h-0.6zM646.1,215.0h0.6v0.6h-0.6zM648.4,203.8h0.6v0.6h-0.6zM648.0,203.3h0.6v0.6h-0.6zM647.8,203.5h0.6v0.6h-0.6zM645.1,207.2h0.6v0.6h-0.6zM656.7,203.5h0.6v0.6h-0.6zM644.3,207.0h0.6v0.6h-0.6zM651.3,214.4h0.6v0.6h-0.6zM650.2,208.2h0.6v0.6h-0.6zM648.4,205.8h0.6v0.6h-0.6zM647.4,205.6h0.6v0.6h-0.6zM643.4,204.5h0.6v0.6h-0.6zM654.0,212.2h0.6v0.6h-0.6zM645.6,209.4h0.6v0.6h-0.6zM646.6,216.7h0.6v0.6h-0.6zM647.9,206.5h0.6v0.6h-0.6zM650.1,211.7h0.6v0.6h-0.6zM645.8,205.7h0.6v0.6h-0.6zM648.4,201.0h0.6v0.6h-0.6zM645.1,215.5h0.6v0.6h-0.6zM650.7,216.1h0.6v0.6h-0.6zM646.6,206.7h0.6v0.6h-0.6zM647.1,207.4h0.6v0.6h-0.6zM652.0,208.8h0.6v0.6h-0.6zM652.2,206.1h0.6v0.6h-0.6zM649.1,218.9h0.6v0.6h-0.6zM645.7,206.4h0.6v0.6h-0.6zM646.1,201.1h0.6v0.6h-0.6zM647.0,206.4h0.6v0.6h-0.6zM654.9,207.4h0.6v0.6h-0.6zM641.3,215.2h0.6v0.6h-0.6zM650.9,209.8h0.6v0.6h-0.6zM648.9,213.9h0.6v0.6h-0.6zM646.2,210.2h0.6v0.6h-0.6zM648.4,219.1h0.6v0.6h-0.6zM652.4,210.9h0.6v0.6h-0.6zM643.8,214.8h0.6v0.6h-0.6zM647.8,216.4h0.6v0.6h-0.6zM648.1,211.0h0.6v0.6h-0.6zM650.0,206.0h0.6v0.6h-0.6zM645.9,222.6h0.6v0.6h-0.6zM645.3,215.1h0.6v0.6h-0.6zM650.1,214.5h0.6v0.6h-0.6zM652.2,202.6h0.6v0.6h-0.6zM650.9,198.7h0.6v0.6h-0.6zM648.1,211.8h0.6v0.6h-0.6zM651.2,215.9h0.6v0.6h-0.6zM645.1,208.5h0.6v0.6h-0.6zM647.5,206.2h0.6v0.6h-0.6zM645.4,206.3h0.6v0.6h-0.6zM651.5,217.4h0.6v0.6h-0.6zM650.3,219.2h0.6v0.6h-0.6zM648.2,204.0h0.6v0.6h-0.6zM645.9,211.1h0.6v0.6h-0.6zM651.2,216.6h0.6v0.6h-0.6zM645.2,215.2h0.6v0.6h-0.6zM646.3,213.2h0.6v0.6h-0.6zM650.8,218.1h0.6v0.6h-0.6zM646.3,211.3h0.6v0.6h-0.6zM649.3,207.7h0.6v0.6h-0.6zM648.2,213.2h0.6v0.6h-0.6zM642.8,206.4h0.6v0.6h-0.6zM655.1,212.5h0.6v0.6h-0.6zM646.2,199.9h0.6v0.6h-0.6zM645.0,212.8h0.6v0.6h-0.6zM650.1,212.4h0.6v0.6h-0.6zM649.8,206.7h0.6v0.6h-0.6zM652.9,203.8h0.6v0.6h-0.6zM649.5,208.5h0.6v0.6h-0.6zM642.6,214.9h0.6v0.6h-0.6zM647.1,213.9h0.6v0.6h-0.6zM651.9,210.9h0.6v0.6h-0.6zM645.9,208.8h0.6v0.6h-0.6zM647.7,217.9h0.6v0.6h-0.6zM650.6,218.7h0.6v0.6h-0.6zM650.3,205.8h0.6v0.6h-0.6zM650.8,215.3h0.6v0.6h-0.6zM647.6,212.5h0.6v0.6h-0.6zM647.0,203.1h0.6v0.6h-0.6zM647.7,214.2h0.6v0.6h-0.6zM646.8,197.7h0.6v0.6h-0.6zM645.5,216.0h0.6v0.6h-0.6zM648.7,216.2h0.6v0.6h-0.6zM645.6,207.7h0.6v0.6h-0.6zM644.8,205.7h0.6v0.6h-0.6zM649.5,210.8h0.6v0.6h-0.6zM646.4,211.6h0.6v0.6h-0.6zM643.9,207.8h0.6v0.6h-0.6zM643.3,201.8h0.6v0.6h-0.6zM643.7,203.9h0.6v0.6h-0.6zM652.9,217.5h0.6v0.6h-0.6zM651.9,206.8h0.6v0.6h-0.6zM649.9,203.7h0.6v0.6h-0.6zM646.3,211.3h0.6v0.6h-0.6zM643.0,211.1h0.6v0.6h-0.6zM649.9,198.6h0.6v0.6h-0.6zM640.3,208.5h0.6v0.6h-0.6zM647.6,210.8h0.6v0.6h-0.6zM644.4,213.1h0.6v0.6h-0.6zM648.3,206.0h0.6v0.6h-0.6zM653.1,211.4h0.6v0.6h-0.6zM650.3,220.2h0.6v0.6h-0.6zM646.4,208.8h0.6v0.6h-0.6zM642.5,208.7h0.6v0.6h-0.6zM649.3,223.8h0.6v0.6h-0.6zM649.7,211.1h0.6v0.6h-0.6zM644.0,205.3h0.6v0.6h-0.6zM642.2,202.4h0.6v0.6h-0.6zM648.3,211.6h0.6v0.6h-0.6zM645.1,208.8h0.6v0.6h-0.6zM645.4,213.4h0.6v0.6h-0.6zM649.9,206.9h0.6v0.6h-0.6zM646.5,203.2h0.6v0.6h-0.6zM646.5,222.1h0.6v0.6h-0.6zM647.9,214.7h0.6v0.6h-0.6zM649.8,218.1h0.6v0.6h-0.6zM646.9,205.0h0.6v0.6h-0.6zM651.2,215.1h0.6v0.6h-0.6zM645.9,216.0h0.6v0.6h-0.6zM647.9,209.8h0.6v0.6h-0.6zM653.7,212.9h0.6v0.6h-0.6zM648.9,208.2h0.6v0.6h-0.6zM648.6,215.8h0.6v0.6h-0.6zM649.4,205.8h0.6v0.6h-0.6zM649.3,209.3h0.6v0.6h-0.6zM648.9,208.9h0.6v0.6h-0.6zM641.1,201.1h0.6v0.6h-0.6zM646.7,197.8h0.6v0.6h-0.6zM643.3,221.2h0.6v0.6h-0.6zM650.1,207.4h0.6v0.6h-0.6zM649.0,197.6h0.6v0.6h-0.6zM648.7,215.4h0.6v0.6h-0.6zM648.5,202.7h0.6v0.6h-0.6zM651.0,207.0h0.6v0.6h-0.6zM646.2,211.1h0.6v0.6h-0.6zM647.0,221.3h0.6v0.6h-0.6zM647.5,221.9h0.6v0.6h-0.6zM649.4,203.1h0.6v0.6h-0.6zM647.9,210.3h0.6v0.6h-0.6zM652.4,217.1h0.6v0.6h-0.6zM655.9,206.3h0.6v0.6h-0.6zM646.6,222.9h0.6v0.6h-0.6zM645.1,212.0h0.6v0.6h-0.6zM653.0,204.4h0.6v0.6h-0.6zM646.9,205.9h0.6v0.6h-0.6zM649.6,212.2h0.6v0.6h-0.6zM647.8,213.6h0.6v0.6h-0.6zM645.5,207.9h0.6v0.6h-0.6zM649.4,221.2h0.6v0.6h-0.6zM647.8,210.3h0.6v0.6h-0.6zM652.0,210.4h0.6v0.6h-0.6zM652.0,211.3h0.6v0.6h-0.6zM651.6,211.0h0.6v0.6h-0.6zM645.1,205.3h0.6v0.6h-0.6zM649.3,220.5h0.6v0.6h-0.6zM653.8,208.2h0.6v0.6h-0.6zM655.8,203.8h0.6v0.6h-0.6zM645.3,215.2h0.6v0.6h-0.6zM643.2,215.1h0.6v0.6h-0.6zM649.1,213.5h0.6v0.6h-0.6zM644.2,212.1h0.6v0.6h-0.6zM650.9,209.7h0.6v0.6h-0.6zM651.2,210.1h0.6v0.6h-0.6zM649.0,208.2h0.6v0.6h-0.6zM643.7,209.1h0.6v0.6h-0.6zM649.5,205.8h0.6v0.6h-0.6zM641.8,201.4h0.6v0.6h-0.6zM652.1,208.8h0.6v0.6h-0.6zM645.6,216.9h0.6v0.6h-0.6zM647.4,201.6h0.6v0.6h-0.6zM646.6,205.1h0.6v0.6h-0.6zM647.4,204.9h0.6v0.6h-0.6zM648.2,212.6h0.6v0.6h-0.6zM646.2,208.9h0.6v0.6h-0.6zM647.5,214.6h0.6v0.6h-0.6zM645.7,214.2h0.6v0.6h-0.6zM651.9,208.9h0.6v0.6h-0.6zM644.9,208.3h0.6v0.6h-0.6zM642.4,207.0h0.6v0.6h-0.6zM644.2,209.0h0.6v0.6h-0.6zM646.8,212.9h0.6v0.6h-0.6zM648.3,212.4h0.6v0.6h-0.6zM647.8,211.6h0.6v0.6h-0.6z" fill="#4c45a6" fill-opacity="0.7"/>
<rect x="642" y="199" width="4.6" height="21.5" rx="2" fill="#4a49b0" filter="url(#b1)"/>
<g transform="translate(643.0 209.8) rotate(0)" filter="url(#b1)"><ellipse cx="-0.00" cy="0.00" rx="2.00" ry="9.00" fill="#3b5fc8"/><ellipse cx="-0.15" cy="0.00" rx="1.56" ry="7.02" fill="#2fa5d0"/><ellipse cx="-0.30" cy="0.00" rx="1.22" ry="5.48" fill="#3fc98a"/><ellipse cx="-0.45" cy="0.00" rx="0.95" ry="4.27" fill="#d8e032"/><ellipse cx="-0.60" cy="0.00" rx="0.74" ry="3.33" fill="#f08a21"/><ellipse cx="-0.75" cy="0.00" rx="0.58" ry="2.60" fill="#e8301f"/></g>
<path d="M642.3,196.6 C649.5,197.5 650,214 646.6,221.2 H642.3 Z" fill="none" stroke="#ed1c24" stroke-width="1.2" stroke-linejoin="round"/>
<path d="M637.2,193V238.4H685" fill="none" stroke="#000" stroke-width="1.3"/><path d="M635.2,238.4h2M635.2,223.3h2M635.2,208.1h2M635.2,193.0h2M637.2,238.4v2M653.1,238.4v2M669.1,238.4v2M685.0,238.4v2" fill="none" stroke="#000" stroke-width="0.9"/><path d="M636.0,233.9h1.2M636.0,231.1h1.2M636.0,229.3h1.2M636.0,227.8h1.2M636.0,226.6h1.2M636.0,225.5h1.2M636.0,224.8h1.2M636.0,224.0h1.2M636.0,218.7h1.2M636.0,216.0h1.2M636.0,214.2h1.2M636.0,212.7h1.2M636.0,211.5h1.2M636.0,210.4h1.2M636.0,209.6h1.2M636.0,208.9h1.2M636.0,203.6h1.2M636.0,200.9h1.2M636.0,199.1h1.2M636.0,197.5h1.2M636.0,196.3h1.2M636.0,195.3h1.2M636.0,194.5h1.2M636.0,193.8h1.2M642.0,238.4v1.2M644.8,238.4v1.2M646.8,238.4v1.2M648.4,238.4v1.2M649.6,238.4v1.2M650.7,238.4v1.2M651.5,238.4v1.2M652.3,238.4v1.2M657.9,238.4v1.2M660.8,238.4v1.2M662.7,238.4v1.2M664.3,238.4v1.2M665.6,238.4v1.2M666.7,238.4v1.2M667.5,238.4v1.2M668.3,238.4v1.2M673.8,238.4v1.2M676.7,238.4v1.2M678.6,238.4v1.2M680.2,238.4v1.2M681.5,238.4v1.2M682.6,238.4v1.2M683.4,238.4v1.2M684.2,238.4v1.2" fill="none" stroke="#000" stroke-width="0.4"/>
<path d="M664,251 V261.6 H403.6 V268" fill="none" stroke="#000" stroke-width="1.2"/>
<polygon points="403.6,277.8 397.4,267 403.6,271 409.8,267" fill="#000"/>
<text x="527.00" y="275.00" font-size="6.9" text-anchor="middle" fill="#000" stroke="#000" stroke-width="0.18">example of coarse manual CC gating</text>
<path d="M390,289V336H436.6" fill="none" stroke="#000" stroke-width="1.3"/><path d="M388.0,336.0h2M388.0,320.3h2M388.0,304.7h2M388.0,289.0h2M390.0,336v2M405.5,336v2M421.1,336v2M436.6,336v2" fill="none" stroke="#000" stroke-width="0.9"/><path d="M388.8,331.3h1.2M388.8,328.5h1.2M388.8,326.6h1.2M388.8,325.0h1.2M388.8,323.8h1.2M388.8,322.7h1.2M388.8,321.9h1.2M388.8,321.1h1.2M388.8,315.6h1.2M388.8,312.8h1.2M388.8,310.9h1.2M388.8,309.4h1.2M388.8,308.1h1.2M388.8,307.0h1.2M388.8,306.2h1.2M388.8,305.4h1.2M388.8,300.0h1.2M388.8,297.1h1.2M388.8,295.3h1.2M388.8,293.7h1.2M388.8,292.4h1.2M388.8,291.4h1.2M388.8,290.6h1.2M388.8,289.8h1.2M394.7,336v1.2M397.5,336v1.2M399.3,336v1.2M400.9,336v1.2M402.1,336v1.2M403.2,336v1.2M404.0,336v1.2M404.8,336v1.2M410.2,336v1.2M413.0,336v1.2M414.9,336v1.2M416.4,336v1.2M417.6,336v1.2M418.7,336v1.2M419.5,336v1.2M420.3,336v1.2M425.7,336v1.2M428.5,336v1.2M430.4,336v1.2M431.9,336v1.2M433.2,336v1.2M434.3,336v1.2M435.0,336v1.2M435.8,336v1.2" fill="none" stroke="#000" stroke-width="0.4"/>
<text x="422.60" y="300.00" font-size="6.9" text-anchor="middle" fill="#111" stroke="#111" stroke-width="0.18">supplemental</text>
<text x="422.60" y="308.30" font-size="6.9" text-anchor="middle" fill="#111" stroke="#111" stroke-width="0.18">gating strategies</text>
<text x="422.60" y="316.60" font-size="6.9" text-anchor="middle" fill="#111" stroke="#111" stroke-width="0.18">for your cell system</text>
<text x="494.20" y="286.90" font-size="6.5" text-anchor="middle" fill="#000" stroke="#000" stroke-width="0.18">S and M phase</text>
<text x="465.60" y="315.20" font-size="6.83" text-anchor="middle" fill="#000" transform="rotate(-90 465.60 315.20)" stroke="#000" stroke-width="0.18">pH3 (s10)</text>
<text x="492.00" y="348.00" font-size="6.9" text-anchor="middle" fill="#000" stroke="#000" stroke-width="0.18">IdU</text>
<path d="M482.6,316.3h0.6v0.6h-0.6zM500.5,319.9h0.6v0.6h-0.6zM489.4,307.3h0.6v0.6h-0.6zM485.4,309.1h0.6v0.6h-0.6zM490.8,303.3h0.6v0.6h-0.6zM491.3,313.1h0.6v0.6h-0.6zM494.8,310.6h0.6v0.6h-0.6zM498.3,313.6h0.6v0.6h-0.6zM489.7,314.1h0.6v0.6h-0.6zM491.2,311.8h0.6v0.6h-0.6zM493.7,308.7h0.6v0.6h-0.6zM484.5,306.8h0.6v0.6h-0.6zM493.3,312.2h0.6v0.6h-0.6zM493.1,321.8h0.6v0.6h-0.6zM499.3,314.4h0.6v0.6h-0.6zM491.2,310.5h0.6v0.6h-0.6zM489.2,319.0h0.6v0.6h-0.6zM481.6,302.7h0.6v0.6h-0.6zM487.5,303.3h0.6v0.6h-0.6zM485.5,320.6h0.6v0.6h-0.6zM486.7,303.1h0.6v0.6h-0.6zM488.0,319.8h0.6v0.6h-0.6zM504.6,308.7h0.6v0.6h-0.6zM485.0,308.7h0.6v0.6h-0.6zM494.4,318.5h0.6v0.6h-0.6zM483.9,314.8h0.6v0.6h-0.6zM490.7,320.1h0.6v0.6h-0.6zM487.9,309.3h0.6v0.6h-0.6zM484.6,300.4h0.6v0.6h-0.6zM492.9,316.7h0.6v0.6h-0.6zM499.2,313.1h0.6v0.6h-0.6zM487.5,303.7h0.6v0.6h-0.6zM482.3,305.2h0.6v0.6h-0.6zM493.4,311.7h0.6v0.6h-0.6zM488.8,302.6h0.6v0.6h-0.6zM490.8,315.2h0.6v0.6h-0.6zM483.3,300.2h0.6v0.6h-0.6zM488.5,313.1h0.6v0.6h-0.6zM492.0,303.0h0.6v0.6h-0.6zM496.7,305.8h0.6v0.6h-0.6zM496.0,311.8h0.6v0.6h-0.6zM500.0,303.0h0.6v0.6h-0.6zM496.3,314.4h0.6v0.6h-0.6zM484.2,316.6h0.6v0.6h-0.6zM507.7,313.9h0.6v0.6h-0.6zM485.2,309.8h0.6v0.6h-0.6zM500.6,313.0h0.6v0.6h-0.6zM501.9,305.8h0.6v0.6h-0.6zM500.6,298.4h0.6v0.6h-0.6zM489.7,308.6h0.6v0.6h-0.6zM487.3,320.8h0.6v0.6h-0.6zM486.5,313.8h0.6v0.6h-0.6zM504.7,317.6h0.6v0.6h-0.6zM487.9,305.2h0.6v0.6h-0.6zM497.5,319.9h0.6v0.6h-0.6zM484.4,317.4h0.6v0.6h-0.6zM488.0,317.7h0.6v0.6h-0.6zM510.0,304.9h0.6v0.6h-0.6zM507.4,310.4h0.6v0.6h-0.6zM497.7,306.4h0.6v0.6h-0.6zM502.7,304.0h0.6v0.6h-0.6zM489.5,318.4h0.6v0.6h-0.6zM489.4,306.5h0.6v0.6h-0.6zM490.8,316.2h0.6v0.6h-0.6zM503.8,321.9h0.6v0.6h-0.6zM504.9,310.8h0.6v0.6h-0.6zM487.9,303.0h0.6v0.6h-0.6zM487.1,310.5h0.6v0.6h-0.6zM491.3,318.3h0.6v0.6h-0.6zM484.1,320.2h0.6v0.6h-0.6zM491.3,316.9h0.6v0.6h-0.6zM500.2,301.1h0.6v0.6h-0.6zM502.9,305.3h0.6v0.6h-0.6zM493.9,319.7h0.6v0.6h-0.6zM497.8,298.5h0.6v0.6h-0.6zM492.2,320.1h0.6v0.6h-0.6zM490.1,310.4h0.6v0.6h-0.6zM486.9,303.5h0.6v0.6h-0.6zM482.7,306.8h0.6v0.6h-0.6zM489.2,313.8h0.6v0.6h-0.6zM490.4,297.2h0.6v0.6h-0.6zM496.4,300.2h0.6v0.6h-0.6zM508.3,315.7h0.6v0.6h-0.6zM490.7,307.4h0.6v0.6h-0.6zM488.2,309.2h0.6v0.6h-0.6zM490.2,303.8h0.6v0.6h-0.6zM486.7,315.5h0.6v0.6h-0.6zM494.9,300.3h0.6v0.6h-0.6zM488.2,302.6h0.6v0.6h-0.6zM482.8,305.4h0.6v0.6h-0.6zM489.6,317.7h0.6v0.6h-0.6zM495.2,296.9h0.6v0.6h-0.6zM502.1,308.4h0.6v0.6h-0.6zM483.5,310.8h0.6v0.6h-0.6zM488.0,299.9h0.6v0.6h-0.6zM502.7,306.4h0.6v0.6h-0.6zM486.5,315.3h0.6v0.6h-0.6zM503.5,314.9h0.6v0.6h-0.6zM484.2,314.5h0.6v0.6h-0.6zM499.3,314.0h0.6v0.6h-0.6zM495.9,307.2h0.6v0.6h-0.6zM490.5,297.5h0.6v0.6h-0.6zM485.6,301.9h0.6v0.6h-0.6zM484.0,310.3h0.6v0.6h-0.6zM499.7,304.8h0.6v0.6h-0.6zM485.1,320.7h0.6v0.6h-0.6zM493.8,315.2h0.6v0.6h-0.6zM497.2,305.1h0.6v0.6h-0.6zM492.7,305.7h0.6v0.6h-0.6zM485.6,312.1h0.6v0.6h-0.6zM494.3,300.8h0.6v0.6h-0.6zM485.2,315.9h0.6v0.6h-0.6zM492.2,316.3h0.6v0.6h-0.6zM488.6,304.6h0.6v0.6h-0.6zM496.9,315.8h0.6v0.6h-0.6zM485.3,316.4h0.6v0.6h-0.6zM502.8,308.8h0.6v0.6h-0.6zM483.7,313.1h0.6v0.6h-0.6zM491.7,315.5h0.6v0.6h-0.6zM497.7,316.6h0.6v0.6h-0.6zM495.7,320.6h0.6v0.6h-0.6zM484.8,320.8h0.6v0.6h-0.6zM492.6,303.0h0.6v0.6h-0.6zM488.8,313.2h0.6v0.6h-0.6zM493.5,321.8h0.6v0.6h-0.6zM492.4,306.9h0.6v0.6h-0.6zM507.4,308.4h0.6v0.6h-0.6zM484.8,318.4h0.6v0.6h-0.6zM487.9,304.7h0.6v0.6h-0.6zM483.0,320.5h0.6v0.6h-0.6z" fill="#5e59b0" fill-opacity="0.55"/>
<path d="M475.2,309.3h0.6v0.6h-0.6zM474.5,312.4h0.6v0.6h-0.6zM477.1,320.5h0.6v0.6h-0.6zM475.4,300.5h0.6v0.6h-0.6zM476.1,312.1h0.6v0.6h-0.6zM474.7,317.1h0.6v0.6h-0.6zM475.3,316.6h0.6v0.6h-0.6zM475.6,322.4h0.6v0.6h-0.6zM475.1,312.2h0.6v0.6h-0.6zM475.8,300.0h0.6v0.6h-0.6zM479.9,309.8h0.6v0.6h-0.6zM477.2,307.0h0.6v0.6h-0.6zM478.5,321.4h0.6v0.6h-0.6zM478.1,319.6h0.6v0.6h-0.6zM477.3,323.6h0.6v0.6h-0.6zM476.7,312.3h0.6v0.6h-0.6zM477.5,303.0h0.6v0.6h-0.6zM476.3,304.7h0.6v0.6h-0.6zM475.5,302.5h0.6v0.6h-0.6zM474.5,312.8h0.6v0.6h-0.6zM476.2,318.6h0.6v0.6h-0.6zM475.8,316.8h0.6v0.6h-0.6zM477.2,304.7h0.6v0.6h-0.6zM475.5,306.3h0.6v0.6h-0.6zM480.0,304.9h0.6v0.6h-0.6zM476.9,304.2h0.6v0.6h-0.6zM477.2,299.7h0.6v0.6h-0.6zM477.7,312.7h0.6v0.6h-0.6zM475.3,300.3h0.6v0.6h-0.6zM479.0,305.9h0.6v0.6h-0.6zM479.2,311.2h0.6v0.6h-0.6zM477.8,316.6h0.6v0.6h-0.6zM475.4,312.3h0.6v0.6h-0.6zM476.2,317.7h0.6v0.6h-0.6zM476.3,300.1h0.6v0.6h-0.6zM477.5,311.9h0.6v0.6h-0.6zM477.4,308.5h0.6v0.6h-0.6zM475.5,320.6h0.6v0.6h-0.6zM478.5,300.3h0.6v0.6h-0.6zM476.6,311.6h0.6v0.6h-0.6zM474.2,320.2h0.6v0.6h-0.6zM476.3,313.1h0.6v0.6h-0.6zM476.7,306.4h0.6v0.6h-0.6zM476.7,312.3h0.6v0.6h-0.6zM477.3,314.5h0.6v0.6h-0.6zM475.5,321.6h0.6v0.6h-0.6zM474.8,321.3h0.6v0.6h-0.6zM477.9,319.0h0.6v0.6h-0.6zM480.1,311.0h0.6v0.6h-0.6zM476.6,322.1h0.6v0.6h-0.6zM476.7,320.0h0.6v0.6h-0.6zM475.8,323.8h0.6v0.6h-0.6zM478.0,309.4h0.6v0.6h-0.6zM474.4,308.4h0.6v0.6h-0.6zM475.5,321.4h0.6v0.6h-0.6zM476.6,310.5h0.6v0.6h-0.6zM476.0,303.1h0.6v0.6h-0.6zM474.8,306.9h0.6v0.6h-0.6zM475.6,300.7h0.6v0.6h-0.6zM475.3,320.1h0.6v0.6h-0.6zM476.8,311.1h0.6v0.6h-0.6zM476.6,309.0h0.6v0.6h-0.6zM480.1,315.7h0.6v0.6h-0.6zM475.4,308.6h0.6v0.6h-0.6zM476.7,296.8h0.6v0.6h-0.6zM475.6,306.7h0.6v0.6h-0.6zM479.0,314.9h0.6v0.6h-0.6zM477.9,317.9h0.6v0.6h-0.6zM475.9,316.3h0.6v0.6h-0.6zM478.4,307.3h0.6v0.6h-0.6zM475.7,298.8h0.6v0.6h-0.6zM477.6,314.4h0.6v0.6h-0.6zM476.5,322.9h0.6v0.6h-0.6zM476.2,318.1h0.6v0.6h-0.6zM478.5,303.9h0.6v0.6h-0.6zM474.4,314.7h0.6v0.6h-0.6zM475.9,305.9h0.6v0.6h-0.6zM475.8,304.6h0.6v0.6h-0.6zM476.2,307.7h0.6v0.6h-0.6zM479.1,301.8h0.6v0.6h-0.6zM477.0,311.8h0.6v0.6h-0.6zM478.9,302.5h0.6v0.6h-0.6zM475.2,326.6h0.6v0.6h-0.6zM474.8,307.7h0.6v0.6h-0.6zM475.3,302.4h0.6v0.6h-0.6zM478.2,324.7h0.6v0.6h-0.6zM475.7,304.4h0.6v0.6h-0.6zM475.0,316.0h0.6v0.6h-0.6zM477.1,314.9h0.6v0.6h-0.6zM476.2,310.9h0.6v0.6h-0.6zM475.4,307.2h0.6v0.6h-0.6zM476.3,315.7h0.6v0.6h-0.6zM477.7,309.2h0.6v0.6h-0.6zM478.2,302.8h0.6v0.6h-0.6zM479.5,319.7h0.6v0.6h-0.6zM478.6,325.3h0.6v0.6h-0.6zM476.9,320.5h0.6v0.6h-0.6zM476.1,299.5h0.6v0.6h-0.6zM478.2,309.6h0.6v0.6h-0.6zM476.8,308.3h0.6v0.6h-0.6zM475.8,298.9h0.6v0.6h-0.6zM477.2,305.5h0.6v0.6h-0.6zM475.9,319.7h0.6v0.6h-0.6zM477.5,300.3h0.6v0.6h-0.6zM475.7,311.1h0.6v0.6h-0.6zM476.2,301.7h0.6v0.6h-0.6zM476.1,319.9h0.6v0.6h-0.6zM478.2,324.1h0.6v0.6h-0.6zM475.5,306.3h0.6v0.6h-0.6zM477.6,311.1h0.6v0.6h-0.6zM476.7,315.4h0.6v0.6h-0.6zM475.6,323.3h0.6v0.6h-0.6zM479.3,318.4h0.6v0.6h-0.6zM475.0,313.4h0.6v0.6h-0.6zM477.8,317.5h0.6v0.6h-0.6zM474.8,319.6h0.6v0.6h-0.6zM477.3,316.3h0.6v0.6h-0.6zM475.2,310.9h0.6v0.6h-0.6zM475.2,308.5h0.6v0.6h-0.6zM475.5,308.3h0.6v0.6h-0.6zM476.2,312.0h0.6v0.6h-0.6zM474.9,309.9h0.6v0.6h-0.6zM475.8,315.5h0.6v0.6h-0.6zM476.8,307.9h0.6v0.6h-0.6zM474.5,296.5h0.6v0.6h-0.6zM474.3,325.4h0.6v0.6h-0.6zM475.7,307.7h0.6v0.6h-0.6zM475.7,306.3h0.6v0.6h-0.6zM474.9,311.7h0.6v0.6h-0.6zM475.8,303.1h0.6v0.6h-0.6zM477.9,314.3h0.6v0.6h-0.6zM478.0,305.2h0.6v0.6h-0.6zM478.8,306.9h0.6v0.6h-0.6zM476.3,306.3h0.6v0.6h-0.6zM475.7,325.1h0.6v0.6h-0.6zM476.2,303.0h0.6v0.6h-0.6zM477.3,322.6h0.6v0.6h-0.6zM477.6,317.8h0.6v0.6h-0.6zM475.7,320.0h0.6v0.6h-0.6zM474.6,300.5h0.6v0.6h-0.6zM475.5,308.9h0.6v0.6h-0.6zM478.2,302.3h0.6v0.6h-0.6zM478.1,304.2h0.6v0.6h-0.6zM475.9,298.2h0.6v0.6h-0.6zM476.4,311.5h0.6v0.6h-0.6zM475.1,315.0h0.6v0.6h-0.6zM476.0,306.2h0.6v0.6h-0.6zM476.4,316.9h0.6v0.6h-0.6zM476.0,304.2h0.6v0.6h-0.6zM477.4,305.0h0.6v0.6h-0.6zM476.7,319.7h0.6v0.6h-0.6zM478.4,325.2h0.6v0.6h-0.6zM477.8,312.4h0.6v0.6h-0.6zM475.6,312.7h0.6v0.6h-0.6zM477.2,303.7h0.6v0.6h-0.6zM478.7,296.9h0.6v0.6h-0.6zM477.8,299.7h0.6v0.6h-0.6zM475.5,299.1h0.6v0.6h-0.6zM477.1,310.0h0.6v0.6h-0.6zM478.4,302.0h0.6v0.6h-0.6zM475.6,319.7h0.6v0.6h-0.6zM475.2,323.6h0.6v0.6h-0.6zM478.9,299.0h0.6v0.6h-0.6zM474.5,302.5h0.6v0.6h-0.6zM476.8,321.2h0.6v0.6h-0.6zM480.3,307.9h0.6v0.6h-0.6zM477.5,313.0h0.6v0.6h-0.6zM477.3,325.0h0.6v0.6h-0.6zM476.5,318.7h0.6v0.6h-0.6zM476.9,310.2h0.6v0.6h-0.6zM474.7,307.5h0.6v0.6h-0.6zM476.0,307.6h0.6v0.6h-0.6zM475.4,304.8h0.6v0.6h-0.6zM477.6,308.9h0.6v0.6h-0.6zM475.8,309.1h0.6v0.6h-0.6zM478.4,306.3h0.6v0.6h-0.6zM478.5,303.4h0.6v0.6h-0.6zM478.8,316.5h0.6v0.6h-0.6zM475.1,315.1h0.6v0.6h-0.6zM478.1,302.6h0.6v0.6h-0.6zM475.6,313.8h0.6v0.6h-0.6zM475.6,308.5h0.6v0.6h-0.6zM476.0,313.8h0.6v0.6h-0.6zM477.4,324.2h0.6v0.6h-0.6zM475.4,326.9h0.6v0.6h-0.6zM475.8,298.1h0.6v0.6h-0.6zM475.2,308.0h0.6v0.6h-0.6zM474.9,309.9h0.6v0.6h-0.6zM477.2,314.6h0.6v0.6h-0.6zM477.5,309.6h0.6v0.6h-0.6zM475.6,321.8h0.6v0.6h-0.6zM479.1,314.4h0.6v0.6h-0.6zM476.3,303.4h0.6v0.6h-0.6zM479.8,314.6h0.6v0.6h-0.6zM477.1,296.8h0.6v0.6h-0.6zM475.7,309.2h0.6v0.6h-0.6zM478.8,309.4h0.6v0.6h-0.6zM477.2,312.1h0.6v0.6h-0.6zM476.1,309.6h0.6v0.6h-0.6zM476.2,314.2h0.6v0.6h-0.6zM475.1,308.6h0.6v0.6h-0.6zM476.4,301.4h0.6v0.6h-0.6zM477.2,310.0h0.6v0.6h-0.6zM474.7,321.8h0.6v0.6h-0.6zM475.9,325.4h0.6v0.6h-0.6zM475.6,320.2h0.6v0.6h-0.6zM476.7,315.3h0.6v0.6h-0.6zM476.7,325.9h0.6v0.6h-0.6zM474.7,298.3h0.6v0.6h-0.6zM476.5,304.9h0.6v0.6h-0.6zM475.8,311.0h0.6v0.6h-0.6zM474.5,320.8h0.6v0.6h-0.6zM475.8,327.0h0.6v0.6h-0.6zM476.5,320.5h0.6v0.6h-0.6zM475.5,305.2h0.6v0.6h-0.6zM475.1,303.2h0.6v0.6h-0.6zM476.8,312.3h0.6v0.6h-0.6zM474.4,297.5h0.6v0.6h-0.6zM477.3,300.7h0.6v0.6h-0.6zM475.0,310.0h0.6v0.6h-0.6zM476.1,314.8h0.6v0.6h-0.6zM477.4,316.8h0.6v0.6h-0.6zM475.4,322.2h0.6v0.6h-0.6zM476.7,304.7h0.6v0.6h-0.6zM478.7,300.5h0.6v0.6h-0.6zM476.9,322.2h0.6v0.6h-0.6zM476.2,314.1h0.6v0.6h-0.6zM476.2,317.0h0.6v0.6h-0.6zM476.4,311.1h0.6v0.6h-0.6zM476.5,308.3h0.6v0.6h-0.6zM479.5,313.6h0.6v0.6h-0.6zM474.8,316.9h0.6v0.6h-0.6zM475.3,300.5h0.6v0.6h-0.6zM475.5,315.5h0.6v0.6h-0.6zM478.1,320.4h0.6v0.6h-0.6zM476.4,309.6h0.6v0.6h-0.6zM476.4,321.8h0.6v0.6h-0.6zM475.8,321.4h0.6v0.6h-0.6zM474.6,310.9h0.6v0.6h-0.6zM477.4,317.3h0.6v0.6h-0.6zM476.4,306.4h0.6v0.6h-0.6zM474.5,307.4h0.6v0.6h-0.6zM478.8,304.2h0.6v0.6h-0.6zM477.5,310.9h0.6v0.6h-0.6zM477.3,300.5h0.6v0.6h-0.6zM477.3,305.7h0.6v0.6h-0.6zM476.8,315.1h0.6v0.6h-0.6zM476.0,315.0h0.6v0.6h-0.6zM478.3,309.3h0.6v0.6h-0.6zM476.6,301.5h0.6v0.6h-0.6zM474.7,310.1h0.6v0.6h-0.6zM477.5,305.0h0.6v0.6h-0.6zM476.9,302.6h0.6v0.6h-0.6zM476.6,320.8h0.6v0.6h-0.6zM475.5,317.5h0.6v0.6h-0.6zM476.2,302.7h0.6v0.6h-0.6zM474.9,305.6h0.6v0.6h-0.6zM478.4,321.3h0.6v0.6h-0.6zM476.4,297.1h0.6v0.6h-0.6zM475.1,307.5h0.6v0.6h-0.6zM476.5,299.2h0.6v0.6h-0.6zM475.3,307.0h0.6v0.6h-0.6zM479.3,316.9h0.6v0.6h-0.6zM477.4,311.8h0.6v0.6h-0.6zM477.3,307.9h0.6v0.6h-0.6zM476.0,315.6h0.6v0.6h-0.6zM475.6,314.7h0.6v0.6h-0.6zM478.3,308.2h0.6v0.6h-0.6zM475.4,311.2h0.6v0.6h-0.6zM477.1,307.5h0.6v0.6h-0.6zM476.2,305.0h0.6v0.6h-0.6zM475.9,315.8h0.6v0.6h-0.6zM474.6,309.4h0.6v0.6h-0.6zM476.1,315.7h0.6v0.6h-0.6zM474.4,313.8h0.6v0.6h-0.6zM476.5,315.0h0.6v0.6h-0.6zM475.6,298.4h0.6v0.6h-0.6zM475.0,299.1h0.6v0.6h-0.6zM474.8,310.5h0.6v0.6h-0.6zM477.9,305.3h0.6v0.6h-0.6zM474.6,312.8h0.6v0.6h-0.6zM477.7,319.6h0.6v0.6h-0.6zM475.8,317.5h0.6v0.6h-0.6zM475.4,319.5h0.6v0.6h-0.6zM474.9,303.8h0.6v0.6h-0.6zM476.7,307.0h0.6v0.6h-0.6zM477.2,303.4h0.6v0.6h-0.6zM476.5,302.3h0.6v0.6h-0.6zM478.8,307.0h0.6v0.6h-0.6zM477.6,309.4h0.6v0.6h-0.6zM474.3,314.7h0.6v0.6h-0.6zM477.1,309.0h0.6v0.6h-0.6zM476.6,315.8h0.6v0.6h-0.6zM475.4,319.9h0.6v0.6h-0.6zM474.5,317.7h0.6v0.6h-0.6zM477.6,312.8h0.6v0.6h-0.6zM475.4,310.8h0.6v0.6h-0.6zM477.3,302.9h0.6v0.6h-0.6zM476.6,311.4h0.6v0.6h-0.6zM475.5,315.2h0.6v0.6h-0.6zM476.1,299.8h0.6v0.6h-0.6zM475.1,311.9h0.6v0.6h-0.6zM479.0,318.8h0.6v0.6h-0.6zM475.2,319.4h0.6v0.6h-0.6zM475.4,312.3h0.6v0.6h-0.6zM475.0,311.8h0.6v0.6h-0.6zM476.6,311.3h0.6v0.6h-0.6zM474.6,317.7h0.6v0.6h-0.6zM477.0,311.0h0.6v0.6h-0.6zM477.8,304.5h0.6v0.6h-0.6zM478.2,309.6h0.6v0.6h-0.6zM478.6,307.1h0.6v0.6h-0.6zM475.6,312.9h0.6v0.6h-0.6zM477.9,323.8h0.6v0.6h-0.6zM475.2,304.6h0.6v0.6h-0.6zM477.3,322.0h0.6v0.6h-0.6zM477.2,308.1h0.6v0.6h-0.6zM478.2,310.8h0.6v0.6h-0.6zM476.3,316.5h0.6v0.6h-0.6zM476.4,317.4h0.6v0.6h-0.6zM476.8,315.8h0.6v0.6h-0.6zM476.3,320.2h0.6v0.6h-0.6zM476.2,324.2h0.6v0.6h-0.6zM476.1,318.1h0.6v0.6h-0.6zM475.0,313.7h0.6v0.6h-0.6zM476.7,312.2h0.6v0.6h-0.6zM478.7,311.4h0.6v0.6h-0.6zM478.0,314.1h0.6v0.6h-0.6zM477.9,303.0h0.6v0.6h-0.6zM475.4,319.6h0.6v0.6h-0.6zM474.6,314.5h0.6v0.6h-0.6zM477.0,312.7h0.6v0.6h-0.6zM476.8,315.8h0.6v0.6h-0.6zM475.6,314.7h0.6v0.6h-0.6zM475.1,307.0h0.6v0.6h-0.6zM476.4,301.4h0.6v0.6h-0.6zM476.1,313.6h0.6v0.6h-0.6zM475.4,302.9h0.6v0.6h-0.6zM475.8,314.6h0.6v0.6h-0.6zM476.8,305.4h0.6v0.6h-0.6zM476.2,323.1h0.6v0.6h-0.6zM477.9,307.1h0.6v0.6h-0.6zM475.7,304.8h0.6v0.6h-0.6zM476.4,311.6h0.6v0.6h-0.6zM478.0,305.8h0.6v0.6h-0.6zM475.8,316.6h0.6v0.6h-0.6zM477.6,307.9h0.6v0.6h-0.6zM475.2,316.0h0.6v0.6h-0.6zM476.7,321.1h0.6v0.6h-0.6zM478.0,305.2h0.6v0.6h-0.6zM475.3,302.0h0.6v0.6h-0.6zM476.1,321.1h0.6v0.6h-0.6zM475.9,310.0h0.6v0.6h-0.6zM476.8,314.1h0.6v0.6h-0.6zM475.6,314.0h0.6v0.6h-0.6zM474.7,314.0h0.6v0.6h-0.6zM475.3,316.4h0.6v0.6h-0.6zM476.7,302.9h0.6v0.6h-0.6zM475.5,299.9h0.6v0.6h-0.6zM476.2,318.2h0.6v0.6h-0.6zM476.9,308.4h0.6v0.6h-0.6zM476.0,315.1h0.6v0.6h-0.6zM476.7,319.3h0.6v0.6h-0.6zM475.2,308.3h0.6v0.6h-0.6zM475.3,314.5h0.6v0.6h-0.6zM475.6,322.6h0.6v0.6h-0.6zM474.9,310.9h0.6v0.6h-0.6zM474.3,302.1h0.6v0.6h-0.6zM475.3,317.8h0.6v0.6h-0.6zM476.0,309.4h0.6v0.6h-0.6zM475.6,308.9h0.6v0.6h-0.6zM479.1,314.3h0.6v0.6h-0.6zM476.7,319.7h0.6v0.6h-0.6zM474.4,300.0h0.6v0.6h-0.6zM475.4,324.2h0.6v0.6h-0.6zM477.7,305.8h0.6v0.6h-0.6zM477.9,301.2h0.6v0.6h-0.6zM478.8,304.1h0.6v0.6h-0.6zM477.3,309.2h0.6v0.6h-0.6zM475.4,305.5h0.6v0.6h-0.6zM477.2,316.5h0.6v0.6h-0.6zM477.4,308.5h0.6v0.6h-0.6zM479.0,309.3h0.6v0.6h-0.6zM476.2,311.5h0.6v0.6h-0.6zM477.5,314.1h0.6v0.6h-0.6zM474.3,311.7h0.6v0.6h-0.6zM475.7,313.4h0.6v0.6h-0.6zM480.1,307.3h0.6v0.6h-0.6zM477.6,316.6h0.6v0.6h-0.6zM476.5,306.5h0.6v0.6h-0.6zM477.1,313.4h0.6v0.6h-0.6zM478.6,318.5h0.6v0.6h-0.6zM478.7,315.4h0.6v0.6h-0.6zM476.3,305.6h0.6v0.6h-0.6zM480.4,323.0h0.6v0.6h-0.6zM476.2,307.7h0.6v0.6h-0.6zM477.0,323.2h0.6v0.6h-0.6zM476.9,319.5h0.6v0.6h-0.6zM476.5,314.2h0.6v0.6h-0.6zM476.1,310.3h0.6v0.6h-0.6zM475.6,313.8h0.6v0.6h-0.6zM475.0,309.2h0.6v0.6h-0.6zM474.4,300.2h0.6v0.6h-0.6zM475.0,307.3h0.6v0.6h-0.6zM478.9,320.2h0.6v0.6h-0.6zM475.3,316.0h0.6v0.6h-0.6zM476.6,316.2h0.6v0.6h-0.6zM474.8,311.0h0.6v0.6h-0.6zM477.9,312.5h0.6v0.6h-0.6zM476.3,316.2h0.6v0.6h-0.6zM477.6,309.3h0.6v0.6h-0.6zM477.9,323.7h0.6v0.6h-0.6zM476.7,314.2h0.6v0.6h-0.6zM477.2,316.9h0.6v0.6h-0.6zM477.8,307.4h0.6v0.6h-0.6zM474.4,306.6h0.6v0.6h-0.6zM475.0,315.7h0.6v0.6h-0.6zM477.4,311.2h0.6v0.6h-0.6zM475.2,302.1h0.6v0.6h-0.6zM475.0,314.1h0.6v0.6h-0.6z" fill="#4c45a6" fill-opacity="0.65"/>
<path d="M479.3,325.3h0.6v0.6h-0.6zM476.6,325.9h0.6v0.6h-0.6zM485.2,328.7h0.6v0.6h-0.6zM494.4,325.4h0.6v0.6h-0.6zM481.2,326.9h0.6v0.6h-0.6zM493.2,326.2h0.6v0.6h-0.6zM486.4,326.5h0.6v0.6h-0.6zM477.2,327.1h0.6v0.6h-0.6zM493.7,326.6h0.6v0.6h-0.6zM476.7,326.5h0.6v0.6h-0.6zM486.9,327.2h0.6v0.6h-0.6zM483.8,328.3h0.6v0.6h-0.6zM498.8,328.3h0.6v0.6h-0.6zM490.3,329.2h0.6v0.6h-0.6zM487.6,326.1h0.6v0.6h-0.6zM500.0,324.4h0.6v0.6h-0.6zM495.7,323.7h0.6v0.6h-0.6zM490.9,330.5h0.6v0.6h-0.6zM488.4,324.0h0.6v0.6h-0.6zM490.8,326.2h0.6v0.6h-0.6zM495.9,325.4h0.6v0.6h-0.6zM493.8,328.7h0.6v0.6h-0.6zM490.7,326.6h0.6v0.6h-0.6zM494.8,326.1h0.6v0.6h-0.6zM483.5,327.0h0.6v0.6h-0.6zM498.8,325.4h0.6v0.6h-0.6zM492.9,325.1h0.6v0.6h-0.6zM480.7,326.9h0.6v0.6h-0.6zM474.7,324.7h0.6v0.6h-0.6zM476.1,325.2h0.6v0.6h-0.6zM494.0,326.7h0.6v0.6h-0.6zM492.3,325.1h0.6v0.6h-0.6zM498.4,325.7h0.6v0.6h-0.6zM475.0,325.1h0.6v0.6h-0.6zM495.0,325.4h0.6v0.6h-0.6zM494.8,325.3h0.6v0.6h-0.6zM485.6,325.3h0.6v0.6h-0.6zM482.5,325.1h0.6v0.6h-0.6zM502.8,326.4h0.6v0.6h-0.6zM500.4,328.9h0.6v0.6h-0.6zM486.9,326.2h0.6v0.6h-0.6zM483.2,326.8h0.6v0.6h-0.6zM492.6,326.5h0.6v0.6h-0.6zM479.8,324.4h0.6v0.6h-0.6zM504.5,330.1h0.6v0.6h-0.6zM475.6,325.1h0.6v0.6h-0.6zM487.5,327.8h0.6v0.6h-0.6zM486.8,327.0h0.6v0.6h-0.6zM491.5,329.0h0.6v0.6h-0.6zM474.9,328.9h0.6v0.6h-0.6zM492.3,327.7h0.6v0.6h-0.6zM485.3,327.9h0.6v0.6h-0.6zM494.7,328.0h0.6v0.6h-0.6zM475.0,329.2h0.6v0.6h-0.6zM488.6,328.5h0.6v0.6h-0.6zM487.8,325.0h0.6v0.6h-0.6zM495.5,325.5h0.6v0.6h-0.6zM485.7,328.9h0.6v0.6h-0.6zM492.3,330.2h0.6v0.6h-0.6zM499.8,324.2h0.6v0.6h-0.6zM493.9,326.0h0.6v0.6h-0.6zM485.0,325.3h0.6v0.6h-0.6zM505.8,326.2h0.6v0.6h-0.6zM487.0,327.3h0.6v0.6h-0.6zM484.1,326.4h0.6v0.6h-0.6zM481.0,325.7h0.6v0.6h-0.6zM491.0,329.2h0.6v0.6h-0.6zM493.3,328.7h0.6v0.6h-0.6zM478.8,327.2h0.6v0.6h-0.6zM491.8,328.5h0.6v0.6h-0.6zM481.7,326.1h0.6v0.6h-0.6zM482.8,328.9h0.6v0.6h-0.6zM498.7,325.6h0.6v0.6h-0.6zM486.5,327.0h0.6v0.6h-0.6zM478.9,326.3h0.6v0.6h-0.6zM496.5,328.2h0.6v0.6h-0.6zM481.1,325.1h0.6v0.6h-0.6zM486.7,323.4h0.6v0.6h-0.6zM490.9,326.8h0.6v0.6h-0.6zM474.5,326.0h0.6v0.6h-0.6zM481.2,325.9h0.6v0.6h-0.6zM479.1,329.4h0.6v0.6h-0.6zM478.2,328.1h0.6v0.6h-0.6zM489.9,329.6h0.6v0.6h-0.6zM487.3,326.5h0.6v0.6h-0.6zM488.5,322.5h0.6v0.6h-0.6zM484.7,324.1h0.6v0.6h-0.6zM486.5,329.9h0.6v0.6h-0.6zM480.3,327.4h0.6v0.6h-0.6zM498.1,328.5h0.6v0.6h-0.6zM483.8,322.8h0.6v0.6h-0.6zM491.9,327.7h0.6v0.6h-0.6zM484.6,325.6h0.6v0.6h-0.6zM505.3,323.2h0.6v0.6h-0.6zM482.7,325.2h0.6v0.6h-0.6zM479.9,329.1h0.6v0.6h-0.6zM490.4,323.3h0.6v0.6h-0.6zM475.8,324.5h0.6v0.6h-0.6zM486.2,327.5h0.6v0.6h-0.6zM481.4,325.9h0.6v0.6h-0.6zM494.9,326.2h0.6v0.6h-0.6zM495.1,325.3h0.6v0.6h-0.6zM492.7,329.2h0.6v0.6h-0.6zM484.6,325.8h0.6v0.6h-0.6zM486.2,327.5h0.6v0.6h-0.6zM475.8,326.6h0.6v0.6h-0.6zM482.0,329.5h0.6v0.6h-0.6zM484.7,325.0h0.6v0.6h-0.6zM489.2,326.0h0.6v0.6h-0.6zM488.2,327.0h0.6v0.6h-0.6zM499.8,325.7h0.6v0.6h-0.6zM506.0,329.1h0.6v0.6h-0.6zM503.4,326.9h0.6v0.6h-0.6zM490.6,324.4h0.6v0.6h-0.6zM501.2,324.1h0.6v0.6h-0.6zM479.9,326.5h0.6v0.6h-0.6zM490.1,327.2h0.6v0.6h-0.6zM476.2,325.8h0.6v0.6h-0.6zM492.7,329.0h0.6v0.6h-0.6zM495.4,327.4h0.6v0.6h-0.6zM485.2,325.4h0.6v0.6h-0.6zM482.7,326.3h0.6v0.6h-0.6zM493.1,325.5h0.6v0.6h-0.6zM495.9,326.1h0.6v0.6h-0.6zM486.4,325.7h0.6v0.6h-0.6zM503.1,325.9h0.6v0.6h-0.6zM493.3,326.8h0.6v0.6h-0.6zM495.3,327.8h0.6v0.6h-0.6zM504.3,325.0h0.6v0.6h-0.6zM479.6,330.1h0.6v0.6h-0.6zM500.5,326.7h0.6v0.6h-0.6zM485.0,327.1h0.6v0.6h-0.6zM500.8,324.9h0.6v0.6h-0.6zM502.3,326.4h0.6v0.6h-0.6zM484.2,325.7h0.6v0.6h-0.6zM474.7,325.4h0.6v0.6h-0.6zM478.9,327.0h0.6v0.6h-0.6zM495.0,326.6h0.6v0.6h-0.6zM489.7,327.4h0.6v0.6h-0.6zM503.8,327.7h0.6v0.6h-0.6zM503.5,326.4h0.6v0.6h-0.6zM491.3,325.2h0.6v0.6h-0.6zM493.7,324.8h0.6v0.6h-0.6zM492.5,325.2h0.6v0.6h-0.6zM484.3,329.1h0.6v0.6h-0.6zM489.3,328.2h0.6v0.6h-0.6zM485.4,322.7h0.6v0.6h-0.6zM502.5,326.2h0.6v0.6h-0.6zM481.4,328.5h0.6v0.6h-0.6zM476.5,325.0h0.6v0.6h-0.6zM499.2,325.1h0.6v0.6h-0.6zM499.1,325.9h0.6v0.6h-0.6zM485.7,326.7h0.6v0.6h-0.6zM482.8,328.8h0.6v0.6h-0.6zM498.7,326.7h0.6v0.6h-0.6zM493.9,327.7h0.6v0.6h-0.6zM504.6,323.2h0.6v0.6h-0.6zM498.0,328.4h0.6v0.6h-0.6zM484.7,326.6h0.6v0.6h-0.6zM484.4,329.1h0.6v0.6h-0.6zM476.4,327.8h0.6v0.6h-0.6zM500.6,327.7h0.6v0.6h-0.6zM483.0,325.6h0.6v0.6h-0.6zM498.7,324.6h0.6v0.6h-0.6zM479.1,328.5h0.6v0.6h-0.6zM486.7,323.6h0.6v0.6h-0.6zM480.1,325.2h0.6v0.6h-0.6zM479.4,329.1h0.6v0.6h-0.6zM477.8,327.3h0.6v0.6h-0.6zM482.0,327.8h0.6v0.6h-0.6zM492.9,329.5h0.6v0.6h-0.6zM482.8,324.6h0.6v0.6h-0.6zM497.5,326.6h0.6v0.6h-0.6zM501.1,325.1h0.6v0.6h-0.6zM482.7,324.8h0.6v0.6h-0.6zM489.4,325.4h0.6v0.6h-0.6zM496.7,324.8h0.6v0.6h-0.6zM490.6,327.0h0.6v0.6h-0.6zM482.1,325.6h0.6v0.6h-0.6zM479.8,326.2h0.6v0.6h-0.6zM483.3,327.7h0.6v0.6h-0.6zM487.9,327.7h0.6v0.6h-0.6zM504.1,326.0h0.6v0.6h-0.6zM484.9,327.3h0.6v0.6h-0.6zM504.7,329.0h0.6v0.6h-0.6zM478.0,327.4h0.6v0.6h-0.6zM501.1,326.7h0.6v0.6h-0.6zM491.4,331.0h0.6v0.6h-0.6zM478.9,330.0h0.6v0.6h-0.6zM479.6,325.6h0.6v0.6h-0.6zM487.4,328.1h0.6v0.6h-0.6zM494.7,327.6h0.6v0.6h-0.6zM480.4,330.2h0.6v0.6h-0.6zM499.8,326.6h0.6v0.6h-0.6zM482.1,326.4h0.6v0.6h-0.6zM485.6,325.1h0.6v0.6h-0.6zM487.7,325.2h0.6v0.6h-0.6zM494.3,325.2h0.6v0.6h-0.6zM492.7,327.2h0.6v0.6h-0.6zM489.5,327.6h0.6v0.6h-0.6zM480.9,328.1h0.6v0.6h-0.6zM488.1,325.6h0.6v0.6h-0.6zM505.2,328.8h0.6v0.6h-0.6zM485.1,327.7h0.6v0.6h-0.6zM494.7,329.8h0.6v0.6h-0.6zM498.0,326.2h0.6v0.6h-0.6zM485.3,324.1h0.6v0.6h-0.6zM490.5,328.3h0.6v0.6h-0.6zM484.0,327.9h0.6v0.6h-0.6zM489.2,325.6h0.6v0.6h-0.6zM475.7,328.8h0.6v0.6h-0.6zM477.1,324.4h0.6v0.6h-0.6zM490.4,327.9h0.6v0.6h-0.6zM506.4,326.9h0.6v0.6h-0.6zM489.2,327.3h0.6v0.6h-0.6zM484.3,325.9h0.6v0.6h-0.6zM498.4,322.9h0.6v0.6h-0.6zM486.7,327.7h0.6v0.6h-0.6zM503.2,327.3h0.6v0.6h-0.6zM495.0,328.0h0.6v0.6h-0.6zM490.1,327.3h0.6v0.6h-0.6zM479.8,326.1h0.6v0.6h-0.6zM506.4,324.0h0.6v0.6h-0.6zM486.2,323.9h0.6v0.6h-0.6zM482.6,324.9h0.6v0.6h-0.6zM475.6,327.0h0.6v0.6h-0.6zM478.5,327.6h0.6v0.6h-0.6zM486.2,322.2h0.6v0.6h-0.6zM486.7,327.3h0.6v0.6h-0.6zM490.0,329.1h0.6v0.6h-0.6zM489.5,322.9h0.6v0.6h-0.6zM503.0,324.6h0.6v0.6h-0.6zM487.0,327.2h0.6v0.6h-0.6zM479.1,326.7h0.6v0.6h-0.6zM502.9,323.0h0.6v0.6h-0.6zM486.2,323.9h0.6v0.6h-0.6zM491.8,323.8h0.6v0.6h-0.6zM493.7,326.4h0.6v0.6h-0.6zM489.5,323.7h0.6v0.6h-0.6zM485.7,327.5h0.6v0.6h-0.6zM497.6,330.7h0.6v0.6h-0.6zM494.5,326.4h0.6v0.6h-0.6zM477.1,325.7h0.6v0.6h-0.6zM485.4,327.5h0.6v0.6h-0.6zM476.2,326.5h0.6v0.6h-0.6zM497.8,327.4h0.6v0.6h-0.6zM501.4,327.8h0.6v0.6h-0.6zM492.6,329.7h0.6v0.6h-0.6zM483.5,325.4h0.6v0.6h-0.6zM477.8,327.0h0.6v0.6h-0.6zM492.3,328.5h0.6v0.6h-0.6zM502.5,327.8h0.6v0.6h-0.6zM500.3,326.0h0.6v0.6h-0.6zM478.3,328.1h0.6v0.6h-0.6zM498.1,329.3h0.6v0.6h-0.6zM486.3,325.5h0.6v0.6h-0.6zM484.3,327.3h0.6v0.6h-0.6zM487.5,326.1h0.6v0.6h-0.6zM490.5,325.9h0.6v0.6h-0.6zM491.3,325.3h0.6v0.6h-0.6zM506.9,324.8h0.6v0.6h-0.6zM497.1,329.4h0.6v0.6h-0.6zM482.5,327.1h0.6v0.6h-0.6zM503.4,326.9h0.6v0.6h-0.6zM480.5,326.8h0.6v0.6h-0.6zM490.8,325.7h0.6v0.6h-0.6zM484.9,324.8h0.6v0.6h-0.6zM493.7,326.9h0.6v0.6h-0.6zM491.4,325.5h0.6v0.6h-0.6zM492.9,325.9h0.6v0.6h-0.6zM491.0,326.2h0.6v0.6h-0.6zM481.3,324.2h0.6v0.6h-0.6zM485.9,324.1h0.6v0.6h-0.6zM492.2,330.9h0.6v0.6h-0.6zM500.4,324.1h0.6v0.6h-0.6zM486.9,325.2h0.6v0.6h-0.6zM495.6,323.4h0.6v0.6h-0.6zM491.1,327.0h0.6v0.6h-0.6zM493.6,327.4h0.6v0.6h-0.6zM489.5,322.8h0.6v0.6h-0.6zM484.7,324.5h0.6v0.6h-0.6zM493.3,326.0h0.6v0.6h-0.6zM489.5,328.8h0.6v0.6h-0.6zM486.9,330.1h0.6v0.6h-0.6zM496.4,323.4h0.6v0.6h-0.6zM482.1,329.1h0.6v0.6h-0.6zM483.0,329.0h0.6v0.6h-0.6zM482.4,326.3h0.6v0.6h-0.6zM498.3,323.2h0.6v0.6h-0.6zM488.8,325.6h0.6v0.6h-0.6zM489.7,330.1h0.6v0.6h-0.6zM492.9,323.6h0.6v0.6h-0.6zM497.6,325.6h0.6v0.6h-0.6zM489.6,329.0h0.6v0.6h-0.6zM484.9,328.5h0.6v0.6h-0.6zM489.8,324.6h0.6v0.6h-0.6zM484.9,323.6h0.6v0.6h-0.6zM499.8,326.9h0.6v0.6h-0.6zM497.7,324.1h0.6v0.6h-0.6zM496.5,324.0h0.6v0.6h-0.6zM490.8,326.5h0.6v0.6h-0.6zM482.1,327.2h0.6v0.6h-0.6zM488.3,324.7h0.6v0.6h-0.6zM480.6,323.7h0.6v0.6h-0.6zM501.7,326.8h0.6v0.6h-0.6zM484.4,328.0h0.6v0.6h-0.6zM479.4,324.0h0.6v0.6h-0.6zM491.6,329.9h0.6v0.6h-0.6zM491.0,326.8h0.6v0.6h-0.6zM505.5,323.2h0.6v0.6h-0.6zM487.3,323.7h0.6v0.6h-0.6zM475.8,326.0h0.6v0.6h-0.6zM481.8,327.1h0.6v0.6h-0.6zM477.8,326.0h0.6v0.6h-0.6zM485.0,325.9h0.6v0.6h-0.6zM482.9,326.3h0.6v0.6h-0.6zM482.8,324.3h0.6v0.6h-0.6zM500.6,330.8h0.6v0.6h-0.6zM496.0,324.7h0.6v0.6h-0.6zM502.2,327.6h0.6v0.6h-0.6zM479.8,327.8h0.6v0.6h-0.6zM482.2,327.7h0.6v0.6h-0.6zM497.2,329.0h0.6v0.6h-0.6zM477.5,326.2h0.6v0.6h-0.6zM488.0,323.9h0.6v0.6h-0.6zM492.2,328.0h0.6v0.6h-0.6zM476.9,323.8h0.6v0.6h-0.6zM477.3,329.4h0.6v0.6h-0.6zM481.4,325.7h0.6v0.6h-0.6zM497.9,328.7h0.6v0.6h-0.6zM502.1,322.1h0.6v0.6h-0.6zM495.6,322.8h0.6v0.6h-0.6zM481.7,325.6h0.6v0.6h-0.6zM482.3,330.7h0.6v0.6h-0.6zM486.3,329.0h0.6v0.6h-0.6zM486.2,326.4h0.6v0.6h-0.6zM493.1,327.4h0.6v0.6h-0.6zM493.0,322.8h0.6v0.6h-0.6zM493.1,327.2h0.6v0.6h-0.6zM494.0,326.4h0.6v0.6h-0.6zM492.1,323.7h0.6v0.6h-0.6zM499.3,323.9h0.6v0.6h-0.6zM502.0,328.7h0.6v0.6h-0.6zM487.4,325.9h0.6v0.6h-0.6zM495.8,325.9h0.6v0.6h-0.6zM476.1,327.1h0.6v0.6h-0.6zM475.8,325.5h0.6v0.6h-0.6zM506.0,328.2h0.6v0.6h-0.6zM483.5,326.4h0.6v0.6h-0.6zM481.5,326.5h0.6v0.6h-0.6zM488.1,325.2h0.6v0.6h-0.6zM483.6,325.5h0.6v0.6h-0.6zM482.2,325.4h0.6v0.6h-0.6zM501.1,327.9h0.6v0.6h-0.6zM492.2,327.3h0.6v0.6h-0.6zM503.1,328.0h0.6v0.6h-0.6zM490.2,327.1h0.6v0.6h-0.6zM490.0,326.5h0.6v0.6h-0.6zM493.7,326.6h0.6v0.6h-0.6zM497.8,327.2h0.6v0.6h-0.6zM485.1,327.8h0.6v0.6h-0.6zM489.9,325.6h0.6v0.6h-0.6zM484.2,325.6h0.6v0.6h-0.6zM485.0,325.5h0.6v0.6h-0.6zM486.9,328.9h0.6v0.6h-0.6zM483.3,326.2h0.6v0.6h-0.6zM480.6,323.6h0.6v0.6h-0.6zM479.5,325.4h0.6v0.6h-0.6zM489.5,325.8h0.6v0.6h-0.6zM476.0,325.7h0.6v0.6h-0.6zM503.1,324.6h0.6v0.6h-0.6zM488.7,328.7h0.6v0.6h-0.6zM479.9,325.3h0.6v0.6h-0.6zM482.7,326.8h0.6v0.6h-0.6zM489.0,326.8h0.6v0.6h-0.6zM492.7,325.9h0.6v0.6h-0.6zM489.5,323.6h0.6v0.6h-0.6zM484.8,329.7h0.6v0.6h-0.6zM490.4,325.1h0.6v0.6h-0.6zM489.4,328.7h0.6v0.6h-0.6zM481.4,325.6h0.6v0.6h-0.6zM487.1,325.3h0.6v0.6h-0.6zM489.1,326.7h0.6v0.6h-0.6zM476.3,325.2h0.6v0.6h-0.6zM475.6,327.1h0.6v0.6h-0.6zM490.6,327.9h0.6v0.6h-0.6zM479.2,325.4h0.6v0.6h-0.6zM498.8,327.5h0.6v0.6h-0.6zM494.3,327.0h0.6v0.6h-0.6zM491.7,328.5h0.6v0.6h-0.6zM500.6,330.8h0.6v0.6h-0.6zM485.3,328.3h0.6v0.6h-0.6zM496.7,327.4h0.6v0.6h-0.6zM490.7,323.8h0.6v0.6h-0.6zM498.9,324.6h0.6v0.6h-0.6zM481.5,324.7h0.6v0.6h-0.6zM493.6,324.4h0.6v0.6h-0.6zM492.6,327.7h0.6v0.6h-0.6zM489.0,325.8h0.6v0.6h-0.6zM493.9,329.3h0.6v0.6h-0.6zM483.4,324.3h0.6v0.6h-0.6zM482.0,324.6h0.6v0.6h-0.6zM485.6,326.2h0.6v0.6h-0.6zM479.9,325.6h0.6v0.6h-0.6zM477.9,327.0h0.6v0.6h-0.6zM496.5,322.6h0.6v0.6h-0.6zM490.2,329.7h0.6v0.6h-0.6zM485.2,328.5h0.6v0.6h-0.6zM491.1,324.5h0.6v0.6h-0.6zM497.9,325.2h0.6v0.6h-0.6zM491.5,325.6h0.6v0.6h-0.6zM485.8,326.8h0.6v0.6h-0.6zM501.2,322.9h0.6v0.6h-0.6zM476.9,326.7h0.6v0.6h-0.6zM497.7,326.1h0.6v0.6h-0.6zM486.1,327.6h0.6v0.6h-0.6zM503.7,324.6h0.6v0.6h-0.6zM495.6,323.7h0.6v0.6h-0.6zM499.2,328.5h0.6v0.6h-0.6zM495.9,324.7h0.6v0.6h-0.6zM475.1,327.9h0.6v0.6h-0.6zM490.6,328.0h0.6v0.6h-0.6zM499.2,328.6h0.6v0.6h-0.6zM485.2,326.5h0.6v0.6h-0.6zM492.5,328.1h0.6v0.6h-0.6zM486.1,325.4h0.6v0.6h-0.6zM478.3,328.7h0.6v0.6h-0.6zM491.4,325.3h0.6v0.6h-0.6zM475.3,325.4h0.6v0.6h-0.6zM475.2,325.5h0.6v0.6h-0.6zM482.5,327.6h0.6v0.6h-0.6zM477.9,322.6h0.6v0.6h-0.6zM482.0,323.6h0.6v0.6h-0.6zM495.4,326.1h0.6v0.6h-0.6zM487.7,326.4h0.6v0.6h-0.6zM490.9,328.6h0.6v0.6h-0.6zM498.9,326.2h0.6v0.6h-0.6zM475.0,325.7h0.6v0.6h-0.6zM494.5,324.5h0.6v0.6h-0.6zM500.6,324.5h0.6v0.6h-0.6zM476.8,328.3h0.6v0.6h-0.6zM487.0,327.2h0.6v0.6h-0.6zM485.0,326.6h0.6v0.6h-0.6zM482.2,330.5h0.6v0.6h-0.6zM494.5,326.2h0.6v0.6h-0.6zM492.7,328.3h0.6v0.6h-0.6zM482.7,326.9h0.6v0.6h-0.6zM490.0,325.3h0.6v0.6h-0.6zM480.3,326.1h0.6v0.6h-0.6zM485.0,325.6h0.6v0.6h-0.6zM494.5,326.7h0.6v0.6h-0.6zM505.1,328.3h0.6v0.6h-0.6zM484.4,325.1h0.6v0.6h-0.6zM493.0,325.7h0.6v0.6h-0.6zM485.0,326.0h0.6v0.6h-0.6zM494.1,326.9h0.6v0.6h-0.6zM487.0,327.2h0.6v0.6h-0.6zM483.6,325.4h0.6v0.6h-0.6zM505.4,323.4h0.6v0.6h-0.6zM491.5,322.8h0.6v0.6h-0.6zM491.4,322.4h0.6v0.6h-0.6zM476.4,328.9h0.6v0.6h-0.6zM503.4,326.8h0.6v0.6h-0.6zM490.4,324.1h0.6v0.6h-0.6zM484.5,323.7h0.6v0.6h-0.6zM487.1,326.3h0.6v0.6h-0.6zM489.2,328.2h0.6v0.6h-0.6zM476.3,323.8h0.6v0.6h-0.6zM484.3,325.6h0.6v0.6h-0.6zM487.6,329.4h0.6v0.6h-0.6zM488.3,324.2h0.6v0.6h-0.6zM484.9,324.6h0.6v0.6h-0.6zM485.6,327.7h0.6v0.6h-0.6zM476.7,328.0h0.6v0.6h-0.6zM505.8,329.7h0.6v0.6h-0.6zM504.2,326.7h0.6v0.6h-0.6zM474.5,330.8h0.6v0.6h-0.6zM487.5,327.0h0.6v0.6h-0.6zM484.4,324.5h0.6v0.6h-0.6zM494.2,323.5h0.6v0.6h-0.6zM474.3,327.7h0.6v0.6h-0.6zM484.3,324.7h0.6v0.6h-0.6zM492.9,329.5h0.6v0.6h-0.6zM485.2,326.2h0.6v0.6h-0.6zM493.6,328.5h0.6v0.6h-0.6zM498.3,327.9h0.6v0.6h-0.6zM481.4,327.6h0.6v0.6h-0.6zM488.1,322.9h0.6v0.6h-0.6zM500.3,327.7h0.6v0.6h-0.6zM501.6,326.4h0.6v0.6h-0.6zM495.2,326.3h0.6v0.6h-0.6zM489.6,328.4h0.6v0.6h-0.6zM488.6,327.8h0.6v0.6h-0.6zM487.6,329.1h0.6v0.6h-0.6zM494.5,323.0h0.6v0.6h-0.6zM504.5,327.4h0.6v0.6h-0.6zM482.9,325.2h0.6v0.6h-0.6zM507.8,326.7h0.6v0.6h-0.6zM493.1,327.8h0.6v0.6h-0.6zM482.0,330.2h0.6v0.6h-0.6zM499.3,323.1h0.6v0.6h-0.6zM484.7,326.6h0.6v0.6h-0.6zM488.5,327.7h0.6v0.6h-0.6zM492.0,327.3h0.6v0.6h-0.6zM486.6,327.1h0.6v0.6h-0.6zM482.5,330.7h0.6v0.6h-0.6zM488.6,329.1h0.6v0.6h-0.6zM489.0,326.2h0.6v0.6h-0.6zM486.2,323.8h0.6v0.6h-0.6zM489.3,325.5h0.6v0.6h-0.6zM500.7,325.8h0.6v0.6h-0.6zM483.4,325.4h0.6v0.6h-0.6zM503.3,327.2h0.6v0.6h-0.6zM486.6,325.1h0.6v0.6h-0.6zM500.8,327.1h0.6v0.6h-0.6zM484.7,328.4h0.6v0.6h-0.6zM496.7,324.4h0.6v0.6h-0.6zM499.4,328.8h0.6v0.6h-0.6zM485.6,323.7h0.6v0.6h-0.6zM498.9,325.8h0.6v0.6h-0.6zM486.0,325.9h0.6v0.6h-0.6zM485.3,328.3h0.6v0.6h-0.6zM477.2,327.6h0.6v0.6h-0.6zM499.5,328.7h0.6v0.6h-0.6zM495.2,327.1h0.6v0.6h-0.6zM486.1,326.3h0.6v0.6h-0.6zM479.4,330.0h0.6v0.6h-0.6zM486.9,324.4h0.6v0.6h-0.6zM496.3,329.7h0.6v0.6h-0.6zM490.8,325.8h0.6v0.6h-0.6zM477.0,327.9h0.6v0.6h-0.6zM485.6,325.1h0.6v0.6h-0.6zM494.0,323.8h0.6v0.6h-0.6zM481.9,323.5h0.6v0.6h-0.6zM485.7,328.2h0.6v0.6h-0.6zM475.2,329.4h0.6v0.6h-0.6zM481.3,325.5h0.6v0.6h-0.6zM497.9,325.0h0.6v0.6h-0.6zM502.4,326.1h0.6v0.6h-0.6zM487.1,324.5h0.6v0.6h-0.6zM499.4,326.4h0.6v0.6h-0.6zM483.3,324.5h0.6v0.6h-0.6zM481.8,326.3h0.6v0.6h-0.6zM481.0,328.2h0.6v0.6h-0.6zM487.7,325.2h0.6v0.6h-0.6zM492.6,329.5h0.6v0.6h-0.6zM498.7,326.8h0.6v0.6h-0.6zM496.2,323.3h0.6v0.6h-0.6zM480.7,328.6h0.6v0.6h-0.6zM487.2,326.6h0.6v0.6h-0.6zM494.3,327.3h0.6v0.6h-0.6zM492.5,325.5h0.6v0.6h-0.6zM485.2,329.2h0.6v0.6h-0.6zM483.3,323.5h0.6v0.6h-0.6zM484.7,328.4h0.6v0.6h-0.6zM505.7,326.8h0.6v0.6h-0.6zM482.0,327.8h0.6v0.6h-0.6zM491.1,329.0h0.6v0.6h-0.6zM493.2,328.1h0.6v0.6h-0.6zM493.1,327.4h0.6v0.6h-0.6zM479.2,326.2h0.6v0.6h-0.6zM503.8,329.3h0.6v0.6h-0.6zM497.6,327.3h0.6v0.6h-0.6zM487.1,327.2h0.6v0.6h-0.6zM484.9,328.8h0.6v0.6h-0.6zM485.1,324.9h0.6v0.6h-0.6zM480.8,324.7h0.6v0.6h-0.6zM492.1,330.3h0.6v0.6h-0.6zM494.7,325.8h0.6v0.6h-0.6zM493.7,324.8h0.6v0.6h-0.6zM485.7,326.6h0.6v0.6h-0.6zM488.3,328.1h0.6v0.6h-0.6zM493.5,330.4h0.6v0.6h-0.6zM496.3,325.9h0.6v0.6h-0.6zM490.7,324.7h0.6v0.6h-0.6zM482.3,325.8h0.6v0.6h-0.6zM498.1,325.1h0.6v0.6h-0.6zM476.5,326.1h0.6v0.6h-0.6zM485.3,324.1h0.6v0.6h-0.6zM480.5,325.6h0.6v0.6h-0.6zM492.1,327.8h0.6v0.6h-0.6zM501.1,326.0h0.6v0.6h-0.6zM494.4,326.7h0.6v0.6h-0.6zM477.6,325.2h0.6v0.6h-0.6zM504.3,328.2h0.6v0.6h-0.6zM504.5,326.1h0.6v0.6h-0.6zM497.4,325.9h0.6v0.6h-0.6zM477.5,324.1h0.6v0.6h-0.6zM492.6,323.2h0.6v0.6h-0.6zM491.9,324.7h0.6v0.6h-0.6zM491.8,323.7h0.6v0.6h-0.6zM496.6,326.0h0.6v0.6h-0.6zM489.0,323.1h0.6v0.6h-0.6zM491.5,327.5h0.6v0.6h-0.6zM482.0,329.4h0.6v0.6h-0.6zM502.4,327.2h0.6v0.6h-0.6zM492.8,327.5h0.6v0.6h-0.6zM485.8,329.2h0.6v0.6h-0.6zM488.6,327.4h0.6v0.6h-0.6zM496.4,324.2h0.6v0.6h-0.6z" fill="#4c45a6" fill-opacity="0.65"/>
<path d="M474.2,297 C476,297 477.2,300 477.6,306 L478.6,324 H474.2 Z" fill="#45409e" fill-opacity="0.8" filter="url(#b1)"/>
<path d="M474.2,325.2 C482,324.6 496,325.6 505.6,330.6 L505.6,331.4 H474.2 Z" fill="#4643a8" filter="url(#b1)"/>
<g transform="translate(488.6 329.9) rotate(1.2)" filter="url(#b1)"><ellipse cx="0.00" cy="0.00" rx="12.60" ry="1.45" fill="#3b5fc8"/><ellipse cx="0.50" cy="0.03" rx="9.32" ry="1.07" fill="#2fa5d0"/><ellipse cx="1.00" cy="0.06" rx="6.90" ry="0.79" fill="#3fc98a"/><ellipse cx="1.50" cy="0.09" rx="5.11" ry="0.59" fill="#d8e032"/></g>
<line x1="480.70" y1="290.40" x2="480.70" y2="336.70" stroke="#ed1c24" stroke-width="1.1"/>
<line x1="470.00" y1="322.60" x2="516.20" y2="322.60" stroke="#ed1c24" stroke-width="1.1"/>
<text x="470.80" y="294.80" font-size="5.9" text-anchor="start" fill="#000" stroke="#000" stroke-width="0.18">M</text>
<text x="470.80" y="334.70" font-size="6.56" text-anchor="start" fill="#000" stroke="#000" stroke-width="0.18">Gap</text>
<text x="512.00" y="334.70" font-size="6.8" text-anchor="start" fill="#000" stroke="#000" stroke-width="0.18">S</text>
<text x="486.10" y="293.30" font-size="3.87" text-anchor="start" fill="#000" stroke="#000" stroke-width="0.18">IdU+ pH3_s10+</text>
<path d="M469.9,290.4V336.7H516.4" fill="none" stroke="#000" stroke-width="1.3"/><path d="M467.9,336.7h2M467.9,321.3h2M467.9,305.8h2M467.9,290.4h2M469.9,336.7v2M485.4,336.7v2M500.9,336.7v2M516.4,336.7v2" fill="none" stroke="#000" stroke-width="0.9"/><path d="M468.7,332.1h1.2M468.7,329.3h1.2M468.7,327.4h1.2M468.7,325.9h1.2M468.7,324.7h1.2M468.7,323.6h1.2M468.7,322.8h1.2M468.7,322.0h1.2M468.7,316.6h1.2M468.7,313.9h1.2M468.7,312.0h1.2M468.7,310.5h1.2M468.7,309.2h1.2M468.7,308.1h1.2M468.7,307.4h1.2M468.7,306.6h1.2M468.7,301.2h1.2M468.7,298.4h1.2M468.7,296.6h1.2M468.7,295.0h1.2M468.7,293.8h1.2M468.7,292.7h1.2M468.7,291.9h1.2M468.7,291.2h1.2M474.5,336.7v1.2M477.3,336.7v1.2M479.2,336.7v1.2M480.8,336.7v1.2M482.0,336.7v1.2M483.1,336.7v1.2M483.8,336.7v1.2M484.6,336.7v1.2M490.0,336.7v1.2M492.8,336.7v1.2M494.7,336.7v1.2M496.2,336.7v1.2M497.5,336.7v1.2M498.6,336.7v1.2M499.3,336.7v1.2M500.1,336.7v1.2M505.5,336.7v1.2M508.3,336.7v1.2M510.2,336.7v1.2M511.8,336.7v1.2M513.0,336.7v1.2M514.1,336.7v1.2M514.9,336.7v1.2M515.6,336.7v1.2" fill="none" stroke="#000" stroke-width="0.4"/>
<text x="560.00" y="287.00" font-size="6.9" text-anchor="middle" fill="#000" stroke="#000" stroke-width="0.18">G0G1 and G2 phase</text>
<text x="528.40" y="312.40" font-size="8.3" text-anchor="middle" fill="#000" transform="rotate(-90 528.40 312.40)" stroke="#000" stroke-width="0.18">Count</text>
<text x="556.60" y="348.00" font-size="6.9" text-anchor="middle" fill="#000" stroke="#000" stroke-width="0.18">CyclinB1</text>
<text x="554.00" y="323.00" font-size="6.9" text-anchor="start" fill="#000" stroke="#000" stroke-width="0.18">G2</text>
<path d="M533.4,336 C534.2,320 534.6,296 535.6,291 C536.6,288.5 537.4,291 538,297 C539.2,310 540.2,322 542.4,326.5 C544,329.5 545.4,331 547.4,331.4 C550,331.8 552.4,330.2 555.4,330.4 C558.4,330.6 559.6,333 562,334.8 C563.6,335.8 565,336 568,336" fill="none" stroke="#000" stroke-width="1.5" stroke-linejoin="round"/>
<line x1="535.00" y1="290.00" x2="535.00" y2="336.60" stroke="#ed1c24" stroke-width="1.1"/>
<line x1="546.60" y1="290.00" x2="546.60" y2="336.60" stroke="#ed1c24" stroke-width="1.1"/>
<path d="M532,290 V336.6 H577.6" fill="none" stroke="#000" stroke-width="1.3"/>
<line x1="530.00" y1="336.60" x2="532.00" y2="336.60" stroke="#000" stroke-width="0.8"/>
<line x1="530.00" y1="332.10" x2="532.00" y2="332.10" stroke="#000" stroke-width="0.8"/>
<line x1="530.00" y1="327.60" x2="532.00" y2="327.60" stroke="#000" stroke-width="0.8"/>
<line x1="530.00" y1="323.10" x2="532.00" y2="323.10" stroke="#000" stroke-width="0.8"/>
<line x1="530.00" y1="318.60" x2="532.00" y2="318.60" stroke="#000" stroke-width="0.8"/>
<line x1="530.00" y1="314.10" x2="532.00" y2="314.10" stroke="#000" stroke-width="0.8"/>
<line x1="530.00" y1="309.60" x2="532.00" y2="309.60" stroke="#000" stroke-width="0.8"/>
<line x1="530.00" y1="305.10" x2="532.00" y2="305.10" stroke="#000" stroke-width="0.8"/>
<line x1="530.00" y1="300.60" x2="532.00" y2="300.60" stroke="#000" stroke-width="0.8"/>
<line x1="530.00" y1="296.10" x2="532.00" y2="296.10" stroke="#000" stroke-width="0.8"/>
<line x1="530.00" y1="291.60" x2="532.00" y2="291.60" stroke="#000" stroke-width="0.8"/>
<line x1="532.00" y1="336.60" x2="532.00" y2="338.60" stroke="#000" stroke-width="0.9"/>
<line x1="536.56" y1="336.60" x2="536.56" y2="337.70" stroke="#000" stroke-width="0.35"/>
<line x1="539.30" y1="336.60" x2="539.30" y2="337.70" stroke="#000" stroke-width="0.35"/>
<line x1="541.12" y1="336.60" x2="541.12" y2="337.70" stroke="#000" stroke-width="0.35"/>
<line x1="542.64" y1="336.60" x2="542.64" y2="337.70" stroke="#000" stroke-width="0.35"/>
<line x1="543.86" y1="336.60" x2="543.86" y2="337.70" stroke="#000" stroke-width="0.35"/>
<line x1="544.92" y1="336.60" x2="544.92" y2="337.70" stroke="#000" stroke-width="0.35"/>
<line x1="545.68" y1="336.60" x2="545.68" y2="337.70" stroke="#000" stroke-width="0.35"/>
<line x1="546.44" y1="336.60" x2="546.44" y2="337.70" stroke="#000" stroke-width="0.35"/>
<line x1="547.20" y1="336.60" x2="547.20" y2="338.60" stroke="#000" stroke-width="0.9"/>
<line x1="551.76" y1="336.60" x2="551.76" y2="337.70" stroke="#000" stroke-width="0.35"/>
<line x1="554.50" y1="336.60" x2="554.50" y2="337.70" stroke="#000" stroke-width="0.35"/>
<line x1="556.32" y1="336.60" x2="556.32" y2="337.70" stroke="#000" stroke-width="0.35"/>
<line x1="557.84" y1="336.60" x2="557.84" y2="337.70" stroke="#000" stroke-width="0.35"/>
<line x1="559.06" y1="336.60" x2="559.06" y2="337.70" stroke="#000" stroke-width="0.35"/>
<line x1="560.12" y1="336.60" x2="560.12" y2="337.70" stroke="#000" stroke-width="0.35"/>
<line x1="560.88" y1="336.60" x2="560.88" y2="337.70" stroke="#000" stroke-width="0.35"/>
<line x1="561.64" y1="336.60" x2="561.64" y2="337.70" stroke="#000" stroke-width="0.35"/>
<line x1="562.40" y1="336.60" x2="562.40" y2="338.60" stroke="#000" stroke-width="0.9"/>
<line x1="566.96" y1="336.60" x2="566.96" y2="337.70" stroke="#000" stroke-width="0.35"/>
<line x1="569.70" y1="336.60" x2="569.70" y2="337.70" stroke="#000" stroke-width="0.35"/>
<line x1="571.52" y1="336.60" x2="571.52" y2="337.70" stroke="#000" stroke-width="0.35"/>
<line x1="573.04" y1="336.60" x2="573.04" y2="337.70" stroke="#000" stroke-width="0.35"/>
<line x1="574.26" y1="336.60" x2="574.26" y2="337.70" stroke="#000" stroke-width="0.35"/>
<line x1="575.32" y1="336.60" x2="575.32" y2="337.70" stroke="#000" stroke-width="0.35"/>
<line x1="576.08" y1="336.60" x2="576.08" y2="337.70" stroke="#000" stroke-width="0.35"/>
<line x1="576.84" y1="336.60" x2="576.84" y2="337.70" stroke="#000" stroke-width="0.35"/>
<line x1="577.60" y1="336.60" x2="577.60" y2="338.60" stroke="#000" stroke-width="0.9"/>
<text x="599.60" y="303.40" font-size="6.9" text-anchor="middle" fill="#111" stroke="#111" stroke-width="0.18">extract</text>
<text x="599.60" y="311.50" font-size="6.9" text-anchor="middle" fill="#111" stroke="#111" stroke-width="0.18">single-cell</text>
<text x="599.60" y="319.60" font-size="6.9" text-anchor="middle" fill="#111" stroke="#111" stroke-width="0.18">data</text>
<line x1="591.40" y1="331.40" x2="606.43" y2="331.40" stroke="#000" stroke-width="1.3"/><polygon points="612.2,331.4 601.7,325.2 605.69,331.4 601.7,337.59999999999997" fill="#000"/>
<rect x="629.4" y="295.6" width="44.30000000000007" height="47.39999999999998" fill="#fff"/>
<line x1="629.40" y1="295.60" x2="629.40" y2="343.00" stroke="#7f7f7f" stroke-width="0.6"/>
<line x1="635.73" y1="295.60" x2="635.73" y2="343.00" stroke="#7f7f7f" stroke-width="0.6"/>
<line x1="642.06" y1="295.60" x2="642.06" y2="343.00" stroke="#7f7f7f" stroke-width="0.6"/>
<line x1="648.39" y1="295.60" x2="648.39" y2="343.00" stroke="#7f7f7f" stroke-width="0.6"/>
<line x1="654.71" y1="295.60" x2="654.71" y2="343.00" stroke="#7f7f7f" stroke-width="0.6"/>
<line x1="661.04" y1="295.60" x2="661.04" y2="343.00" stroke="#7f7f7f" stroke-width="0.6"/>
<line x1="667.37" y1="295.60" x2="667.37" y2="343.00" stroke="#7f7f7f" stroke-width="0.6"/>
<line x1="673.70" y1="295.60" x2="673.70" y2="343.00" stroke="#7f7f7f" stroke-width="0.6"/>
<line x1="629.40" y1="295.60" x2="673.70" y2="295.60" stroke="#7f7f7f" stroke-width="0.6"/>
<line x1="629.40" y1="303.50" x2="673.70" y2="303.50" stroke="#7f7f7f" stroke-width="0.6"/>
<line x1="629.40" y1="311.40" x2="673.70" y2="311.40" stroke="#7f7f7f" stroke-width="0.6"/>
<line x1="629.40" y1="319.30" x2="673.70" y2="319.30" stroke="#7f7f7f" stroke-width="0.6"/>
<line x1="629.40" y1="327.20" x2="673.70" y2="327.20" stroke="#7f7f7f" stroke-width="0.6"/>
<line x1="629.40" y1="335.10" x2="673.70" y2="335.10" stroke="#7f7f7f" stroke-width="0.6"/>
<line x1="629.40" y1="343.00" x2="673.70" y2="343.00" stroke="#7f7f7f" stroke-width="0.6"/>
<rect x="631.8" y="309.8" width="38.2" height="20.6" fill="#d4d4d4"/>
<text x="650.60" y="318.40" font-size="6.2" text-anchor="middle" fill="#111" stroke="#111" stroke-width="0.14">single-cell</text>
<text x="650.60" y="326.50" font-size="6.2" text-anchor="middle" fill="#111" stroke="#111" stroke-width="0.14">data matrix</text>
<text x="640.00" y="292.60" font-size="8.15" text-anchor="start" fill="#111" stroke="#111" stroke-width="0.18">parameters</text>
<text x="629.00" y="320.00" font-size="8.15" text-anchor="middle" fill="#111" transform="rotate(-90 629.00 320.00)" stroke="#111" stroke-width="0.18">cells</text>
<rect x="624.20" y="284.60" width="6.2" height="2.6" fill="#e0483e"/><g transform="translate(627.3 283.1)" fill="none" stroke="#1f3f80"><path d="M0,5 V0.4 M0.3,0.9 L-4.3,-5 M-0.3,0.9 L4.3,-5" stroke-width="1.9"/><path d="M0,4.8 V1.2 M-1.0,-0.2 L-3.9,-4.2 M1.0,-0.2 L3.9,-4.2" stroke="#8fa5cf" stroke-width="0.35"/></g>
<rect x="624.20" y="295.60" width="6.2" height="2.6" fill="#f4b731"/><g transform="translate(627.3 293.6)" fill="none" stroke="#1f3f80"><path d="M0,5 V0.4 M0.3,0.9 L-4.3,-5 M-0.3,0.9 L4.3,-5" stroke-width="1.9"/><path d="M0,4.8 V1.2 M-1.0,-0.2 L-3.9,-4.2 M1.0,-0.2 L3.9,-4.2" stroke="#8fa5cf" stroke-width="0.35"/></g>
<rect x="633.00" y="289.90" width="6.2" height="2.6" fill="#1f9e8c"/><g transform="translate(636.1 287.0)" fill="none" stroke="#1f3f80"><path d="M0,5 V0.4 M0.3,0.9 L-4.3,-5 M-0.3,0.9 L4.3,-5" stroke-width="1.9"/><path d="M0,4.8 V1.2 M-1.0,-0.2 L-3.9,-4.2 M1.0,-0.2 L3.9,-4.2" stroke="#8fa5cf" stroke-width="0.35"/></g>
<path d="M652.2,350 V375 H67 V403" fill="none" stroke="#000" stroke-width="1.2"/>
<polygon points="67,411.6 60.8,400.8 67,404.8 73.2,400.8" fill="#000"/>
</g>
<g id="panelF">
<text x="1.30" y="412.60" font-size="16.6" text-anchor="start" fill="#000" stroke="#000" stroke-width="0.14">F</text>
<text x="67.20" y="425.40" font-size="9.5" text-anchor="middle" fill="#000" stroke="#000" stroke-width="0.14">describe multi-dimensional</text>
<text x="67.20" y="436.80" font-size="9.5" text-anchor="middle" fill="#000" stroke="#000" stroke-width="0.14">cell cycle states</text>
<rect x="7" y="442" width="120.4" height="156" rx="10" ry="10" fill="#fff" stroke="#2a2a2a" stroke-width="1.3"/>
<text x="62.20" y="454.00" font-size="8.15" text-anchor="middle" fill="#111" stroke="#111" stroke-width="0.14">Multi-lineage cell lines:</text>
<text x="37.00" y="467.00" font-size="8.15" text-anchor="middle" fill="#111" stroke="#111" stroke-width="0.14">Jurkat</text>
<text x="36.60" y="479.00" font-size="8.15" text-anchor="middle" fill="#111" stroke="#111" stroke-width="0.14">HEL</text>
<text x="35.30" y="489.60" font-size="8.15" text-anchor="middle" fill="#111" stroke="#111" stroke-width="0.14">NALM6</text>
<text x="93.30" y="468.40" font-size="8.15" text-anchor="middle" fill="#111" stroke="#111" stroke-width="0.14">U937</text>
<text x="92.50" y="480.20" font-size="8.15" text-anchor="middle" fill="#111" stroke="#111" stroke-width="0.14">293T</text>
<use href="#flask" x="77.4" y="483" width="35" height="18"/>
<text x="61.30" y="515.60" font-size="8.15" text-anchor="middle" fill="#111" stroke="#111" stroke-width="0.14">Primary human T cells</text>
<g fill="#2b2b2b" transform="translate(0 522) scale(1 0.955) translate(0 -522)"><circle cx="31.7" cy="525.2" r="3.1"/><path d="M30.3,528 H33.1 L33.5,530 C36.5,530.3 38.6,531.2 39.2,534.5 L41.6,546.5 L45.4,549.6 L44.8,550.6 L40.4,548.6 L40.2,551 L39.2,547.4 L37,538.2 L36.6,546 C37.6,551 37.4,556 36.6,560 L35.2,574 L36.8,576.2 H33.2 L32.3,562 L31.7,551 L31.1,562 L30.2,576.2 H26.6 L28.2,574 L26.8,560 C26,556 25.8,551 26.8,546 L26.4,538.2 L24.2,547.4 L23.2,551 L23,548.6 L18.6,550.6 L18,549.6 L21.8,546.5 L24.2,534.5 C24.8,531.2 26.9,530.3 29.9,530 Z"/></g>
<rect x="47" y="533.4" width="5.4" height="6" rx="0.8" fill="#e8641e"/>
<path d="M47.6,539.4 H51.8 V555 A2.1,2.1 0 0 1 47.6,555 Z" fill="#9e1c20"/>
<rect x="48.2" y="540" width="1" height="13" fill="#c9484a"/>
<circle cx="60.00" cy="537.40" r="5.6" fill="#f3f0f7" stroke="#777" stroke-width="0.6"/>
<circle cx="57.60" cy="535.60" r="1.3" fill="#9a7fd0" stroke="none" stroke-width="1"/>
<circle cx="61.80" cy="535.00" r="1.1" fill="#6dbf8a" stroke="none" stroke-width="1"/>
<circle cx="62.20" cy="539.20" r="1.3" fill="#8f7fd6" stroke="none" stroke-width="1"/>
<circle cx="58.40" cy="539.80" r="1.1" fill="#6aa8de" stroke="none" stroke-width="1"/>
<circle cx="60.00" cy="537.60" r="0.8" fill="#b9a6e0" stroke="none" stroke-width="1"/>
<circle cx="65.00" cy="556.00" r="8.5" fill="#3d9b35" stroke="none" stroke-width="1"/>
<circle cx="65.40" cy="556.40" r="5.3" fill="#2a7a26" stroke="none" stroke-width="1"/>
<line x1="74.20" y1="547.40" x2="82.00" y2="547.40" stroke="#000" stroke-width="0.9"/>
<polygon points="86.2,547.4 80.6,544.6 82.4,547.4 80.6,550.2" fill="#000"/>
<use href="#flask" x="86.8" y="540.8" width="35.6" height="18"/>
<text x="47.60" y="575.00" font-size="8.15" text-anchor="start" fill="#111" stroke="#111" stroke-width="0.14">primary</text>
<text x="47.60" y="585.00" font-size="8.15" text-anchor="start" fill="#111" stroke="#111" stroke-width="0.14">human</text>
<text x="47.60" y="594.60" font-size="8.15" text-anchor="start" fill="#111" stroke="#111" stroke-width="0.14">T cells</text>
<text x="102.20" y="575.40" font-size="8.15" text-anchor="middle" fill="#111" stroke="#111" stroke-width="0.14">CD3/CD28</text>
<text x="102.50" y="585.00" font-size="8.15" text-anchor="middle" fill="#111" stroke="#111" stroke-width="0.14">bead costim</text>
<text x="15.00" y="586.00" font-size="8.15" text-anchor="start" fill="#111" stroke="#111" stroke-width="0.14">healthy</text>
<text x="15.00" y="596.00" font-size="8.15" text-anchor="start" fill="#111" stroke="#111" stroke-width="0.14">donors</text>
<line x1="135.00" y1="520.50" x2="150.62" y2="520.50" stroke="#000" stroke-width="1.3"/><polygon points="156.4,520.5 145.9,514.3 149.89000000000001,520.5 145.9,526.7" fill="#000"/>
</g>
<g id="panelG">
<text x="150.30" y="412.40" font-size="16.6" text-anchor="start" fill="#000" stroke="#000" stroke-width="0.14">G</text>
<text x="221.60" y="426.00" font-size="9.5" text-anchor="middle" fill="#000" stroke="#000" stroke-width="0.14">quantify cell cycle inhibitor</text>
<text x="222.90" y="437.60" font-size="9.5" text-anchor="middle" fill="#000" stroke="#000" stroke-width="0.14">action on cell cycle states</text>
<rect x="162.6" y="442.2" width="120.8" height="157" rx="9.5" ry="9.5" fill="#fff" stroke="#2a2a2a" stroke-width="1.3"/>
<path d="M200.61,501.93 A21.8,21.8 0 0 1 200.74,491.16 L205.35,491.14 L209.24,493.44 A13.0,13.0 0 0 0 209.16,499.86 L204.64,499.70 Z" fill="#faf5c0"/>
<path d="M225.81,518.23 A21.8,21.8 0 0 1 200.56,501.70 L204.61,499.52 L209.13,499.72 A13.0,13.0 0 0 0 224.19,509.58 L223.80,514.08 Z" fill="#f58b6b"/>
<path d="M235.64,479.95 A21.8,21.8 0 0 1 225.59,518.27 L223.62,514.10 L224.06,509.60 A13.0,13.0 0 0 0 230.05,486.75 L233.76,484.16 Z" fill="#b6367a"/>
<path d="M200.68,491.38 A21.8,21.8 0 0 1 235.81,480.10 L233.89,484.28 L230.16,486.84 A13.0,13.0 0 0 0 209.21,493.57 L205.29,491.31 Z" fill="#4f2a7f"/>
<text x="220.58" y="483.01" font-size="9.00" text-anchor="middle" fill="#fff">G<tspan font-size="4.95" dy="1.35">1</tspan></text>
<text x="213.32" y="514.83" font-size="9.00" text-anchor="middle" fill="#000">G<tspan font-size="4.95" dy="1.35">2</tspan></text>
<text x="239.42" y="504.24" font-size="9.0" text-anchor="middle" fill="#000" stroke="#000" stroke-width="0.14">S</text>
<text x="204.20" y="498.74" font-size="9.0" text-anchor="middle" fill="#000" stroke="#000" stroke-width="0.14">M</text>
<text x="195.30" y="471.80" font-size="3.0" text-anchor="middle" fill="#000" font-weight="bold" stroke="#000" stroke-width="0.14">G0 phase</text>
<text x="195.30" y="475.00" font-size="3.0" text-anchor="middle" fill="#000" font-weight="bold" stroke="#000" stroke-width="0.14">(resting)</text>
<path d="M201.6,470.4 C206,470.8 208.6,473.6 207.6,477.4" fill="none" stroke="#000" stroke-width="1.3"/>
<path d="M195.6,476.6 C196.4,480.4 198.8,482.8 203,484" fill="none" stroke="#000" stroke-width="0.45" stroke-dasharray="1 0.9"/>
<path d="M193.6,451.2 C203,449.5 209.6,452 208.4,466.6" fill="none" stroke="#000" stroke-width="1.7"/>
<line x1="203.00" y1="465.00" x2="213.00" y2="468.60" stroke="#000" stroke-width="1.7"/>
<path d="M245.8,453 C255.4,457.5 256,466 245.6,474.6" fill="none" stroke="#000" stroke-width="1.7"/>
<line x1="241.20" y1="470.60" x2="247.60" y2="479.40" stroke="#000" stroke-width="1.7"/>
<path d="M187.4,527.2 C178,518 181.5,508.6 194,507" fill="none" stroke="#000" stroke-width="1.7"/>
<line x1="191.00" y1="502.40" x2="196.60" y2="511.40" stroke="#000" stroke-width="1.7"/>
<path d="M249.4,531.2 C238,541 231.5,533 230.2,522.6" fill="none" stroke="#000" stroke-width="1.7"/>
<line x1="224.80" y1="523.40" x2="235.40" y2="521.00" stroke="#000" stroke-width="1.7"/>
<use href="#flask" x="178.6" y="546.4" width="35.4" height="18"/>
<text x="178.60" y="574.90" font-size="8.15" text-anchor="start" fill="#111" stroke="#111" stroke-width="0.14">Palbociclib</text>
<text x="178.60" y="584.90" font-size="8.15" text-anchor="start" fill="#111" stroke="#111" stroke-width="0.14">Hydroxyurea</text>
<text x="178.60" y="594.90" font-size="8.15" text-anchor="start" fill="#111" stroke="#111" stroke-width="0.14">Nocodazole</text>
<text x="237.00" y="554.40" font-size="8.15" text-anchor="start" fill="#111" stroke="#111" stroke-width="0.14">Seliciclib</text>
<text x="237.00" y="564.30" font-size="8.15" text-anchor="start" fill="#111" stroke="#111" stroke-width="0.14">Dinaciclib</text>
<text x="237.00" y="574.20" font-size="8.15" text-anchor="start" fill="#111" stroke="#111" stroke-width="0.14">LDC4297</text>
<text x="237.00" y="584.10" font-size="8.15" text-anchor="start" fill="#111" stroke="#111" stroke-width="0.14">Ro-3306</text>
<text x="237.00" y="594.00" font-size="8.15" text-anchor="start" fill="#111" stroke="#111" stroke-width="0.14">GW8510</text>
</g>
<g id="panelH">
<text x="316.60" y="412.50" font-size="16.6" text-anchor="start" fill="#000" stroke="#000" stroke-width="0.14">H</text>
<text x="386.00" y="402.80" font-size="8.15" text-anchor="middle" fill="#111" stroke="#111" stroke-width="0.14">mean abundance</text>
<rect x="355" y="406" width="57.6" height="11.4" fill="url(#hm)"/>
<text x="354.40" y="421.20" font-size="8.0" text-anchor="start" fill="#111" transform="rotate(90 354.40 421.20)" stroke="#111" stroke-width="0.14">0.00</text>
<line x1="369.40" y1="406.00" x2="369.40" y2="408.20" stroke="#fff" stroke-width="0.7"/>
<line x1="369.40" y1="415.20" x2="369.40" y2="417.40" stroke="#fff" stroke-width="0.7"/>
<text x="368.60" y="421.20" font-size="8.0" text-anchor="start" fill="#111" transform="rotate(90 368.60 421.20)" stroke="#111" stroke-width="0.14">0.25</text>
<line x1="383.80" y1="406.00" x2="383.80" y2="408.20" stroke="#fff" stroke-width="0.7"/>
<line x1="383.80" y1="415.20" x2="383.80" y2="417.40" stroke="#fff" stroke-width="0.7"/>
<text x="382.80" y="421.20" font-size="8.0" text-anchor="start" fill="#111" transform="rotate(90 382.80 421.20)" stroke="#111" stroke-width="0.14">0.50</text>
<line x1="398.20" y1="406.00" x2="398.20" y2="408.20" stroke="#fff" stroke-width="0.7"/>
<line x1="398.20" y1="415.20" x2="398.20" y2="417.40" stroke="#fff" stroke-width="0.7"/>
<text x="397.00" y="421.20" font-size="8.0" text-anchor="start" fill="#111" transform="rotate(90 397.00 421.20)" stroke="#111" stroke-width="0.14">0.75</text>
<text x="411.20" y="421.20" font-size="8.0" text-anchor="start" fill="#111" transform="rotate(90 411.20 421.20)" stroke="#111" stroke-width="0.14">1.00</text>
<rect x="360.0" y="439.2" width="54.39999999999998" height="181.8" fill="#f7fbff"/>
<rect x="360.80" y="440.10" width="13.25" height="7.88" fill="#2c4a93"/>
<rect x="374.00" y="440.10" width="13.25" height="7.88" fill="#263a80"/>
<rect x="387.20" y="440.10" width="13.25" height="7.88" fill="#5585c5"/>
<rect x="400.40" y="440.10" width="13.25" height="7.88" fill="#d9e8f5"/>
<line x1="355.60" y1="444.01" x2="360.00" y2="444.01" stroke="#222" stroke-width="1.0"/>
<text x="355.00" y="446.81" font-size="8.0" text-anchor="end" fill="#444" stroke="#444" stroke-width="0.14">H3K27me3</text>
<rect x="360.80" y="447.93" width="13.25" height="7.88" fill="#3563b0"/>
<rect x="374.00" y="447.93" width="13.25" height="7.88" fill="#29428a"/>
<rect x="387.20" y="447.93" width="13.25" height="7.88" fill="#406eb7"/>
<rect x="400.40" y="447.93" width="13.25" height="7.88" fill="#d9e8f5"/>
<line x1="355.60" y1="451.84" x2="360.00" y2="451.84" stroke="#222" stroke-width="1.0"/>
<text x="355.00" y="454.64" font-size="8.0" text-anchor="end" fill="#444" stroke="#444" stroke-width="0.14">H3K9ac</text>
<rect x="360.80" y="455.75" width="13.25" height="7.88" fill="#5f90cc"/>
<rect x="374.00" y="455.75" width="13.25" height="7.88" fill="#263a80"/>
<rect x="387.20" y="455.75" width="13.25" height="7.88" fill="#5585c5"/>
<rect x="400.40" y="455.75" width="13.25" height="7.88" fill="#dfecf7"/>
<line x1="355.60" y1="459.67" x2="360.00" y2="459.67" stroke="#222" stroke-width="1.0"/>
<text x="355.00" y="462.47" font-size="8.0" text-anchor="end" fill="#444" stroke="#444" stroke-width="0.14">CyclinE</text>
<rect x="360.80" y="463.58" width="13.25" height="7.88" fill="#90b6de"/>
<rect x="374.00" y="463.58" width="13.25" height="7.88" fill="#3563b0"/>
<rect x="387.20" y="463.58" width="13.25" height="7.88" fill="#263a80"/>
<rect x="400.40" y="463.58" width="13.25" height="7.88" fill="#d9e8f5"/>
<line x1="355.60" y1="467.49" x2="360.00" y2="467.49" stroke="#222" stroke-width="1.0"/>
<text x="355.00" y="470.29" font-size="8.0" text-anchor="end" fill="#444" stroke="#444" stroke-width="0.14">CTCF</text>
<rect x="360.80" y="471.40" width="13.25" height="7.88" fill="#f1f7fd"/>
<rect x="374.00" y="471.40" width="13.25" height="7.88" fill="#a3c3e3"/>
<rect x="387.20" y="471.40" width="13.25" height="7.88" fill="#325ba6"/>
<rect x="400.40" y="471.40" width="13.25" height="7.88" fill="#263a80"/>
<line x1="355.60" y1="475.32" x2="360.00" y2="475.32" stroke="#222" stroke-width="1.0"/>
<text x="355.00" y="478.12" font-size="8.0" text-anchor="end" fill="#444" stroke="#444" stroke-width="0.14">DNA</text>
<rect x="360.80" y="479.23" width="13.25" height="7.88" fill="#e7f1fa"/>
<rect x="374.00" y="479.23" width="13.25" height="7.88" fill="#3563b0"/>
<rect x="387.20" y="479.23" width="13.25" height="7.88" fill="#263a80"/>
<rect x="400.40" y="479.23" width="13.25" height="7.88" fill="#a3c3e3"/>
<line x1="355.60" y1="483.14" x2="360.00" y2="483.14" stroke="#222" stroke-width="1.0"/>
<text x="355.00" y="485.94" font-size="8.0" text-anchor="end" fill="#444" stroke="#444" stroke-width="0.14">Geminin</text>
<rect x="360.80" y="487.06" width="13.25" height="7.88" fill="#e7f1fa"/>
<rect x="374.00" y="487.06" width="13.25" height="7.88" fill="#b0cce8"/>
<rect x="387.20" y="487.06" width="13.25" height="7.88" fill="#263a80"/>
<rect x="400.40" y="487.06" width="13.25" height="7.88" fill="#29428a"/>
<line x1="355.60" y1="490.97" x2="360.00" y2="490.97" stroke="#222" stroke-width="1.0"/>
<text x="355.00" y="493.77" font-size="8.0" text-anchor="end" fill="#444" stroke="#444" stroke-width="0.14">CyclinB1</text>
<rect x="360.80" y="494.88" width="13.25" height="7.88" fill="#dfecf7"/>
<rect x="374.00" y="494.88" width="13.25" height="7.88" fill="#29428a"/>
<rect x="387.20" y="494.88" width="13.25" height="7.88" fill="#2f539d"/>
<rect x="400.40" y="494.88" width="13.25" height="7.88" fill="#e7f1fa"/>
<line x1="355.60" y1="498.80" x2="360.00" y2="498.80" stroke="#222" stroke-width="1.0"/>
<text x="355.00" y="501.60" font-size="8.0" text-anchor="end" fill="#444" stroke="#444" stroke-width="0.14">PCNA</text>
<rect x="360.80" y="502.71" width="13.25" height="7.88" fill="#6a9bd3"/>
<rect x="374.00" y="502.71" width="13.25" height="7.88" fill="#325ba6"/>
<rect x="387.20" y="502.71" width="13.25" height="7.88" fill="#7da8d8"/>
<rect x="400.40" y="502.71" width="13.25" height="7.88" fill="#dfecf7"/>
<line x1="355.60" y1="506.62" x2="360.00" y2="506.62" stroke="#222" stroke-width="1.0"/>
<text x="355.00" y="509.42" font-size="8.0" text-anchor="end" fill="#444" stroke="#444" stroke-width="0.14">EZH2</text>
<rect x="360.80" y="510.53" width="13.25" height="7.88" fill="#7da8d8"/>
<rect x="374.00" y="510.53" width="13.25" height="7.88" fill="#90b6de"/>
<rect x="387.20" y="510.53" width="13.25" height="7.88" fill="#263a80"/>
<rect x="400.40" y="510.53" width="13.25" height="7.88" fill="#dfecf7"/>
<line x1="355.60" y1="514.45" x2="360.00" y2="514.45" stroke="#222" stroke-width="1.0"/>
<text x="355.00" y="517.25" font-size="8.0" text-anchor="end" fill="#444" stroke="#444" stroke-width="0.14">CDC20</text>
<rect x="360.80" y="518.36" width="13.25" height="7.88" fill="#f1f7fd"/>
<rect x="374.00" y="518.36" width="13.25" height="7.88" fill="#ccdff0"/>
<rect x="387.20" y="518.36" width="13.25" height="7.88" fill="#2c4a93"/>
<rect x="400.40" y="518.36" width="13.25" height="7.88" fill="#263a80"/>
<line x1="355.60" y1="522.27" x2="360.00" y2="522.27" stroke="#222" stroke-width="1.0"/>
<text x="355.00" y="525.07" font-size="8.0" text-anchor="end" fill="#444" stroke="#444" stroke-width="0.14">PLK1</text>
<rect x="360.80" y="526.19" width="13.25" height="7.88" fill="#edf5fc"/>
<rect x="374.00" y="526.19" width="13.25" height="7.88" fill="#b0cce8"/>
<rect x="387.20" y="526.19" width="13.25" height="7.88" fill="#4a79be"/>
<rect x="400.40" y="526.19" width="13.25" height="7.88" fill="#263a80"/>
<line x1="355.60" y1="530.10" x2="360.00" y2="530.10" stroke="#222" stroke-width="1.0"/>
<text x="355.00" y="532.90" font-size="8.0" text-anchor="end" fill="#444" stroke="#444" stroke-width="0.14">pRbS780</text>
<rect x="360.80" y="534.01" width="13.25" height="7.88" fill="#e7f1fa"/>
<rect x="374.00" y="534.01" width="13.25" height="7.88" fill="#b0cce8"/>
<rect x="387.20" y="534.01" width="13.25" height="7.88" fill="#406eb7"/>
<rect x="400.40" y="534.01" width="13.25" height="7.88" fill="#2f539d"/>
<line x1="355.60" y1="537.93" x2="360.00" y2="537.93" stroke="#222" stroke-width="1.0"/>
<text x="355.00" y="540.73" font-size="8.0" text-anchor="end" fill="#444" stroke="#444" stroke-width="0.14">MLL1</text>
<rect x="360.80" y="541.84" width="13.25" height="7.88" fill="#ccdff0"/>
<rect x="374.00" y="541.84" width="13.25" height="7.88" fill="#6a9bd3"/>
<rect x="387.20" y="541.84" width="13.25" height="7.88" fill="#263a80"/>
<rect x="400.40" y="541.84" width="13.25" height="7.88" fill="#e3eef8"/>
<line x1="355.60" y1="545.75" x2="360.00" y2="545.75" stroke="#222" stroke-width="1.0"/>
<text x="355.00" y="548.55" font-size="8.0" text-anchor="end" fill="#444" stroke="#444" stroke-width="0.14">FoxM1</text>
<rect x="360.80" y="549.67" width="13.25" height="7.88" fill="#5585c5"/>
<rect x="374.00" y="549.67" width="13.25" height="7.88" fill="#263a80"/>
<rect x="387.20" y="549.67" width="13.25" height="7.88" fill="#ccdff0"/>
<rect x="400.40" y="549.67" width="13.25" height="7.88" fill="#f1f7fd"/>
<line x1="355.60" y1="553.58" x2="360.00" y2="553.58" stroke="#222" stroke-width="1.0"/>
<text x="355.00" y="556.38" font-size="8.0" text-anchor="end" fill="#444" stroke="#444" stroke-width="0.14">SLBP</text>
<rect x="360.80" y="557.49" width="13.25" height="7.88" fill="#3563b0"/>
<rect x="374.00" y="557.49" width="13.25" height="7.88" fill="#5585c5"/>
<rect x="387.20" y="557.49" width="13.25" height="7.88" fill="#bed6ec"/>
<rect x="400.40" y="557.49" width="13.25" height="7.88" fill="#f1f7fd"/>
<line x1="355.60" y1="561.40" x2="360.00" y2="561.40" stroke="#222" stroke-width="1.0"/>
<text x="355.00" y="564.20" font-size="8.0" text-anchor="end" fill="#444" stroke="#444" stroke-width="0.14">H3K18ac</text>
<rect x="360.80" y="565.32" width="13.25" height="7.88" fill="#f1f7fd"/>
<rect x="374.00" y="565.32" width="13.25" height="7.88" fill="#dfecf7"/>
<rect x="387.20" y="565.32" width="13.25" height="7.88" fill="#7da8d8"/>
<rect x="400.40" y="565.32" width="13.25" height="7.88" fill="#263a80"/>
<line x1="355.60" y1="569.23" x2="360.00" y2="569.23" stroke="#222" stroke-width="1.0"/>
<text x="355.00" y="572.03" font-size="8.0" text-anchor="end" fill="#444" stroke="#444" stroke-width="0.14">Ki67</text>
<rect x="360.80" y="573.14" width="13.25" height="7.88" fill="#ebf3fb"/>
<rect x="374.00" y="573.14" width="13.25" height="7.88" fill="#c6dbef"/>
<rect x="387.20" y="573.14" width="13.25" height="7.88" fill="#c6dbef"/>
<rect x="400.40" y="573.14" width="13.25" height="7.88" fill="#2c4a93"/>
<line x1="355.60" y1="577.06" x2="360.00" y2="577.06" stroke="#222" stroke-width="1.0"/>
<text x="355.00" y="579.86" font-size="8.0" text-anchor="end" fill="#444" stroke="#444" stroke-width="0.14">RUNX1</text>
<rect x="360.80" y="580.97" width="13.25" height="7.88" fill="#eff6fc"/>
<rect x="374.00" y="580.97" width="13.25" height="7.88" fill="#ebf3fb"/>
<rect x="387.20" y="580.97" width="13.25" height="7.88" fill="#dfecf7"/>
<rect x="400.40" y="580.97" width="13.25" height="7.88" fill="#263a80"/>
<line x1="355.60" y1="584.88" x2="360.00" y2="584.88" stroke="#222" stroke-width="1.0"/>
<text x="355.00" y="587.68" font-size="8.0" text-anchor="end" fill="#444" stroke="#444" stroke-width="0.14">WGA</text>
<rect x="360.80" y="588.80" width="13.25" height="7.88" fill="#263a80"/>
<rect x="374.00" y="588.80" width="13.25" height="7.88" fill="#eff6fc"/>
<rect x="387.20" y="588.80" width="13.25" height="7.88" fill="#e3eef8"/>
<rect x="400.40" y="588.80" width="13.25" height="7.88" fill="#e7f1fa"/>
<line x1="355.60" y1="592.71" x2="360.00" y2="592.71" stroke="#222" stroke-width="1.0"/>
<text x="355.00" y="595.51" font-size="8.0" text-anchor="end" fill="#444" stroke="#444" stroke-width="0.14">CDT1</text>
<rect x="360.80" y="596.62" width="13.25" height="7.88" fill="#f1f7fd"/>
<rect x="374.00" y="596.62" width="13.25" height="7.88" fill="#eff6fc"/>
<rect x="387.20" y="596.62" width="13.25" height="7.88" fill="#ebf3fb"/>
<rect x="400.40" y="596.62" width="13.25" height="7.88" fill="#263a80"/>
<line x1="355.60" y1="600.53" x2="360.00" y2="600.53" stroke="#222" stroke-width="1.0"/>
<text x="355.00" y="603.33" font-size="8.0" text-anchor="end" fill="#444" stroke="#444" stroke-width="0.14">HH3</text>
<rect x="360.80" y="604.45" width="13.25" height="7.88" fill="#f1f7fd"/>
<rect x="374.00" y="604.45" width="13.25" height="7.88" fill="#263a80"/>
<rect x="387.20" y="604.45" width="13.25" height="7.88" fill="#f1f7fd"/>
<rect x="400.40" y="604.45" width="13.25" height="7.88" fill="#f1f7fd"/>
<line x1="355.60" y1="608.36" x2="360.00" y2="608.36" stroke="#222" stroke-width="1.0"/>
<text x="355.00" y="611.16" font-size="8.0" text-anchor="end" fill="#444" stroke="#444" stroke-width="0.14">IdU</text>
<rect x="360.80" y="612.27" width="13.25" height="7.88" fill="#f1f7fd"/>
<rect x="374.00" y="612.27" width="13.25" height="7.88" fill="#f1f7fd"/>
<rect x="387.20" y="612.27" width="13.25" height="7.88" fill="#f1f7fd"/>
<rect x="400.40" y="612.27" width="13.25" height="7.88" fill="#263a80"/>
<line x1="355.60" y1="616.19" x2="360.00" y2="616.19" stroke="#222" stroke-width="1.0"/>
<text x="355.00" y="618.99" font-size="8.0" text-anchor="end" fill="#444" stroke="#444" stroke-width="0.14">pH3_s10</text>
<rect x="360.0" y="439.2" width="54.39999999999998" height="181.8" fill="none" stroke="#222" stroke-width="1"/>
<line x1="367.40" y1="621.00" x2="367.40" y2="624.60" stroke="#222" stroke-width="1.0"/>
<text x="363.40" y="633.00" font-size="8.0" text-anchor="middle" fill="#444" stroke="#444" stroke-width="0.14">G0G1</text>
<line x1="380.60" y1="621.00" x2="380.60" y2="624.60" stroke="#222" stroke-width="1.0"/>
<text x="380.60" y="633.00" font-size="8.0" text-anchor="middle" fill="#444" stroke="#444" stroke-width="0.14">S</text>
<line x1="393.80" y1="621.00" x2="393.80" y2="624.60" stroke="#222" stroke-width="1.0"/>
<text x="393.80" y="633.00" font-size="8.0" text-anchor="middle" fill="#444" stroke="#444" stroke-width="0.14">G2</text>
<line x1="407.00" y1="621.00" x2="407.00" y2="624.60" stroke="#222" stroke-width="1.0"/>
<text x="407.00" y="633.00" font-size="8.0" text-anchor="middle" fill="#444" stroke="#444" stroke-width="0.14">M</text>
<text x="386.60" y="644.00" font-size="8.15" text-anchor="middle" fill="#000" stroke="#000" stroke-width="0.14">gate</text>
<text x="315.60" y="529.60" font-size="8.15" text-anchor="middle" fill="#000" transform="rotate(-90 315.60 529.60)" stroke="#000" stroke-width="0.14">feature</text>
</g>
<g id="panelIJ">
<text x="456.50" y="412.50" font-size="16.6" text-anchor="start" fill="#000" stroke="#000" stroke-width="0.14">I</text>
<text x="562.20" y="405.00" font-size="8.15" text-anchor="middle" fill="#111" stroke="#111" stroke-width="0.14">cell-state graph</text>
<line x1="497.37" y1="418.73" x2="512.03" y2="422.07" stroke="#111" stroke-width="1.5"/><line x1="494.14" y1="422.39" x2="495.66" y2="426.61" stroke="#111" stroke-width="1.5"/><line x1="502.10" y1="429.43" x2="512.30" y2="425.17" stroke="#111" stroke-width="1.5"/><line x1="522.10" y1="423.20" x2="535.50" y2="423.20" stroke="#111" stroke-width="1.5"/><line x1="515.60" y1="428.10" x2="511.20" y2="443.50" stroke="#111" stroke-width="1.5"/><line x1="500.41" y1="435.52" x2="506.79" y2="444.28" stroke="#111" stroke-width="1.5"/><line x1="541.87" y1="428.14" x2="547.33" y2="449.46" stroke="#111" stroke-width="1.5"/><line x1="513.21" y1="452.19" x2="520.79" y2="460.61" stroke="#111" stroke-width="1.5"/><line x1="510.33" y1="453.47" x2="511.87" y2="468.33" stroke="#111" stroke-width="1.5"/><line x1="528.92" y1="462.47" x2="543.88" y2="456.33" stroke="#111" stroke-width="1.5"/><line x1="529.19" y1="465.44" x2="541.21" y2="467.96" stroke="#111" stroke-width="1.5"/><line x1="520.14" y1="467.49" x2="516.46" y2="470.31" stroke="#111" stroke-width="1.5"/><line x1="517.46" y1="472.74" x2="541.14" y2="469.66" stroke="#111" stroke-width="1.5"/><line x1="547.77" y1="459.43" x2="547.03" y2="463.97" stroke="#111" stroke-width="1.5"/><circle cx="492.40" cy="417.60" r="3.7" fill="#111" stroke="none" stroke-width="1"/><circle cx="517.00" cy="423.20" r="3.7" fill="#111" stroke="none" stroke-width="1"/><circle cx="540.60" cy="423.20" r="3.7" fill="#111" stroke="none" stroke-width="1"/><circle cx="497.40" cy="431.40" r="3.7" fill="#111" stroke="none" stroke-width="1"/><circle cx="509.80" cy="448.40" r="3.7" fill="#111" stroke="none" stroke-width="1"/><circle cx="548.60" cy="454.40" r="3.7" fill="#111" stroke="none" stroke-width="1"/><circle cx="524.20" cy="464.40" r="3.7" fill="#111" stroke="none" stroke-width="1"/><circle cx="546.20" cy="469.00" r="3.7" fill="#111" stroke="none" stroke-width="1"/><circle cx="512.40" cy="473.40" r="3.7" fill="#111" stroke="none" stroke-width="1"/>
<line x1="589.97" y1="415.53" x2="604.63" y2="418.87" stroke="#111" stroke-width="1.5"/><line x1="586.59" y1="419.25" x2="588.01" y2="423.55" stroke="#111" stroke-width="1.5"/><line x1="594.30" y1="426.43" x2="604.90" y2="421.97" stroke="#111" stroke-width="1.5"/><line x1="634.81" y1="425.35" x2="639.99" y2="446.45" stroke="#111" stroke-width="1.5"/><line x1="640.44" y1="456.44" x2="639.76" y2="460.96" stroke="#111" stroke-width="1.5"/><line x1="605.96" y1="449.24" x2="613.24" y2="457.56" stroke="#111" stroke-width="1.5"/><line x1="603.09" y1="450.48" x2="604.51" y2="465.32" stroke="#111" stroke-width="1.5"/><line x1="609.03" y1="467.27" x2="612.57" y2="464.53" stroke="#111" stroke-width="1.5"/><circle cx="585.00" cy="414.40" r="3.7" fill="#111" stroke="none" stroke-width="1"/><circle cx="609.60" cy="420.00" r="3.7" fill="#111" stroke="none" stroke-width="1"/><circle cx="589.60" cy="428.40" r="3.7" fill="#111" stroke="none" stroke-width="1"/><circle cx="633.60" cy="420.40" r="3.7" fill="#111" stroke="none" stroke-width="1"/><circle cx="641.20" cy="451.40" r="3.7" fill="#111" stroke="none" stroke-width="1"/><circle cx="639.00" cy="466.00" r="3.7" fill="#111" stroke="none" stroke-width="1"/><circle cx="602.60" cy="445.40" r="3.7" fill="#111" stroke="none" stroke-width="1"/><circle cx="616.60" cy="461.40" r="3.7" fill="#111" stroke="none" stroke-width="1"/><circle cx="605.00" cy="470.40" r="3.7" fill="#111" stroke="none" stroke-width="1"/>
<text x="520.80" y="490.40" font-size="8.15" text-anchor="middle" fill="#111" stroke="#111" stroke-width="0.14">high connectivity</text>
<text x="520.80" y="498.60" font-size="8.15" text-anchor="middle" fill="#111" stroke="#111" stroke-width="0.14">(high cell state similarity)</text>
<text x="520.80" y="506.80" font-size="8.15" text-anchor="middle" fill="#111" stroke="#111" stroke-width="0.14">(low cell state diversity)</text>
<text x="620.20" y="489.00" font-size="8.15" text-anchor="middle" fill="#111" stroke="#111" stroke-width="0.14">low connectivity</text>
<text x="620.20" y="497.20" font-size="8.15" text-anchor="middle" fill="#111" stroke="#111" stroke-width="0.14">(low cell state similarity)</text>
<text x="620.20" y="505.40" font-size="8.15" text-anchor="middle" fill="#111" stroke="#111" stroke-width="0.14">(high cell state diversity)</text>
<text x="456.50" y="510.20" font-size="16.6" text-anchor="start" fill="#000" stroke="#000" stroke-width="0.14">J</text>
<rect x="500.5" y="529.4" width="90.10000000000002" height="103.39999999999998" fill="#fff" stroke="#333" stroke-width="0.9"/>
<line x1="496.10" y1="632.80" x2="500.50" y2="632.80" stroke="#222" stroke-width="1.0"/>
<text x="493.50" y="635.60" font-size="8.0" text-anchor="end" fill="#444" stroke="#444" stroke-width="0.14">0.25</text>
<line x1="496.10" y1="614.95" x2="500.50" y2="614.95" stroke="#222" stroke-width="1.0"/>
<text x="493.50" y="617.75" font-size="8.0" text-anchor="end" fill="#444" stroke="#444" stroke-width="0.14">0.30</text>
<line x1="496.10" y1="597.10" x2="500.50" y2="597.10" stroke="#222" stroke-width="1.0"/>
<text x="493.50" y="599.90" font-size="8.0" text-anchor="end" fill="#444" stroke="#444" stroke-width="0.14">0.35</text>
<line x1="496.10" y1="579.25" x2="500.50" y2="579.25" stroke="#222" stroke-width="1.0"/>
<text x="493.50" y="582.05" font-size="8.0" text-anchor="end" fill="#444" stroke="#444" stroke-width="0.14">0.40</text>
<line x1="496.10" y1="561.40" x2="500.50" y2="561.40" stroke="#222" stroke-width="1.0"/>
<text x="493.50" y="564.20" font-size="8.0" text-anchor="end" fill="#444" stroke="#444" stroke-width="0.14">0.45</text>
<line x1="496.10" y1="543.55" x2="500.50" y2="543.55" stroke="#222" stroke-width="1.0"/>
<text x="493.50" y="546.35" font-size="8.0" text-anchor="end" fill="#444" stroke="#444" stroke-width="0.14">0.50</text>
<line x1="515.90" y1="632.80" x2="515.90" y2="637.00" stroke="#222" stroke-width="1.0"/>
<text x="515.90" y="646.00" font-size="8.0" text-anchor="middle" fill="#444" stroke="#444" stroke-width="0.14">5</text>
<line x1="545.70" y1="632.80" x2="545.70" y2="637.00" stroke="#222" stroke-width="1.0"/>
<text x="545.70" y="646.00" font-size="8.0" text-anchor="middle" fill="#444" stroke="#444" stroke-width="0.14">10</text>
<line x1="575.50" y1="632.80" x2="575.50" y2="637.00" stroke="#222" stroke-width="1.0"/>
<text x="575.50" y="646.00" font-size="8.0" text-anchor="middle" fill="#444" stroke="#444" stroke-width="0.14">15</text>
<text x="541.40" y="659.00" font-size="8.15" text-anchor="middle" fill="#000" stroke="#000" stroke-width="0.14"># of features</text>
<text x="460.60" y="592.50" font-size="8.15" text-anchor="middle" fill="#000" transform="rotate(-90 460.60 592.50)" stroke="#000" stroke-width="0.14">graph connectivity</text>
<text x="472.00" y="592.50" font-size="8.15" text-anchor="middle" fill="#000" transform="rotate(-90 472.00 592.50)" stroke="#000" stroke-width="0.14">(cell state similarity)</text>
<polyline points="504.0,565.7 507.0,571.3 509.9,576.4 512.9,581.2 515.9,585.5 518.9,589.5 521.9,593.2 524.8,596.6 527.8,599.7 530.8,602.6 533.8,605.3 536.8,607.7 539.7,609.9 542.7,612.0 545.7,613.9 548.7,615.6 551.7,617.2 554.6,618.7 557.6,620.1 560.6,621.3 563.6,622.4 566.6,623.5 569.5,624.5 572.5,625.4 575.5,626.2 578.5,626.9 581.5,627.6 584.4,628.3 587.4,628.9" fill="none" stroke="#D95F02" stroke-width="2.9" stroke-linejoin="round"/>
<polyline points="504.0,562.5 507.0,566.4 509.9,570.0 512.9,573.3 515.9,576.5 518.9,579.4 521.9,582.1 524.8,584.7 527.8,587.0 530.8,589.2 533.8,591.3 536.8,593.2 539.7,595.0 542.7,596.6 545.7,598.2 548.7,599.6 551.7,600.9 554.6,602.2 557.6,603.4 560.6,604.4 563.6,605.4 566.6,606.4 569.5,607.3 572.5,608.1 575.5,608.8 578.5,609.5 581.5,610.2 584.4,610.8 587.4,611.4" fill="none" stroke="#1B9E77" stroke-width="2.9" stroke-linejoin="round"/>
<polyline points="504.0,561.8 507.0,565.2 509.9,568.3 512.9,571.1 515.9,573.6 518.9,575.9 521.9,578.1 524.8,580.0 527.8,581.7 530.8,583.3 533.8,584.7 536.8,586.0 539.7,587.2 542.7,588.3 545.7,589.2 548.7,590.1 551.7,590.9 554.6,591.7 557.6,592.3 560.6,592.9 563.6,593.5 566.6,594.0 569.5,594.4 572.5,594.8 575.5,595.2 578.5,595.5 581.5,595.9 584.4,596.1 587.4,596.4" fill="none" stroke="#66A61E" stroke-width="2.9" stroke-linejoin="round"/>
<polyline points="504.0,553.3 507.0,554.5 509.9,555.7 512.9,556.9 515.9,558.1 518.9,559.3 521.9,560.4 524.8,561.6 527.8,562.7 530.8,563.9 533.8,565.0 536.8,566.1 539.7,567.2 542.7,568.3 545.7,569.4 548.7,570.5 551.7,571.6 554.6,572.7 557.6,573.7 560.6,574.8 563.6,575.8 566.6,576.9 569.5,577.9 572.5,578.9 575.5,579.9 578.5,580.9 581.5,581.9 584.4,582.9 587.4,583.9" fill="none" stroke="#7570B3" stroke-width="2.9" stroke-linejoin="round"/>
<polyline points="504.0,534.6 507.0,536.4 509.9,538.0 512.9,539.5 515.9,541.0 518.9,542.3 521.9,543.6 524.8,544.8 527.8,545.9 530.8,547.0 533.8,548.0 536.8,548.9 539.7,549.8 542.7,550.6 545.7,551.4 548.7,552.1 551.7,552.8 554.6,553.5 557.6,554.1 560.6,554.7 563.6,555.2 566.6,555.7 569.5,556.2 572.5,556.7 575.5,557.1 578.5,557.5 581.5,557.9 584.4,558.2 587.4,558.5" fill="none" stroke="#E7298A" stroke-width="2.9" stroke-linejoin="round"/>
<text x="613.50" y="522.60" font-size="8.15" text-anchor="start" fill="#000" stroke="#000" stroke-width="0.14">cell_line</text>
<line x1="615.90" y1="543.40" x2="634.80" y2="543.40" stroke="#1B9E77" stroke-width="2.9"/>
<text x="644.50" y="546.20" font-size="8.0" text-anchor="start" fill="#000" stroke="#000" stroke-width="0.14">NALM6</text>
<line x1="615.90" y1="566.95" x2="634.80" y2="566.95" stroke="#D95F02" stroke-width="2.9"/>
<text x="644.50" y="569.75" font-size="8.0" text-anchor="start" fill="#000" stroke="#000" stroke-width="0.14">U937</text>
<line x1="615.90" y1="590.50" x2="634.80" y2="590.50" stroke="#7570B3" stroke-width="2.9"/>
<text x="644.50" y="593.30" font-size="8.0" text-anchor="start" fill="#000" stroke="#000" stroke-width="0.14">HEL</text>
<line x1="615.90" y1="614.05" x2="634.80" y2="614.05" stroke="#E7298A" stroke-width="2.9"/>
<text x="644.50" y="616.85" font-size="8.0" text-anchor="start" fill="#000" stroke="#000" stroke-width="0.14">293T</text>
<line x1="615.90" y1="637.60" x2="634.80" y2="637.60" stroke="#66A61E" stroke-width="2.9"/>
<text x="644.50" y="640.40" font-size="8.0" text-anchor="start" fill="#000" stroke="#000" stroke-width="0.14">JURKAT</text>
</g>
</svg>
</body></html>
